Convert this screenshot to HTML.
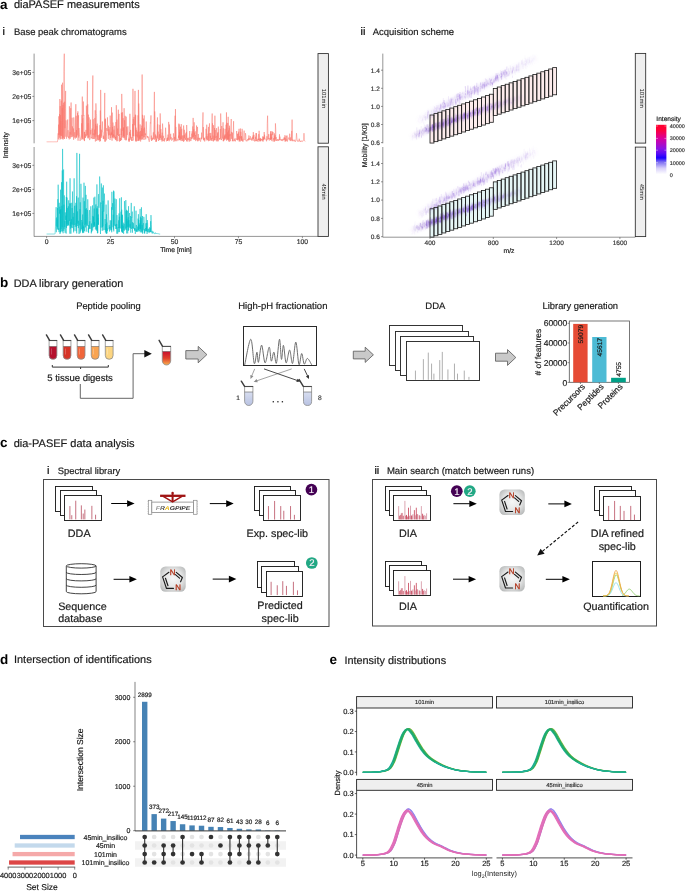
<!DOCTYPE html>
<html><head><meta charset="utf-8"><title>diaPASEF figure</title>
<style>html,body{margin:0;padding:0;background:#fff;}svg{display:block;}text{font-family:"Liberation Sans",Arial,sans-serif;text-rendering:geometricPrecision;}</style>
</head><body>
<svg width="685" height="891" viewBox="0 0 685 891">
<rect width="685" height="891" fill="#fff"/>
<text x="0" y="8.6" font-size="13.5" text-anchor="start" fill="#000" font-weight="bold">a</text>
<text x="13.9" y="8.3" font-size="11" text-anchor="start" fill="#1a1a1a" stroke="#1a1a1a" stroke-width="0.18">diaPASEF measurements</text>
<text x="2.5" y="34.7" font-size="11" text-anchor="start" fill="#000" stroke="#000" stroke-width="0.18">i</text>
<text x="13.9" y="34.6" font-size="9.45" text-anchor="start" fill="#1a1a1a" stroke="#1a1a1a" stroke-width="0.18">Base peak chromatograms</text>
<text x="360.5" y="34.6" font-size="11" text-anchor="start" fill="#000" stroke="#000" stroke-width="0.18">ii</text>
<text x="372.8" y="34.6" font-size="9.45" text-anchor="start" fill="#1a1a1a" stroke="#1a1a1a" stroke-width="0.18">Acquisition scheme</text>
<text x="0" y="287" font-size="13.5" text-anchor="start" fill="#000" font-weight="bold">b</text>
<text x="13.7" y="286.6" font-size="10.9" text-anchor="start" fill="#1a1a1a" stroke="#1a1a1a" stroke-width="0.18">DDA library generation</text>
<text x="0" y="447.2" font-size="13.5" text-anchor="start" fill="#000" font-weight="bold">c</text>
<text x="13.7" y="446.9" font-size="11" text-anchor="start" fill="#1a1a1a" stroke="#1a1a1a" stroke-width="0.18">dia-PASEF data analysis</text>
<text x="0" y="663.6" font-size="13.5" text-anchor="start" fill="#000" font-weight="bold">d</text>
<text x="14" y="663.2" font-size="10.92" text-anchor="start" fill="#1a1a1a" stroke="#1a1a1a" stroke-width="0.18">Intersection of identifications</text>
<text x="329.5" y="664.2" font-size="13.5" text-anchor="start" fill="#000" font-weight="bold">e</text>
<text x="344.4" y="663.9" font-size="10.9" text-anchor="start" fill="#1a1a1a" stroke="#1a1a1a" stroke-width="0.18">Intensity distributions</text>
<g>
<path d="M46.60,141.8 L46.94,141.8 L47.28,141.8 L47.62,141.8 L47.96,141.8 L48.30,141.8 L48.64,141.8 L48.98,141.8 L49.32,141.8 L49.66,141.8 L50.00,141.8 L50.34,141.8 L50.68,141.8 L51.02,141.8 L51.36,141.8 L51.70,141.8 L52.04,141.8 L52.38,141.8 L52.72,141.8 L53.06,141.8 L53.40,141.8 L53.74,141.8 L54.08,141.8 L54.42,141.8 L54.76,141.8 L55.10,141.8 L55.44,141.8 L55.78,141.8 L56.12,141.8 L56.46,141.8 L56.80,141.8 L57.14,141.8 L57.48,141.8 L57.82,139.3 L58.16,133.3 L58.33,139.4 L58.50,124.6 L58.67,135.1 L58.84,116.3 L59.18,127.4 L59.35,137.7 L59.52,114.0 L59.69,134.8 L59.86,99.0 L60.03,139.6 L60.20,106.1 L60.37,135.6 L60.54,115.1 L60.71,138.9 L60.88,120.9 L61.05,135.4 L61.22,100.6 L61.39,136.1 L61.56,84.7 L61.90,103.1 L62.07,139.1 L62.24,108.1 L62.41,138.5 L62.58,82.7 L62.75,137.2 L62.92,104.9 L63.09,139.6 L63.26,129.0 L63.60,102.7 L63.77,138.3 L63.94,71.4 L64.28,53.7 L64.45,139.0 L64.62,101.7 L64.96,128.2 L65.30,108.4 L65.64,90.9 L65.81,136.7 L65.98,120.3 L66.32,138.3 L66.49,138.7 L66.66,137.4 L67.00,131.8 L67.34,125.9 L67.68,119.5 L67.85,136.8 L68.02,130.2 L68.19,135.9 L68.36,137.4 L68.53,136.7 L68.70,137.3 L68.87,138.0 L69.04,136.8 L69.21,139.4 L69.38,106.3 L69.72,118.7 L69.89,137.0 L70.06,131.9 L70.23,138.7 L70.40,119.1 L70.74,108.2 L70.91,134.6 L71.08,102.5 L71.25,137.2 L71.42,136.6 L71.76,128.8 L72.10,117.7 L72.27,137.1 L72.44,126.4 L72.78,135.2 L73.12,136.0 L73.46,128.5 L73.63,139.8 L73.80,117.4 L74.14,127.3 L74.31,137.5 L74.48,134.2 L74.82,132.2 L74.99,135.6 L75.16,138.4 L75.33,138.7 L75.50,122.1 L75.84,104.2 L76.01,137.3 L76.18,115.8 L76.35,137.9 L76.52,130.0 L76.69,136.8 L76.86,133.3 L77.20,122.5 L77.54,113.1 L77.71,135.4 L77.88,111.3 L78.05,140.7 L78.22,125.1 L78.56,115.3 L78.73,137.6 L78.90,128.0 L79.24,132.5 L79.41,134.3 L79.58,136.2 L79.75,136.9 L79.92,139.5 L80.09,140.9 L80.26,140.0 L80.60,138.2 L80.94,137.2 L81.28,133.7 L81.62,123.3 L81.79,139.7 L81.96,114.9 L82.13,137.6 L82.30,96.6 L82.47,138.9 L82.64,119.2 L82.98,118.4 L83.15,139.4 L83.32,101.5 L83.66,115.9 L84.00,115.4 L84.17,140.4 L84.34,132.0 L84.51,141.1 L84.68,131.8 L85.02,137.2 L85.36,134.3 L85.53,138.0 L85.70,135.9 L86.04,129.9 L86.21,135.5 L86.38,105.7 L86.72,124.2 L86.89,136.4 L87.06,106.3 L87.40,81.1 L87.57,135.0 L87.74,104.3 L87.91,138.2 L88.08,123.2 L88.25,138.4 L88.42,114.6 L88.76,126.0 L88.93,137.1 L89.10,117.4 L89.44,131.2 L89.61,140.1 L89.78,139.6 L90.12,135.7 L90.46,119.6 L90.63,134.4 L90.80,130.0 L90.97,138.4 L91.14,137.8 L91.31,137.8 L91.48,137.1 L91.82,137.7 L92.16,128.5 L92.33,139.1 L92.50,98.9 L92.84,75.5 L93.01,135.1 L93.18,119.2 L93.52,126.8 L93.69,139.0 L93.86,133.4 L94.03,136.4 L94.20,138.6 L94.37,139.0 L94.54,129.6 L94.71,135.4 L94.88,117.9 L95.05,137.4 L95.22,110.3 L95.39,141.5 L95.56,124.1 L95.73,134.4 L95.90,103.4 L96.24,113.4 L96.58,115.5 L96.75,141.0 L96.92,125.7 L97.09,136.6 L97.26,123.6 L97.43,139.8 L97.60,135.3 L97.94,137.7 L98.28,139.1 L98.45,140.2 L98.62,135.3 L98.79,137.7 L98.96,138.4 L99.13,140.3 L99.30,134.7 L99.47,139.6 L99.64,134.4 L99.81,141.7 L99.98,125.2 L100.15,137.4 L100.32,110.5 L100.49,141.0 L100.66,89.9 L101.00,119.6 L101.17,138.0 L101.34,129.7 L101.51,135.2 L101.68,136.5 L102.02,130.7 L102.36,121.5 L102.70,132.1 L103.04,132.2 L103.21,138.7 L103.38,135.7 L103.55,138.3 L103.72,137.7 L103.89,139.2 L104.06,137.9 L104.23,138.1 L104.40,126.5 L104.74,92.9 L104.91,141.6 L105.08,119.3 L105.25,141.6 L105.42,118.6 L105.76,131.4 L106.10,133.8 L106.27,140.4 L106.44,136.7 L106.78,128.1 L107.12,131.0 L107.46,117.4 L107.80,132.2 L108.14,134.6 L108.31,138.9 L108.48,125.7 L108.65,135.4 L108.82,129.3 L109.16,135.2 L109.50,134.8 L109.84,127.1 L110.01,140.0 L110.18,115.6 L110.52,124.5 L110.69,138.1 L110.86,133.6 L111.03,135.6 L111.20,131.7 L111.37,134.6 L111.54,107.2 L111.71,134.6 L111.88,132.8 L112.05,140.7 L112.22,112.6 L112.39,137.2 L112.56,127.0 L112.73,137.7 L112.90,122.5 L113.24,130.3 L113.41,136.3 L113.58,134.3 L113.75,137.6 L113.92,129.7 L114.09,138.5 L114.26,125.8 L114.60,136.8 L114.94,135.5 L115.11,138.6 L115.28,136.8 L115.45,139.9 L115.62,137.1 L115.79,138.3 L115.96,122.0 L116.13,140.2 L116.30,105.2 L116.64,129.5 L116.81,141.3 L116.98,119.6 L117.32,132.0 L117.49,135.0 L117.66,128.5 L117.83,141.1 L118.00,120.5 L118.34,109.7 L118.51,136.0 L118.68,117.9 L119.02,113.9 L119.36,124.2 L119.53,141.6 L119.70,134.2 L120.04,138.1 L120.21,140.9 L120.38,137.9 L120.55,141.0 L120.72,140.8 L121.06,128.6 L121.23,135.1 L121.40,112.7 L121.57,140.0 L121.74,93.9 L122.08,111.7 L122.25,137.3 L122.42,112.3 L122.76,130.8 L123.10,118.2 L123.27,137.9 L123.44,128.0 L123.61,136.0 L123.78,127.1 L123.95,136.8 L124.12,108.2 L124.29,138.3 L124.46,120.2 L124.80,127.9 L124.97,139.9 L125.14,115.8 L125.48,125.1 L125.82,128.4 L125.99,140.5 L126.16,116.7 L126.33,139.8 L126.50,126.8 L126.84,127.7 L127.18,135.1 L127.52,132.2 L127.86,126.3 L128.20,136.5 L128.37,137.5 L128.54,137.5 L128.71,141.5 L128.88,138.7 L129.05,140.3 L129.22,138.6 L129.39,141.6 L129.56,131.9 L129.73,135.2 L129.90,113.8 L130.07,139.6 L130.24,133.8 L130.41,137.8 L130.58,129.9 L130.92,138.3 L131.09,139.7 L131.26,137.1 L131.43,137.6 L131.60,140.8 L131.94,139.4 L132.11,141.0 L132.28,136.7 L132.45,137.5 L132.62,124.0 L132.79,136.1 L132.96,88.8 L133.13,140.5 L133.30,118.9 L133.47,136.2 L133.64,128.0 L133.98,116.9 L134.32,125.3 L134.66,119.3 L135.00,90.9 L135.17,136.4 L135.34,114.6 L135.51,140.7 L135.68,115.2 L135.85,141.6 L136.02,127.6 L136.36,136.3 L136.53,141.3 L136.70,129.9 L136.87,136.3 L137.04,134.5 L137.38,137.4 L137.72,131.6 L137.89,141.1 L138.06,115.3 L138.23,140.6 L138.40,89.9 L138.57,140.5 L138.74,103.5 L139.08,121.6 L139.25,140.7 L139.42,135.3 L139.59,139.4 L139.76,131.7 L139.93,138.2 L140.10,124.4 L140.27,139.3 L140.44,130.9 L140.61,141.5 L140.78,136.3 L141.12,134.3 L141.29,139.7 L141.46,128.1 L141.63,136.2 L141.80,125.6 L141.97,139.3 L142.14,74.5 L142.31,135.9 L142.48,114.8 L142.65,139.4 L142.82,136.3 L143.16,128.6 L143.33,137.4 L143.50,118.6 L143.84,126.6 L144.01,140.0 L144.18,115.4 L144.35,137.2 L144.52,127.6 L144.86,132.3 L145.20,135.0 L145.54,133.5 L145.71,139.4 L145.88,132.1 L146.22,121.5 L146.56,129.4 L146.73,135.8 L146.90,137.4 L147.24,137.1 L147.58,136.0 L147.75,138.1 L147.92,138.0 L148.26,136.7 L148.60,139.3 L148.77,138.9 L148.94,141.0 L149.28,141.8 L149.62,139.2 L149.96,132.3 L150.30,122.6 L150.64,123.3 L150.98,115.4 L151.15,139.4 L151.32,135.6 L151.49,141.0 L151.66,139.1 L152.00,138.6 L152.17,139.3 L152.34,137.7 L152.51,140.2 L152.68,139.7 L153.02,137.1 L153.36,132.3 L153.53,139.2 L153.70,130.7 L154.04,120.5 L154.38,91.9 L154.55,139.7 L154.72,111.4 L155.06,124.7 L155.23,137.0 L155.40,134.5 L155.57,138.7 L155.74,136.8 L155.91,141.8 L156.08,135.7 L156.25,141.8 L156.42,139.0 L156.59,140.8 L156.76,137.1 L157.10,131.0 L157.44,117.4 L157.61,137.9 L157.78,124.3 L157.95,139.2 L158.12,131.6 L158.46,141.0 L158.80,138.1 L159.14,137.6 L159.48,134.3 L159.65,140.1 L159.82,124.8 L159.99,140.1 L160.16,113.4 L160.50,124.0 L160.67,138.2 L160.84,129.1 L161.01,137.7 L161.18,135.5 L161.52,139.3 L161.69,139.8 L161.86,137.8 L162.03,141.6 L162.20,132.6 L162.37,140.8 L162.54,123.6 L162.88,129.2 L163.05,138.3 L163.22,135.8 L163.56,141.1 L163.90,139.9 L164.24,139.3 L164.41,141.5 L164.58,138.1 L164.75,139.7 L164.92,139.7 L165.26,137.8 L165.60,127.7 L165.94,134.4 L166.11,137.5 L166.28,138.0 L166.45,141.3 L166.62,140.5 L166.96,139.5 L167.30,138.1 L167.47,140.8 L167.64,137.5 L167.81,141.0 L167.98,134.6 L168.15,139.2 L168.32,139.3 L168.49,139.8 L168.66,121.9 L169.00,129.0 L169.17,141.2 L169.34,124.5 L169.68,133.7 L170.02,139.8 L170.36,137.3 L170.70,133.8 L170.87,139.1 L171.04,136.9 L171.38,139.6 L171.72,140.7 L172.06,138.6 L172.40,138.6 L172.74,139.7 L173.08,138.1 L173.25,138.3 L173.42,133.3 L173.76,137.1 L173.93,141.8 L174.10,140.4 L174.44,136.9 L174.61,140.6 L174.78,127.2 L175.12,115.7 L175.29,139.5 L175.46,109.1 L175.63,141.2 L175.80,126.9 L176.14,136.7 L176.48,139.5 L176.82,141.2 L177.16,139.7 L177.50,138.9 L177.84,139.4 L178.01,140.3 L178.18,140.5 L178.52,135.6 L178.69,138.2 L178.86,123.6 L179.03,137.7 L179.20,124.4 L179.37,140.0 L179.54,132.1 L179.71,140.2 L179.88,129.6 L180.22,135.6 L180.39,140.0 L180.56,126.7 L180.73,138.8 L180.90,136.6 L181.07,141.1 L181.24,124.1 L181.41,139.2 L181.58,129.3 L181.92,128.8 L182.09,140.5 L182.26,135.5 L182.43,137.9 L182.60,140.9 L182.94,140.0 L183.28,135.4 L183.45,141.8 L183.62,125.5 L183.96,134.7 L184.13,141.2 L184.30,129.8 L184.47,138.0 L184.64,134.8 L184.98,139.2 L185.15,139.5 L185.32,137.9 L185.49,139.9 L185.66,133.4 L186.00,135.9 L186.17,137.8 L186.34,131.8 L186.51,141.2 L186.68,125.0 L187.02,135.9 L187.19,141.6 L187.36,137.9 L187.70,140.2 L188.04,139.1 L188.21,138.6 L188.38,137.8 L188.72,140.1 L189.06,139.4 L189.23,141.7 L189.40,136.0 L189.74,131.0 L189.91,140.5 L190.08,137.0 L190.42,139.9 L190.76,141.0 L191.10,140.9 L191.44,137.6 L191.61,139.1 L191.78,133.6 L191.95,138.0 L192.12,131.3 L192.46,137.3 L192.80,126.4 L192.97,138.8 L193.14,117.9 L193.48,136.9 L193.82,129.2 L193.99,139.7 L194.16,122.3 L194.33,139.6 L194.50,132.7 L194.84,135.6 L195.18,131.3 L195.35,139.5 L195.52,135.0 L195.69,141.1 L195.86,139.2 L196.20,137.2 L196.54,125.5 L196.71,140.1 L196.88,132.6 L197.22,131.0 L197.56,126.9 L197.73,141.3 L197.90,137.5 L198.07,141.1 L198.24,134.0 L198.58,137.8 L198.75,139.2 L198.92,138.3 L199.09,140.3 L199.26,140.3 L199.60,137.9 L199.77,137.9 L199.94,139.1 L200.28,141.0 L200.62,141.6 L200.96,138.6 L201.13,139.0 L201.30,137.3 L201.47,139.3 L201.64,132.6 L201.98,137.6 L202.32,134.5 L202.66,122.1 L203.00,112.4 L203.17,139.2 L203.34,127.1 L203.51,140.2 L203.68,139.3 L203.85,139.6 L204.02,137.5 L204.19,140.4 L204.36,138.0 L204.70,141.5 L205.04,140.0 L205.38,138.9 L205.72,135.6 L206.06,128.8 L206.40,133.2 L206.57,139.2 L206.74,124.7 L206.91,140.5 L207.08,136.2 L207.25,138.6 L207.42,139.9 L207.76,137.4 L208.10,133.6 L208.27,140.3 L208.44,126.9 L208.61,141.2 L208.78,131.8 L209.12,130.9 L209.46,123.4 L209.63,140.8 L209.80,133.1 L210.14,137.8 L210.31,138.3 L210.48,135.9 L210.65,139.9 L210.82,132.9 L210.99,140.6 L211.16,139.6 L211.50,138.0 L211.67,140.7 L211.84,128.8 L212.18,113.5 L212.35,139.2 L212.52,123.3 L212.86,131.5 L213.03,141.0 L213.20,135.6 L213.37,141.5 L213.54,125.2 L213.88,129.1 L214.22,135.8 L214.39,140.0 L214.56,128.0 L214.73,140.5 L214.90,115.7 L215.07,140.1 L215.24,129.9 L215.41,137.9 L215.58,138.0 L215.75,138.1 L215.92,137.6 L216.26,135.9 L216.43,141.3 L216.60,128.1 L216.94,137.7 L217.11,139.6 L217.28,140.0 L217.62,133.2 L217.79,141.4 L217.96,132.0 L218.13,141.2 L218.30,126.6 L218.64,137.7 L218.81,138.2 L218.98,138.5 L219.32,139.5 L219.66,138.0 L220.00,139.6 L220.34,129.0 L220.51,138.7 L220.68,113.5 L221.02,127.0 L221.19,139.7 L221.36,139.2 L221.53,140.1 L221.70,126.0 L222.04,131.4 L222.38,134.2 L222.55,138.6 L222.72,135.0 L223.06,122.3 L223.23,141.2 L223.40,128.3 L223.57,141.2 L223.74,137.5 L224.08,139.2 L224.25,140.3 L224.42,135.8 L224.59,139.5 L224.76,134.6 L224.93,138.7 L225.10,128.8 L225.27,138.4 L225.44,135.5 L225.78,134.4 L225.95,139.6 L226.12,124.7 L226.29,138.3 L226.46,112.4 L226.63,140.7 L226.80,122.7 L227.14,132.7 L227.31,139.2 L227.48,132.2 L227.65,139.7 L227.82,123.0 L227.99,140.0 L228.16,116.8 L228.33,139.1 L228.50,130.4 L228.67,141.3 L228.84,134.5 L229.01,139.7 L229.18,127.9 L229.35,141.8 L229.52,125.7 L229.86,136.3 L230.20,133.9 L230.37,141.2 L230.54,138.1 L230.88,130.3 L231.22,119.0 L231.39,138.9 L231.56,131.9 L231.90,136.2 L232.24,137.7 L232.41,141.3 L232.58,132.6 L232.75,140.9 L232.92,135.2 L233.26,132.3 L233.60,121.2 L233.77,141.3 L233.94,139.8 L234.28,139.9 L234.62,138.6 L234.79,140.9 L234.96,140.2 L235.30,141.4 L235.64,140.0 L235.98,138.3 L236.32,139.9 L236.66,131.0 L237.00,135.5 L237.34,137.5 L237.51,140.1 L237.68,134.0 L237.85,140.4 L238.02,133.4 L238.19,139.2 L238.36,135.4 L238.70,131.7 L238.87,139.7 L239.04,128.8 L239.21,141.6 L239.38,135.9 L239.55,140.5 L239.72,140.7 L240.06,137.3 L240.23,141.5 L240.40,128.5 L240.57,138.3 L240.74,131.8 L241.08,131.8 L241.25,140.6 L241.42,136.0 L241.59,140.7 L241.76,136.7 L241.93,139.6 L242.10,128.8 L242.44,132.8 L242.61,141.2 L242.78,139.2 L242.95,141.7 L243.12,140.1 L243.46,139.8 L243.80,137.1 L244.14,130.6 L244.31,139.2 L244.48,139.6 L244.82,140.0 L245.16,140.1 L245.50,133.2 L245.84,135.8 L246.01,141.1 L246.18,140.8 L246.52,140.6 L246.86,141.4 L247.20,140.3 L247.54,139.3 L247.71,139.2 L247.88,140.6 L248.22,138.7 L248.56,138.4 L248.73,140.2 L248.90,135.4 L249.07,140.1 L249.24,138.3 L249.58,138.5 L249.75,138.9 L249.92,139.4 L250.26,136.2 L250.60,137.8 L250.94,140.0 L251.28,138.4 L251.62,140.6 L251.96,140.2 L252.30,137.2 L252.47,138.4 L252.64,139.4 L252.81,139.3 L252.98,135.5 L253.15,140.8 L253.32,132.1 L253.49,138.9 L253.66,136.6 L254.00,134.8 L254.17,138.7 L254.34,139.2 L254.68,139.4 L254.85,141.6 L255.02,139.5 L255.19,140.9 L255.36,136.7 L255.53,138.6 L255.70,138.4 L255.87,139.0 L256.04,133.1 L256.21,141.0 L256.38,133.2 L256.72,135.9 L256.89,141.0 L257.06,139.5 L257.23,141.6 L257.40,140.4 L257.74,139.9 L258.08,138.6 L258.25,140.0 L258.42,139.4 L258.59,140.0 L258.76,134.1 L258.93,141.7 L259.10,130.8 L259.44,137.9 L259.61,140.2 L259.78,138.7 L259.95,140.9 L260.12,139.5 L260.29,140.9 L260.46,137.9 L260.63,141.4 L260.80,139.9 L261.14,138.9 L261.31,140.2 L261.48,139.3 L261.65,138.9 L261.82,139.9 L262.16,140.8 L262.50,139.5 L262.67,140.4 L262.84,136.4 L263.01,141.7 L263.18,136.6 L263.35,139.2 L263.52,138.4 L263.69,140.2 L263.86,137.1 L264.03,139.4 L264.20,132.0 L264.37,139.2 L264.54,134.7 L264.88,138.3 L265.22,138.7 L265.56,138.9 L265.90,139.0 L266.07,140.1 L266.24,139.9 L266.58,141.3 L266.92,136.3 L267.09,140.1 L267.26,123.5 L267.60,115.7 L267.94,135.8 L268.11,139.4 L268.28,137.1 L268.62,134.2 L268.79,138.9 L268.96,138.1 L269.13,140.3 L269.30,139.8 L269.64,140.3 L269.98,137.9 L270.15,138.8 L270.32,133.9 L270.49,140.0 L270.66,131.5 L270.83,139.4 L271.00,131.0 L271.17,139.5 L271.34,133.8 L271.51,139.1 L271.68,136.9 L271.85,141.1 L272.02,135.1 L272.36,131.5 L272.70,135.1 L273.04,132.1 L273.21,141.6 L273.38,138.3 L273.72,139.6 L274.06,138.6 L274.23,138.9 L274.40,133.4 L274.57,141.7 L274.74,136.4 L274.91,140.8 L275.08,134.9 L275.25,139.1 L275.42,123.4 L275.76,129.2 L275.93,140.5 L276.10,137.1 L276.27,139.8 L276.44,141.0 L276.78,140.3 L277.12,139.7 L277.46,139.1 L277.63,140.8 L277.80,140.7 L278.14,139.7 L278.48,140.6 L278.82,139.3 L278.99,140.4 L279.16,140.0 L279.50,134.3 L279.67,140.1 L279.84,136.6 L280.18,138.9 L280.52,140.0 L280.86,140.4 L281.20,139.1 L281.54,140.9 L281.88,140.5 L282.22,139.1 L282.56,139.0 L282.73,141.1 L282.90,140.6 L283.24,139.9 L283.58,139.4 L283.75,140.0 L283.92,137.6 L284.26,140.1 L284.60,137.5 L284.77,139.0 L284.94,135.2 L285.11,141.7 L285.28,138.3 L285.45,141.2 L285.62,138.7 L285.96,135.9 L286.30,136.2 L286.47,141.2 L286.64,139.3 L286.81,139.7 L286.98,135.4 L287.32,138.0 L287.49,141.5 L287.66,140.3 L288.00,139.7 L288.34,139.1 L288.68,137.6 L289.02,137.9 L289.36,139.4 L289.53,139.8 L289.70,133.7 L290.04,138.8 L290.21,141.1 L290.38,137.4 L290.55,140.1 L290.72,140.2 L291.06,141.0 L291.40,140.9 L291.74,130.9 L291.91,140.1 L292.08,119.6 L292.25,139.3 L292.42,139.1 L292.59,141.2 L292.76,139.9 L293.10,140.6 L293.44,139.8 L293.78,140.5 L294.12,141.4 L294.46,140.0 L294.80,139.7 L295.14,141.3 L295.48,141.8 L295.82,140.7 L296.16,138.7 L296.50,133.2 L296.84,137.2 L297.18,140.9 L297.52,140.6 L297.86,141.7 L298.20,141.1 L298.54,140.7 L298.88,141.4 L299.22,138.7 L299.56,140.8 L299.90,140.5 L300.24,141.7 L300.58,140.9 L300.92,141.7 L301.26,140.7 L301.60,140.9 L301.94,141.5 L302.28,141.6 L302.62,140.7 L302.96,141.1 L303.30,140.7 L303.64,140.2 L303.98,133.2 L304.32,139.4 L304.66,140.9 L305.00,141.2 L305.34,141.6" fill="none" stroke="#F8766D" stroke-width="0.5" stroke-linejoin="round"/>
<path d="M46.60,234.0 L46.94,234.0 L47.28,234.0 L47.62,234.0 L47.96,234.0 L48.30,234.0 L48.64,234.0 L48.98,234.0 L49.32,234.0 L49.66,234.0 L50.00,234.0 L50.34,234.0 L50.68,234.0 L51.02,234.0 L51.36,234.0 L51.70,234.0 L52.04,234.0 L52.38,234.0 L52.72,234.0 L53.06,234.0 L53.40,234.0 L53.74,234.0 L54.08,234.0 L54.42,234.0 L54.76,234.0 L55.10,233.4 L55.44,226.4 L55.78,217.4 L56.12,207.2 L56.29,232.2 L56.46,217.5 L56.80,226.5 L57.14,219.6 L57.31,229.4 L57.48,208.1 L57.65,227.5 L57.82,199.2 L57.99,229.5 L58.16,184.7 L58.50,211.7 L58.67,230.0 L58.84,228.2 L59.01,232.1 L59.18,202.8 L59.52,213.6 L59.86,206.7 L60.03,234.0 L60.20,210.1 L60.37,232.3 L60.54,189.7 L60.71,232.3 L60.88,209.0 L61.05,229.1 L61.22,209.4 L61.56,182.2 L61.73,231.3 L61.90,205.7 L62.07,227.2 L62.24,170.4 L62.41,231.5 L62.58,148.9 L62.92,201.0 L63.09,233.3 L63.26,208.6 L63.60,169.5 L63.77,230.9 L63.94,204.7 L64.11,229.2 L64.28,195.4 L64.62,211.6 L64.79,227.1 L64.96,220.9 L65.13,232.8 L65.30,212.4 L65.64,219.9 L65.98,215.6 L66.15,233.6 L66.32,197.0 L66.49,227.9 L66.66,181.7 L66.83,223.9 L67.00,197.6 L67.17,226.1 L67.34,207.9 L67.68,223.9 L67.85,225.3 L68.02,220.5 L68.19,225.7 L68.36,206.3 L68.53,224.8 L68.70,200.3 L69.04,216.5 L69.38,221.0 L69.72,203.3 L69.89,233.7 L70.06,178.3 L70.23,225.9 L70.40,203.4 L70.57,228.6 L70.74,222.1 L70.91,233.7 L71.08,222.4 L71.42,219.2 L71.59,227.6 L71.76,202.8 L71.93,224.3 L72.10,208.0 L72.27,228.1 L72.44,191.5 L72.78,210.6 L72.95,224.9 L73.12,216.8 L73.46,223.1 L73.63,232.4 L73.80,212.9 L73.97,230.8 L74.14,178.3 L74.31,225.0 L74.48,205.8 L74.82,213.7 L75.16,226.8 L75.50,223.7 L75.67,224.1 L75.84,202.8 L76.01,231.2 L76.18,205.5 L76.35,226.7 L76.52,196.2 L76.69,233.4 L76.86,152.9 L77.20,215.1 L77.37,226.0 L77.54,211.4 L77.71,223.6 L77.88,217.6 L78.22,197.6 L78.39,228.1 L78.56,220.8 L78.90,229.0 L79.07,233.9 L79.24,183.7 L79.58,153.8 L79.75,225.4 L79.92,209.2 L80.09,233.2 L80.26,202.3 L80.43,231.5 L80.60,208.9 L80.94,183.8 L81.28,199.3 L81.45,229.2 L81.62,220.0 L81.96,221.0 L82.13,230.6 L82.30,222.4 L82.47,232.2 L82.64,214.5 L82.81,233.2 L82.98,197.6 L83.15,232.8 L83.32,227.1 L83.49,228.2 L83.66,225.4 L83.83,232.5 L84.00,182.7 L84.17,224.6 L84.34,201.2 L84.51,231.1 L84.68,224.1 L84.85,224.6 L85.02,210.1 L85.36,185.9 L85.53,227.4 L85.70,208.9 L85.87,224.2 L86.04,194.8 L86.21,231.7 L86.38,208.2 L86.55,225.6 L86.72,225.2 L87.06,222.6 L87.40,209.9 L87.57,225.7 L87.74,199.3 L88.08,216.7 L88.25,232.0 L88.42,228.2 L88.59,233.1 L88.76,225.0 L88.93,229.1 L89.10,217.0 L89.44,210.1 L89.61,228.4 L89.78,221.3 L90.12,229.0 L90.46,220.7 L90.80,206.3 L91.14,217.5 L91.31,233.4 L91.48,223.5 L91.65,232.0 L91.82,228.4 L92.16,219.9 L92.50,205.4 L92.67,230.6 L92.84,215.9 L93.01,227.6 L93.18,226.9 L93.52,216.7 L93.69,226.9 L93.86,197.6 L94.03,224.8 L94.20,208.5 L94.37,226.2 L94.54,222.1 L94.71,226.7 L94.88,196.7 L95.22,220.2 L95.39,229.5 L95.56,206.5 L95.90,204.4 L96.24,216.1 L96.41,230.4 L96.58,208.4 L96.75,228.9 L96.92,184.4 L97.09,230.8 L97.26,206.3 L97.43,233.3 L97.60,208.5 L97.77,233.1 L97.94,217.9 L98.11,224.3 L98.28,214.4 L98.45,224.9 L98.62,194.1 L98.96,207.8 L99.30,195.4 L99.64,176.5 L99.98,183.7 L100.32,225.7 L100.49,234.0 L100.66,202.4 L101.00,210.6 L101.17,227.6 L101.34,183.5 L101.68,204.1 L102.02,204.4 L102.19,230.8 L102.36,187.6 L102.53,227.3 L102.70,211.4 L102.87,226.3 L103.04,200.8 L103.21,230.3 L103.38,185.3 L103.72,211.7 L104.06,204.9 L104.40,193.6 L104.74,204.6 L104.91,230.0 L105.08,219.0 L105.25,229.1 L105.42,232.5 L105.76,224.1 L105.93,230.5 L106.10,204.6 L106.27,233.8 L106.44,214.3 L106.61,233.4 L106.78,222.5 L106.95,233.4 L107.12,228.2 L107.29,231.0 L107.46,228.4 L107.80,216.6 L108.14,200.4 L108.48,212.9 L108.82,223.8 L108.99,229.3 L109.16,225.3 L109.33,225.2 L109.50,231.5 L109.84,226.9 L110.01,228.6 L110.18,220.3 L110.52,226.9 L110.86,230.3 L111.20,220.4 L111.37,230.3 L111.54,207.2 L111.71,232.3 L111.88,191.8 L112.22,209.8 L112.56,203.2 L112.90,225.9 L113.07,227.3 L113.24,214.6 L113.41,229.6 L113.58,190.6 L113.75,231.4 L113.92,191.4 L114.26,203.2 L114.43,225.7 L114.60,208.0 L114.94,198.5 L115.28,206.3 L115.45,226.2 L115.62,224.6 L115.79,229.0 L115.96,209.8 L116.30,199.2 L116.47,228.8 L116.64,223.9 L116.81,233.7 L116.98,215.1 L117.32,223.8 L117.49,226.2 L117.66,233.7 L118.00,227.5 L118.17,227.3 L118.34,232.2 L118.68,220.3 L118.85,228.0 L119.02,213.4 L119.19,228.2 L119.36,216.7 L119.53,232.1 L119.70,198.3 L119.87,225.9 L120.04,228.3 L120.38,228.1 L120.55,227.6 L120.72,218.6 L121.06,211.6 L121.23,228.9 L121.40,197.3 L121.57,231.2 L121.74,209.7 L121.91,232.2 L122.08,214.5 L122.25,232.2 L122.42,215.1 L122.59,232.9 L122.76,224.8 L122.93,227.8 L123.10,226.8 L123.27,226.3 L123.44,227.2 L123.61,233.8 L123.78,222.7 L123.95,229.9 L124.12,224.0 L124.29,230.8 L124.46,201.1 L124.80,209.7 L125.14,216.3 L125.31,227.1 L125.48,226.9 L125.65,229.5 L125.82,200.1 L125.99,228.1 L126.16,211.1 L126.33,230.1 L126.50,209.8 L126.67,233.4 L126.84,218.8 L127.01,227.4 L127.18,225.8 L127.52,210.7 L127.69,233.4 L127.86,220.7 L128.03,226.8 L128.20,217.2 L128.37,230.8 L128.54,206.2 L128.71,230.2 L128.88,220.1 L129.05,226.6 L129.22,215.1 L129.56,213.1 L129.73,227.7 L129.90,224.6 L130.24,223.8 L130.41,228.3 L130.58,216.0 L130.75,232.7 L130.92,224.0 L131.26,202.9 L131.43,229.0 L131.60,217.2 L131.94,217.7 L132.28,211.6 L132.45,232.7 L132.62,222.1 L132.79,227.7 L132.96,226.8 L133.13,228.5 L133.30,223.1 L133.64,227.0 L133.81,228.7 L133.98,221.8 L134.32,206.3 L134.49,230.2 L134.66,228.1 L134.83,230.9 L135.00,228.3 L135.17,230.3 L135.34,233.9 L135.68,223.9 L136.02,210.7 L136.19,231.1 L136.36,225.0 L136.53,231.9 L136.70,229.5 L137.04,232.1 L137.38,231.7 L137.72,226.6 L137.89,230.5 L138.06,218.6 L138.23,231.5 L138.40,214.2 L138.57,230.0 L138.74,220.0 L138.91,229.5 L139.08,225.1 L139.25,230.6 L139.42,230.4 L139.59,231.2 L139.76,223.4 L139.93,228.9 L140.10,208.9 L140.27,232.4 L140.44,216.7 L140.61,228.8 L140.78,220.4 L140.95,230.3 L141.12,218.1 L141.29,231.8 L141.46,207.3 L141.80,224.6 L141.97,232.8 L142.14,224.9 L142.31,231.7 L142.48,216.0 L142.65,233.7 L142.82,226.6 L143.16,223.8 L143.50,223.1 L143.67,230.4 L143.84,216.8 L144.18,223.0 L144.35,233.1 L144.52,229.2 L144.69,233.7 L144.86,230.9 L145.03,230.8 L145.20,228.8 L145.54,228.0 L145.71,231.0 L145.88,223.3 L146.05,231.7 L146.22,214.2 L146.39,230.9 L146.56,226.5 L146.73,230.6 L146.90,222.9 L147.07,234.0 L147.24,220.0 L147.58,223.3 L147.75,232.2 L147.92,229.3 L148.09,231.9 L148.26,230.8 L148.43,230.7 L148.60,228.7 L148.94,231.6 L149.11,233.1 L149.28,231.0 L149.45,231.5 L149.62,227.3 L149.79,231.9 L149.96,229.9 L150.30,228.3 L150.47,232.2 L150.64,221.2 L150.81,231.9 L150.98,215.1 L151.32,224.8 L151.66,231.3 L151.83,232.5 L152.00,230.8 L152.17,233.5 L152.34,232.6 L152.68,232.5 L153.02,231.5 L153.19,233.4 L153.36,232.7 L153.70,232.5 L154.04,232.9 L154.38,233.1 L154.72,233.8 L155.06,233.6 L155.40,232.6 L155.74,233.7 L156.08,233.7 L156.42,233.5 L156.76,233.5 L157.10,233.4 L157.44,233.8 L157.78,233.5 L158.12,234.0 L158.46,233.8 L158.80,233.9 L159.14,234.0 L159.48,234.0 L159.82,234.0 L160.16,234.0" fill="none" stroke="#00BFC4" stroke-width="0.5" stroke-linejoin="round"/>
</g>
<line x1="34.1" y1="53.6" x2="34.1" y2="143.3" stroke="#4d4d4d" stroke-width="0.6"/>
<line x1="34.1" y1="147" x2="34.1" y2="236.6" stroke="#4d4d4d" stroke-width="0.6"/>
<line x1="34.1" y1="236.4" x2="318" y2="236.4" stroke="#4d4d4d" stroke-width="0.6"/>
<line x1="32.300000000000004" y1="72.4" x2="34.1" y2="72.4" stroke="#4d4d4d" stroke-width="0.6"/>
<text x="31.3" y="74.80000000000001" font-size="6.8" text-anchor="end" fill="#333" stroke="#333" stroke-width="0.18">3e+05</text>
<line x1="32.300000000000004" y1="96.4" x2="34.1" y2="96.4" stroke="#4d4d4d" stroke-width="0.6"/>
<text x="31.3" y="98.80000000000001" font-size="6.8" text-anchor="end" fill="#333" stroke="#333" stroke-width="0.18">2e+05</text>
<line x1="32.300000000000004" y1="120.6" x2="34.1" y2="120.6" stroke="#4d4d4d" stroke-width="0.6"/>
<text x="31.3" y="123.0" font-size="6.8" text-anchor="end" fill="#333" stroke="#333" stroke-width="0.18">1e+05</text>
<line x1="32.300000000000004" y1="165.3" x2="34.1" y2="165.3" stroke="#4d4d4d" stroke-width="0.6"/>
<text x="31.3" y="167.70000000000002" font-size="6.8" text-anchor="end" fill="#333" stroke="#333" stroke-width="0.18">3e+05</text>
<line x1="32.300000000000004" y1="189.4" x2="34.1" y2="189.4" stroke="#4d4d4d" stroke-width="0.6"/>
<text x="31.3" y="191.8" font-size="6.8" text-anchor="end" fill="#333" stroke="#333" stroke-width="0.18">2e+05</text>
<line x1="32.300000000000004" y1="213.4" x2="34.1" y2="213.4" stroke="#4d4d4d" stroke-width="0.6"/>
<text x="31.3" y="215.8" font-size="6.8" text-anchor="end" fill="#333" stroke="#333" stroke-width="0.18">1e+05</text>
<line x1="46.6" y1="236.4" x2="46.6" y2="238.2" stroke="#4d4d4d" stroke-width="0.6"/>
<text x="46.6" y="244.4" font-size="6.8" text-anchor="middle" fill="#333" stroke="#333" stroke-width="0.18">0</text>
<line x1="110.55" y1="236.4" x2="110.55" y2="238.2" stroke="#4d4d4d" stroke-width="0.6"/>
<text x="110.55" y="244.4" font-size="6.8" text-anchor="middle" fill="#333" stroke="#333" stroke-width="0.18">25</text>
<line x1="174.5" y1="236.4" x2="174.5" y2="238.2" stroke="#4d4d4d" stroke-width="0.6"/>
<text x="174.5" y="244.4" font-size="6.8" text-anchor="middle" fill="#333" stroke="#333" stroke-width="0.18">50</text>
<line x1="238.45" y1="236.4" x2="238.45" y2="238.2" stroke="#4d4d4d" stroke-width="0.6"/>
<text x="238.45" y="244.4" font-size="6.8" text-anchor="middle" fill="#333" stroke="#333" stroke-width="0.18">75</text>
<line x1="302.4" y1="236.4" x2="302.4" y2="238.2" stroke="#4d4d4d" stroke-width="0.6"/>
<text x="302.4" y="244.4" font-size="6.8" text-anchor="middle" fill="#333" stroke="#333" stroke-width="0.18">100</text>
<text x="175.9" y="252.3" font-size="6.8" text-anchor="middle" fill="#1a1a1a" stroke="#1a1a1a" stroke-width="0.18">Time [min]</text>
<text x="7.9" y="145.2" font-size="7" text-anchor="middle" fill="#1a1a1a" stroke="#1a1a1a" stroke-width="0.18" transform="rotate(-90 7.9 145.2)">Intensity</text>
<rect x="318" y="53.6" width="10.399999999999977" height="89.6" fill="#efefef" stroke="#2a2a2a" stroke-width="0.85"/>
<text x="323.2" y="98.39999999999999" font-size="5.9" text-anchor="middle" dominant-baseline="central" fill="#1a1a1a" transform="rotate(90 323.2 98.39999999999999)">101min</text>
<rect x="318" y="146.8" width="10.399999999999977" height="89.6" fill="#efefef" stroke="#2a2a2a" stroke-width="0.85"/>
<text x="323.2" y="191.60000000000002" font-size="5.9" text-anchor="middle" dominant-baseline="central" fill="#1a1a1a" transform="rotate(90 323.2 191.60000000000002)">45min</text>
<defs><filter id="blur1" x="-20%" y="-50%" width="140%" height="200%"><feGaussianBlur stdDeviation="1.8"/></filter><filter id="blur2" x="-20%" y="-50%" width="140%" height="200%"><feGaussianBlur stdDeviation="0.7"/></filter><linearGradient id="cbar" x1="0" y1="1" x2="0" y2="0"><stop offset="0" stop-color="#ffffff"/><stop offset="0.12" stop-color="#d8d0fa"/><stop offset="0.25" stop-color="#7a6af2"/><stop offset="0.33" stop-color="#1a00ff"/><stop offset="0.42" stop-color="#5a0cf4"/><stop offset="0.52" stop-color="#8c14e4"/><stop offset="0.72" stop-color="#d8009f"/><stop offset="0.9" stop-color="#ff0038"/><stop offset="1" stop-color="#ff0030"/></linearGradient></defs>
<g>
<rect x="430.00" y="115.00" width="3.96" height="28.05" fill="#fcecec"/>
<rect x="433.96" y="113.61" width="3.96" height="28.05" fill="#fcecec"/>
<rect x="437.91" y="112.23" width="3.96" height="28.06" fill="#fcecec"/>
<rect x="441.87" y="110.84" width="3.96" height="28.06" fill="#fcecec"/>
<rect x="445.82" y="109.46" width="3.96" height="28.05" fill="#fcecec"/>
<rect x="449.78" y="108.07" width="3.96" height="28.05" fill="#fcecec"/>
<rect x="453.74" y="106.69" width="3.96" height="28.05" fill="#fcecec"/>
<rect x="457.69" y="105.30" width="3.96" height="28.06" fill="#fcecec"/>
<rect x="461.65" y="103.92" width="3.96" height="28.06" fill="#fcecec"/>
<rect x="465.61" y="102.54" width="3.96" height="28.06" fill="#fcecec"/>
<rect x="469.56" y="101.15" width="3.96" height="28.06" fill="#fcecec"/>
<rect x="473.52" y="99.77" width="3.96" height="28.05" fill="#fcecec"/>
<rect x="477.48" y="98.38" width="3.96" height="28.06" fill="#fcecec"/>
<rect x="481.43" y="97.00" width="3.96" height="28.05" fill="#fcecec"/>
<rect x="485.39" y="95.61" width="3.96" height="28.06" fill="#fcecec"/>
<rect x="489.34" y="94.23" width="3.96" height="28.06" fill="#fcecec"/>
<rect x="493.30" y="88.39" width="3.96" height="27.15" fill="#fcecec"/>
<rect x="497.26" y="87.01" width="3.96" height="27.15" fill="#fcecec"/>
<rect x="501.21" y="85.62" width="3.96" height="27.15" fill="#fcecec"/>
<rect x="505.17" y="84.24" width="3.96" height="27.15" fill="#fcecec"/>
<rect x="509.12" y="82.85" width="3.96" height="27.15" fill="#fcecec"/>
<rect x="513.08" y="81.47" width="3.96" height="27.15" fill="#fcecec"/>
<rect x="517.04" y="80.08" width="3.96" height="27.15" fill="#fcecec"/>
<rect x="520.99" y="78.70" width="3.96" height="27.15" fill="#fcecec"/>
<rect x="524.95" y="77.31" width="3.96" height="27.15" fill="#fcecec"/>
<rect x="528.91" y="75.93" width="3.96" height="27.15" fill="#fcecec"/>
<rect x="532.86" y="74.54" width="3.96" height="27.15" fill="#fcecec"/>
<rect x="536.82" y="73.16" width="3.96" height="27.15" fill="#fcecec"/>
<rect x="540.77" y="71.77" width="3.96" height="27.15" fill="#fcecec"/>
<rect x="544.73" y="70.39" width="3.96" height="27.15" fill="#fcecec"/>
<rect x="548.69" y="69.01" width="3.96" height="27.15" fill="#fcecec"/>
<rect x="552.64" y="67.62" width="3.96" height="27.15" fill="#fcecec"/>
<g filter="url(#blur1)">
<line x1="411.0" y1="137.2" x2="414.2" y2="135.8" stroke="#8050cc" stroke-width="5.5" opacity="0.03"/>
<line x1="414.2" y1="135.8" x2="417.3" y2="134.5" stroke="#8050cc" stroke-width="5.5" opacity="0.08"/>
<line x1="417.3" y1="134.5" x2="420.5" y2="133.1" stroke="#8050cc" stroke-width="5.5" opacity="0.13"/>
<line x1="420.5" y1="133.1" x2="423.7" y2="131.7" stroke="#8050cc" stroke-width="5.5" opacity="0.18"/>
<line x1="423.7" y1="131.7" x2="426.8" y2="130.4" stroke="#8050cc" stroke-width="5.5" opacity="0.22"/>
<line x1="426.8" y1="130.4" x2="430.0" y2="129.0" stroke="#8050cc" stroke-width="5.5" opacity="0.26"/>
<line x1="430.0" y1="129.0" x2="433.2" y2="127.8" stroke="#8050cc" stroke-width="5.5" opacity="0.30"/>
<line x1="433.2" y1="127.8" x2="436.3" y2="126.7" stroke="#8050cc" stroke-width="5.5" opacity="0.32"/>
<line x1="436.3" y1="126.7" x2="439.5" y2="125.5" stroke="#8050cc" stroke-width="5.5" opacity="0.32"/>
<line x1="439.5" y1="125.5" x2="442.7" y2="124.3" stroke="#8050cc" stroke-width="5.5" opacity="0.32"/>
<line x1="442.7" y1="124.3" x2="445.8" y2="123.1" stroke="#8050cc" stroke-width="5.5" opacity="0.32"/>
<line x1="445.8" y1="123.1" x2="449.0" y2="122.0" stroke="#8050cc" stroke-width="5.5" opacity="0.32"/>
<line x1="449.0" y1="122.0" x2="452.2" y2="120.8" stroke="#8050cc" stroke-width="5.5" opacity="0.32"/>
<line x1="452.2" y1="120.8" x2="455.3" y2="119.6" stroke="#8050cc" stroke-width="5.5" opacity="0.32"/>
<line x1="455.3" y1="119.6" x2="458.5" y2="118.4" stroke="#8050cc" stroke-width="5.5" opacity="0.32"/>
<line x1="458.5" y1="118.4" x2="461.6" y2="117.3" stroke="#8050cc" stroke-width="5.5" opacity="0.31"/>
<line x1="461.6" y1="117.3" x2="464.8" y2="116.2" stroke="#8050cc" stroke-width="5.5" opacity="0.30"/>
<line x1="464.8" y1="116.2" x2="468.0" y2="115.0" stroke="#8050cc" stroke-width="5.5" opacity="0.29"/>
<line x1="468.0" y1="115.0" x2="471.1" y2="113.9" stroke="#8050cc" stroke-width="5.5" opacity="0.29"/>
<line x1="471.1" y1="113.9" x2="474.3" y2="112.8" stroke="#8050cc" stroke-width="5.5" opacity="0.28"/>
<line x1="474.3" y1="112.8" x2="477.5" y2="111.7" stroke="#8050cc" stroke-width="5.5" opacity="0.27"/>
<line x1="477.5" y1="111.7" x2="480.6" y2="110.6" stroke="#8050cc" stroke-width="5.5" opacity="0.26"/>
<line x1="480.6" y1="110.6" x2="483.8" y2="109.5" stroke="#8050cc" stroke-width="5.5" opacity="0.24"/>
<line x1="483.8" y1="109.5" x2="487.0" y2="108.4" stroke="#8050cc" stroke-width="5.5" opacity="0.22"/>
<line x1="487.0" y1="108.4" x2="490.1" y2="107.3" stroke="#8050cc" stroke-width="5.5" opacity="0.21"/>
<line x1="490.1" y1="107.3" x2="493.3" y2="106.3" stroke="#8050cc" stroke-width="5.5" opacity="0.19"/>
<line x1="493.3" y1="106.3" x2="496.5" y2="105.4" stroke="#8050cc" stroke-width="5.5" opacity="0.17"/>
<line x1="496.5" y1="105.4" x2="499.6" y2="104.4" stroke="#8050cc" stroke-width="5.5" opacity="0.15"/>
<line x1="499.6" y1="104.4" x2="502.8" y2="103.5" stroke="#8050cc" stroke-width="5.5" opacity="0.13"/>
<line x1="502.8" y1="103.5" x2="506.0" y2="102.5" stroke="#8050cc" stroke-width="5.5" opacity="0.11"/>
<line x1="506.0" y1="102.5" x2="509.1" y2="101.6" stroke="#8050cc" stroke-width="5.5" opacity="0.09"/>
<line x1="509.1" y1="101.6" x2="512.3" y2="100.6" stroke="#8050cc" stroke-width="5.5" opacity="0.07"/>
<line x1="512.3" y1="100.6" x2="515.5" y2="99.6" stroke="#8050cc" stroke-width="5.5" opacity="0.05"/>
<line x1="515.5" y1="99.6" x2="518.6" y2="98.8" stroke="#8050cc" stroke-width="5.5" opacity="0.04"/>
<line x1="518.6" y1="98.8" x2="521.8" y2="98.1" stroke="#8050cc" stroke-width="5.5" opacity="0.02"/>
<line x1="521.8" y1="98.1" x2="525.0" y2="97.3" stroke="#8050cc" stroke-width="5.5" opacity="0.01"/>
<line x1="417.3" y1="121.7" x2="420.5" y2="119.8" stroke="#9a74dc" stroke-width="6.5" opacity="0.01"/>
<line x1="420.5" y1="119.8" x2="423.7" y2="117.9" stroke="#9a74dc" stroke-width="6.5" opacity="0.04"/>
<line x1="423.7" y1="117.9" x2="426.8" y2="116.0" stroke="#9a74dc" stroke-width="6.5" opacity="0.06"/>
<line x1="426.8" y1="116.0" x2="430.0" y2="114.0" stroke="#9a74dc" stroke-width="6.5" opacity="0.08"/>
<line x1="430.0" y1="114.0" x2="433.2" y2="112.1" stroke="#9a74dc" stroke-width="6.5" opacity="0.10"/>
<line x1="433.2" y1="112.1" x2="436.3" y2="110.2" stroke="#9a74dc" stroke-width="6.5" opacity="0.11"/>
<line x1="436.3" y1="110.2" x2="439.5" y2="108.3" stroke="#9a74dc" stroke-width="6.5" opacity="0.13"/>
<line x1="439.5" y1="108.3" x2="442.7" y2="106.4" stroke="#9a74dc" stroke-width="6.5" opacity="0.14"/>
<line x1="442.7" y1="106.4" x2="445.8" y2="104.8" stroke="#9a74dc" stroke-width="6.5" opacity="0.15"/>
<line x1="445.8" y1="104.8" x2="449.0" y2="103.2" stroke="#9a74dc" stroke-width="6.5" opacity="0.16"/>
<line x1="449.0" y1="103.2" x2="452.2" y2="101.6" stroke="#9a74dc" stroke-width="6.5" opacity="0.16"/>
<line x1="452.2" y1="101.6" x2="455.3" y2="100.1" stroke="#9a74dc" stroke-width="6.5" opacity="0.16"/>
<line x1="455.3" y1="100.1" x2="458.5" y2="98.5" stroke="#9a74dc" stroke-width="6.5" opacity="0.16"/>
<line x1="458.5" y1="98.5" x2="461.6" y2="96.9" stroke="#9a74dc" stroke-width="6.5" opacity="0.16"/>
<line x1="461.6" y1="96.9" x2="464.8" y2="95.3" stroke="#9a74dc" stroke-width="6.5" opacity="0.16"/>
<line x1="464.8" y1="95.3" x2="468.0" y2="93.7" stroke="#9a74dc" stroke-width="6.5" opacity="0.16"/>
<line x1="468.0" y1="93.7" x2="471.1" y2="92.1" stroke="#9a74dc" stroke-width="6.5" opacity="0.16"/>
<line x1="471.1" y1="92.1" x2="474.3" y2="90.5" stroke="#9a74dc" stroke-width="6.5" opacity="0.16"/>
<line x1="474.3" y1="90.5" x2="477.5" y2="88.8" stroke="#9a74dc" stroke-width="6.5" opacity="0.16"/>
<line x1="477.5" y1="88.8" x2="480.6" y2="87.1" stroke="#9a74dc" stroke-width="6.5" opacity="0.16"/>
<line x1="480.6" y1="87.1" x2="483.8" y2="85.4" stroke="#9a74dc" stroke-width="6.5" opacity="0.16"/>
<line x1="483.8" y1="85.4" x2="487.0" y2="83.6" stroke="#9a74dc" stroke-width="6.5" opacity="0.16"/>
<line x1="487.0" y1="83.6" x2="490.1" y2="81.9" stroke="#9a74dc" stroke-width="6.5" opacity="0.16"/>
<line x1="490.1" y1="81.9" x2="493.3" y2="80.2" stroke="#9a74dc" stroke-width="6.5" opacity="0.16"/>
<line x1="493.3" y1="80.2" x2="496.5" y2="78.5" stroke="#9a74dc" stroke-width="6.5" opacity="0.15"/>
<line x1="496.5" y1="78.5" x2="499.6" y2="76.8" stroke="#9a74dc" stroke-width="6.5" opacity="0.14"/>
<line x1="499.6" y1="76.8" x2="502.8" y2="75.1" stroke="#9a74dc" stroke-width="6.5" opacity="0.13"/>
<line x1="502.8" y1="75.1" x2="506.0" y2="73.4" stroke="#9a74dc" stroke-width="6.5" opacity="0.12"/>
<line x1="506.0" y1="73.4" x2="509.1" y2="71.8" stroke="#9a74dc" stroke-width="6.5" opacity="0.11"/>
<line x1="509.1" y1="71.8" x2="512.3" y2="70.2" stroke="#9a74dc" stroke-width="6.5" opacity="0.10"/>
<line x1="512.3" y1="70.2" x2="515.5" y2="68.6" stroke="#9a74dc" stroke-width="6.5" opacity="0.09"/>
<line x1="515.5" y1="68.6" x2="518.6" y2="66.9" stroke="#9a74dc" stroke-width="6.5" opacity="0.08"/>
<line x1="518.6" y1="66.9" x2="521.8" y2="65.3" stroke="#9a74dc" stroke-width="6.5" opacity="0.07"/>
<line x1="521.8" y1="65.3" x2="525.0" y2="63.7" stroke="#9a74dc" stroke-width="6.5" opacity="0.06"/>
<line x1="525.0" y1="63.7" x2="528.1" y2="62.1" stroke="#9a74dc" stroke-width="6.5" opacity="0.05"/>
<line x1="528.1" y1="62.1" x2="531.3" y2="60.7" stroke="#9a74dc" stroke-width="6.5" opacity="0.03"/>
<line x1="531.3" y1="60.7" x2="534.4" y2="59.3" stroke="#9a74dc" stroke-width="6.5" opacity="0.02"/>
<line x1="534.4" y1="59.3" x2="537.6" y2="58.0" stroke="#9a74dc" stroke-width="6.5" opacity="0.01"/>
</g>
<line x1="412.4" y1="137.0" x2="412.4" y2="139.0" stroke="#6e3ec4" stroke-width="0.56" opacity="0.02"/>
<line x1="437.4" y1="126.5" x2="437.4" y2="128.5" stroke="#6e3ec4" stroke-width="0.87" opacity="0.31"/>
<line x1="486.5" y1="108.7" x2="486.5" y2="111.6" stroke="#6e3ec4" stroke-width="1.00" opacity="0.15"/>
<line x1="421.6" y1="132.0" x2="421.6" y2="136.8" stroke="#6e3ec4" stroke-width="0.70" opacity="0.05"/>
<line x1="433.6" y1="125.7" x2="433.6" y2="127.9" stroke="#6e3ec4" stroke-width="0.61" opacity="0.37"/>
<line x1="477.7" y1="110.8" x2="477.7" y2="115.7" stroke="#6e3ec4" stroke-width="0.92" opacity="0.21"/>
<line x1="451.5" y1="121.3" x2="451.5" y2="122.9" stroke="#6e3ec4" stroke-width="0.87" opacity="0.38"/>
<line x1="510.0" y1="103.6" x2="510.0" y2="105.9" stroke="#6e3ec4" stroke-width="0.90" opacity="0.07"/>
<line x1="494.2" y1="106.2" x2="494.2" y2="107.8" stroke="#6e3ec4" stroke-width="0.67" opacity="0.09"/>
<line x1="449.1" y1="122.6" x2="449.1" y2="126.4" stroke="#6e3ec4" stroke-width="0.92" opacity="0.21"/>
<line x1="520.5" y1="103.0" x2="520.5" y2="105.6" stroke="#6e3ec4" stroke-width="0.59" opacity="0.02"/>
<line x1="482.1" y1="107.3" x2="482.1" y2="111.2" stroke="#6e3ec4" stroke-width="0.55" opacity="0.19"/>
<line x1="433.0" y1="129.3" x2="433.0" y2="131.1" stroke="#6e3ec4" stroke-width="0.70" opacity="0.29"/>
<line x1="514.7" y1="96.2" x2="514.7" y2="101.1" stroke="#6e3ec4" stroke-width="0.60" opacity="0.04"/>
<line x1="462.8" y1="115.8" x2="462.8" y2="119.2" stroke="#6e3ec4" stroke-width="0.56" opacity="0.30"/>
<line x1="422.3" y1="129.4" x2="422.3" y2="131.3" stroke="#6e3ec4" stroke-width="0.60" opacity="0.21"/>
<line x1="449.2" y1="119.4" x2="449.2" y2="122.7" stroke="#6e3ec4" stroke-width="0.89" opacity="0.23"/>
<line x1="442.7" y1="118.9" x2="442.7" y2="122.5" stroke="#6e3ec4" stroke-width="0.82" opacity="0.20"/>
<line x1="415.3" y1="134.1" x2="415.3" y2="138.1" stroke="#6e3ec4" stroke-width="0.99" opacity="0.07"/>
<line x1="498.5" y1="103.4" x2="498.5" y2="107.5" stroke="#6e3ec4" stroke-width="0.99" opacity="0.08"/>
<line x1="450.7" y1="122.1" x2="450.7" y2="124.2" stroke="#6e3ec4" stroke-width="0.52" opacity="0.18"/>
<line x1="425.2" y1="130.4" x2="425.2" y2="132.0" stroke="#6e3ec4" stroke-width="0.81" opacity="0.23"/>
<line x1="434.5" y1="127.5" x2="434.5" y2="129.6" stroke="#6e3ec4" stroke-width="0.73" opacity="0.18"/>
<line x1="490.2" y1="108.3" x2="490.2" y2="112.8" stroke="#6e3ec4" stroke-width="0.70" opacity="0.15"/>
<line x1="470.7" y1="112.1" x2="470.7" y2="115.2" stroke="#6e3ec4" stroke-width="0.57" opacity="0.27"/>
<line x1="425.1" y1="127.0" x2="425.1" y2="131.1" stroke="#6e3ec4" stroke-width="0.97" opacity="0.22"/>
<line x1="489.6" y1="105.5" x2="489.6" y2="107.4" stroke="#6e3ec4" stroke-width="0.71" opacity="0.21"/>
<line x1="427.0" y1="128.5" x2="427.0" y2="131.0" stroke="#6e3ec4" stroke-width="0.71" opacity="0.15"/>
<line x1="492.0" y1="103.3" x2="492.0" y2="107.4" stroke="#6e3ec4" stroke-width="0.91" opacity="0.18"/>
<line x1="414.8" y1="132.9" x2="414.8" y2="137.5" stroke="#6e3ec4" stroke-width="0.63" opacity="0.05"/>
<line x1="434.0" y1="126.0" x2="434.0" y2="130.4" stroke="#6e3ec4" stroke-width="0.69" opacity="0.21"/>
<line x1="433.6" y1="124.7" x2="433.6" y2="127.4" stroke="#6e3ec4" stroke-width="0.85" opacity="0.16"/>
<line x1="453.0" y1="118.7" x2="453.0" y2="122.4" stroke="#6e3ec4" stroke-width="0.74" opacity="0.17"/>
<line x1="468.0" y1="113.1" x2="468.0" y2="115.6" stroke="#6e3ec4" stroke-width="0.59" opacity="0.33"/>
<line x1="414.9" y1="133.2" x2="414.9" y2="134.7" stroke="#6e3ec4" stroke-width="0.50" opacity="0.04"/>
<line x1="454.3" y1="118.9" x2="454.3" y2="121.5" stroke="#6e3ec4" stroke-width="0.96" opacity="0.31"/>
<line x1="477.0" y1="107.4" x2="477.0" y2="111.0" stroke="#6e3ec4" stroke-width="0.92" opacity="0.14"/>
<line x1="472.6" y1="114.4" x2="472.6" y2="116.2" stroke="#6e3ec4" stroke-width="0.79" opacity="0.16"/>
<line x1="432.4" y1="124.5" x2="432.4" y2="128.4" stroke="#6e3ec4" stroke-width="0.76" opacity="0.35"/>
<line x1="508.8" y1="101.9" x2="508.8" y2="104.8" stroke="#6e3ec4" stroke-width="0.84" opacity="0.05"/>
<line x1="474.2" y1="112.1" x2="474.2" y2="114.4" stroke="#6e3ec4" stroke-width="0.85" opacity="0.28"/>
<line x1="416.5" y1="134.8" x2="416.5" y2="138.7" stroke="#6e3ec4" stroke-width="0.66" opacity="0.10"/>
<line x1="501.8" y1="102.6" x2="501.8" y2="107.6" stroke="#6e3ec4" stroke-width="0.57" opacity="0.09"/>
<line x1="416.4" y1="134.6" x2="416.4" y2="136.2" stroke="#6e3ec4" stroke-width="0.70" opacity="0.05"/>
<line x1="472.4" y1="110.4" x2="472.4" y2="114.7" stroke="#6e3ec4" stroke-width="0.72" opacity="0.09"/>
<line x1="465.7" y1="114.3" x2="465.7" y2="118.2" stroke="#6e3ec4" stroke-width="0.95" opacity="0.21"/>
<line x1="505.3" y1="101.6" x2="505.3" y2="103.4" stroke="#6e3ec4" stroke-width="0.93" opacity="0.05"/>
<line x1="417.5" y1="130.3" x2="417.5" y2="135.0" stroke="#6e3ec4" stroke-width="0.66" opacity="0.08"/>
<line x1="455.3" y1="113.4" x2="455.3" y2="117.8" stroke="#6e3ec4" stroke-width="0.52" opacity="0.29"/>
<line x1="494.2" y1="106.9" x2="494.2" y2="109.8" stroke="#6e3ec4" stroke-width="0.91" opacity="0.12"/>
<line x1="494.8" y1="107.0" x2="494.8" y2="110.0" stroke="#6e3ec4" stroke-width="0.78" opacity="0.19"/>
<line x1="500.4" y1="101.5" x2="500.4" y2="103.5" stroke="#6e3ec4" stroke-width="0.79" opacity="0.09"/>
<line x1="510.3" y1="100.7" x2="510.3" y2="103.0" stroke="#6e3ec4" stroke-width="0.67" opacity="0.05"/>
<line x1="520.3" y1="96.4" x2="520.3" y2="99.0" stroke="#6e3ec4" stroke-width="0.64" opacity="0.02"/>
<line x1="461.2" y1="115.4" x2="461.2" y2="117.7" stroke="#6e3ec4" stroke-width="0.63" opacity="0.14"/>
<line x1="514.3" y1="96.4" x2="514.3" y2="100.5" stroke="#6e3ec4" stroke-width="0.55" opacity="0.02"/>
<line x1="500.6" y1="102.9" x2="500.6" y2="104.7" stroke="#6e3ec4" stroke-width="0.55" opacity="0.09"/>
<line x1="502.1" y1="105.4" x2="502.1" y2="108.6" stroke="#6e3ec4" stroke-width="0.68" opacity="0.10"/>
<line x1="489.8" y1="105.5" x2="489.8" y2="108.1" stroke="#6e3ec4" stroke-width="0.92" opacity="0.17"/>
<line x1="473.6" y1="112.2" x2="473.6" y2="114.1" stroke="#6e3ec4" stroke-width="0.85" opacity="0.27"/>
<line x1="480.6" y1="111.2" x2="480.6" y2="114.8" stroke="#6e3ec4" stroke-width="0.88" opacity="0.20"/>
<line x1="441.1" y1="119.6" x2="441.1" y2="123.9" stroke="#6e3ec4" stroke-width="0.80" opacity="0.25"/>
<line x1="472.8" y1="115.7" x2="472.8" y2="117.4" stroke="#6e3ec4" stroke-width="0.81" opacity="0.15"/>
<line x1="427.9" y1="124.3" x2="427.9" y2="127.4" stroke="#6e3ec4" stroke-width="0.77" opacity="0.30"/>
<line x1="504.1" y1="102.7" x2="504.1" y2="104.9" stroke="#6e3ec4" stroke-width="0.73" opacity="0.08"/>
<line x1="426.2" y1="128.5" x2="426.2" y2="131.3" stroke="#6e3ec4" stroke-width="0.69" opacity="0.25"/>
<line x1="513.3" y1="99.2" x2="513.3" y2="103.0" stroke="#6e3ec4" stroke-width="0.59" opacity="0.04"/>
<line x1="426.5" y1="127.9" x2="426.5" y2="130.0" stroke="#6e3ec4" stroke-width="0.85" opacity="0.25"/>
<line x1="495.1" y1="102.2" x2="495.1" y2="106.5" stroke="#6e3ec4" stroke-width="0.54" opacity="0.18"/>
<line x1="513.2" y1="98.1" x2="513.2" y2="100.6" stroke="#6e3ec4" stroke-width="0.58" opacity="0.05"/>
<line x1="422.2" y1="132.7" x2="422.2" y2="134.8" stroke="#6e3ec4" stroke-width="0.54" opacity="0.11"/>
<line x1="458.2" y1="114.3" x2="458.2" y2="116.0" stroke="#6e3ec4" stroke-width="0.65" opacity="0.18"/>
<line x1="504.6" y1="103.7" x2="504.6" y2="105.7" stroke="#6e3ec4" stroke-width="0.52" opacity="0.08"/>
<line x1="419.5" y1="131.9" x2="419.5" y2="136.8" stroke="#6e3ec4" stroke-width="0.93" opacity="0.06"/>
<line x1="491.4" y1="106.0" x2="491.4" y2="110.6" stroke="#6e3ec4" stroke-width="0.80" opacity="0.10"/>
<line x1="516.2" y1="96.9" x2="516.2" y2="99.9" stroke="#6e3ec4" stroke-width="0.86" opacity="0.03"/>
<line x1="511.6" y1="99.8" x2="511.6" y2="103.3" stroke="#6e3ec4" stroke-width="0.96" opacity="0.02"/>
<line x1="475.7" y1="111.7" x2="475.7" y2="115.6" stroke="#6e3ec4" stroke-width="0.82" opacity="0.12"/>
<line x1="423.0" y1="133.1" x2="423.0" y2="135.8" stroke="#6e3ec4" stroke-width="0.58" opacity="0.14"/>
<line x1="464.3" y1="113.7" x2="464.3" y2="116.1" stroke="#6e3ec4" stroke-width="0.82" opacity="0.19"/>
<line x1="486.4" y1="111.4" x2="486.4" y2="115.4" stroke="#6e3ec4" stroke-width="0.69" opacity="0.16"/>
<line x1="460.4" y1="113.8" x2="460.4" y2="118.8" stroke="#6e3ec4" stroke-width="0.52" opacity="0.25"/>
<line x1="463.8" y1="113.2" x2="463.8" y2="116.3" stroke="#6e3ec4" stroke-width="0.54" opacity="0.34"/>
<line x1="478.7" y1="112.3" x2="478.7" y2="116.2" stroke="#6e3ec4" stroke-width="0.89" opacity="0.21"/>
<line x1="463.8" y1="112.2" x2="463.8" y2="114.6" stroke="#6e3ec4" stroke-width="0.84" opacity="0.10"/>
<line x1="522.4" y1="95.7" x2="522.4" y2="98.2" stroke="#6e3ec4" stroke-width="0.99" opacity="0.01"/>
<line x1="442.8" y1="121.8" x2="442.8" y2="124.6" stroke="#6e3ec4" stroke-width="0.84" opacity="0.27"/>
<line x1="520.1" y1="96.9" x2="520.1" y2="100.7" stroke="#6e3ec4" stroke-width="0.80" opacity="0.01"/>
<line x1="442.3" y1="127.0" x2="442.3" y2="130.7" stroke="#6e3ec4" stroke-width="0.55" opacity="0.30"/>
<line x1="513.5" y1="99.6" x2="513.5" y2="102.8" stroke="#6e3ec4" stroke-width="0.78" opacity="0.04"/>
<line x1="461.8" y1="117.1" x2="461.8" y2="121.3" stroke="#6e3ec4" stroke-width="0.97" opacity="0.28"/>
<line x1="430.4" y1="125.8" x2="430.4" y2="130.7" stroke="#6e3ec4" stroke-width="0.80" opacity="0.17"/>
<line x1="453.5" y1="120.1" x2="453.5" y2="121.9" stroke="#6e3ec4" stroke-width="0.84" opacity="0.17"/>
<line x1="466.5" y1="113.4" x2="466.5" y2="116.4" stroke="#6e3ec4" stroke-width="0.63" opacity="0.17"/>
<line x1="491.8" y1="106.1" x2="491.8" y2="107.7" stroke="#6e3ec4" stroke-width="0.78" opacity="0.20"/>
<line x1="428.5" y1="126.1" x2="428.5" y2="129.5" stroke="#6e3ec4" stroke-width="0.54" opacity="0.11"/>
<line x1="419.5" y1="133.5" x2="419.5" y2="136.0" stroke="#6e3ec4" stroke-width="0.56" opacity="0.14"/>
<line x1="498.5" y1="103.7" x2="498.5" y2="108.7" stroke="#6e3ec4" stroke-width="0.52" opacity="0.15"/>
<line x1="429.8" y1="121.5" x2="429.8" y2="126.0" stroke="#6e3ec4" stroke-width="0.61" opacity="0.22"/>
<line x1="464.6" y1="117.4" x2="464.6" y2="119.7" stroke="#6e3ec4" stroke-width="0.76" opacity="0.27"/>
<line x1="505.0" y1="101.5" x2="505.0" y2="106.5" stroke="#6e3ec4" stroke-width="0.80" opacity="0.11"/>
<line x1="439.4" y1="122.0" x2="439.4" y2="123.7" stroke="#6e3ec4" stroke-width="0.96" opacity="0.16"/>
<line x1="476.1" y1="107.7" x2="476.1" y2="110.6" stroke="#6e3ec4" stroke-width="0.79" opacity="0.25"/>
<line x1="420.4" y1="129.5" x2="420.4" y2="132.2" stroke="#6e3ec4" stroke-width="0.90" opacity="0.08"/>
<line x1="486.4" y1="105.7" x2="486.4" y2="108.5" stroke="#6e3ec4" stroke-width="0.53" opacity="0.13"/>
<line x1="452.1" y1="117.5" x2="452.1" y2="121.8" stroke="#6e3ec4" stroke-width="0.62" opacity="0.36"/>
<line x1="467.8" y1="113.3" x2="467.8" y2="116.8" stroke="#6e3ec4" stroke-width="0.59" opacity="0.18"/>
<line x1="514.6" y1="96.3" x2="514.6" y2="100.9" stroke="#6e3ec4" stroke-width="0.83" opacity="0.02"/>
<line x1="456.3" y1="117.2" x2="456.3" y2="119.5" stroke="#6e3ec4" stroke-width="0.66" opacity="0.30"/>
<line x1="421.6" y1="134.8" x2="421.6" y2="137.8" stroke="#6e3ec4" stroke-width="0.66" opacity="0.15"/>
<line x1="491.2" y1="104.6" x2="491.2" y2="109.3" stroke="#6e3ec4" stroke-width="0.90" opacity="0.19"/>
<line x1="474.7" y1="111.5" x2="474.7" y2="116.0" stroke="#6e3ec4" stroke-width="0.52" opacity="0.26"/>
<line x1="445.1" y1="119.4" x2="445.1" y2="123.6" stroke="#6e3ec4" stroke-width="0.63" opacity="0.19"/>
<line x1="518.8" y1="99.4" x2="518.8" y2="103.0" stroke="#6e3ec4" stroke-width="0.81" opacity="0.02"/>
<line x1="504.6" y1="100.0" x2="504.6" y2="103.4" stroke="#6e3ec4" stroke-width="0.54" opacity="0.07"/>
<line x1="505.5" y1="99.8" x2="505.5" y2="104.5" stroke="#6e3ec4" stroke-width="0.69" opacity="0.06"/>
<line x1="519.4" y1="97.5" x2="519.4" y2="99.0" stroke="#6e3ec4" stroke-width="0.54" opacity="0.03"/>
<line x1="477.5" y1="108.4" x2="477.5" y2="111.3" stroke="#6e3ec4" stroke-width="0.85" opacity="0.15"/>
<line x1="464.9" y1="112.8" x2="464.9" y2="114.7" stroke="#6e3ec4" stroke-width="0.91" opacity="0.31"/>
<line x1="495.7" y1="102.7" x2="495.7" y2="104.5" stroke="#6e3ec4" stroke-width="0.60" opacity="0.08"/>
<line x1="421.2" y1="126.0" x2="421.2" y2="128.4" stroke="#6e3ec4" stroke-width="0.59" opacity="0.12"/>
<line x1="521.8" y1="94.2" x2="521.8" y2="96.6" stroke="#6e3ec4" stroke-width="0.96" opacity="0.01"/>
<line x1="458.7" y1="119.6" x2="458.7" y2="121.7" stroke="#6e3ec4" stroke-width="0.51" opacity="0.16"/>
<line x1="503.8" y1="100.9" x2="503.8" y2="105.0" stroke="#6e3ec4" stroke-width="0.92" opacity="0.07"/>
<line x1="456.8" y1="114.6" x2="456.8" y2="117.4" stroke="#6e3ec4" stroke-width="0.60" opacity="0.28"/>
<line x1="443.5" y1="121.9" x2="443.5" y2="125.7" stroke="#6e3ec4" stroke-width="0.82" opacity="0.10"/>
<line x1="499.2" y1="99.5" x2="499.2" y2="103.9" stroke="#6e3ec4" stroke-width="0.78" opacity="0.11"/>
<line x1="487.7" y1="108.2" x2="487.7" y2="110.4" stroke="#6e3ec4" stroke-width="0.54" opacity="0.18"/>
<line x1="504.4" y1="101.1" x2="504.4" y2="103.2" stroke="#6e3ec4" stroke-width="0.87" opacity="0.12"/>
<line x1="468.4" y1="111.8" x2="468.4" y2="113.8" stroke="#6e3ec4" stroke-width="0.51" opacity="0.11"/>
<line x1="432.6" y1="126.8" x2="432.6" y2="130.0" stroke="#6e3ec4" stroke-width="0.99" opacity="0.11"/>
<line x1="500.7" y1="100.4" x2="500.7" y2="103.6" stroke="#6e3ec4" stroke-width="0.68" opacity="0.07"/>
<line x1="437.4" y1="123.7" x2="437.4" y2="128.4" stroke="#6e3ec4" stroke-width="0.88" opacity="0.23"/>
<line x1="485.8" y1="106.1" x2="485.8" y2="110.9" stroke="#6e3ec4" stroke-width="0.64" opacity="0.23"/>
<line x1="518.8" y1="98.8" x2="518.8" y2="102.2" stroke="#6e3ec4" stroke-width="0.75" opacity="0.01"/>
<line x1="439.0" y1="122.2" x2="439.0" y2="126.4" stroke="#6e3ec4" stroke-width="0.80" opacity="0.30"/>
<line x1="443.4" y1="123.0" x2="443.4" y2="127.6" stroke="#6e3ec4" stroke-width="0.77" opacity="0.34"/>
<line x1="416.9" y1="132.9" x2="416.9" y2="134.7" stroke="#6e3ec4" stroke-width="0.59" opacity="0.05"/>
<line x1="451.6" y1="115.9" x2="451.6" y2="120.0" stroke="#6e3ec4" stroke-width="0.55" opacity="0.11"/>
<line x1="492.3" y1="103.8" x2="492.3" y2="106.5" stroke="#6e3ec4" stroke-width="0.96" opacity="0.06"/>
<line x1="510.7" y1="101.8" x2="510.7" y2="103.9" stroke="#6e3ec4" stroke-width="0.73" opacity="0.08"/>
<line x1="440.8" y1="124.0" x2="440.8" y2="127.2" stroke="#6e3ec4" stroke-width="0.57" opacity="0.18"/>
<line x1="428.6" y1="131.8" x2="428.6" y2="133.8" stroke="#6e3ec4" stroke-width="0.57" opacity="0.22"/>
<line x1="481.8" y1="108.9" x2="481.8" y2="110.5" stroke="#6e3ec4" stroke-width="0.98" opacity="0.21"/>
<line x1="453.8" y1="118.5" x2="453.8" y2="121.2" stroke="#6e3ec4" stroke-width="0.76" opacity="0.36"/>
<line x1="416.6" y1="135.1" x2="416.6" y2="139.8" stroke="#6e3ec4" stroke-width="0.97" opacity="0.06"/>
<line x1="450.9" y1="123.0" x2="450.9" y2="127.5" stroke="#6e3ec4" stroke-width="0.64" opacity="0.18"/>
<line x1="520.9" y1="91.1" x2="520.9" y2="96.0" stroke="#6e3ec4" stroke-width="0.70" opacity="0.02"/>
<line x1="489.2" y1="105.0" x2="489.2" y2="108.8" stroke="#6e3ec4" stroke-width="0.90" opacity="0.07"/>
<line x1="484.2" y1="104.5" x2="484.2" y2="109.4" stroke="#6e3ec4" stroke-width="0.82" opacity="0.25"/>
<line x1="451.6" y1="117.3" x2="451.6" y2="122.2" stroke="#6e3ec4" stroke-width="0.72" opacity="0.16"/>
<line x1="464.3" y1="114.1" x2="464.3" y2="118.4" stroke="#6e3ec4" stroke-width="0.52" opacity="0.33"/>
<line x1="458.0" y1="115.4" x2="458.0" y2="119.1" stroke="#6e3ec4" stroke-width="0.92" opacity="0.31"/>
<line x1="426.4" y1="129.0" x2="426.4" y2="131.6" stroke="#6e3ec4" stroke-width="0.76" opacity="0.11"/>
<line x1="440.0" y1="121.4" x2="440.0" y2="125.8" stroke="#6e3ec4" stroke-width="0.77" opacity="0.11"/>
<line x1="513.6" y1="97.8" x2="513.6" y2="102.3" stroke="#6e3ec4" stroke-width="0.80" opacity="0.04"/>
<line x1="467.5" y1="115.1" x2="467.5" y2="118.7" stroke="#6e3ec4" stroke-width="0.97" opacity="0.34"/>
<line x1="421.6" y1="130.6" x2="421.6" y2="133.2" stroke="#6e3ec4" stroke-width="0.91" opacity="0.13"/>
<line x1="514.8" y1="98.6" x2="514.8" y2="103.5" stroke="#6e3ec4" stroke-width="0.60" opacity="0.02"/>
<line x1="505.1" y1="99.3" x2="505.1" y2="103.3" stroke="#6e3ec4" stroke-width="0.85" opacity="0.09"/>
<line x1="438.0" y1="122.7" x2="438.0" y2="126.6" stroke="#6e3ec4" stroke-width="1.00" opacity="0.30"/>
<line x1="472.3" y1="113.8" x2="472.3" y2="115.7" stroke="#6e3ec4" stroke-width="0.72" opacity="0.17"/>
<line x1="478.9" y1="109.2" x2="478.9" y2="112.9" stroke="#6e3ec4" stroke-width="0.89" opacity="0.12"/>
<line x1="518.4" y1="96.4" x2="518.4" y2="100.5" stroke="#6e3ec4" stroke-width="0.72" opacity="0.01"/>
<line x1="478.3" y1="108.2" x2="478.3" y2="113.1" stroke="#6e3ec4" stroke-width="0.51" opacity="0.22"/>
<line x1="473.8" y1="109.0" x2="473.8" y2="113.5" stroke="#6e3ec4" stroke-width="0.63" opacity="0.33"/>
<line x1="500.2" y1="104.7" x2="500.2" y2="107.2" stroke="#6e3ec4" stroke-width="1.00" opacity="0.11"/>
<line x1="432.0" y1="124.8" x2="432.0" y2="129.7" stroke="#6e3ec4" stroke-width="0.99" opacity="0.28"/>
<line x1="508.0" y1="96.3" x2="508.0" y2="99.3" stroke="#6e3ec4" stroke-width="0.69" opacity="0.09"/>
<line x1="448.5" y1="122.2" x2="448.5" y2="125.7" stroke="#6e3ec4" stroke-width="0.71" opacity="0.19"/>
<line x1="520.2" y1="98.5" x2="520.2" y2="103.5" stroke="#6e3ec4" stroke-width="1.00" opacity="0.02"/>
<line x1="492.3" y1="105.2" x2="492.3" y2="108.1" stroke="#6e3ec4" stroke-width="0.85" opacity="0.17"/>
<line x1="438.7" y1="125.6" x2="438.7" y2="127.9" stroke="#6e3ec4" stroke-width="0.69" opacity="0.16"/>
<line x1="450.4" y1="117.6" x2="450.4" y2="120.7" stroke="#6e3ec4" stroke-width="0.52" opacity="0.29"/>
<line x1="448.1" y1="115.0" x2="448.1" y2="118.6" stroke="#6e3ec4" stroke-width="0.98" opacity="0.36"/>
<line x1="428.2" y1="130.4" x2="428.2" y2="132.5" stroke="#6e3ec4" stroke-width="0.63" opacity="0.12"/>
<line x1="443.0" y1="119.0" x2="443.0" y2="121.7" stroke="#6e3ec4" stroke-width="0.74" opacity="0.20"/>
<line x1="519.1" y1="95.2" x2="519.1" y2="100.2" stroke="#6e3ec4" stroke-width="0.65" opacity="0.02"/>
<line x1="473.9" y1="109.9" x2="473.9" y2="111.8" stroke="#6e3ec4" stroke-width="0.60" opacity="0.29"/>
<line x1="423.1" y1="128.2" x2="423.1" y2="131.4" stroke="#6e3ec4" stroke-width="0.75" opacity="0.19"/>
<line x1="415.1" y1="134.5" x2="415.1" y2="139.5" stroke="#6e3ec4" stroke-width="0.74" opacity="0.02"/>
<line x1="424.4" y1="124.6" x2="424.4" y2="128.6" stroke="#6e3ec4" stroke-width="0.90" opacity="0.07"/>
<line x1="457.7" y1="117.8" x2="457.7" y2="119.8" stroke="#6e3ec4" stroke-width="0.59" opacity="0.34"/>
<line x1="449.2" y1="119.4" x2="449.2" y2="124.1" stroke="#6e3ec4" stroke-width="0.75" opacity="0.19"/>
<line x1="459.9" y1="117.3" x2="459.9" y2="120.0" stroke="#6e3ec4" stroke-width="0.79" opacity="0.18"/>
<line x1="514.7" y1="97.2" x2="514.7" y2="98.8" stroke="#6e3ec4" stroke-width="0.68" opacity="0.06"/>
<line x1="490.5" y1="103.3" x2="490.5" y2="104.9" stroke="#6e3ec4" stroke-width="0.85" opacity="0.22"/>
<line x1="438.4" y1="124.9" x2="438.4" y2="127.1" stroke="#6e3ec4" stroke-width="0.57" opacity="0.28"/>
<line x1="507.6" y1="99.3" x2="507.6" y2="101.7" stroke="#6e3ec4" stroke-width="0.53" opacity="0.06"/>
<line x1="519.1" y1="94.4" x2="519.1" y2="98.5" stroke="#6e3ec4" stroke-width="0.54" opacity="0.03"/>
<line x1="412.4" y1="134.4" x2="412.4" y2="137.0" stroke="#6e3ec4" stroke-width="0.89" opacity="0.02"/>
<line x1="429.8" y1="127.8" x2="429.8" y2="130.8" stroke="#6e3ec4" stroke-width="0.62" opacity="0.21"/>
<line x1="448.7" y1="121.2" x2="448.7" y2="124.1" stroke="#6e3ec4" stroke-width="0.83" opacity="0.22"/>
<line x1="511.2" y1="101.3" x2="511.2" y2="103.5" stroke="#6e3ec4" stroke-width="0.75" opacity="0.05"/>
<line x1="428.2" y1="127.6" x2="428.2" y2="132.4" stroke="#6e3ec4" stroke-width="0.79" opacity="0.14"/>
<line x1="450.0" y1="120.2" x2="450.0" y2="122.4" stroke="#6e3ec4" stroke-width="0.92" opacity="0.11"/>
<line x1="419.8" y1="132.1" x2="419.8" y2="134.0" stroke="#6e3ec4" stroke-width="0.56" opacity="0.14"/>
<line x1="433.3" y1="125.9" x2="433.3" y2="127.5" stroke="#6e3ec4" stroke-width="0.74" opacity="0.37"/>
<line x1="514.5" y1="98.5" x2="514.5" y2="101.1" stroke="#6e3ec4" stroke-width="0.61" opacity="0.05"/>
<line x1="426.3" y1="128.6" x2="426.3" y2="132.1" stroke="#6e3ec4" stroke-width="0.88" opacity="0.09"/>
<line x1="513.5" y1="97.9" x2="513.5" y2="100.0" stroke="#6e3ec4" stroke-width="0.96" opacity="0.06"/>
<line x1="472.6" y1="110.1" x2="472.6" y2="113.7" stroke="#6e3ec4" stroke-width="0.85" opacity="0.27"/>
<line x1="488.5" y1="105.8" x2="488.5" y2="107.9" stroke="#6e3ec4" stroke-width="0.67" opacity="0.15"/>
<line x1="448.2" y1="118.6" x2="448.2" y2="120.6" stroke="#6e3ec4" stroke-width="0.85" opacity="0.29"/>
<line x1="464.8" y1="116.9" x2="464.8" y2="118.9" stroke="#6e3ec4" stroke-width="0.57" opacity="0.29"/>
<line x1="508.1" y1="99.8" x2="508.1" y2="102.1" stroke="#6e3ec4" stroke-width="0.71" opacity="0.09"/>
<line x1="497.9" y1="105.0" x2="497.9" y2="109.9" stroke="#6e3ec4" stroke-width="1.00" opacity="0.14"/>
<line x1="499.3" y1="103.8" x2="499.3" y2="108.1" stroke="#6e3ec4" stroke-width="0.58" opacity="0.06"/>
<line x1="442.8" y1="122.9" x2="442.8" y2="127.5" stroke="#6e3ec4" stroke-width="0.92" opacity="0.22"/>
<line x1="445.0" y1="118.9" x2="445.0" y2="123.9" stroke="#6e3ec4" stroke-width="0.84" opacity="0.34"/>
<line x1="436.2" y1="122.3" x2="436.2" y2="126.4" stroke="#6e3ec4" stroke-width="0.56" opacity="0.18"/>
<line x1="430.4" y1="127.0" x2="430.4" y2="129.7" stroke="#6e3ec4" stroke-width="0.57" opacity="0.33"/>
<line x1="500.1" y1="104.2" x2="500.1" y2="105.7" stroke="#6e3ec4" stroke-width="0.51" opacity="0.10"/>
<line x1="513.9" y1="96.2" x2="513.9" y2="100.2" stroke="#6e3ec4" stroke-width="0.84" opacity="0.06"/>
<line x1="457.1" y1="117.1" x2="457.1" y2="118.9" stroke="#6e3ec4" stroke-width="0.56" opacity="0.32"/>
<line x1="418.9" y1="135.1" x2="418.9" y2="138.3" stroke="#6e3ec4" stroke-width="0.54" opacity="0.12"/>
<line x1="468.2" y1="116.1" x2="468.2" y2="119.8" stroke="#6e3ec4" stroke-width="0.60" opacity="0.28"/>
<line x1="473.1" y1="109.6" x2="473.1" y2="114.4" stroke="#6e3ec4" stroke-width="0.51" opacity="0.19"/>
<line x1="413.7" y1="134.9" x2="413.7" y2="138.6" stroke="#6e3ec4" stroke-width="0.88" opacity="0.03"/>
<line x1="503.0" y1="102.1" x2="503.0" y2="105.0" stroke="#6e3ec4" stroke-width="0.79" opacity="0.04"/>
<line x1="449.4" y1="120.7" x2="449.4" y2="122.6" stroke="#6e3ec4" stroke-width="1.00" opacity="0.19"/>
<line x1="493.4" y1="106.6" x2="493.4" y2="108.3" stroke="#6e3ec4" stroke-width="0.56" opacity="0.20"/>
<line x1="485.4" y1="109.4" x2="485.4" y2="112.3" stroke="#6e3ec4" stroke-width="0.50" opacity="0.13"/>
<line x1="434.1" y1="126.2" x2="434.1" y2="128.2" stroke="#6e3ec4" stroke-width="0.99" opacity="0.14"/>
<line x1="485.3" y1="108.6" x2="485.3" y2="111.4" stroke="#6e3ec4" stroke-width="0.73" opacity="0.17"/>
<line x1="501.0" y1="101.2" x2="501.0" y2="103.3" stroke="#6e3ec4" stroke-width="0.63" opacity="0.12"/>
<line x1="485.5" y1="105.3" x2="485.5" y2="107.8" stroke="#6e3ec4" stroke-width="0.72" opacity="0.08"/>
<line x1="513.7" y1="99.2" x2="513.7" y2="101.0" stroke="#6e3ec4" stroke-width="0.71" opacity="0.07"/>
<line x1="432.4" y1="124.1" x2="432.4" y2="127.7" stroke="#6e3ec4" stroke-width="0.81" opacity="0.30"/>
<line x1="478.4" y1="111.6" x2="478.4" y2="113.8" stroke="#6e3ec4" stroke-width="0.75" opacity="0.12"/>
<line x1="419.3" y1="129.2" x2="419.3" y2="134.1" stroke="#6e3ec4" stroke-width="0.79" opacity="0.14"/>
<line x1="427.2" y1="130.1" x2="427.2" y2="134.0" stroke="#6e3ec4" stroke-width="0.61" opacity="0.20"/>
<line x1="505.5" y1="101.4" x2="505.5" y2="105.9" stroke="#6e3ec4" stroke-width="0.88" opacity="0.12"/>
<line x1="444.3" y1="124.0" x2="444.3" y2="128.6" stroke="#6e3ec4" stroke-width="0.75" opacity="0.21"/>
<line x1="434.2" y1="125.7" x2="434.2" y2="128.5" stroke="#6e3ec4" stroke-width="0.74" opacity="0.37"/>
<line x1="417.9" y1="133.8" x2="417.9" y2="135.9" stroke="#6e3ec4" stroke-width="0.60" opacity="0.09"/>
<line x1="499.0" y1="101.3" x2="499.0" y2="103.1" stroke="#6e3ec4" stroke-width="0.67" opacity="0.08"/>
<line x1="454.7" y1="118.1" x2="454.7" y2="122.1" stroke="#6e3ec4" stroke-width="0.73" opacity="0.35"/>
<line x1="473.8" y1="110.9" x2="473.8" y2="113.4" stroke="#6e3ec4" stroke-width="0.70" opacity="0.27"/>
<line x1="443.6" y1="118.8" x2="443.6" y2="123.1" stroke="#6e3ec4" stroke-width="0.72" opacity="0.20"/>
<line x1="416.3" y1="132.4" x2="416.3" y2="137.1" stroke="#6e3ec4" stroke-width="0.95" opacity="0.08"/>
<line x1="475.1" y1="108.5" x2="475.1" y2="113.2" stroke="#6e3ec4" stroke-width="0.52" opacity="0.09"/>
<line x1="470.5" y1="112.9" x2="470.5" y2="116.8" stroke="#6e3ec4" stroke-width="0.81" opacity="0.30"/>
<line x1="432.0" y1="127.2" x2="432.0" y2="129.7" stroke="#6e3ec4" stroke-width="0.90" opacity="0.16"/>
<line x1="437.6" y1="121.5" x2="437.6" y2="124.5" stroke="#6e3ec4" stroke-width="0.62" opacity="0.12"/>
<line x1="477.7" y1="107.3" x2="477.7" y2="112.2" stroke="#6e3ec4" stroke-width="0.67" opacity="0.16"/>
<line x1="509.2" y1="97.7" x2="509.2" y2="101.7" stroke="#6e3ec4" stroke-width="0.83" opacity="0.08"/>
<line x1="437.4" y1="126.7" x2="437.4" y2="128.4" stroke="#6e3ec4" stroke-width="0.61" opacity="0.23"/>
<line x1="463.8" y1="117.4" x2="463.8" y2="121.5" stroke="#6e3ec4" stroke-width="0.99" opacity="0.16"/>
<line x1="489.3" y1="103.6" x2="489.3" y2="106.7" stroke="#6e3ec4" stroke-width="0.90" opacity="0.22"/>
<line x1="480.8" y1="106.9" x2="480.8" y2="110.2" stroke="#6e3ec4" stroke-width="0.78" opacity="0.20"/>
<line x1="415.9" y1="133.4" x2="415.9" y2="135.6" stroke="#6e3ec4" stroke-width="0.56" opacity="0.07"/>
<line x1="513.4" y1="100.9" x2="513.4" y2="102.9" stroke="#6e3ec4" stroke-width="0.69" opacity="0.04"/>
<line x1="425.4" y1="126.8" x2="425.4" y2="129.2" stroke="#6e3ec4" stroke-width="0.72" opacity="0.15"/>
<line x1="513.5" y1="99.0" x2="513.5" y2="103.5" stroke="#6e3ec4" stroke-width="0.99" opacity="0.05"/>
<line x1="472.7" y1="112.1" x2="472.7" y2="114.0" stroke="#6e3ec4" stroke-width="0.65" opacity="0.27"/>
<line x1="494.3" y1="104.6" x2="494.3" y2="109.0" stroke="#6e3ec4" stroke-width="0.55" opacity="0.18"/>
<line x1="482.4" y1="107.1" x2="482.4" y2="111.5" stroke="#6e3ec4" stroke-width="0.69" opacity="0.13"/>
<line x1="513.3" y1="98.2" x2="513.3" y2="101.7" stroke="#6e3ec4" stroke-width="0.71" opacity="0.04"/>
<line x1="506.5" y1="98.6" x2="506.5" y2="103.2" stroke="#6e3ec4" stroke-width="0.96" opacity="0.04"/>
<line x1="446.2" y1="120.8" x2="446.2" y2="122.9" stroke="#6e3ec4" stroke-width="0.93" opacity="0.36"/>
<line x1="496.4" y1="101.4" x2="496.4" y2="104.6" stroke="#6e3ec4" stroke-width="0.77" opacity="0.15"/>
<line x1="412.7" y1="136.3" x2="412.7" y2="140.5" stroke="#6e3ec4" stroke-width="0.57" opacity="0.03"/>
<line x1="447.2" y1="123.1" x2="447.2" y2="126.3" stroke="#6e3ec4" stroke-width="0.92" opacity="0.26"/>
<line x1="488.1" y1="108.9" x2="488.1" y2="113.1" stroke="#6e3ec4" stroke-width="0.97" opacity="0.20"/>
<line x1="434.3" y1="122.7" x2="434.3" y2="127.4" stroke="#6e3ec4" stroke-width="0.67" opacity="0.22"/>
<line x1="450.6" y1="122.7" x2="450.6" y2="124.8" stroke="#6e3ec4" stroke-width="0.62" opacity="0.34"/>
<line x1="428.9" y1="129.9" x2="428.9" y2="132.2" stroke="#6e3ec4" stroke-width="0.94" opacity="0.28"/>
<line x1="519.0" y1="94.5" x2="519.0" y2="97.7" stroke="#6e3ec4" stroke-width="0.79" opacity="0.03"/>
<line x1="426.9" y1="124.3" x2="426.9" y2="129.1" stroke="#6e3ec4" stroke-width="0.55" opacity="0.26"/>
<line x1="435.0" y1="128.8" x2="435.0" y2="130.3" stroke="#6e3ec4" stroke-width="0.99" opacity="0.17"/>
<line x1="439.1" y1="125.3" x2="439.1" y2="129.3" stroke="#6e3ec4" stroke-width="0.96" opacity="0.25"/>
<line x1="412.2" y1="135.8" x2="412.2" y2="140.2" stroke="#6e3ec4" stroke-width="0.94" opacity="0.02"/>
<line x1="513.6" y1="100.2" x2="513.6" y2="102.5" stroke="#6e3ec4" stroke-width="0.94" opacity="0.05"/>
<line x1="487.7" y1="104.6" x2="487.7" y2="109.4" stroke="#6e3ec4" stroke-width="0.77" opacity="0.11"/>
<line x1="467.2" y1="113.2" x2="467.2" y2="115.6" stroke="#6e3ec4" stroke-width="0.58" opacity="0.15"/>
<line x1="495.8" y1="102.5" x2="495.8" y2="106.0" stroke="#6e3ec4" stroke-width="0.67" opacity="0.09"/>
<line x1="506.7" y1="99.8" x2="506.7" y2="102.6" stroke="#6e3ec4" stroke-width="0.90" opacity="0.11"/>
<line x1="456.3" y1="119.0" x2="456.3" y2="122.7" stroke="#6e3ec4" stroke-width="0.99" opacity="0.30"/>
<line x1="429.2" y1="127.7" x2="429.2" y2="131.1" stroke="#6e3ec4" stroke-width="0.91" opacity="0.14"/>
<line x1="487.6" y1="106.3" x2="487.6" y2="110.9" stroke="#6e3ec4" stroke-width="0.80" opacity="0.21"/>
<line x1="468.2" y1="115.6" x2="468.2" y2="119.0" stroke="#6e3ec4" stroke-width="0.68" opacity="0.16"/>
<line x1="499.2" y1="105.0" x2="499.2" y2="109.7" stroke="#6e3ec4" stroke-width="0.51" opacity="0.06"/>
<line x1="508.6" y1="98.6" x2="508.6" y2="100.7" stroke="#6e3ec4" stroke-width="0.58" opacity="0.04"/>
<line x1="457.9" y1="116.8" x2="457.9" y2="119.4" stroke="#6e3ec4" stroke-width="0.79" opacity="0.11"/>
<line x1="442.0" y1="122.9" x2="442.0" y2="124.9" stroke="#6e3ec4" stroke-width="0.59" opacity="0.15"/>
<line x1="521.4" y1="96.2" x2="521.4" y2="99.0" stroke="#6e3ec4" stroke-width="0.82" opacity="0.02"/>
<line x1="468.9" y1="112.7" x2="468.9" y2="116.0" stroke="#6e3ec4" stroke-width="0.67" opacity="0.12"/>
<line x1="516.1" y1="97.4" x2="516.1" y2="99.3" stroke="#6e3ec4" stroke-width="0.52" opacity="0.03"/>
<line x1="478.1" y1="110.4" x2="478.1" y2="114.4" stroke="#6e3ec4" stroke-width="0.67" opacity="0.30"/>
<line x1="418.3" y1="133.5" x2="418.3" y2="137.0" stroke="#6e3ec4" stroke-width="0.81" opacity="0.10"/>
<line x1="450.0" y1="123.8" x2="450.0" y2="125.7" stroke="#6e3ec4" stroke-width="0.66" opacity="0.22"/>
<line x1="479.8" y1="110.2" x2="479.8" y2="113.4" stroke="#6e3ec4" stroke-width="0.93" opacity="0.19"/>
<line x1="487.0" y1="106.7" x2="487.0" y2="108.4" stroke="#6e3ec4" stroke-width="0.96" opacity="0.14"/>
<line x1="435.7" y1="122.8" x2="435.7" y2="126.7" stroke="#6e3ec4" stroke-width="0.77" opacity="0.37"/>
<line x1="464.9" y1="112.3" x2="464.9" y2="114.3" stroke="#6e3ec4" stroke-width="0.97" opacity="0.25"/>
<line x1="421.4" y1="135.9" x2="421.4" y2="138.2" stroke="#6e3ec4" stroke-width="0.91" opacity="0.07"/>
<line x1="414.8" y1="131.7" x2="414.8" y2="134.8" stroke="#6e3ec4" stroke-width="0.91" opacity="0.06"/>
<line x1="479.7" y1="110.0" x2="479.7" y2="112.3" stroke="#6e3ec4" stroke-width="0.79" opacity="0.22"/>
<line x1="416.9" y1="131.0" x2="416.9" y2="135.4" stroke="#6e3ec4" stroke-width="0.65" opacity="0.10"/>
<line x1="412.6" y1="135.0" x2="412.6" y2="137.3" stroke="#6e3ec4" stroke-width="0.88" opacity="0.03"/>
<line x1="518.7" y1="95.8" x2="518.7" y2="99.9" stroke="#6e3ec4" stroke-width="0.71" opacity="0.04"/>
<line x1="474.7" y1="112.4" x2="474.7" y2="115.1" stroke="#6e3ec4" stroke-width="0.96" opacity="0.21"/>
<line x1="445.6" y1="122.1" x2="445.6" y2="126.8" stroke="#6e3ec4" stroke-width="0.89" opacity="0.30"/>
<line x1="508.7" y1="101.9" x2="508.7" y2="103.6" stroke="#6e3ec4" stroke-width="0.59" opacity="0.02"/>
<line x1="476.5" y1="107.6" x2="476.5" y2="111.2" stroke="#6e3ec4" stroke-width="0.67" opacity="0.31"/>
<line x1="497.9" y1="105.8" x2="497.9" y2="108.5" stroke="#6e3ec4" stroke-width="0.71" opacity="0.07"/>
<line x1="446.9" y1="120.5" x2="446.9" y2="125.1" stroke="#6e3ec4" stroke-width="0.71" opacity="0.14"/>
<line x1="445.6" y1="118.6" x2="445.6" y2="121.5" stroke="#6e3ec4" stroke-width="0.98" opacity="0.25"/>
<line x1="447.8" y1="118.7" x2="447.8" y2="121.1" stroke="#6e3ec4" stroke-width="0.55" opacity="0.20"/>
<line x1="442.7" y1="123.3" x2="442.7" y2="125.3" stroke="#6e3ec4" stroke-width="0.56" opacity="0.35"/>
<line x1="487.5" y1="103.4" x2="487.5" y2="108.2" stroke="#6e3ec4" stroke-width="0.98" opacity="0.10"/>
<line x1="414.0" y1="132.2" x2="414.0" y2="134.0" stroke="#6e3ec4" stroke-width="0.67" opacity="0.04"/>
<line x1="488.0" y1="107.4" x2="488.0" y2="111.4" stroke="#6e3ec4" stroke-width="0.76" opacity="0.24"/>
<line x1="500.5" y1="103.7" x2="500.5" y2="106.3" stroke="#6e3ec4" stroke-width="0.80" opacity="0.05"/>
<line x1="490.5" y1="107.9" x2="490.5" y2="109.8" stroke="#6e3ec4" stroke-width="0.62" opacity="0.17"/>
<line x1="521.5" y1="94.2" x2="521.5" y2="97.9" stroke="#6e3ec4" stroke-width="0.95" opacity="0.02"/>
<line x1="429.3" y1="128.6" x2="429.3" y2="131.9" stroke="#6e3ec4" stroke-width="0.75" opacity="0.23"/>
<line x1="494.2" y1="105.8" x2="494.2" y2="107.8" stroke="#6e3ec4" stroke-width="0.57" opacity="0.09"/>
<line x1="519.0" y1="96.7" x2="519.0" y2="99.3" stroke="#6e3ec4" stroke-width="0.80" opacity="0.01"/>
<line x1="419.3" y1="135.8" x2="419.3" y2="137.8" stroke="#6e3ec4" stroke-width="0.56" opacity="0.06"/>
<line x1="464.3" y1="114.3" x2="464.3" y2="117.6" stroke="#6e3ec4" stroke-width="0.97" opacity="0.24"/>
<line x1="455.4" y1="117.9" x2="455.4" y2="121.4" stroke="#6e3ec4" stroke-width="0.77" opacity="0.19"/>
<line x1="507.9" y1="98.7" x2="507.9" y2="101.4" stroke="#6e3ec4" stroke-width="0.79" opacity="0.05"/>
<line x1="468.7" y1="110.6" x2="468.7" y2="113.1" stroke="#6e3ec4" stroke-width="0.56" opacity="0.14"/>
<line x1="511.4" y1="102.0" x2="511.4" y2="104.1" stroke="#6e3ec4" stroke-width="0.94" opacity="0.08"/>
<line x1="520.8" y1="94.8" x2="520.8" y2="99.7" stroke="#6e3ec4" stroke-width="0.82" opacity="0.02"/>
<line x1="500.4" y1="102.3" x2="500.4" y2="105.3" stroke="#6e3ec4" stroke-width="0.98" opacity="0.15"/>
<line x1="497.0" y1="100.1" x2="497.0" y2="104.7" stroke="#6e3ec4" stroke-width="0.90" opacity="0.08"/>
<line x1="505.5" y1="102.7" x2="505.5" y2="104.3" stroke="#6e3ec4" stroke-width="0.91" opacity="0.06"/>
<line x1="440.7" y1="125.2" x2="440.7" y2="129.3" stroke="#6e3ec4" stroke-width="0.67" opacity="0.15"/>
<line x1="432.7" y1="128.7" x2="432.7" y2="131.7" stroke="#6e3ec4" stroke-width="0.97" opacity="0.36"/>
<line x1="494.4" y1="102.2" x2="494.4" y2="106.3" stroke="#6e3ec4" stroke-width="0.56" opacity="0.08"/>
<line x1="505.1" y1="101.2" x2="505.1" y2="103.6" stroke="#6e3ec4" stroke-width="0.89" opacity="0.07"/>
<line x1="508.5" y1="100.2" x2="508.5" y2="103.4" stroke="#6e3ec4" stroke-width="0.82" opacity="0.04"/>
<line x1="497.6" y1="102.3" x2="497.6" y2="107.2" stroke="#6e3ec4" stroke-width="0.91" opacity="0.06"/>
<line x1="479.4" y1="107.9" x2="479.4" y2="110.5" stroke="#6e3ec4" stroke-width="0.69" opacity="0.15"/>
<line x1="508.9" y1="98.6" x2="508.9" y2="101.4" stroke="#6e3ec4" stroke-width="0.75" opacity="0.05"/>
<line x1="456.1" y1="114.9" x2="456.1" y2="118.6" stroke="#6e3ec4" stroke-width="0.63" opacity="0.27"/>
<line x1="456.8" y1="118.3" x2="456.8" y2="121.9" stroke="#6e3ec4" stroke-width="0.88" opacity="0.26"/>
<line x1="449.1" y1="119.6" x2="449.1" y2="122.4" stroke="#6e3ec4" stroke-width="0.91" opacity="0.11"/>
<line x1="492.1" y1="105.8" x2="492.1" y2="109.8" stroke="#6e3ec4" stroke-width="0.89" opacity="0.21"/>
<line x1="471.6" y1="114.7" x2="471.6" y2="118.7" stroke="#6e3ec4" stroke-width="0.70" opacity="0.23"/>
<line x1="481.3" y1="111.8" x2="481.3" y2="114.2" stroke="#6e3ec4" stroke-width="0.67" opacity="0.29"/>
<line x1="487.1" y1="106.6" x2="487.1" y2="110.5" stroke="#6e3ec4" stroke-width="0.75" opacity="0.23"/>
<line x1="447.7" y1="120.6" x2="447.7" y2="123.0" stroke="#6e3ec4" stroke-width="0.93" opacity="0.11"/>
<line x1="443.3" y1="122.2" x2="443.3" y2="125.7" stroke="#6e3ec4" stroke-width="0.50" opacity="0.26"/>
<line x1="477.3" y1="108.9" x2="477.3" y2="111.5" stroke="#6e3ec4" stroke-width="0.51" opacity="0.24"/>
<line x1="468.1" y1="110.4" x2="468.1" y2="112.3" stroke="#6e3ec4" stroke-width="0.72" opacity="0.17"/>
<line x1="416.8" y1="127.3" x2="416.8" y2="131.6" stroke="#6e3ec4" stroke-width="0.93" opacity="0.10"/>
<line x1="434.7" y1="121.7" x2="434.7" y2="125.1" stroke="#6e3ec4" stroke-width="0.56" opacity="0.32"/>
<line x1="512.1" y1="101.5" x2="512.1" y2="103.2" stroke="#6e3ec4" stroke-width="0.64" opacity="0.02"/>
<line x1="452.1" y1="118.6" x2="452.1" y2="122.7" stroke="#6e3ec4" stroke-width="0.87" opacity="0.35"/>
<line x1="501.4" y1="102.7" x2="501.4" y2="106.4" stroke="#6e3ec4" stroke-width="0.83" opacity="0.07"/>
<line x1="481.2" y1="110.5" x2="481.2" y2="114.9" stroke="#6e3ec4" stroke-width="0.73" opacity="0.15"/>
<line x1="418.9" y1="133.2" x2="418.9" y2="137.2" stroke="#6e3ec4" stroke-width="0.89" opacity="0.15"/>
<line x1="419.4" y1="130.6" x2="419.4" y2="133.9" stroke="#6e3ec4" stroke-width="0.54" opacity="0.15"/>
<line x1="483.0" y1="107.0" x2="483.0" y2="110.5" stroke="#6e3ec4" stroke-width="0.75" opacity="0.18"/>
<line x1="467.6" y1="115.0" x2="467.6" y2="119.9" stroke="#6e3ec4" stroke-width="0.57" opacity="0.24"/>
<line x1="446.1" y1="121.0" x2="446.1" y2="124.9" stroke="#6e3ec4" stroke-width="0.72" opacity="0.17"/>
<line x1="468.3" y1="112.7" x2="468.3" y2="116.3" stroke="#6e3ec4" stroke-width="0.58" opacity="0.13"/>
<line x1="412.3" y1="132.8" x2="412.3" y2="136.4" stroke="#6e3ec4" stroke-width="0.87" opacity="0.01"/>
<line x1="473.6" y1="111.0" x2="473.6" y2="114.7" stroke="#6e3ec4" stroke-width="0.52" opacity="0.26"/>
<line x1="427.9" y1="128.5" x2="427.9" y2="131.5" stroke="#6e3ec4" stroke-width="0.60" opacity="0.13"/>
<line x1="468.0" y1="113.7" x2="468.0" y2="116.4" stroke="#6e3ec4" stroke-width="0.95" opacity="0.15"/>
<line x1="482.6" y1="106.9" x2="482.6" y2="109.6" stroke="#6e3ec4" stroke-width="0.69" opacity="0.23"/>
<line x1="475.6" y1="111.8" x2="475.6" y2="113.7" stroke="#6e3ec4" stroke-width="0.71" opacity="0.19"/>
<line x1="424.0" y1="130.9" x2="424.0" y2="133.2" stroke="#6e3ec4" stroke-width="0.96" opacity="0.11"/>
<line x1="425.9" y1="125.3" x2="425.9" y2="128.6" stroke="#6e3ec4" stroke-width="0.92" opacity="0.12"/>
<line x1="451.9" y1="120.0" x2="451.9" y2="123.0" stroke="#6e3ec4" stroke-width="0.84" opacity="0.36"/>
<line x1="442.2" y1="124.3" x2="442.2" y2="126.2" stroke="#6e3ec4" stroke-width="0.88" opacity="0.15"/>
<line x1="465.0" y1="114.4" x2="465.0" y2="117.7" stroke="#6e3ec4" stroke-width="0.89" opacity="0.22"/>
<line x1="433.9" y1="125.3" x2="433.9" y2="128.2" stroke="#6e3ec4" stroke-width="0.89" opacity="0.12"/>
<line x1="495.5" y1="104.3" x2="495.5" y2="106.7" stroke="#6e3ec4" stroke-width="0.66" opacity="0.14"/>
<line x1="461.2" y1="115.7" x2="461.2" y2="119.0" stroke="#6e3ec4" stroke-width="0.93" opacity="0.13"/>
<line x1="432.9" y1="124.3" x2="432.9" y2="128.8" stroke="#6e3ec4" stroke-width="0.78" opacity="0.21"/>
<line x1="504.2" y1="99.2" x2="504.2" y2="102.9" stroke="#6e3ec4" stroke-width="0.97" opacity="0.10"/>
<line x1="475.0" y1="108.9" x2="475.0" y2="112.4" stroke="#6e3ec4" stroke-width="0.86" opacity="0.23"/>
<line x1="464.2" y1="112.3" x2="464.2" y2="114.9" stroke="#6e3ec4" stroke-width="0.56" opacity="0.35"/>
<line x1="498.6" y1="100.9" x2="498.6" y2="104.0" stroke="#6e3ec4" stroke-width="0.99" opacity="0.07"/>
<line x1="497.9" y1="105.0" x2="497.9" y2="108.2" stroke="#6e3ec4" stroke-width="0.89" opacity="0.17"/>
<line x1="445.3" y1="117.1" x2="445.3" y2="121.7" stroke="#6e3ec4" stroke-width="0.74" opacity="0.20"/>
<line x1="443.2" y1="121.6" x2="443.2" y2="125.9" stroke="#6e3ec4" stroke-width="0.55" opacity="0.26"/>
<line x1="510.2" y1="98.1" x2="510.2" y2="101.3" stroke="#6e3ec4" stroke-width="0.95" opacity="0.08"/>
<line x1="482.3" y1="109.6" x2="482.3" y2="112.7" stroke="#6e3ec4" stroke-width="0.93" opacity="0.17"/>
<line x1="454.7" y1="118.7" x2="454.7" y2="121.7" stroke="#6e3ec4" stroke-width="0.66" opacity="0.26"/>
<line x1="419.5" y1="130.1" x2="419.5" y2="134.6" stroke="#6e3ec4" stroke-width="0.66" opacity="0.08"/>
<line x1="493.8" y1="103.7" x2="493.8" y2="106.9" stroke="#6e3ec4" stroke-width="0.95" opacity="0.12"/>
<line x1="418.6" y1="130.4" x2="418.6" y2="134.8" stroke="#6e3ec4" stroke-width="0.52" opacity="0.07"/>
<line x1="470.8" y1="111.9" x2="470.8" y2="114.1" stroke="#6e3ec4" stroke-width="0.88" opacity="0.28"/>
<line x1="493.9" y1="104.9" x2="493.9" y2="108.1" stroke="#6e3ec4" stroke-width="0.61" opacity="0.07"/>
<line x1="521.7" y1="95.8" x2="521.7" y2="100.2" stroke="#6e3ec4" stroke-width="0.81" opacity="0.01"/>
<line x1="505.6" y1="99.5" x2="505.6" y2="104.4" stroke="#6e3ec4" stroke-width="0.65" opacity="0.12"/>
<line x1="430.3" y1="126.9" x2="430.3" y2="131.2" stroke="#6e3ec4" stroke-width="0.80" opacity="0.23"/>
<line x1="447.9" y1="117.9" x2="447.9" y2="120.9" stroke="#6e3ec4" stroke-width="0.80" opacity="0.32"/>
<line x1="514.2" y1="101.6" x2="514.2" y2="105.5" stroke="#6e3ec4" stroke-width="0.68" opacity="0.02"/>
<line x1="499.3" y1="104.1" x2="499.3" y2="108.9" stroke="#6e3ec4" stroke-width="0.52" opacity="0.10"/>
<line x1="464.9" y1="115.0" x2="464.9" y2="118.9" stroke="#6e3ec4" stroke-width="0.52" opacity="0.19"/>
<line x1="507.0" y1="99.4" x2="507.0" y2="103.3" stroke="#6e3ec4" stroke-width="0.94" opacity="0.08"/>
<line x1="437.9" y1="126.0" x2="437.9" y2="130.4" stroke="#6e3ec4" stroke-width="0.94" opacity="0.12"/>
<line x1="431.1" y1="126.8" x2="431.1" y2="131.0" stroke="#6e3ec4" stroke-width="0.90" opacity="0.19"/>
<line x1="522.8" y1="98.5" x2="522.8" y2="101.6" stroke="#6e3ec4" stroke-width="0.88" opacity="0.01"/>
<line x1="512.1" y1="102.1" x2="512.1" y2="105.4" stroke="#6e3ec4" stroke-width="0.87" opacity="0.05"/>
<line x1="415.0" y1="132.5" x2="415.0" y2="135.3" stroke="#6e3ec4" stroke-width="0.56" opacity="0.02"/>
<line x1="450.9" y1="121.1" x2="450.9" y2="124.3" stroke="#6e3ec4" stroke-width="0.71" opacity="0.12"/>
<line x1="464.4" y1="114.5" x2="464.4" y2="117.0" stroke="#6e3ec4" stroke-width="0.63" opacity="0.35"/>
<line x1="442.0" y1="122.3" x2="442.0" y2="127.0" stroke="#6e3ec4" stroke-width="0.97" opacity="0.24"/>
<line x1="455.3" y1="119.5" x2="455.3" y2="121.2" stroke="#6e3ec4" stroke-width="0.98" opacity="0.20"/>
<line x1="479.6" y1="108.2" x2="479.6" y2="111.4" stroke="#6e3ec4" stroke-width="0.95" opacity="0.30"/>
<line x1="468.3" y1="115.1" x2="468.3" y2="118.0" stroke="#6e3ec4" stroke-width="0.82" opacity="0.10"/>
<line x1="462.9" y1="114.3" x2="462.9" y2="119.0" stroke="#6e3ec4" stroke-width="0.82" opacity="0.31"/>
<line x1="478.4" y1="111.8" x2="478.4" y2="114.6" stroke="#6e3ec4" stroke-width="0.62" opacity="0.28"/>
<line x1="464.0" y1="113.5" x2="464.0" y2="118.2" stroke="#6e3ec4" stroke-width="0.85" opacity="0.31"/>
<line x1="489.1" y1="102.3" x2="489.1" y2="107.0" stroke="#6e3ec4" stroke-width="0.72" opacity="0.13"/>
<line x1="529.9" y1="59.3" x2="529.9" y2="62.3" stroke="#8a5cd6" stroke-width="0.52" opacity="0.02"/>
<line x1="505.2" y1="73.5" x2="505.2" y2="77.6" stroke="#8a5cd6" stroke-width="0.78" opacity="0.11"/>
<line x1="496.1" y1="74.4" x2="496.1" y2="79.0" stroke="#8a5cd6" stroke-width="0.55" opacity="0.17"/>
<line x1="474.1" y1="86.3" x2="474.1" y2="88.1" stroke="#8a5cd6" stroke-width="0.86" opacity="0.24"/>
<line x1="452.7" y1="98.8" x2="452.7" y2="100.3" stroke="#8a5cd6" stroke-width="0.56" opacity="0.23"/>
<line x1="457.3" y1="93.4" x2="457.3" y2="96.7" stroke="#8a5cd6" stroke-width="0.67" opacity="0.23"/>
<line x1="497.3" y1="77.0" x2="497.3" y2="79.5" stroke="#8a5cd6" stroke-width="0.84" opacity="0.23"/>
<line x1="428.5" y1="110.9" x2="428.5" y2="112.8" stroke="#8a5cd6" stroke-width="0.92" opacity="0.10"/>
<line x1="453.0" y1="98.7" x2="453.0" y2="100.3" stroke="#8a5cd6" stroke-width="0.50" opacity="0.18"/>
<line x1="526.3" y1="60.6" x2="526.3" y2="64.9" stroke="#8a5cd6" stroke-width="0.88" opacity="0.05"/>
<line x1="528.9" y1="58.8" x2="528.9" y2="62.5" stroke="#8a5cd6" stroke-width="0.74" opacity="0.07"/>
<line x1="434.1" y1="109.4" x2="434.1" y2="114.1" stroke="#8a5cd6" stroke-width="0.89" opacity="0.11"/>
<line x1="532.6" y1="63.4" x2="532.6" y2="64.9" stroke="#8a5cd6" stroke-width="0.98" opacity="0.02"/>
<line x1="493.1" y1="80.9" x2="493.1" y2="82.8" stroke="#8a5cd6" stroke-width="0.59" opacity="0.27"/>
<line x1="449.2" y1="101.0" x2="449.2" y2="105.6" stroke="#8a5cd6" stroke-width="0.60" opacity="0.27"/>
<line x1="485.0" y1="81.9" x2="485.0" y2="86.8" stroke="#8a5cd6" stroke-width="0.83" opacity="0.30"/>
<line x1="448.3" y1="96.2" x2="448.3" y2="100.9" stroke="#8a5cd6" stroke-width="0.52" opacity="0.26"/>
<line x1="460.0" y1="95.3" x2="460.0" y2="99.4" stroke="#8a5cd6" stroke-width="0.90" opacity="0.12"/>
<line x1="477.7" y1="88.6" x2="477.7" y2="92.4" stroke="#8a5cd6" stroke-width="0.69" opacity="0.15"/>
<line x1="441.3" y1="105.1" x2="441.3" y2="109.5" stroke="#8a5cd6" stroke-width="0.78" opacity="0.14"/>
<line x1="450.4" y1="101.1" x2="450.4" y2="105.7" stroke="#8a5cd6" stroke-width="0.91" opacity="0.17"/>
<line x1="458.8" y1="96.3" x2="458.8" y2="99.2" stroke="#8a5cd6" stroke-width="0.69" opacity="0.19"/>
<line x1="426.2" y1="116.5" x2="426.2" y2="120.9" stroke="#8a5cd6" stroke-width="0.52" opacity="0.07"/>
<line x1="455.7" y1="98.5" x2="455.7" y2="102.0" stroke="#8a5cd6" stroke-width="0.51" opacity="0.18"/>
<line x1="486.4" y1="81.9" x2="486.4" y2="85.3" stroke="#8a5cd6" stroke-width="0.53" opacity="0.17"/>
<line x1="472.0" y1="91.9" x2="472.0" y2="93.5" stroke="#8a5cd6" stroke-width="0.60" opacity="0.18"/>
<line x1="495.8" y1="73.2" x2="495.8" y2="75.5" stroke="#8a5cd6" stroke-width="0.99" opacity="0.10"/>
<line x1="430.3" y1="115.6" x2="430.3" y2="120.1" stroke="#8a5cd6" stroke-width="0.88" opacity="0.07"/>
<line x1="443.3" y1="98.0" x2="443.3" y2="102.8" stroke="#8a5cd6" stroke-width="0.66" opacity="0.17"/>
<line x1="478.4" y1="87.0" x2="478.4" y2="88.9" stroke="#8a5cd6" stroke-width="0.81" opacity="0.23"/>
<line x1="459.2" y1="94.3" x2="459.2" y2="97.3" stroke="#8a5cd6" stroke-width="0.55" opacity="0.12"/>
<line x1="516.9" y1="64.6" x2="516.9" y2="68.7" stroke="#8a5cd6" stroke-width="0.98" opacity="0.07"/>
<line x1="440.8" y1="103.5" x2="440.8" y2="107.6" stroke="#8a5cd6" stroke-width="0.71" opacity="0.20"/>
<line x1="428.1" y1="109.1" x2="428.1" y2="111.7" stroke="#8a5cd6" stroke-width="0.94" opacity="0.04"/>
<line x1="527.1" y1="59.0" x2="527.1" y2="61.7" stroke="#8a5cd6" stroke-width="0.67" opacity="0.06"/>
<line x1="420.0" y1="115.0" x2="420.0" y2="118.9" stroke="#8a5cd6" stroke-width="0.80" opacity="0.04"/>
<line x1="497.0" y1="73.2" x2="497.0" y2="77.6" stroke="#8a5cd6" stroke-width="0.94" opacity="0.25"/>
<line x1="466.1" y1="94.0" x2="466.1" y2="96.9" stroke="#8a5cd6" stroke-width="0.68" opacity="0.08"/>
<line x1="505.1" y1="69.4" x2="505.1" y2="71.6" stroke="#8a5cd6" stroke-width="0.60" opacity="0.23"/>
<line x1="481.6" y1="86.2" x2="481.6" y2="88.0" stroke="#8a5cd6" stroke-width="0.76" opacity="0.08"/>
<line x1="436.1" y1="109.6" x2="436.1" y2="114.3" stroke="#8a5cd6" stroke-width="0.56" opacity="0.17"/>
<line x1="529.8" y1="61.1" x2="529.8" y2="63.3" stroke="#8a5cd6" stroke-width="0.79" opacity="0.04"/>
<line x1="474.3" y1="91.5" x2="474.3" y2="94.7" stroke="#8a5cd6" stroke-width="0.87" opacity="0.30"/>
<line x1="422.1" y1="115.6" x2="422.1" y2="118.3" stroke="#8a5cd6" stroke-width="0.53" opacity="0.07"/>
<line x1="494.9" y1="78.0" x2="494.9" y2="82.3" stroke="#8a5cd6" stroke-width="0.90" opacity="0.22"/>
<line x1="431.9" y1="113.0" x2="431.9" y2="117.7" stroke="#8a5cd6" stroke-width="0.93" opacity="0.19"/>
<line x1="480.1" y1="85.6" x2="480.1" y2="87.4" stroke="#8a5cd6" stroke-width="0.52" opacity="0.15"/>
<line x1="462.7" y1="91.9" x2="462.7" y2="94.0" stroke="#8a5cd6" stroke-width="0.78" opacity="0.13"/>
<line x1="476.8" y1="82.8" x2="476.8" y2="86.8" stroke="#8a5cd6" stroke-width="0.69" opacity="0.27"/>
<line x1="450.6" y1="105.7" x2="450.6" y2="109.0" stroke="#8a5cd6" stroke-width="0.92" opacity="0.14"/>
<line x1="497.5" y1="74.9" x2="497.5" y2="78.3" stroke="#8a5cd6" stroke-width="1.00" opacity="0.20"/>
<line x1="533.1" y1="57.3" x2="533.1" y2="60.9" stroke="#8a5cd6" stroke-width="0.88" opacity="0.02"/>
<line x1="444.8" y1="105.9" x2="444.8" y2="109.3" stroke="#8a5cd6" stroke-width="0.59" opacity="0.17"/>
<line x1="467.9" y1="85.5" x2="467.9" y2="88.4" stroke="#8a5cd6" stroke-width="0.91" opacity="0.29"/>
<line x1="533.2" y1="57.8" x2="533.2" y2="62.2" stroke="#8a5cd6" stroke-width="0.76" opacity="0.02"/>
<line x1="518.8" y1="66.7" x2="518.8" y2="71.1" stroke="#8a5cd6" stroke-width="0.83" opacity="0.10"/>
<line x1="504.1" y1="70.6" x2="504.1" y2="72.9" stroke="#8a5cd6" stroke-width="0.66" opacity="0.08"/>
<line x1="518.9" y1="68.7" x2="518.9" y2="72.7" stroke="#8a5cd6" stroke-width="0.75" opacity="0.12"/>
<line x1="518.9" y1="62.3" x2="518.9" y2="67.0" stroke="#8a5cd6" stroke-width="0.70" opacity="0.11"/>
<line x1="492.5" y1="82.4" x2="492.5" y2="84.9" stroke="#8a5cd6" stroke-width="0.90" opacity="0.25"/>
<line x1="506.5" y1="71.8" x2="506.5" y2="74.6" stroke="#8a5cd6" stroke-width="0.98" opacity="0.16"/>
<line x1="451.4" y1="98.9" x2="451.4" y2="102.7" stroke="#8a5cd6" stroke-width="0.93" opacity="0.26"/>
<line x1="423.2" y1="117.7" x2="423.2" y2="121.6" stroke="#8a5cd6" stroke-width="0.60" opacity="0.05"/>
<line x1="465.5" y1="87.9" x2="465.5" y2="92.2" stroke="#8a5cd6" stroke-width="0.74" opacity="0.26"/>
<line x1="486.7" y1="85.2" x2="486.7" y2="86.9" stroke="#8a5cd6" stroke-width="0.86" opacity="0.09"/>
<line x1="496.8" y1="79.5" x2="496.8" y2="81.6" stroke="#8a5cd6" stroke-width="0.99" opacity="0.13"/>
<line x1="419.1" y1="121.0" x2="419.1" y2="123.4" stroke="#8a5cd6" stroke-width="0.69" opacity="0.01"/>
<line x1="531.5" y1="60.5" x2="531.5" y2="62.7" stroke="#8a5cd6" stroke-width="0.88" opacity="0.04"/>
<line x1="528.9" y1="56.9" x2="528.9" y2="60.5" stroke="#8a5cd6" stroke-width="0.99" opacity="0.04"/>
<line x1="464.1" y1="92.5" x2="464.1" y2="95.0" stroke="#8a5cd6" stroke-width="0.63" opacity="0.08"/>
<line x1="469.4" y1="96.0" x2="469.4" y2="97.7" stroke="#8a5cd6" stroke-width="0.66" opacity="0.23"/>
<line x1="493.7" y1="79.5" x2="493.7" y2="83.4" stroke="#8a5cd6" stroke-width="0.84" opacity="0.23"/>
<line x1="478.2" y1="86.6" x2="478.2" y2="90.8" stroke="#8a5cd6" stroke-width="0.93" opacity="0.15"/>
<line x1="468.9" y1="89.8" x2="468.9" y2="92.7" stroke="#8a5cd6" stroke-width="0.89" opacity="0.13"/>
<line x1="444.0" y1="105.6" x2="444.0" y2="108.3" stroke="#8a5cd6" stroke-width="0.87" opacity="0.29"/>
<line x1="506.8" y1="66.6" x2="506.8" y2="69.9" stroke="#8a5cd6" stroke-width="0.94" opacity="0.18"/>
<line x1="506.2" y1="72.2" x2="506.2" y2="77.0" stroke="#8a5cd6" stroke-width="0.85" opacity="0.17"/>
<line x1="496.9" y1="75.3" x2="496.9" y2="78.8" stroke="#8a5cd6" stroke-width="0.74" opacity="0.26"/>
<line x1="486.1" y1="83.6" x2="486.1" y2="85.9" stroke="#8a5cd6" stroke-width="0.84" opacity="0.12"/>
<line x1="512.6" y1="66.4" x2="512.6" y2="71.2" stroke="#8a5cd6" stroke-width="0.58" opacity="0.08"/>
<line x1="509.6" y1="71.0" x2="509.6" y2="73.8" stroke="#8a5cd6" stroke-width="0.62" opacity="0.17"/>
<line x1="505.6" y1="69.3" x2="505.6" y2="73.2" stroke="#8a5cd6" stroke-width="0.89" opacity="0.09"/>
<line x1="443.5" y1="105.3" x2="443.5" y2="108.8" stroke="#8a5cd6" stroke-width="0.61" opacity="0.24"/>
<line x1="484.1" y1="82.2" x2="484.1" y2="85.2" stroke="#8a5cd6" stroke-width="0.80" opacity="0.24"/>
<line x1="495.6" y1="75.5" x2="495.6" y2="78.3" stroke="#8a5cd6" stroke-width="0.98" opacity="0.17"/>
<line x1="422.4" y1="117.4" x2="422.4" y2="120.4" stroke="#8a5cd6" stroke-width="0.76" opacity="0.05"/>
<line x1="429.5" y1="113.5" x2="429.5" y2="118.3" stroke="#8a5cd6" stroke-width="0.70" opacity="0.07"/>
<line x1="438.7" y1="105.2" x2="438.7" y2="109.4" stroke="#8a5cd6" stroke-width="0.75" opacity="0.11"/>
<line x1="533.2" y1="57.9" x2="533.2" y2="59.4" stroke="#8a5cd6" stroke-width="0.79" opacity="0.02"/>
<line x1="518.5" y1="63.8" x2="518.5" y2="67.6" stroke="#8a5cd6" stroke-width="0.78" opacity="0.05"/>
<line x1="465.1" y1="96.5" x2="465.1" y2="98.4" stroke="#8a5cd6" stroke-width="0.97" opacity="0.19"/>
<line x1="496.9" y1="77.2" x2="496.9" y2="80.4" stroke="#8a5cd6" stroke-width="0.63" opacity="0.15"/>
<line x1="486.1" y1="83.5" x2="486.1" y2="87.6" stroke="#8a5cd6" stroke-width="0.80" opacity="0.08"/>
<line x1="454.3" y1="95.5" x2="454.3" y2="98.4" stroke="#8a5cd6" stroke-width="0.53" opacity="0.10"/>
<line x1="494.3" y1="80.3" x2="494.3" y2="82.7" stroke="#8a5cd6" stroke-width="0.78" opacity="0.14"/>
<line x1="428.2" y1="115.0" x2="428.2" y2="116.7" stroke="#8a5cd6" stroke-width="0.89" opacity="0.05"/>
<line x1="485.4" y1="78.2" x2="485.4" y2="79.9" stroke="#8a5cd6" stroke-width="0.82" opacity="0.13"/>
<line x1="460.0" y1="92.1" x2="460.0" y2="95.7" stroke="#8a5cd6" stroke-width="0.74" opacity="0.30"/>
<line x1="435.3" y1="107.7" x2="435.3" y2="109.4" stroke="#8a5cd6" stroke-width="0.80" opacity="0.21"/>
<line x1="457.4" y1="98.3" x2="457.4" y2="102.1" stroke="#8a5cd6" stroke-width="0.88" opacity="0.19"/>
<line x1="449.9" y1="99.4" x2="449.9" y2="101.0" stroke="#8a5cd6" stroke-width="0.59" opacity="0.27"/>
<line x1="425.0" y1="113.8" x2="425.0" y2="118.1" stroke="#8a5cd6" stroke-width="0.51" opacity="0.06"/>
<line x1="503.1" y1="70.1" x2="503.1" y2="74.9" stroke="#8a5cd6" stroke-width="0.87" opacity="0.14"/>
<line x1="427.3" y1="110.4" x2="427.3" y2="113.1" stroke="#8a5cd6" stroke-width="0.76" opacity="0.10"/>
<line x1="469.5" y1="93.7" x2="469.5" y2="96.1" stroke="#8a5cd6" stroke-width="0.67" opacity="0.23"/>
<line x1="500.7" y1="70.3" x2="500.7" y2="74.7" stroke="#8a5cd6" stroke-width="0.64" opacity="0.16"/>
<line x1="476.2" y1="85.8" x2="476.2" y2="90.7" stroke="#8a5cd6" stroke-width="0.82" opacity="0.29"/>
<line x1="509.0" y1="72.8" x2="509.0" y2="75.6" stroke="#8a5cd6" stroke-width="0.86" opacity="0.17"/>
<line x1="472.4" y1="90.2" x2="472.4" y2="93.7" stroke="#8a5cd6" stroke-width="0.58" opacity="0.24"/>
<line x1="526.2" y1="64.2" x2="526.2" y2="65.9" stroke="#8a5cd6" stroke-width="0.72" opacity="0.04"/>
<line x1="427.4" y1="114.3" x2="427.4" y2="118.1" stroke="#8a5cd6" stroke-width="0.86" opacity="0.13"/>
<line x1="450.6" y1="101.6" x2="450.6" y2="105.0" stroke="#8a5cd6" stroke-width="0.73" opacity="0.19"/>
<line x1="533.4" y1="53.8" x2="533.4" y2="57.7" stroke="#8a5cd6" stroke-width="0.82" opacity="0.01"/>
<line x1="462.7" y1="95.8" x2="462.7" y2="99.9" stroke="#8a5cd6" stroke-width="0.77" opacity="0.11"/>
<line x1="494.0" y1="79.1" x2="494.0" y2="81.0" stroke="#8a5cd6" stroke-width="0.75" opacity="0.09"/>
<line x1="532.1" y1="59.3" x2="532.1" y2="61.8" stroke="#8a5cd6" stroke-width="0.99" opacity="0.02"/>
<line x1="469.1" y1="91.4" x2="469.1" y2="94.5" stroke="#8a5cd6" stroke-width="0.68" opacity="0.18"/>
<line x1="500.5" y1="76.2" x2="500.5" y2="78.2" stroke="#8a5cd6" stroke-width="0.82" opacity="0.18"/>
<line x1="453.3" y1="104.0" x2="453.3" y2="105.9" stroke="#8a5cd6" stroke-width="0.63" opacity="0.10"/>
<line x1="437.0" y1="106.9" x2="437.0" y2="111.7" stroke="#8a5cd6" stroke-width="0.92" opacity="0.14"/>
<line x1="501.4" y1="75.4" x2="501.4" y2="79.2" stroke="#8a5cd6" stroke-width="0.66" opacity="0.16"/>
<line x1="469.3" y1="91.0" x2="469.3" y2="93.1" stroke="#8a5cd6" stroke-width="0.77" opacity="0.22"/>
<line x1="474.4" y1="86.4" x2="474.4" y2="91.0" stroke="#8a5cd6" stroke-width="0.83" opacity="0.25"/>
<line x1="507.3" y1="72.4" x2="507.3" y2="76.5" stroke="#8a5cd6" stroke-width="0.88" opacity="0.18"/>
<line x1="504.8" y1="73.5" x2="504.8" y2="78.2" stroke="#8a5cd6" stroke-width="0.88" opacity="0.10"/>
<line x1="522.6" y1="59.1" x2="522.6" y2="63.8" stroke="#8a5cd6" stroke-width="0.94" opacity="0.03"/>
<line x1="531.0" y1="56.2" x2="531.0" y2="58.8" stroke="#8a5cd6" stroke-width="0.73" opacity="0.03"/>
<line x1="456.3" y1="94.3" x2="456.3" y2="98.1" stroke="#8a5cd6" stroke-width="0.71" opacity="0.22"/>
<line x1="498.6" y1="72.8" x2="498.6" y2="77.5" stroke="#8a5cd6" stroke-width="0.88" opacity="0.07"/>
<line x1="458.5" y1="93.3" x2="458.5" y2="97.1" stroke="#8a5cd6" stroke-width="0.73" opacity="0.26"/>
<line x1="474.4" y1="85.1" x2="474.4" y2="89.5" stroke="#8a5cd6" stroke-width="0.66" opacity="0.24"/>
<line x1="504.4" y1="71.9" x2="504.4" y2="75.8" stroke="#8a5cd6" stroke-width="0.59" opacity="0.07"/>
<line x1="477.2" y1="90.7" x2="477.2" y2="94.8" stroke="#8a5cd6" stroke-width="0.97" opacity="0.18"/>
<line x1="522.8" y1="63.8" x2="522.8" y2="66.5" stroke="#8a5cd6" stroke-width="0.65" opacity="0.09"/>
<line x1="423.0" y1="118.5" x2="423.0" y2="120.3" stroke="#8a5cd6" stroke-width="0.67" opacity="0.06"/>
<line x1="501.5" y1="71.0" x2="501.5" y2="75.0" stroke="#8a5cd6" stroke-width="0.78" opacity="0.18"/>
<line x1="444.5" y1="102.8" x2="444.5" y2="104.5" stroke="#8a5cd6" stroke-width="0.87" opacity="0.26"/>
<line x1="445.4" y1="104.6" x2="445.4" y2="107.0" stroke="#8a5cd6" stroke-width="0.78" opacity="0.26"/>
<line x1="534.0" y1="56.8" x2="534.0" y2="61.2" stroke="#8a5cd6" stroke-width="0.66" opacity="0.03"/>
<line x1="531.9" y1="58.0" x2="531.9" y2="61.3" stroke="#8a5cd6" stroke-width="0.64" opacity="0.04"/>
<line x1="465.7" y1="101.1" x2="465.7" y2="104.4" stroke="#8a5cd6" stroke-width="0.68" opacity="0.12"/>
<line x1="503.5" y1="71.5" x2="503.5" y2="74.6" stroke="#8a5cd6" stroke-width="0.95" opacity="0.24"/>
<line x1="459.1" y1="99.1" x2="459.1" y2="104.0" stroke="#8a5cd6" stroke-width="0.60" opacity="0.16"/>
<line x1="442.5" y1="102.5" x2="442.5" y2="104.7" stroke="#8a5cd6" stroke-width="0.63" opacity="0.24"/>
<line x1="530.1" y1="61.0" x2="530.1" y2="63.3" stroke="#8a5cd6" stroke-width="0.88" opacity="0.05"/>
<line x1="436.9" y1="105.2" x2="436.9" y2="108.4" stroke="#8a5cd6" stroke-width="0.50" opacity="0.08"/>
<line x1="456.0" y1="101.6" x2="456.0" y2="103.8" stroke="#8a5cd6" stroke-width="0.67" opacity="0.27"/>
<line x1="425.3" y1="112.0" x2="425.3" y2="114.5" stroke="#8a5cd6" stroke-width="0.84" opacity="0.03"/>
<line x1="532.4" y1="58.4" x2="532.4" y2="61.0" stroke="#8a5cd6" stroke-width="0.74" opacity="0.03"/>
<line x1="491.3" y1="78.8" x2="491.3" y2="80.8" stroke="#8a5cd6" stroke-width="1.00" opacity="0.29"/>
<line x1="464.7" y1="95.7" x2="464.7" y2="97.5" stroke="#8a5cd6" stroke-width="0.56" opacity="0.27"/>
<line x1="516.9" y1="65.9" x2="516.9" y2="70.9" stroke="#8a5cd6" stroke-width="0.56" opacity="0.14"/>
<line x1="492.2" y1="82.7" x2="492.2" y2="85.0" stroke="#8a5cd6" stroke-width="0.95" opacity="0.23"/>
<line x1="480.2" y1="88.0" x2="480.2" y2="91.9" stroke="#8a5cd6" stroke-width="0.70" opacity="0.26"/>
<line x1="484.4" y1="85.2" x2="484.4" y2="89.5" stroke="#8a5cd6" stroke-width="0.66" opacity="0.25"/>
<line x1="427.5" y1="114.9" x2="427.5" y2="119.4" stroke="#8a5cd6" stroke-width="0.66" opacity="0.08"/>
<line x1="470.4" y1="95.6" x2="470.4" y2="97.9" stroke="#8a5cd6" stroke-width="0.97" opacity="0.08"/>
<line x1="515.2" y1="70.5" x2="515.2" y2="74.8" stroke="#8a5cd6" stroke-width="0.88" opacity="0.04"/>
<line x1="481.2" y1="85.9" x2="481.2" y2="89.1" stroke="#8a5cd6" stroke-width="0.82" opacity="0.15"/>
<line x1="445.6" y1="103.1" x2="445.6" y2="108.0" stroke="#8a5cd6" stroke-width="0.57" opacity="0.26"/>
<line x1="430.6" y1="117.2" x2="430.6" y2="119.3" stroke="#8a5cd6" stroke-width="0.86" opacity="0.07"/>
<line x1="504.0" y1="72.0" x2="504.0" y2="76.8" stroke="#8a5cd6" stroke-width="0.83" opacity="0.13"/>
<line x1="497.1" y1="75.1" x2="497.1" y2="77.6" stroke="#8a5cd6" stroke-width="0.88" opacity="0.10"/>
<line x1="459.4" y1="94.8" x2="459.4" y2="99.0" stroke="#8a5cd6" stroke-width="0.75" opacity="0.25"/>
<line x1="517.0" y1="69.3" x2="517.0" y2="72.4" stroke="#8a5cd6" stroke-width="0.91" opacity="0.07"/>
<line x1="471.2" y1="93.1" x2="471.2" y2="97.9" stroke="#8a5cd6" stroke-width="0.97" opacity="0.25"/>
<line x1="515.1" y1="67.0" x2="515.1" y2="71.0" stroke="#8a5cd6" stroke-width="0.74" opacity="0.07"/>
<line x1="477.9" y1="89.5" x2="477.9" y2="92.5" stroke="#8a5cd6" stroke-width="0.74" opacity="0.08"/>
<line x1="447.8" y1="104.5" x2="447.8" y2="107.1" stroke="#8a5cd6" stroke-width="0.85" opacity="0.22"/>
<line x1="421.9" y1="119.6" x2="421.9" y2="122.9" stroke="#8a5cd6" stroke-width="0.85" opacity="0.05"/>
<line x1="526.4" y1="59.8" x2="526.4" y2="63.2" stroke="#8a5cd6" stroke-width="0.69" opacity="0.07"/>
<line x1="516.3" y1="68.6" x2="516.3" y2="71.3" stroke="#8a5cd6" stroke-width="0.95" opacity="0.16"/>
<line x1="420.0" y1="121.8" x2="420.0" y2="123.4" stroke="#8a5cd6" stroke-width="0.86" opacity="0.02"/>
<line x1="451.9" y1="100.6" x2="451.9" y2="104.4" stroke="#8a5cd6" stroke-width="0.68" opacity="0.15"/>
<line x1="510.4" y1="65.4" x2="510.4" y2="69.4" stroke="#8a5cd6" stroke-width="0.99" opacity="0.06"/>
<line x1="512.3" y1="69.9" x2="512.3" y2="72.6" stroke="#8a5cd6" stroke-width="0.69" opacity="0.16"/>
<line x1="492.6" y1="83.0" x2="492.6" y2="86.9" stroke="#8a5cd6" stroke-width="0.58" opacity="0.21"/>
<line x1="455.5" y1="99.2" x2="455.5" y2="103.2" stroke="#8a5cd6" stroke-width="0.61" opacity="0.26"/>
<line x1="487.7" y1="80.4" x2="487.7" y2="83.8" stroke="#8a5cd6" stroke-width="0.79" opacity="0.18"/>
<line x1="465.5" y1="93.2" x2="465.5" y2="95.3" stroke="#8a5cd6" stroke-width="0.89" opacity="0.26"/>
<line x1="473.8" y1="88.0" x2="473.8" y2="92.7" stroke="#8a5cd6" stroke-width="0.57" opacity="0.10"/>
<line x1="477.5" y1="86.8" x2="477.5" y2="91.2" stroke="#8a5cd6" stroke-width="0.87" opacity="0.18"/>
<line x1="489.5" y1="78.1" x2="489.5" y2="80.0" stroke="#8a5cd6" stroke-width="0.63" opacity="0.21"/>
<line x1="523.0" y1="65.8" x2="523.0" y2="68.9" stroke="#8a5cd6" stroke-width="0.66" opacity="0.09"/>
<line x1="467.8" y1="91.3" x2="467.8" y2="93.9" stroke="#8a5cd6" stroke-width="0.78" opacity="0.30"/>
<line x1="527.9" y1="61.3" x2="527.9" y2="64.3" stroke="#8a5cd6" stroke-width="0.94" opacity="0.03"/>
<line x1="439.2" y1="108.2" x2="439.2" y2="110.9" stroke="#8a5cd6" stroke-width="0.61" opacity="0.25"/>
<line x1="427.8" y1="110.5" x2="427.8" y2="113.6" stroke="#8a5cd6" stroke-width="0.84" opacity="0.05"/>
<line x1="478.2" y1="91.4" x2="478.2" y2="95.3" stroke="#8a5cd6" stroke-width="0.79" opacity="0.26"/>
<line x1="534.4" y1="58.6" x2="534.4" y2="60.9" stroke="#8a5cd6" stroke-width="0.90" opacity="0.01"/>
<line x1="476.6" y1="88.0" x2="476.6" y2="92.2" stroke="#8a5cd6" stroke-width="0.55" opacity="0.18"/>
<line x1="508.4" y1="68.3" x2="508.4" y2="72.4" stroke="#8a5cd6" stroke-width="0.63" opacity="0.14"/>
<line x1="418.2" y1="119.4" x2="418.2" y2="122.2" stroke="#8a5cd6" stroke-width="0.95" opacity="0.01"/>
<line x1="442.8" y1="106.0" x2="442.8" y2="108.1" stroke="#8a5cd6" stroke-width="0.76" opacity="0.27"/>
<line x1="483.0" y1="86.1" x2="483.0" y2="88.6" stroke="#8a5cd6" stroke-width="0.87" opacity="0.12"/>
<line x1="467.6" y1="90.2" x2="467.6" y2="95.1" stroke="#8a5cd6" stroke-width="0.81" opacity="0.27"/>
<line x1="484.0" y1="83.9" x2="484.0" y2="85.9" stroke="#8a5cd6" stroke-width="0.78" opacity="0.23"/>
<line x1="467.8" y1="88.3" x2="467.8" y2="91.7" stroke="#8a5cd6" stroke-width="0.81" opacity="0.28"/>
<line x1="457.3" y1="98.8" x2="457.3" y2="100.6" stroke="#8a5cd6" stroke-width="0.88" opacity="0.18"/>
<line x1="501.1" y1="75.1" x2="501.1" y2="77.0" stroke="#8a5cd6" stroke-width="0.59" opacity="0.19"/>
<line x1="477.8" y1="88.6" x2="477.8" y2="90.3" stroke="#8a5cd6" stroke-width="0.63" opacity="0.15"/>
<line x1="426.9" y1="118.0" x2="426.9" y2="119.6" stroke="#8a5cd6" stroke-width="0.52" opacity="0.13"/>
<line x1="428.4" y1="110.4" x2="428.4" y2="114.5" stroke="#8a5cd6" stroke-width="0.68" opacity="0.08"/>
<line x1="465.3" y1="86.1" x2="465.3" y2="88.1" stroke="#8a5cd6" stroke-width="0.91" opacity="0.28"/>
<line x1="534.2" y1="59.7" x2="534.2" y2="63.8" stroke="#8a5cd6" stroke-width="1.00" opacity="0.01"/>
<line x1="436.4" y1="107.9" x2="436.4" y2="110.8" stroke="#8a5cd6" stroke-width="0.56" opacity="0.13"/>
<line x1="529.7" y1="56.6" x2="529.7" y2="61.5" stroke="#8a5cd6" stroke-width="0.55" opacity="0.06"/>
<line x1="525.3" y1="58.4" x2="525.3" y2="61.9" stroke="#8a5cd6" stroke-width="0.81" opacity="0.09"/>
<line x1="442.5" y1="105.0" x2="442.5" y2="107.8" stroke="#8a5cd6" stroke-width="0.52" opacity="0.11"/>
<line x1="437.0" y1="111.1" x2="437.0" y2="112.6" stroke="#8a5cd6" stroke-width="0.63" opacity="0.21"/>
<line x1="525.8" y1="64.9" x2="525.8" y2="69.0" stroke="#8a5cd6" stroke-width="0.73" opacity="0.05"/>
<line x1="448.5" y1="102.8" x2="448.5" y2="106.3" stroke="#8a5cd6" stroke-width="0.86" opacity="0.13"/>
<line x1="462.0" y1="95.5" x2="462.0" y2="98.0" stroke="#8a5cd6" stroke-width="0.91" opacity="0.09"/>
<line x1="499.5" y1="74.2" x2="499.5" y2="76.0" stroke="#8a5cd6" stroke-width="0.71" opacity="0.17"/>
<line x1="506.1" y1="70.6" x2="506.1" y2="73.3" stroke="#8a5cd6" stroke-width="0.92" opacity="0.12"/>
<line x1="470.9" y1="88.2" x2="470.9" y2="90.9" stroke="#8a5cd6" stroke-width="0.67" opacity="0.25"/>
<line x1="530.4" y1="58.4" x2="530.4" y2="60.9" stroke="#8a5cd6" stroke-width="0.60" opacity="0.03"/>
<line x1="449.0" y1="105.0" x2="449.0" y2="109.4" stroke="#8a5cd6" stroke-width="0.91" opacity="0.08"/>
<line x1="508.3" y1="74.3" x2="508.3" y2="76.3" stroke="#8a5cd6" stroke-width="0.87" opacity="0.17"/>
<line x1="424.0" y1="115.2" x2="424.0" y2="117.9" stroke="#8a5cd6" stroke-width="0.94" opacity="0.09"/>
<line x1="434.4" y1="106.3" x2="434.4" y2="108.6" stroke="#8a5cd6" stroke-width="0.82" opacity="0.13"/>
<line x1="496.9" y1="78.7" x2="496.9" y2="81.2" stroke="#8a5cd6" stroke-width="0.57" opacity="0.28"/>
<line x1="480.8" y1="86.6" x2="480.8" y2="88.7" stroke="#8a5cd6" stroke-width="0.83" opacity="0.10"/>
<line x1="475.4" y1="87.4" x2="475.4" y2="92.4" stroke="#8a5cd6" stroke-width="0.66" opacity="0.21"/>
<line x1="491.9" y1="82.3" x2="491.9" y2="86.3" stroke="#8a5cd6" stroke-width="0.50" opacity="0.23"/>
<line x1="525.0" y1="55.1" x2="525.0" y2="59.1" stroke="#8a5cd6" stroke-width="0.67" opacity="0.03"/>
<line x1="481.9" y1="84.9" x2="481.9" y2="87.7" stroke="#8a5cd6" stroke-width="0.87" opacity="0.18"/>
<line x1="474.1" y1="90.5" x2="474.1" y2="92.6" stroke="#8a5cd6" stroke-width="0.52" opacity="0.23"/>
<line x1="489.9" y1="83.5" x2="489.9" y2="85.1" stroke="#8a5cd6" stroke-width="0.59" opacity="0.27"/>
<line x1="467.3" y1="95.3" x2="467.3" y2="98.2" stroke="#8a5cd6" stroke-width="0.67" opacity="0.13"/>
<line x1="497.5" y1="75.5" x2="497.5" y2="77.2" stroke="#8a5cd6" stroke-width="0.88" opacity="0.24"/>
<line x1="505.8" y1="70.9" x2="505.8" y2="75.1" stroke="#8a5cd6" stroke-width="0.56" opacity="0.12"/>
<line x1="421.0" y1="119.1" x2="421.0" y2="120.8" stroke="#8a5cd6" stroke-width="0.65" opacity="0.02"/>
<line x1="527.4" y1="57.7" x2="527.4" y2="61.8" stroke="#8a5cd6" stroke-width="0.59" opacity="0.05"/>
<line x1="490.9" y1="79.9" x2="490.9" y2="82.9" stroke="#8a5cd6" stroke-width="0.56" opacity="0.27"/>
<line x1="425.7" y1="116.3" x2="425.7" y2="120.1" stroke="#8a5cd6" stroke-width="0.59" opacity="0.09"/>
<line x1="431.6" y1="110.4" x2="431.6" y2="112.8" stroke="#8a5cd6" stroke-width="0.91" opacity="0.07"/>
<line x1="504.9" y1="69.8" x2="504.9" y2="72.6" stroke="#8a5cd6" stroke-width="0.96" opacity="0.22"/>
<line x1="449.9" y1="104.8" x2="449.9" y2="108.6" stroke="#8a5cd6" stroke-width="0.51" opacity="0.22"/>
<line x1="534.9" y1="55.6" x2="534.9" y2="59.8" stroke="#8a5cd6" stroke-width="0.90" opacity="0.02"/>
<line x1="510.9" y1="68.1" x2="510.9" y2="72.6" stroke="#8a5cd6" stroke-width="0.55" opacity="0.10"/>
<line x1="487.3" y1="82.6" x2="487.3" y2="84.5" stroke="#8a5cd6" stroke-width="0.91" opacity="0.12"/>
<line x1="459.7" y1="94.1" x2="459.7" y2="98.2" stroke="#8a5cd6" stroke-width="0.76" opacity="0.27"/>
<line x1="440.5" y1="104.6" x2="440.5" y2="109.4" stroke="#8a5cd6" stroke-width="0.79" opacity="0.26"/>
<line x1="501.2" y1="72.2" x2="501.2" y2="77.1" stroke="#8a5cd6" stroke-width="0.90" opacity="0.09"/>
<line x1="439.7" y1="107.8" x2="439.7" y2="112.4" stroke="#8a5cd6" stroke-width="0.87" opacity="0.13"/>
<line x1="514.8" y1="69.7" x2="514.8" y2="73.3" stroke="#8a5cd6" stroke-width="0.74" opacity="0.09"/>
<line x1="457.6" y1="96.3" x2="457.6" y2="100.5" stroke="#8a5cd6" stroke-width="0.69" opacity="0.15"/>
<line x1="480.7" y1="82.9" x2="480.7" y2="87.3" stroke="#8a5cd6" stroke-width="0.63" opacity="0.21"/>
<line x1="457.4" y1="93.6" x2="457.4" y2="96.9" stroke="#8a5cd6" stroke-width="0.90" opacity="0.12"/>
<line x1="497.5" y1="77.5" x2="497.5" y2="79.5" stroke="#8a5cd6" stroke-width="0.80" opacity="0.14"/>
<line x1="490.4" y1="82.3" x2="490.4" y2="85.8" stroke="#8a5cd6" stroke-width="0.82" opacity="0.19"/>
<line x1="521.8" y1="60.1" x2="521.8" y2="64.4" stroke="#8a5cd6" stroke-width="0.75" opacity="0.12"/>
<line x1="534.1" y1="55.0" x2="534.1" y2="59.0" stroke="#8a5cd6" stroke-width="0.69" opacity="0.01"/>
<line x1="490.1" y1="80.6" x2="490.1" y2="84.2" stroke="#8a5cd6" stroke-width="0.58" opacity="0.17"/>
<line x1="468.4" y1="96.1" x2="468.4" y2="98.8" stroke="#8a5cd6" stroke-width="0.75" opacity="0.10"/>
<line x1="526.9" y1="58.1" x2="526.9" y2="62.5" stroke="#8a5cd6" stroke-width="0.93" opacity="0.03"/>
<line x1="527.0" y1="61.9" x2="527.0" y2="63.4" stroke="#8a5cd6" stroke-width="0.79" opacity="0.05"/>
<line x1="523.9" y1="61.6" x2="523.9" y2="66.1" stroke="#8a5cd6" stroke-width="0.94" opacity="0.03"/>
<line x1="452.8" y1="97.2" x2="452.8" y2="98.8" stroke="#8a5cd6" stroke-width="0.55" opacity="0.13"/>
<line x1="531.9" y1="60.4" x2="531.9" y2="63.2" stroke="#8a5cd6" stroke-width="0.74" opacity="0.03"/>
<line x1="488.2" y1="82.7" x2="488.2" y2="84.8" stroke="#8a5cd6" stroke-width="0.89" opacity="0.26"/>
<line x1="495.4" y1="76.3" x2="495.4" y2="81.2" stroke="#8a5cd6" stroke-width="0.63" opacity="0.25"/>
<line x1="451.2" y1="102.7" x2="451.2" y2="105.5" stroke="#8a5cd6" stroke-width="0.90" opacity="0.15"/>
<line x1="433.3" y1="109.6" x2="433.3" y2="112.5" stroke="#8a5cd6" stroke-width="0.51" opacity="0.08"/>
<line x1="504.8" y1="71.7" x2="504.8" y2="75.4" stroke="#8a5cd6" stroke-width="0.97" opacity="0.15"/>
<line x1="450.9" y1="97.9" x2="450.9" y2="101.6" stroke="#8a5cd6" stroke-width="0.83" opacity="0.13"/>
<line x1="502.4" y1="71.3" x2="502.4" y2="75.9" stroke="#8a5cd6" stroke-width="0.84" opacity="0.15"/>
<line x1="535.2" y1="55.0" x2="535.2" y2="57.2" stroke="#8a5cd6" stroke-width="0.96" opacity="0.02"/>
<line x1="468.9" y1="92.1" x2="468.9" y2="96.2" stroke="#8a5cd6" stroke-width="0.82" opacity="0.19"/>
<line x1="486.8" y1="83.8" x2="486.8" y2="86.4" stroke="#8a5cd6" stroke-width="0.63" opacity="0.27"/>
<line x1="434.2" y1="109.4" x2="434.2" y2="112.8" stroke="#8a5cd6" stroke-width="0.86" opacity="0.09"/>
<line x1="427.8" y1="116.8" x2="427.8" y2="118.5" stroke="#8a5cd6" stroke-width="0.96" opacity="0.08"/>
<line x1="501.1" y1="73.0" x2="501.1" y2="74.8" stroke="#8a5cd6" stroke-width="0.90" opacity="0.16"/>
<line x1="455.9" y1="102.8" x2="455.9" y2="106.8" stroke="#8a5cd6" stroke-width="0.73" opacity="0.13"/>
<line x1="475.0" y1="87.7" x2="475.0" y2="91.8" stroke="#8a5cd6" stroke-width="0.67" opacity="0.26"/>
<line x1="426.3" y1="116.3" x2="426.3" y2="118.6" stroke="#8a5cd6" stroke-width="0.74" opacity="0.10"/>
<line x1="460.4" y1="97.9" x2="460.4" y2="99.9" stroke="#8a5cd6" stroke-width="0.56" opacity="0.13"/>
<line x1="536.0" y1="56.5" x2="536.0" y2="61.5" stroke="#8a5cd6" stroke-width="0.51" opacity="0.01"/>
<line x1="504.6" y1="72.4" x2="504.6" y2="74.4" stroke="#8a5cd6" stroke-width="0.66" opacity="0.10"/>
<line x1="525.0" y1="61.3" x2="525.0" y2="65.6" stroke="#8a5cd6" stroke-width="0.70" opacity="0.03"/>
<line x1="471.1" y1="88.8" x2="471.1" y2="92.3" stroke="#8a5cd6" stroke-width="0.57" opacity="0.21"/>
<line x1="420.2" y1="116.3" x2="420.2" y2="118.4" stroke="#8a5cd6" stroke-width="0.84" opacity="0.02"/>
<line x1="512.4" y1="75.5" x2="512.4" y2="77.9" stroke="#8a5cd6" stroke-width="0.72" opacity="0.19"/>
<line x1="512.4" y1="68.3" x2="512.4" y2="71.8" stroke="#8a5cd6" stroke-width="0.71" opacity="0.11"/>
<line x1="444.0" y1="100.0" x2="444.0" y2="103.1" stroke="#8a5cd6" stroke-width="0.85" opacity="0.24"/>
<line x1="513.4" y1="67.1" x2="513.4" y2="69.3" stroke="#8a5cd6" stroke-width="0.70" opacity="0.17"/>
<line x1="482.5" y1="82.1" x2="482.5" y2="86.3" stroke="#8a5cd6" stroke-width="0.54" opacity="0.20"/>
<line x1="435.8" y1="110.0" x2="435.8" y2="113.3" stroke="#8a5cd6" stroke-width="0.98" opacity="0.10"/>
<line x1="480.7" y1="82.2" x2="480.7" y2="85.1" stroke="#8a5cd6" stroke-width="0.65" opacity="0.27"/>
<line x1="501.6" y1="76.1" x2="501.6" y2="79.9" stroke="#8a5cd6" stroke-width="0.91" opacity="0.23"/>
<line x1="531.7" y1="60.5" x2="531.7" y2="62.6" stroke="#8a5cd6" stroke-width="0.52" opacity="0.01"/>
<line x1="490.3" y1="79.7" x2="490.3" y2="82.8" stroke="#8a5cd6" stroke-width="0.65" opacity="0.29"/>
<line x1="473.2" y1="86.3" x2="473.2" y2="88.8" stroke="#8a5cd6" stroke-width="0.81" opacity="0.19"/>
<line x1="484.7" y1="86.2" x2="484.7" y2="88.2" stroke="#8a5cd6" stroke-width="0.51" opacity="0.22"/>
<line x1="419.8" y1="117.7" x2="419.8" y2="120.2" stroke="#8a5cd6" stroke-width="0.58" opacity="0.01"/>
<line x1="484.9" y1="84.6" x2="484.9" y2="86.7" stroke="#8a5cd6" stroke-width="0.98" opacity="0.26"/>
<line x1="443.3" y1="102.2" x2="443.3" y2="105.4" stroke="#8a5cd6" stroke-width="0.63" opacity="0.28"/>
<line x1="444.5" y1="100.3" x2="444.5" y2="104.3" stroke="#8a5cd6" stroke-width="0.79" opacity="0.08"/>
<line x1="428.5" y1="114.1" x2="428.5" y2="116.8" stroke="#8a5cd6" stroke-width="0.73" opacity="0.05"/>
<line x1="434.4" y1="111.7" x2="434.4" y2="113.2" stroke="#8a5cd6" stroke-width="0.60" opacity="0.07"/>
<line x1="527.6" y1="65.9" x2="527.6" y2="67.4" stroke="#8a5cd6" stroke-width="0.60" opacity="0.05"/>
<line x1="495.5" y1="77.7" x2="495.5" y2="80.3" stroke="#8a5cd6" stroke-width="0.74" opacity="0.19"/>
<line x1="447.1" y1="102.4" x2="447.1" y2="106.6" stroke="#8a5cd6" stroke-width="0.70" opacity="0.23"/>
<line x1="498.4" y1="77.0" x2="498.4" y2="81.7" stroke="#8a5cd6" stroke-width="0.57" opacity="0.27"/>
<line x1="439.9" y1="107.0" x2="439.9" y2="111.1" stroke="#8a5cd6" stroke-width="0.57" opacity="0.09"/>
<line x1="491.7" y1="81.9" x2="491.7" y2="84.0" stroke="#8a5cd6" stroke-width="0.91" opacity="0.21"/>
<line x1="512.1" y1="71.4" x2="512.1" y2="74.4" stroke="#8a5cd6" stroke-width="0.75" opacity="0.19"/>
<line x1="482.7" y1="84.0" x2="482.7" y2="88.5" stroke="#8a5cd6" stroke-width="0.61" opacity="0.27"/>
<line x1="459.0" y1="98.0" x2="459.0" y2="101.3" stroke="#8a5cd6" stroke-width="0.60" opacity="0.24"/>
<line x1="455.6" y1="102.4" x2="455.6" y2="104.9" stroke="#8a5cd6" stroke-width="0.76" opacity="0.16"/>
<line x1="513.1" y1="65.7" x2="513.1" y2="68.0" stroke="#8a5cd6" stroke-width="0.67" opacity="0.09"/>
<line x1="460.1" y1="97.0" x2="460.1" y2="100.1" stroke="#8a5cd6" stroke-width="0.93" opacity="0.27"/>
<line x1="460.8" y1="96.3" x2="460.8" y2="99.7" stroke="#8a5cd6" stroke-width="0.57" opacity="0.22"/>
<line x1="496.6" y1="77.3" x2="496.6" y2="79.3" stroke="#8a5cd6" stroke-width="0.71" opacity="0.14"/>
<line x1="532.5" y1="54.5" x2="532.5" y2="58.1" stroke="#8a5cd6" stroke-width="0.52" opacity="0.03"/>
<line x1="483.9" y1="83.8" x2="483.9" y2="88.5" stroke="#8a5cd6" stroke-width="0.53" opacity="0.10"/>
<line x1="424.8" y1="116.6" x2="424.8" y2="119.9" stroke="#8a5cd6" stroke-width="0.88" opacity="0.07"/>
<line x1="470.7" y1="86.5" x2="470.7" y2="90.0" stroke="#8a5cd6" stroke-width="0.52" opacity="0.30"/>
<line x1="461.0" y1="95.9" x2="461.0" y2="98.3" stroke="#8a5cd6" stroke-width="0.78" opacity="0.29"/>
<line x1="506.9" y1="71.1" x2="506.9" y2="73.9" stroke="#8a5cd6" stroke-width="0.86" opacity="0.19"/>
<line x1="517.9" y1="69.1" x2="517.9" y2="70.9" stroke="#8a5cd6" stroke-width="0.75" opacity="0.11"/>
<line x1="435.3" y1="111.1" x2="435.3" y2="113.8" stroke="#8a5cd6" stroke-width="0.87" opacity="0.13"/>
<line x1="451.2" y1="97.5" x2="451.2" y2="100.7" stroke="#8a5cd6" stroke-width="0.68" opacity="0.16"/>
<line x1="444.6" y1="102.8" x2="444.6" y2="107.1" stroke="#8a5cd6" stroke-width="0.96" opacity="0.19"/>
<line x1="475.1" y1="90.6" x2="475.1" y2="93.6" stroke="#8a5cd6" stroke-width="0.58" opacity="0.19"/>
<line x1="482.6" y1="86.8" x2="482.6" y2="88.8" stroke="#8a5cd6" stroke-width="0.64" opacity="0.23"/>
<line x1="530.8" y1="62.8" x2="530.8" y2="64.7" stroke="#8a5cd6" stroke-width="0.68" opacity="0.04"/>
<line x1="437.1" y1="105.1" x2="437.1" y2="109.6" stroke="#8a5cd6" stroke-width="0.92" opacity="0.09"/>
<line x1="461.9" y1="93.1" x2="461.9" y2="95.4" stroke="#8a5cd6" stroke-width="0.81" opacity="0.09"/>
<line x1="513.4" y1="68.6" x2="513.4" y2="70.9" stroke="#8a5cd6" stroke-width="0.88" opacity="0.12"/>
<line x1="502.1" y1="74.7" x2="502.1" y2="76.7" stroke="#8a5cd6" stroke-width="0.57" opacity="0.19"/>
<line x1="488.8" y1="82.6" x2="488.8" y2="85.0" stroke="#8a5cd6" stroke-width="0.96" opacity="0.10"/>
<line x1="423.8" y1="121.9" x2="423.8" y2="124.7" stroke="#8a5cd6" stroke-width="0.77" opacity="0.08"/>
<line x1="471.3" y1="91.0" x2="471.3" y2="94.4" stroke="#8a5cd6" stroke-width="0.59" opacity="0.24"/>
<line x1="486.8" y1="83.7" x2="486.8" y2="86.0" stroke="#8a5cd6" stroke-width="0.67" opacity="0.20"/>
<line x1="459.9" y1="101.3" x2="459.9" y2="104.3" stroke="#8a5cd6" stroke-width="0.81" opacity="0.23"/>
<line x1="434.4" y1="114.4" x2="434.4" y2="116.1" stroke="#8a5cd6" stroke-width="0.97" opacity="0.09"/>
<line x1="516.9" y1="64.5" x2="516.9" y2="67.9" stroke="#8a5cd6" stroke-width="0.67" opacity="0.12"/>
<line x1="425.5" y1="115.9" x2="425.5" y2="120.9" stroke="#8a5cd6" stroke-width="0.78" opacity="0.08"/>
<line x1="484.0" y1="84.6" x2="484.0" y2="87.8" stroke="#8a5cd6" stroke-width="0.88" opacity="0.14"/>
<line x1="496.1" y1="76.3" x2="496.1" y2="79.1" stroke="#8a5cd6" stroke-width="0.67" opacity="0.17"/>
<line x1="428.0" y1="112.2" x2="428.0" y2="115.0" stroke="#8a5cd6" stroke-width="0.91" opacity="0.13"/>
<line x1="427.6" y1="112.7" x2="427.6" y2="116.7" stroke="#8a5cd6" stroke-width="0.77" opacity="0.12"/>
<line x1="524.1" y1="63.6" x2="524.1" y2="65.1" stroke="#8a5cd6" stroke-width="0.98" opacity="0.06"/>
<line x1="474.5" y1="89.8" x2="474.5" y2="94.0" stroke="#8a5cd6" stroke-width="0.88" opacity="0.13"/>
<line x1="529.4" y1="59.9" x2="529.4" y2="63.0" stroke="#8a5cd6" stroke-width="0.98" opacity="0.05"/>
<line x1="441.1" y1="103.8" x2="441.1" y2="108.6" stroke="#8a5cd6" stroke-width="0.53" opacity="0.18"/>
<line x1="428.4" y1="117.9" x2="428.4" y2="120.4" stroke="#8a5cd6" stroke-width="0.72" opacity="0.08"/>
<line x1="506.0" y1="77.5" x2="506.0" y2="79.6" stroke="#8a5cd6" stroke-width="0.97" opacity="0.08"/>
<line x1="465.4" y1="96.3" x2="465.4" y2="99.5" stroke="#8a5cd6" stroke-width="0.55" opacity="0.16"/>
<line x1="483.2" y1="83.4" x2="483.2" y2="86.4" stroke="#8a5cd6" stroke-width="0.78" opacity="0.27"/>
<line x1="440.7" y1="109.8" x2="440.7" y2="111.7" stroke="#8a5cd6" stroke-width="0.59" opacity="0.07"/>
<line x1="428.7" y1="116.3" x2="428.7" y2="118.5" stroke="#8a5cd6" stroke-width="0.54" opacity="0.09"/>
<line x1="525.6" y1="63.2" x2="525.6" y2="65.4" stroke="#8a5cd6" stroke-width="0.99" opacity="0.09"/>
<line x1="478.2" y1="89.4" x2="478.2" y2="92.5" stroke="#8a5cd6" stroke-width="0.65" opacity="0.17"/>
<line x1="457.2" y1="96.1" x2="457.2" y2="100.5" stroke="#8a5cd6" stroke-width="0.60" opacity="0.14"/>
<line x1="532.7" y1="60.7" x2="532.7" y2="64.1" stroke="#8a5cd6" stroke-width="0.80" opacity="0.02"/>
<line x1="486.2" y1="79.2" x2="486.2" y2="82.3" stroke="#8a5cd6" stroke-width="0.89" opacity="0.21"/>
<line x1="444.7" y1="106.4" x2="444.7" y2="108.5" stroke="#8a5cd6" stroke-width="0.63" opacity="0.10"/>
<line x1="472.7" y1="87.0" x2="472.7" y2="91.6" stroke="#8a5cd6" stroke-width="0.70" opacity="0.14"/>
<line x1="512.4" y1="70.7" x2="512.4" y2="73.3" stroke="#8a5cd6" stroke-width="0.91" opacity="0.16"/>
<line x1="528.8" y1="62.2" x2="528.8" y2="64.8" stroke="#8a5cd6" stroke-width="0.77" opacity="0.06"/>
<line x1="501.7" y1="73.3" x2="501.7" y2="77.4" stroke="#8a5cd6" stroke-width="0.96" opacity="0.20"/>
<line x1="521.9" y1="61.4" x2="521.9" y2="65.2" stroke="#8a5cd6" stroke-width="0.72" opacity="0.06"/>
<line x1="471.0" y1="91.4" x2="471.0" y2="94.4" stroke="#8a5cd6" stroke-width="0.85" opacity="0.29"/>
<line x1="459.9" y1="94.3" x2="459.9" y2="96.5" stroke="#8a5cd6" stroke-width="0.59" opacity="0.29"/>
<line x1="422.4" y1="118.8" x2="422.4" y2="121.6" stroke="#8a5cd6" stroke-width="0.58" opacity="0.07"/>
<line x1="495.8" y1="76.7" x2="495.8" y2="80.3" stroke="#8a5cd6" stroke-width="0.82" opacity="0.22"/>
<line x1="452.9" y1="101.7" x2="452.9" y2="106.1" stroke="#8a5cd6" stroke-width="0.68" opacity="0.23"/>
<line x1="418.6" y1="118.2" x2="418.6" y2="121.6" stroke="#8a5cd6" stroke-width="0.71" opacity="0.01"/>
<line x1="456.2" y1="101.3" x2="456.2" y2="105.7" stroke="#8a5cd6" stroke-width="0.56" opacity="0.18"/>
<rect x="430.00" y="115.00" width="3.96" height="28.05" fill="none" stroke="#1a1a1a" stroke-width="0.8"/>
<rect x="433.96" y="113.61" width="3.96" height="28.05" fill="none" stroke="#1a1a1a" stroke-width="0.8"/>
<rect x="437.91" y="112.23" width="3.96" height="28.06" fill="none" stroke="#1a1a1a" stroke-width="0.8"/>
<rect x="441.87" y="110.84" width="3.96" height="28.06" fill="none" stroke="#1a1a1a" stroke-width="0.8"/>
<rect x="445.82" y="109.46" width="3.96" height="28.05" fill="none" stroke="#1a1a1a" stroke-width="0.8"/>
<rect x="449.78" y="108.07" width="3.96" height="28.05" fill="none" stroke="#1a1a1a" stroke-width="0.8"/>
<rect x="453.74" y="106.69" width="3.96" height="28.05" fill="none" stroke="#1a1a1a" stroke-width="0.8"/>
<rect x="457.69" y="105.30" width="3.96" height="28.06" fill="none" stroke="#1a1a1a" stroke-width="0.8"/>
<rect x="461.65" y="103.92" width="3.96" height="28.06" fill="none" stroke="#1a1a1a" stroke-width="0.8"/>
<rect x="465.61" y="102.54" width="3.96" height="28.06" fill="none" stroke="#1a1a1a" stroke-width="0.8"/>
<rect x="469.56" y="101.15" width="3.96" height="28.06" fill="none" stroke="#1a1a1a" stroke-width="0.8"/>
<rect x="473.52" y="99.77" width="3.96" height="28.05" fill="none" stroke="#1a1a1a" stroke-width="0.8"/>
<rect x="477.48" y="98.38" width="3.96" height="28.06" fill="none" stroke="#1a1a1a" stroke-width="0.8"/>
<rect x="481.43" y="97.00" width="3.96" height="28.05" fill="none" stroke="#1a1a1a" stroke-width="0.8"/>
<rect x="485.39" y="95.61" width="3.96" height="28.06" fill="none" stroke="#1a1a1a" stroke-width="0.8"/>
<rect x="489.34" y="94.23" width="3.96" height="28.06" fill="none" stroke="#1a1a1a" stroke-width="0.8"/>
<rect x="493.30" y="88.39" width="3.96" height="27.15" fill="none" stroke="#1a1a1a" stroke-width="0.8"/>
<rect x="497.26" y="87.01" width="3.96" height="27.15" fill="none" stroke="#1a1a1a" stroke-width="0.8"/>
<rect x="501.21" y="85.62" width="3.96" height="27.15" fill="none" stroke="#1a1a1a" stroke-width="0.8"/>
<rect x="505.17" y="84.24" width="3.96" height="27.15" fill="none" stroke="#1a1a1a" stroke-width="0.8"/>
<rect x="509.12" y="82.85" width="3.96" height="27.15" fill="none" stroke="#1a1a1a" stroke-width="0.8"/>
<rect x="513.08" y="81.47" width="3.96" height="27.15" fill="none" stroke="#1a1a1a" stroke-width="0.8"/>
<rect x="517.04" y="80.08" width="3.96" height="27.15" fill="none" stroke="#1a1a1a" stroke-width="0.8"/>
<rect x="520.99" y="78.70" width="3.96" height="27.15" fill="none" stroke="#1a1a1a" stroke-width="0.8"/>
<rect x="524.95" y="77.31" width="3.96" height="27.15" fill="none" stroke="#1a1a1a" stroke-width="0.8"/>
<rect x="528.91" y="75.93" width="3.96" height="27.15" fill="none" stroke="#1a1a1a" stroke-width="0.8"/>
<rect x="532.86" y="74.54" width="3.96" height="27.15" fill="none" stroke="#1a1a1a" stroke-width="0.8"/>
<rect x="536.82" y="73.16" width="3.96" height="27.15" fill="none" stroke="#1a1a1a" stroke-width="0.8"/>
<rect x="540.77" y="71.77" width="3.96" height="27.15" fill="none" stroke="#1a1a1a" stroke-width="0.8"/>
<rect x="544.73" y="70.39" width="3.96" height="27.15" fill="none" stroke="#1a1a1a" stroke-width="0.8"/>
<rect x="548.69" y="69.01" width="3.96" height="27.15" fill="none" stroke="#1a1a1a" stroke-width="0.8"/>
<rect x="552.64" y="67.62" width="3.96" height="27.15" fill="none" stroke="#1a1a1a" stroke-width="0.8"/>
<rect x="430.00" y="208.79" width="3.96" height="28.37" fill="#e6f6f6"/>
<rect x="433.96" y="207.39" width="3.96" height="28.36" fill="#e6f6f6"/>
<rect x="437.91" y="205.99" width="3.96" height="28.37" fill="#e6f6f6"/>
<rect x="441.87" y="204.59" width="3.96" height="28.36" fill="#e6f6f6"/>
<rect x="445.82" y="203.19" width="3.96" height="28.36" fill="#e6f6f6"/>
<rect x="449.78" y="201.79" width="3.96" height="28.37" fill="#e6f6f6"/>
<rect x="453.74" y="200.39" width="3.96" height="28.37" fill="#e6f6f6"/>
<rect x="457.69" y="198.99" width="3.96" height="28.37" fill="#e6f6f6"/>
<rect x="461.65" y="197.59" width="3.96" height="28.37" fill="#e6f6f6"/>
<rect x="465.61" y="196.19" width="3.96" height="28.37" fill="#e6f6f6"/>
<rect x="469.56" y="194.79" width="3.96" height="28.37" fill="#e6f6f6"/>
<rect x="473.52" y="193.39" width="3.96" height="28.37" fill="#e6f6f6"/>
<rect x="477.48" y="191.99" width="3.96" height="28.37" fill="#e6f6f6"/>
<rect x="481.43" y="190.59" width="3.96" height="28.37" fill="#e6f6f6"/>
<rect x="485.39" y="189.19" width="3.96" height="28.37" fill="#e6f6f6"/>
<rect x="489.34" y="187.79" width="3.96" height="28.37" fill="#e6f6f6"/>
<rect x="493.30" y="181.89" width="3.96" height="27.45" fill="#e6f6f6"/>
<rect x="497.26" y="180.49" width="3.96" height="27.45" fill="#e6f6f6"/>
<rect x="501.21" y="179.09" width="3.96" height="27.45" fill="#e6f6f6"/>
<rect x="505.17" y="177.69" width="3.96" height="27.45" fill="#e6f6f6"/>
<rect x="509.12" y="176.29" width="3.96" height="27.45" fill="#e6f6f6"/>
<rect x="513.08" y="174.89" width="3.96" height="27.45" fill="#e6f6f6"/>
<rect x="517.04" y="173.49" width="3.96" height="27.45" fill="#e6f6f6"/>
<rect x="520.99" y="172.09" width="3.96" height="27.45" fill="#e6f6f6"/>
<rect x="524.95" y="170.69" width="3.96" height="27.45" fill="#e6f6f6"/>
<rect x="528.91" y="169.29" width="3.96" height="27.45" fill="#e6f6f6"/>
<rect x="532.86" y="167.89" width="3.96" height="27.45" fill="#e6f6f6"/>
<rect x="536.82" y="166.49" width="3.96" height="27.45" fill="#e6f6f6"/>
<rect x="540.77" y="165.09" width="3.96" height="27.45" fill="#e6f6f6"/>
<rect x="544.73" y="163.69" width="3.96" height="27.45" fill="#e6f6f6"/>
<rect x="548.69" y="162.29" width="3.96" height="27.45" fill="#e6f6f6"/>
<rect x="552.64" y="160.89" width="3.96" height="27.45" fill="#e6f6f6"/>
<g filter="url(#blur1)">
<line x1="411.0" y1="231.2" x2="414.2" y2="229.8" stroke="#8050cc" stroke-width="5.5" opacity="0.03"/>
<line x1="414.2" y1="229.8" x2="417.3" y2="228.5" stroke="#8050cc" stroke-width="5.5" opacity="0.09"/>
<line x1="417.3" y1="228.5" x2="420.5" y2="227.1" stroke="#8050cc" stroke-width="5.5" opacity="0.15"/>
<line x1="420.5" y1="227.1" x2="423.7" y2="225.7" stroke="#8050cc" stroke-width="5.5" opacity="0.21"/>
<line x1="423.7" y1="225.7" x2="426.8" y2="224.3" stroke="#8050cc" stroke-width="5.5" opacity="0.26"/>
<line x1="426.8" y1="224.3" x2="430.0" y2="223.0" stroke="#8050cc" stroke-width="5.5" opacity="0.31"/>
<line x1="430.0" y1="223.0" x2="433.2" y2="221.8" stroke="#8050cc" stroke-width="5.5" opacity="0.35"/>
<line x1="433.2" y1="221.8" x2="436.3" y2="220.6" stroke="#8050cc" stroke-width="5.5" opacity="0.38"/>
<line x1="436.3" y1="220.6" x2="439.5" y2="219.4" stroke="#8050cc" stroke-width="5.5" opacity="0.38"/>
<line x1="439.5" y1="219.4" x2="442.7" y2="218.2" stroke="#8050cc" stroke-width="5.5" opacity="0.38"/>
<line x1="442.7" y1="218.2" x2="445.8" y2="217.0" stroke="#8050cc" stroke-width="5.5" opacity="0.38"/>
<line x1="445.8" y1="217.0" x2="449.0" y2="215.8" stroke="#8050cc" stroke-width="5.5" opacity="0.38"/>
<line x1="449.0" y1="215.8" x2="452.2" y2="214.6" stroke="#8050cc" stroke-width="5.5" opacity="0.38"/>
<line x1="452.2" y1="214.6" x2="455.3" y2="213.5" stroke="#8050cc" stroke-width="5.5" opacity="0.38"/>
<line x1="455.3" y1="213.5" x2="458.5" y2="212.3" stroke="#8050cc" stroke-width="5.5" opacity="0.37"/>
<line x1="458.5" y1="212.3" x2="461.6" y2="211.1" stroke="#8050cc" stroke-width="5.5" opacity="0.36"/>
<line x1="461.6" y1="211.1" x2="464.8" y2="210.0" stroke="#8050cc" stroke-width="5.5" opacity="0.36"/>
<line x1="464.8" y1="210.0" x2="468.0" y2="208.8" stroke="#8050cc" stroke-width="5.5" opacity="0.35"/>
<line x1="468.0" y1="208.8" x2="471.1" y2="207.7" stroke="#8050cc" stroke-width="5.5" opacity="0.34"/>
<line x1="471.1" y1="207.7" x2="474.3" y2="206.6" stroke="#8050cc" stroke-width="5.5" opacity="0.33"/>
<line x1="474.3" y1="206.6" x2="477.5" y2="205.5" stroke="#8050cc" stroke-width="5.5" opacity="0.32"/>
<line x1="477.5" y1="205.5" x2="480.6" y2="204.4" stroke="#8050cc" stroke-width="5.5" opacity="0.30"/>
<line x1="480.6" y1="204.4" x2="483.8" y2="203.3" stroke="#8050cc" stroke-width="5.5" opacity="0.28"/>
<line x1="483.8" y1="203.3" x2="487.0" y2="202.1" stroke="#8050cc" stroke-width="5.5" opacity="0.26"/>
<line x1="487.0" y1="202.1" x2="490.1" y2="201.0" stroke="#8050cc" stroke-width="5.5" opacity="0.24"/>
<line x1="490.1" y1="201.0" x2="493.3" y2="200.0" stroke="#8050cc" stroke-width="5.5" opacity="0.22"/>
<line x1="493.3" y1="200.0" x2="496.5" y2="199.1" stroke="#8050cc" stroke-width="5.5" opacity="0.20"/>
<line x1="496.5" y1="199.1" x2="499.6" y2="198.1" stroke="#8050cc" stroke-width="5.5" opacity="0.17"/>
<line x1="499.6" y1="198.1" x2="502.8" y2="197.1" stroke="#8050cc" stroke-width="5.5" opacity="0.15"/>
<line x1="502.8" y1="197.1" x2="506.0" y2="196.2" stroke="#8050cc" stroke-width="5.5" opacity="0.13"/>
<line x1="506.0" y1="196.2" x2="509.1" y2="195.2" stroke="#8050cc" stroke-width="5.5" opacity="0.10"/>
<line x1="509.1" y1="195.2" x2="512.3" y2="194.2" stroke="#8050cc" stroke-width="5.5" opacity="0.08"/>
<line x1="512.3" y1="194.2" x2="515.5" y2="193.3" stroke="#8050cc" stroke-width="5.5" opacity="0.06"/>
<line x1="515.5" y1="193.3" x2="518.6" y2="192.4" stroke="#8050cc" stroke-width="5.5" opacity="0.05"/>
<line x1="518.6" y1="192.4" x2="521.8" y2="191.7" stroke="#8050cc" stroke-width="5.5" opacity="0.03"/>
<line x1="521.8" y1="191.7" x2="525.0" y2="190.9" stroke="#8050cc" stroke-width="5.5" opacity="0.01"/>
<line x1="417.3" y1="215.6" x2="420.5" y2="213.6" stroke="#9a74dc" stroke-width="6.5" opacity="0.01"/>
<line x1="420.5" y1="213.6" x2="423.7" y2="211.7" stroke="#9a74dc" stroke-width="6.5" opacity="0.04"/>
<line x1="423.7" y1="211.7" x2="426.8" y2="209.8" stroke="#9a74dc" stroke-width="6.5" opacity="0.07"/>
<line x1="426.8" y1="209.8" x2="430.0" y2="207.8" stroke="#9a74dc" stroke-width="6.5" opacity="0.10"/>
<line x1="430.0" y1="207.8" x2="433.2" y2="205.9" stroke="#9a74dc" stroke-width="6.5" opacity="0.12"/>
<line x1="433.2" y1="205.9" x2="436.3" y2="204.0" stroke="#9a74dc" stroke-width="6.5" opacity="0.13"/>
<line x1="436.3" y1="204.0" x2="439.5" y2="202.0" stroke="#9a74dc" stroke-width="6.5" opacity="0.15"/>
<line x1="439.5" y1="202.0" x2="442.7" y2="200.1" stroke="#9a74dc" stroke-width="6.5" opacity="0.16"/>
<line x1="442.7" y1="200.1" x2="445.8" y2="198.5" stroke="#9a74dc" stroke-width="6.5" opacity="0.18"/>
<line x1="445.8" y1="198.5" x2="449.0" y2="196.9" stroke="#9a74dc" stroke-width="6.5" opacity="0.19"/>
<line x1="449.0" y1="196.9" x2="452.2" y2="195.3" stroke="#9a74dc" stroke-width="6.5" opacity="0.19"/>
<line x1="452.2" y1="195.3" x2="455.3" y2="193.7" stroke="#9a74dc" stroke-width="6.5" opacity="0.19"/>
<line x1="455.3" y1="193.7" x2="458.5" y2="192.1" stroke="#9a74dc" stroke-width="6.5" opacity="0.19"/>
<line x1="458.5" y1="192.1" x2="461.6" y2="190.5" stroke="#9a74dc" stroke-width="6.5" opacity="0.19"/>
<line x1="461.6" y1="190.5" x2="464.8" y2="188.9" stroke="#9a74dc" stroke-width="6.5" opacity="0.19"/>
<line x1="464.8" y1="188.9" x2="468.0" y2="187.3" stroke="#9a74dc" stroke-width="6.5" opacity="0.19"/>
<line x1="468.0" y1="187.3" x2="471.1" y2="185.7" stroke="#9a74dc" stroke-width="6.5" opacity="0.19"/>
<line x1="471.1" y1="185.7" x2="474.3" y2="184.0" stroke="#9a74dc" stroke-width="6.5" opacity="0.19"/>
<line x1="474.3" y1="184.0" x2="477.5" y2="182.3" stroke="#9a74dc" stroke-width="6.5" opacity="0.19"/>
<line x1="477.5" y1="182.3" x2="480.6" y2="180.6" stroke="#9a74dc" stroke-width="6.5" opacity="0.19"/>
<line x1="480.6" y1="180.6" x2="483.8" y2="178.8" stroke="#9a74dc" stroke-width="6.5" opacity="0.19"/>
<line x1="483.8" y1="178.8" x2="487.0" y2="177.1" stroke="#9a74dc" stroke-width="6.5" opacity="0.19"/>
<line x1="487.0" y1="177.1" x2="490.1" y2="175.4" stroke="#9a74dc" stroke-width="6.5" opacity="0.19"/>
<line x1="490.1" y1="175.4" x2="493.3" y2="173.6" stroke="#9a74dc" stroke-width="6.5" opacity="0.19"/>
<line x1="493.3" y1="173.6" x2="496.5" y2="171.9" stroke="#9a74dc" stroke-width="6.5" opacity="0.18"/>
<line x1="496.5" y1="171.9" x2="499.6" y2="170.2" stroke="#9a74dc" stroke-width="6.5" opacity="0.17"/>
<line x1="499.6" y1="170.2" x2="502.8" y2="168.4" stroke="#9a74dc" stroke-width="6.5" opacity="0.16"/>
<line x1="502.8" y1="168.4" x2="506.0" y2="166.8" stroke="#9a74dc" stroke-width="6.5" opacity="0.15"/>
<line x1="506.0" y1="166.8" x2="509.1" y2="165.1" stroke="#9a74dc" stroke-width="6.5" opacity="0.13"/>
<line x1="509.1" y1="165.1" x2="512.3" y2="163.5" stroke="#9a74dc" stroke-width="6.5" opacity="0.12"/>
<line x1="512.3" y1="163.5" x2="515.5" y2="161.8" stroke="#9a74dc" stroke-width="6.5" opacity="0.11"/>
<line x1="515.5" y1="161.8" x2="518.6" y2="160.2" stroke="#9a74dc" stroke-width="6.5" opacity="0.10"/>
<line x1="518.6" y1="160.2" x2="521.8" y2="158.5" stroke="#9a74dc" stroke-width="6.5" opacity="0.08"/>
<line x1="521.8" y1="158.5" x2="525.0" y2="156.9" stroke="#9a74dc" stroke-width="6.5" opacity="0.07"/>
<line x1="525.0" y1="156.9" x2="528.1" y2="155.3" stroke="#9a74dc" stroke-width="6.5" opacity="0.05"/>
<line x1="528.1" y1="155.3" x2="531.3" y2="153.9" stroke="#9a74dc" stroke-width="6.5" opacity="0.04"/>
<line x1="531.3" y1="153.9" x2="534.4" y2="152.5" stroke="#9a74dc" stroke-width="6.5" opacity="0.02"/>
<line x1="534.4" y1="152.5" x2="537.6" y2="151.1" stroke="#9a74dc" stroke-width="6.5" opacity="0.01"/>
</g>
<line x1="451.1" y1="211.5" x2="451.1" y2="214.8" stroke="#6e3ec4" stroke-width="0.70" opacity="0.23"/>
<line x1="415.7" y1="229.3" x2="415.7" y2="230.9" stroke="#6e3ec4" stroke-width="0.55" opacity="0.06"/>
<line x1="441.1" y1="218.6" x2="441.1" y2="223.3" stroke="#6e3ec4" stroke-width="0.95" opacity="0.30"/>
<line x1="475.7" y1="204.0" x2="475.7" y2="207.3" stroke="#6e3ec4" stroke-width="0.68" opacity="0.16"/>
<line x1="520.1" y1="192.1" x2="520.1" y2="195.7" stroke="#6e3ec4" stroke-width="0.78" opacity="0.03"/>
<line x1="497.8" y1="196.8" x2="497.8" y2="201.3" stroke="#6e3ec4" stroke-width="0.96" opacity="0.09"/>
<line x1="415.0" y1="226.9" x2="415.0" y2="230.3" stroke="#6e3ec4" stroke-width="0.63" opacity="0.05"/>
<line x1="484.9" y1="202.0" x2="484.9" y2="206.8" stroke="#6e3ec4" stroke-width="0.92" opacity="0.29"/>
<line x1="435.9" y1="218.7" x2="435.9" y2="222.6" stroke="#6e3ec4" stroke-width="0.64" opacity="0.32"/>
<line x1="499.1" y1="193.3" x2="499.1" y2="196.7" stroke="#6e3ec4" stroke-width="0.63" opacity="0.09"/>
<line x1="471.7" y1="207.9" x2="471.7" y2="210.3" stroke="#6e3ec4" stroke-width="0.87" opacity="0.33"/>
<line x1="502.1" y1="195.9" x2="502.1" y2="199.6" stroke="#6e3ec4" stroke-width="0.60" opacity="0.12"/>
<line x1="466.3" y1="213.3" x2="466.3" y2="216.3" stroke="#6e3ec4" stroke-width="0.99" opacity="0.28"/>
<line x1="473.3" y1="204.8" x2="473.3" y2="206.6" stroke="#6e3ec4" stroke-width="0.63" opacity="0.33"/>
<line x1="503.6" y1="191.4" x2="503.6" y2="196.1" stroke="#6e3ec4" stroke-width="0.52" opacity="0.09"/>
<line x1="441.2" y1="216.1" x2="441.2" y2="219.5" stroke="#6e3ec4" stroke-width="0.84" opacity="0.33"/>
<line x1="464.8" y1="208.3" x2="464.8" y2="209.9" stroke="#6e3ec4" stroke-width="0.62" opacity="0.20"/>
<line x1="450.4" y1="209.6" x2="450.4" y2="214.4" stroke="#6e3ec4" stroke-width="0.85" opacity="0.45"/>
<line x1="431.1" y1="221.3" x2="431.1" y2="225.5" stroke="#6e3ec4" stroke-width="0.67" opacity="0.15"/>
<line x1="455.7" y1="212.1" x2="455.7" y2="213.6" stroke="#6e3ec4" stroke-width="0.56" opacity="0.20"/>
<line x1="418.7" y1="226.8" x2="418.7" y2="230.1" stroke="#6e3ec4" stroke-width="0.75" opacity="0.07"/>
<line x1="500.2" y1="196.3" x2="500.2" y2="199.7" stroke="#6e3ec4" stroke-width="0.78" opacity="0.16"/>
<line x1="412.1" y1="232.6" x2="412.1" y2="235.3" stroke="#6e3ec4" stroke-width="0.93" opacity="0.02"/>
<line x1="511.0" y1="195.4" x2="511.0" y2="197.1" stroke="#6e3ec4" stroke-width="0.56" opacity="0.04"/>
<line x1="421.1" y1="226.8" x2="421.1" y2="231.4" stroke="#6e3ec4" stroke-width="0.77" opacity="0.10"/>
<line x1="473.7" y1="205.8" x2="473.7" y2="209.5" stroke="#6e3ec4" stroke-width="0.99" opacity="0.32"/>
<line x1="420.2" y1="223.3" x2="420.2" y2="226.3" stroke="#6e3ec4" stroke-width="0.68" opacity="0.20"/>
<line x1="445.5" y1="215.7" x2="445.5" y2="218.9" stroke="#6e3ec4" stroke-width="0.57" opacity="0.40"/>
<line x1="521.6" y1="191.1" x2="521.6" y2="195.5" stroke="#6e3ec4" stroke-width="0.72" opacity="0.02"/>
<line x1="475.3" y1="206.8" x2="475.3" y2="208.6" stroke="#6e3ec4" stroke-width="0.89" opacity="0.31"/>
<line x1="500.3" y1="194.8" x2="500.3" y2="199.1" stroke="#6e3ec4" stroke-width="0.58" opacity="0.08"/>
<line x1="413.6" y1="228.6" x2="413.6" y2="231.7" stroke="#6e3ec4" stroke-width="0.73" opacity="0.02"/>
<line x1="442.5" y1="213.0" x2="442.5" y2="217.9" stroke="#6e3ec4" stroke-width="0.59" opacity="0.42"/>
<line x1="488.4" y1="199.6" x2="488.4" y2="202.0" stroke="#6e3ec4" stroke-width="0.74" opacity="0.08"/>
<line x1="418.8" y1="226.9" x2="418.8" y2="230.5" stroke="#6e3ec4" stroke-width="0.77" opacity="0.14"/>
<line x1="501.1" y1="192.4" x2="501.1" y2="195.3" stroke="#6e3ec4" stroke-width="0.84" opacity="0.12"/>
<line x1="513.4" y1="192.2" x2="513.4" y2="195.5" stroke="#6e3ec4" stroke-width="0.65" opacity="0.08"/>
<line x1="519.6" y1="190.0" x2="519.6" y2="192.7" stroke="#6e3ec4" stroke-width="0.55" opacity="0.02"/>
<line x1="517.3" y1="193.3" x2="517.3" y2="196.0" stroke="#6e3ec4" stroke-width="0.93" opacity="0.03"/>
<line x1="516.5" y1="189.2" x2="516.5" y2="191.7" stroke="#6e3ec4" stroke-width="0.61" opacity="0.04"/>
<line x1="434.8" y1="221.7" x2="434.8" y2="224.8" stroke="#6e3ec4" stroke-width="0.89" opacity="0.44"/>
<line x1="447.2" y1="212.7" x2="447.2" y2="214.7" stroke="#6e3ec4" stroke-width="0.74" opacity="0.34"/>
<line x1="414.1" y1="229.1" x2="414.1" y2="233.6" stroke="#6e3ec4" stroke-width="0.65" opacity="0.05"/>
<line x1="445.5" y1="213.9" x2="445.5" y2="216.9" stroke="#6e3ec4" stroke-width="0.75" opacity="0.43"/>
<line x1="519.9" y1="189.1" x2="519.9" y2="190.6" stroke="#6e3ec4" stroke-width="0.80" opacity="0.02"/>
<line x1="510.5" y1="192.4" x2="510.5" y2="197.1" stroke="#6e3ec4" stroke-width="0.79" opacity="0.09"/>
<line x1="478.8" y1="201.6" x2="478.8" y2="205.5" stroke="#6e3ec4" stroke-width="0.69" opacity="0.24"/>
<line x1="415.9" y1="226.5" x2="415.9" y2="228.7" stroke="#6e3ec4" stroke-width="0.54" opacity="0.08"/>
<line x1="457.8" y1="211.9" x2="457.8" y2="213.5" stroke="#6e3ec4" stroke-width="0.57" opacity="0.31"/>
<line x1="419.3" y1="227.4" x2="419.3" y2="230.2" stroke="#6e3ec4" stroke-width="0.87" opacity="0.10"/>
<line x1="482.8" y1="201.2" x2="482.8" y2="205.5" stroke="#6e3ec4" stroke-width="0.71" opacity="0.11"/>
<line x1="512.4" y1="190.1" x2="512.4" y2="193.8" stroke="#6e3ec4" stroke-width="0.95" opacity="0.03"/>
<line x1="467.8" y1="204.0" x2="467.8" y2="207.2" stroke="#6e3ec4" stroke-width="0.72" opacity="0.22"/>
<line x1="515.1" y1="192.5" x2="515.1" y2="196.9" stroke="#6e3ec4" stroke-width="0.57" opacity="0.03"/>
<line x1="492.2" y1="196.0" x2="492.2" y2="199.2" stroke="#6e3ec4" stroke-width="0.99" opacity="0.08"/>
<line x1="451.7" y1="213.2" x2="451.7" y2="216.9" stroke="#6e3ec4" stroke-width="0.54" opacity="0.12"/>
<line x1="436.6" y1="217.0" x2="436.6" y2="221.2" stroke="#6e3ec4" stroke-width="0.65" opacity="0.35"/>
<line x1="480.0" y1="202.0" x2="480.0" y2="203.7" stroke="#6e3ec4" stroke-width="0.86" opacity="0.33"/>
<line x1="466.6" y1="207.2" x2="466.6" y2="211.7" stroke="#6e3ec4" stroke-width="0.80" opacity="0.11"/>
<line x1="482.3" y1="204.3" x2="482.3" y2="208.6" stroke="#6e3ec4" stroke-width="0.55" opacity="0.22"/>
<line x1="418.3" y1="226.0" x2="418.3" y2="227.7" stroke="#6e3ec4" stroke-width="0.76" opacity="0.15"/>
<line x1="492.9" y1="198.4" x2="492.9" y2="200.4" stroke="#6e3ec4" stroke-width="0.70" opacity="0.08"/>
<line x1="450.7" y1="214.8" x2="450.7" y2="218.7" stroke="#6e3ec4" stroke-width="0.67" opacity="0.33"/>
<line x1="421.3" y1="225.6" x2="421.3" y2="227.2" stroke="#6e3ec4" stroke-width="0.91" opacity="0.11"/>
<line x1="426.4" y1="220.0" x2="426.4" y2="224.2" stroke="#6e3ec4" stroke-width="0.83" opacity="0.29"/>
<line x1="518.7" y1="195.1" x2="518.7" y2="198.6" stroke="#6e3ec4" stroke-width="0.88" opacity="0.02"/>
<line x1="488.5" y1="198.7" x2="488.5" y2="201.7" stroke="#6e3ec4" stroke-width="0.84" opacity="0.16"/>
<line x1="493.9" y1="199.3" x2="493.9" y2="204.1" stroke="#6e3ec4" stroke-width="0.52" opacity="0.07"/>
<line x1="517.9" y1="193.3" x2="517.9" y2="195.2" stroke="#6e3ec4" stroke-width="0.67" opacity="0.03"/>
<line x1="495.2" y1="195.8" x2="495.2" y2="200.7" stroke="#6e3ec4" stroke-width="0.88" opacity="0.07"/>
<line x1="515.1" y1="190.7" x2="515.1" y2="194.0" stroke="#6e3ec4" stroke-width="0.85" opacity="0.06"/>
<line x1="424.6" y1="222.3" x2="424.6" y2="224.5" stroke="#6e3ec4" stroke-width="0.51" opacity="0.28"/>
<line x1="467.2" y1="210.7" x2="467.2" y2="212.5" stroke="#6e3ec4" stroke-width="0.87" opacity="0.34"/>
<line x1="514.1" y1="190.4" x2="514.1" y2="194.2" stroke="#6e3ec4" stroke-width="0.93" opacity="0.04"/>
<line x1="411.7" y1="227.9" x2="411.7" y2="232.5" stroke="#6e3ec4" stroke-width="0.57" opacity="0.01"/>
<line x1="520.9" y1="190.8" x2="520.9" y2="195.1" stroke="#6e3ec4" stroke-width="0.91" opacity="0.02"/>
<line x1="445.4" y1="214.8" x2="445.4" y2="217.7" stroke="#6e3ec4" stroke-width="0.88" opacity="0.26"/>
<line x1="520.8" y1="188.4" x2="520.8" y2="191.9" stroke="#6e3ec4" stroke-width="0.84" opacity="0.01"/>
<line x1="466.9" y1="208.0" x2="466.9" y2="210.2" stroke="#6e3ec4" stroke-width="0.71" opacity="0.11"/>
<line x1="470.3" y1="206.2" x2="470.3" y2="211.1" stroke="#6e3ec4" stroke-width="0.93" opacity="0.20"/>
<line x1="482.5" y1="199.5" x2="482.5" y2="201.2" stroke="#6e3ec4" stroke-width="0.74" opacity="0.33"/>
<line x1="418.3" y1="228.2" x2="418.3" y2="230.5" stroke="#6e3ec4" stroke-width="0.71" opacity="0.06"/>
<line x1="501.4" y1="196.5" x2="501.4" y2="198.1" stroke="#6e3ec4" stroke-width="0.77" opacity="0.12"/>
<line x1="471.7" y1="206.0" x2="471.7" y2="210.9" stroke="#6e3ec4" stroke-width="0.67" opacity="0.24"/>
<line x1="514.8" y1="190.1" x2="514.8" y2="194.4" stroke="#6e3ec4" stroke-width="0.77" opacity="0.03"/>
<line x1="513.0" y1="190.5" x2="513.0" y2="193.1" stroke="#6e3ec4" stroke-width="0.52" opacity="0.03"/>
<line x1="435.9" y1="220.9" x2="435.9" y2="222.6" stroke="#6e3ec4" stroke-width="0.78" opacity="0.32"/>
<line x1="416.6" y1="225.1" x2="416.6" y2="228.3" stroke="#6e3ec4" stroke-width="0.54" opacity="0.12"/>
<line x1="442.6" y1="215.7" x2="442.6" y2="218.4" stroke="#6e3ec4" stroke-width="0.94" opacity="0.25"/>
<line x1="445.7" y1="213.8" x2="445.7" y2="215.5" stroke="#6e3ec4" stroke-width="0.96" opacity="0.35"/>
<line x1="463.8" y1="207.8" x2="463.8" y2="212.3" stroke="#6e3ec4" stroke-width="0.97" opacity="0.13"/>
<line x1="453.6" y1="211.0" x2="453.6" y2="213.8" stroke="#6e3ec4" stroke-width="0.59" opacity="0.15"/>
<line x1="414.4" y1="224.7" x2="414.4" y2="229.7" stroke="#6e3ec4" stroke-width="0.56" opacity="0.07"/>
<line x1="436.4" y1="217.8" x2="436.4" y2="220.8" stroke="#6e3ec4" stroke-width="0.85" opacity="0.12"/>
<line x1="476.9" y1="205.9" x2="476.9" y2="210.0" stroke="#6e3ec4" stroke-width="0.69" opacity="0.30"/>
<line x1="484.1" y1="204.3" x2="484.1" y2="206.7" stroke="#6e3ec4" stroke-width="0.91" opacity="0.32"/>
<line x1="427.8" y1="224.3" x2="427.8" y2="226.3" stroke="#6e3ec4" stroke-width="0.95" opacity="0.28"/>
<line x1="426.6" y1="223.8" x2="426.6" y2="225.8" stroke="#6e3ec4" stroke-width="0.93" opacity="0.21"/>
<line x1="518.7" y1="186.4" x2="518.7" y2="191.3" stroke="#6e3ec4" stroke-width="0.81" opacity="0.03"/>
<line x1="477.2" y1="201.8" x2="477.2" y2="206.0" stroke="#6e3ec4" stroke-width="0.80" opacity="0.10"/>
<line x1="476.9" y1="204.0" x2="476.9" y2="205.9" stroke="#6e3ec4" stroke-width="0.95" opacity="0.16"/>
<line x1="443.5" y1="214.9" x2="443.5" y2="219.3" stroke="#6e3ec4" stroke-width="0.75" opacity="0.28"/>
<line x1="504.9" y1="193.4" x2="504.9" y2="196.5" stroke="#6e3ec4" stroke-width="0.59" opacity="0.14"/>
<line x1="459.8" y1="208.3" x2="459.8" y2="212.9" stroke="#6e3ec4" stroke-width="0.74" opacity="0.37"/>
<line x1="457.5" y1="210.1" x2="457.5" y2="212.9" stroke="#6e3ec4" stroke-width="0.91" opacity="0.41"/>
<line x1="415.1" y1="229.4" x2="415.1" y2="231.8" stroke="#6e3ec4" stroke-width="0.73" opacity="0.08"/>
<line x1="422.6" y1="226.9" x2="422.6" y2="229.7" stroke="#6e3ec4" stroke-width="0.82" opacity="0.18"/>
<line x1="512.5" y1="190.5" x2="512.5" y2="194.0" stroke="#6e3ec4" stroke-width="0.57" opacity="0.06"/>
<line x1="440.7" y1="219.5" x2="440.7" y2="222.4" stroke="#6e3ec4" stroke-width="0.86" opacity="0.38"/>
<line x1="427.8" y1="225.8" x2="427.8" y2="228.4" stroke="#6e3ec4" stroke-width="0.83" opacity="0.34"/>
<line x1="434.4" y1="221.8" x2="434.4" y2="226.4" stroke="#6e3ec4" stroke-width="0.96" opacity="0.17"/>
<line x1="486.7" y1="199.7" x2="486.7" y2="203.6" stroke="#6e3ec4" stroke-width="0.76" opacity="0.13"/>
<line x1="516.3" y1="192.3" x2="516.3" y2="197.1" stroke="#6e3ec4" stroke-width="0.78" opacity="0.06"/>
<line x1="436.9" y1="217.7" x2="436.9" y2="221.9" stroke="#6e3ec4" stroke-width="0.92" opacity="0.40"/>
<line x1="447.5" y1="215.8" x2="447.5" y2="218.2" stroke="#6e3ec4" stroke-width="0.52" opacity="0.38"/>
<line x1="517.9" y1="189.2" x2="517.9" y2="191.3" stroke="#6e3ec4" stroke-width="0.80" opacity="0.05"/>
<line x1="494.6" y1="196.8" x2="494.6" y2="201.2" stroke="#6e3ec4" stroke-width="0.83" opacity="0.09"/>
<line x1="464.4" y1="204.1" x2="464.4" y2="207.5" stroke="#6e3ec4" stroke-width="0.63" opacity="0.28"/>
<line x1="426.8" y1="221.3" x2="426.8" y2="225.2" stroke="#6e3ec4" stroke-width="0.60" opacity="0.27"/>
<line x1="479.1" y1="201.7" x2="479.1" y2="204.1" stroke="#6e3ec4" stroke-width="0.68" opacity="0.33"/>
<line x1="453.8" y1="211.4" x2="453.8" y2="215.0" stroke="#6e3ec4" stroke-width="0.85" opacity="0.20"/>
<line x1="447.6" y1="212.8" x2="447.6" y2="217.7" stroke="#6e3ec4" stroke-width="0.60" opacity="0.13"/>
<line x1="461.8" y1="210.7" x2="461.8" y2="214.3" stroke="#6e3ec4" stroke-width="0.94" opacity="0.14"/>
<line x1="514.6" y1="191.8" x2="514.6" y2="193.7" stroke="#6e3ec4" stroke-width="0.60" opacity="0.04"/>
<line x1="498.2" y1="195.8" x2="498.2" y2="199.7" stroke="#6e3ec4" stroke-width="0.75" opacity="0.09"/>
<line x1="454.5" y1="218.1" x2="454.5" y2="222.3" stroke="#6e3ec4" stroke-width="0.80" opacity="0.12"/>
<line x1="423.1" y1="220.1" x2="423.1" y2="224.2" stroke="#6e3ec4" stroke-width="0.54" opacity="0.24"/>
<line x1="484.2" y1="204.1" x2="484.2" y2="206.4" stroke="#6e3ec4" stroke-width="0.54" opacity="0.29"/>
<line x1="446.2" y1="214.7" x2="446.2" y2="217.8" stroke="#6e3ec4" stroke-width="0.88" opacity="0.35"/>
<line x1="485.4" y1="202.0" x2="485.4" y2="204.7" stroke="#6e3ec4" stroke-width="0.78" opacity="0.20"/>
<line x1="501.6" y1="197.1" x2="501.6" y2="201.2" stroke="#6e3ec4" stroke-width="0.90" opacity="0.15"/>
<line x1="441.2" y1="217.7" x2="441.2" y2="219.4" stroke="#6e3ec4" stroke-width="0.73" opacity="0.31"/>
<line x1="436.1" y1="216.6" x2="436.1" y2="221.6" stroke="#6e3ec4" stroke-width="0.80" opacity="0.26"/>
<line x1="508.1" y1="194.1" x2="508.1" y2="196.7" stroke="#6e3ec4" stroke-width="0.82" opacity="0.09"/>
<line x1="510.2" y1="194.6" x2="510.2" y2="196.2" stroke="#6e3ec4" stroke-width="0.80" opacity="0.08"/>
<line x1="469.1" y1="205.6" x2="469.1" y2="209.2" stroke="#6e3ec4" stroke-width="0.87" opacity="0.37"/>
<line x1="444.6" y1="216.2" x2="444.6" y2="219.9" stroke="#6e3ec4" stroke-width="0.78" opacity="0.40"/>
<line x1="468.5" y1="208.1" x2="468.5" y2="212.6" stroke="#6e3ec4" stroke-width="0.69" opacity="0.33"/>
<line x1="428.9" y1="221.8" x2="428.9" y2="224.9" stroke="#6e3ec4" stroke-width="0.85" opacity="0.20"/>
<line x1="444.5" y1="214.9" x2="444.5" y2="218.6" stroke="#6e3ec4" stroke-width="0.75" opacity="0.14"/>
<line x1="482.5" y1="203.2" x2="482.5" y2="207.6" stroke="#6e3ec4" stroke-width="0.95" opacity="0.26"/>
<line x1="507.9" y1="194.0" x2="507.9" y2="196.4" stroke="#6e3ec4" stroke-width="0.69" opacity="0.07"/>
<line x1="463.4" y1="209.8" x2="463.4" y2="212.4" stroke="#6e3ec4" stroke-width="0.61" opacity="0.18"/>
<line x1="476.5" y1="206.1" x2="476.5" y2="207.6" stroke="#6e3ec4" stroke-width="0.64" opacity="0.10"/>
<line x1="474.0" y1="206.1" x2="474.0" y2="207.8" stroke="#6e3ec4" stroke-width="0.96" opacity="0.23"/>
<line x1="493.2" y1="194.3" x2="493.2" y2="197.3" stroke="#6e3ec4" stroke-width="0.59" opacity="0.20"/>
<line x1="416.2" y1="227.1" x2="416.2" y2="228.6" stroke="#6e3ec4" stroke-width="0.77" opacity="0.04"/>
<line x1="472.6" y1="204.1" x2="472.6" y2="206.2" stroke="#6e3ec4" stroke-width="0.58" opacity="0.34"/>
<line x1="500.8" y1="197.5" x2="500.8" y2="200.9" stroke="#6e3ec4" stroke-width="0.84" opacity="0.09"/>
<line x1="467.2" y1="207.4" x2="467.2" y2="209.9" stroke="#6e3ec4" stroke-width="0.63" opacity="0.35"/>
<line x1="470.8" y1="208.5" x2="470.8" y2="213.4" stroke="#6e3ec4" stroke-width="0.52" opacity="0.18"/>
<line x1="426.7" y1="221.3" x2="426.7" y2="225.9" stroke="#6e3ec4" stroke-width="0.86" opacity="0.26"/>
<line x1="462.0" y1="208.5" x2="462.0" y2="211.9" stroke="#6e3ec4" stroke-width="0.82" opacity="0.21"/>
<line x1="520.8" y1="187.4" x2="520.8" y2="190.0" stroke="#6e3ec4" stroke-width="0.81" opacity="0.01"/>
<line x1="501.3" y1="194.0" x2="501.3" y2="198.1" stroke="#6e3ec4" stroke-width="0.54" opacity="0.18"/>
<line x1="432.0" y1="219.9" x2="432.0" y2="224.1" stroke="#6e3ec4" stroke-width="0.59" opacity="0.13"/>
<line x1="515.3" y1="190.6" x2="515.3" y2="193.1" stroke="#6e3ec4" stroke-width="0.90" opacity="0.05"/>
<line x1="432.1" y1="219.3" x2="432.1" y2="221.2" stroke="#6e3ec4" stroke-width="0.60" opacity="0.25"/>
<line x1="496.9" y1="192.1" x2="496.9" y2="196.9" stroke="#6e3ec4" stroke-width="0.57" opacity="0.08"/>
<line x1="492.1" y1="198.7" x2="492.1" y2="202.4" stroke="#6e3ec4" stroke-width="0.63" opacity="0.23"/>
<line x1="495.3" y1="201.8" x2="495.3" y2="203.9" stroke="#6e3ec4" stroke-width="0.96" opacity="0.11"/>
<line x1="460.1" y1="209.0" x2="460.1" y2="212.9" stroke="#6e3ec4" stroke-width="0.59" opacity="0.20"/>
<line x1="412.5" y1="227.2" x2="412.5" y2="231.4" stroke="#6e3ec4" stroke-width="0.59" opacity="0.01"/>
<line x1="479.7" y1="201.4" x2="479.7" y2="205.1" stroke="#6e3ec4" stroke-width="0.83" opacity="0.15"/>
<line x1="494.5" y1="196.8" x2="494.5" y2="200.3" stroke="#6e3ec4" stroke-width="0.96" opacity="0.24"/>
<line x1="503.9" y1="193.4" x2="503.9" y2="197.9" stroke="#6e3ec4" stroke-width="0.59" opacity="0.07"/>
<line x1="474.2" y1="206.2" x2="474.2" y2="207.9" stroke="#6e3ec4" stroke-width="0.65" opacity="0.27"/>
<line x1="415.3" y1="226.0" x2="415.3" y2="229.6" stroke="#6e3ec4" stroke-width="0.70" opacity="0.09"/>
<line x1="468.7" y1="208.1" x2="468.7" y2="211.4" stroke="#6e3ec4" stroke-width="0.71" opacity="0.27"/>
<line x1="461.7" y1="211.5" x2="461.7" y2="213.6" stroke="#6e3ec4" stroke-width="0.70" opacity="0.37"/>
<line x1="515.2" y1="192.8" x2="515.2" y2="196.9" stroke="#6e3ec4" stroke-width="0.62" opacity="0.02"/>
<line x1="472.8" y1="204.7" x2="472.8" y2="207.4" stroke="#6e3ec4" stroke-width="0.93" opacity="0.11"/>
<line x1="445.5" y1="216.0" x2="445.5" y2="217.6" stroke="#6e3ec4" stroke-width="0.59" opacity="0.14"/>
<line x1="451.2" y1="212.0" x2="451.2" y2="215.2" stroke="#6e3ec4" stroke-width="0.64" opacity="0.14"/>
<line x1="479.1" y1="203.5" x2="479.1" y2="206.7" stroke="#6e3ec4" stroke-width="0.83" opacity="0.31"/>
<line x1="471.2" y1="206.8" x2="471.2" y2="209.7" stroke="#6e3ec4" stroke-width="0.87" opacity="0.19"/>
<line x1="515.1" y1="192.5" x2="515.1" y2="195.1" stroke="#6e3ec4" stroke-width="0.64" opacity="0.03"/>
<line x1="422.3" y1="226.8" x2="422.3" y2="228.8" stroke="#6e3ec4" stroke-width="0.84" opacity="0.20"/>
<line x1="436.3" y1="219.0" x2="436.3" y2="222.3" stroke="#6e3ec4" stroke-width="0.99" opacity="0.42"/>
<line x1="464.0" y1="206.7" x2="464.0" y2="211.5" stroke="#6e3ec4" stroke-width="0.94" opacity="0.20"/>
<line x1="474.2" y1="205.5" x2="474.2" y2="208.1" stroke="#6e3ec4" stroke-width="0.63" opacity="0.24"/>
<line x1="508.6" y1="194.8" x2="508.6" y2="197.7" stroke="#6e3ec4" stroke-width="0.54" opacity="0.06"/>
<line x1="448.6" y1="213.5" x2="448.6" y2="218.2" stroke="#6e3ec4" stroke-width="0.85" opacity="0.19"/>
<line x1="426.7" y1="224.8" x2="426.7" y2="228.7" stroke="#6e3ec4" stroke-width="0.90" opacity="0.33"/>
<line x1="473.8" y1="203.8" x2="473.8" y2="205.4" stroke="#6e3ec4" stroke-width="0.93" opacity="0.31"/>
<line x1="446.8" y1="212.0" x2="446.8" y2="216.5" stroke="#6e3ec4" stroke-width="0.62" opacity="0.34"/>
<line x1="453.2" y1="215.4" x2="453.2" y2="219.0" stroke="#6e3ec4" stroke-width="0.99" opacity="0.18"/>
<line x1="415.1" y1="221.3" x2="415.1" y2="226.1" stroke="#6e3ec4" stroke-width="0.71" opacity="0.05"/>
<line x1="498.2" y1="195.4" x2="498.2" y2="197.6" stroke="#6e3ec4" stroke-width="0.59" opacity="0.06"/>
<line x1="467.1" y1="208.5" x2="467.1" y2="211.9" stroke="#6e3ec4" stroke-width="0.65" opacity="0.11"/>
<line x1="446.8" y1="212.4" x2="446.8" y2="216.6" stroke="#6e3ec4" stroke-width="0.75" opacity="0.35"/>
<line x1="482.2" y1="200.9" x2="482.2" y2="203.1" stroke="#6e3ec4" stroke-width="0.88" opacity="0.26"/>
<line x1="478.0" y1="201.9" x2="478.0" y2="204.9" stroke="#6e3ec4" stroke-width="0.51" opacity="0.20"/>
<line x1="470.7" y1="207.0" x2="470.7" y2="208.8" stroke="#6e3ec4" stroke-width="0.80" opacity="0.26"/>
<line x1="506.5" y1="194.7" x2="506.5" y2="199.3" stroke="#6e3ec4" stroke-width="0.61" opacity="0.05"/>
<line x1="475.2" y1="204.2" x2="475.2" y2="206.3" stroke="#6e3ec4" stroke-width="0.94" opacity="0.29"/>
<line x1="453.6" y1="207.5" x2="453.6" y2="212.2" stroke="#6e3ec4" stroke-width="0.62" opacity="0.39"/>
<line x1="512.1" y1="191.4" x2="512.1" y2="193.1" stroke="#6e3ec4" stroke-width="0.87" opacity="0.05"/>
<line x1="430.9" y1="221.8" x2="430.9" y2="224.3" stroke="#6e3ec4" stroke-width="0.53" opacity="0.31"/>
<line x1="494.4" y1="194.1" x2="494.4" y2="198.9" stroke="#6e3ec4" stroke-width="0.62" opacity="0.24"/>
<line x1="447.7" y1="216.9" x2="447.7" y2="219.6" stroke="#6e3ec4" stroke-width="0.63" opacity="0.20"/>
<line x1="482.9" y1="199.9" x2="482.9" y2="202.3" stroke="#6e3ec4" stroke-width="0.76" opacity="0.15"/>
<line x1="464.2" y1="210.0" x2="464.2" y2="211.6" stroke="#6e3ec4" stroke-width="0.53" opacity="0.38"/>
<line x1="467.3" y1="208.2" x2="467.3" y2="211.6" stroke="#6e3ec4" stroke-width="0.79" opacity="0.30"/>
<line x1="483.1" y1="200.2" x2="483.1" y2="203.6" stroke="#6e3ec4" stroke-width="0.74" opacity="0.13"/>
<line x1="499.3" y1="198.0" x2="499.3" y2="202.0" stroke="#6e3ec4" stroke-width="0.85" opacity="0.11"/>
<line x1="510.3" y1="193.4" x2="510.3" y2="196.7" stroke="#6e3ec4" stroke-width="0.69" opacity="0.07"/>
<line x1="463.0" y1="208.2" x2="463.0" y2="210.3" stroke="#6e3ec4" stroke-width="0.60" opacity="0.31"/>
<line x1="448.9" y1="211.7" x2="448.9" y2="214.8" stroke="#6e3ec4" stroke-width="0.65" opacity="0.30"/>
<line x1="484.2" y1="199.7" x2="484.2" y2="203.2" stroke="#6e3ec4" stroke-width="0.93" opacity="0.24"/>
<line x1="413.5" y1="226.8" x2="413.5" y2="230.2" stroke="#6e3ec4" stroke-width="0.53" opacity="0.05"/>
<line x1="489.6" y1="199.2" x2="489.6" y2="201.3" stroke="#6e3ec4" stroke-width="0.78" opacity="0.11"/>
<line x1="414.7" y1="232.3" x2="414.7" y2="235.0" stroke="#6e3ec4" stroke-width="0.74" opacity="0.03"/>
<line x1="422.2" y1="224.0" x2="422.2" y2="227.8" stroke="#6e3ec4" stroke-width="0.68" opacity="0.21"/>
<line x1="412.0" y1="226.3" x2="412.0" y2="228.2" stroke="#6e3ec4" stroke-width="0.97" opacity="0.01"/>
<line x1="453.0" y1="211.0" x2="453.0" y2="214.3" stroke="#6e3ec4" stroke-width="0.52" opacity="0.13"/>
<line x1="484.1" y1="200.9" x2="484.1" y2="203.0" stroke="#6e3ec4" stroke-width="0.86" opacity="0.13"/>
<line x1="434.5" y1="217.4" x2="434.5" y2="219.3" stroke="#6e3ec4" stroke-width="0.89" opacity="0.29"/>
<line x1="483.7" y1="199.8" x2="483.7" y2="204.3" stroke="#6e3ec4" stroke-width="0.60" opacity="0.11"/>
<line x1="428.1" y1="219.6" x2="428.1" y2="222.0" stroke="#6e3ec4" stroke-width="0.64" opacity="0.23"/>
<line x1="427.7" y1="219.7" x2="427.7" y2="224.4" stroke="#6e3ec4" stroke-width="0.69" opacity="0.26"/>
<line x1="425.5" y1="226.7" x2="425.5" y2="229.7" stroke="#6e3ec4" stroke-width="0.79" opacity="0.11"/>
<line x1="447.2" y1="215.7" x2="447.2" y2="220.4" stroke="#6e3ec4" stroke-width="0.71" opacity="0.24"/>
<line x1="430.0" y1="225.3" x2="430.0" y2="227.0" stroke="#6e3ec4" stroke-width="0.56" opacity="0.37"/>
<line x1="501.3" y1="195.8" x2="501.3" y2="200.2" stroke="#6e3ec4" stroke-width="0.55" opacity="0.18"/>
<line x1="503.8" y1="193.5" x2="503.8" y2="197.6" stroke="#6e3ec4" stroke-width="0.51" opacity="0.16"/>
<line x1="430.7" y1="221.1" x2="430.7" y2="223.4" stroke="#6e3ec4" stroke-width="0.53" opacity="0.14"/>
<line x1="429.1" y1="221.7" x2="429.1" y2="223.3" stroke="#6e3ec4" stroke-width="1.00" opacity="0.32"/>
<line x1="438.8" y1="218.1" x2="438.8" y2="219.8" stroke="#6e3ec4" stroke-width="0.97" opacity="0.32"/>
<line x1="438.7" y1="215.4" x2="438.7" y2="220.2" stroke="#6e3ec4" stroke-width="0.52" opacity="0.20"/>
<line x1="513.8" y1="192.5" x2="513.8" y2="195.6" stroke="#6e3ec4" stroke-width="0.96" opacity="0.04"/>
<line x1="511.4" y1="193.1" x2="511.4" y2="197.2" stroke="#6e3ec4" stroke-width="0.82" opacity="0.03"/>
<line x1="439.7" y1="220.5" x2="439.7" y2="222.5" stroke="#6e3ec4" stroke-width="0.81" opacity="0.38"/>
<line x1="471.7" y1="205.6" x2="471.7" y2="207.9" stroke="#6e3ec4" stroke-width="0.63" opacity="0.33"/>
<line x1="465.7" y1="208.2" x2="465.7" y2="211.1" stroke="#6e3ec4" stroke-width="0.54" opacity="0.21"/>
<line x1="450.0" y1="212.9" x2="450.0" y2="216.8" stroke="#6e3ec4" stroke-width="0.81" opacity="0.20"/>
<line x1="478.9" y1="205.2" x2="478.9" y2="207.6" stroke="#6e3ec4" stroke-width="0.64" opacity="0.18"/>
<line x1="463.1" y1="207.6" x2="463.1" y2="211.1" stroke="#6e3ec4" stroke-width="0.69" opacity="0.26"/>
<line x1="415.0" y1="229.2" x2="415.0" y2="230.9" stroke="#6e3ec4" stroke-width="0.64" opacity="0.09"/>
<line x1="519.9" y1="189.5" x2="519.9" y2="194.4" stroke="#6e3ec4" stroke-width="0.81" opacity="0.02"/>
<line x1="490.9" y1="198.6" x2="490.9" y2="200.3" stroke="#6e3ec4" stroke-width="0.63" opacity="0.26"/>
<line x1="503.7" y1="193.7" x2="503.7" y2="198.4" stroke="#6e3ec4" stroke-width="0.97" opacity="0.08"/>
<line x1="496.2" y1="199.1" x2="496.2" y2="202.9" stroke="#6e3ec4" stroke-width="0.80" opacity="0.14"/>
<line x1="429.6" y1="222.8" x2="429.6" y2="225.9" stroke="#6e3ec4" stroke-width="0.79" opacity="0.18"/>
<line x1="441.2" y1="216.9" x2="441.2" y2="218.9" stroke="#6e3ec4" stroke-width="0.88" opacity="0.37"/>
<line x1="445.8" y1="210.8" x2="445.8" y2="214.0" stroke="#6e3ec4" stroke-width="0.94" opacity="0.39"/>
<line x1="517.0" y1="190.5" x2="517.0" y2="192.7" stroke="#6e3ec4" stroke-width="0.52" opacity="0.05"/>
<line x1="442.2" y1="214.3" x2="442.2" y2="216.2" stroke="#6e3ec4" stroke-width="0.77" opacity="0.25"/>
<line x1="431.4" y1="220.5" x2="431.4" y2="223.4" stroke="#6e3ec4" stroke-width="0.63" opacity="0.29"/>
<line x1="518.8" y1="186.9" x2="518.8" y2="191.5" stroke="#6e3ec4" stroke-width="0.85" opacity="0.03"/>
<line x1="472.0" y1="205.4" x2="472.0" y2="209.1" stroke="#6e3ec4" stroke-width="0.79" opacity="0.35"/>
<line x1="509.9" y1="192.3" x2="509.9" y2="195.3" stroke="#6e3ec4" stroke-width="0.79" opacity="0.05"/>
<line x1="448.7" y1="213.9" x2="448.7" y2="216.8" stroke="#6e3ec4" stroke-width="0.90" opacity="0.35"/>
<line x1="490.6" y1="201.5" x2="490.6" y2="205.9" stroke="#6e3ec4" stroke-width="0.57" opacity="0.21"/>
<line x1="451.4" y1="214.7" x2="451.4" y2="219.3" stroke="#6e3ec4" stroke-width="0.54" opacity="0.30"/>
<line x1="419.4" y1="225.3" x2="419.4" y2="229.5" stroke="#6e3ec4" stroke-width="0.75" opacity="0.11"/>
<line x1="428.6" y1="220.8" x2="428.6" y2="223.0" stroke="#6e3ec4" stroke-width="0.68" opacity="0.22"/>
<line x1="454.6" y1="208.7" x2="454.6" y2="212.6" stroke="#6e3ec4" stroke-width="0.81" opacity="0.18"/>
<line x1="467.6" y1="209.8" x2="467.6" y2="211.3" stroke="#6e3ec4" stroke-width="0.78" opacity="0.16"/>
<line x1="455.8" y1="212.9" x2="455.8" y2="214.8" stroke="#6e3ec4" stroke-width="0.60" opacity="0.24"/>
<line x1="440.4" y1="213.5" x2="440.4" y2="218.0" stroke="#6e3ec4" stroke-width="0.70" opacity="0.38"/>
<line x1="521.6" y1="191.6" x2="521.6" y2="193.6" stroke="#6e3ec4" stroke-width="0.68" opacity="0.01"/>
<line x1="515.2" y1="192.8" x2="515.2" y2="194.8" stroke="#6e3ec4" stroke-width="0.52" opacity="0.03"/>
<line x1="484.6" y1="199.7" x2="484.6" y2="201.6" stroke="#6e3ec4" stroke-width="0.59" opacity="0.09"/>
<line x1="416.8" y1="225.8" x2="416.8" y2="229.1" stroke="#6e3ec4" stroke-width="0.57" opacity="0.12"/>
<line x1="414.5" y1="224.5" x2="414.5" y2="226.9" stroke="#6e3ec4" stroke-width="0.71" opacity="0.04"/>
<line x1="503.5" y1="195.4" x2="503.5" y2="198.4" stroke="#6e3ec4" stroke-width="1.00" opacity="0.14"/>
<line x1="429.2" y1="220.8" x2="429.2" y2="223.8" stroke="#6e3ec4" stroke-width="0.56" opacity="0.34"/>
<line x1="431.7" y1="222.3" x2="431.7" y2="223.9" stroke="#6e3ec4" stroke-width="0.79" opacity="0.24"/>
<line x1="434.2" y1="219.5" x2="434.2" y2="222.0" stroke="#6e3ec4" stroke-width="0.86" opacity="0.39"/>
<line x1="445.9" y1="215.2" x2="445.9" y2="217.0" stroke="#6e3ec4" stroke-width="0.68" opacity="0.22"/>
<line x1="503.0" y1="195.2" x2="503.0" y2="197.4" stroke="#6e3ec4" stroke-width="0.96" opacity="0.12"/>
<line x1="481.2" y1="201.8" x2="481.2" y2="204.2" stroke="#6e3ec4" stroke-width="0.91" opacity="0.29"/>
<line x1="482.9" y1="202.6" x2="482.9" y2="205.4" stroke="#6e3ec4" stroke-width="0.82" opacity="0.18"/>
<line x1="460.9" y1="211.1" x2="460.9" y2="213.9" stroke="#6e3ec4" stroke-width="0.51" opacity="0.32"/>
<line x1="436.3" y1="219.2" x2="436.3" y2="223.8" stroke="#6e3ec4" stroke-width="0.62" opacity="0.18"/>
<line x1="510.7" y1="192.6" x2="510.7" y2="195.8" stroke="#6e3ec4" stroke-width="0.97" opacity="0.08"/>
<line x1="448.2" y1="213.7" x2="448.2" y2="216.8" stroke="#6e3ec4" stroke-width="0.75" opacity="0.26"/>
<line x1="430.3" y1="220.8" x2="430.3" y2="225.1" stroke="#6e3ec4" stroke-width="0.73" opacity="0.36"/>
<line x1="453.2" y1="210.4" x2="453.2" y2="214.2" stroke="#6e3ec4" stroke-width="0.78" opacity="0.17"/>
<line x1="437.1" y1="216.3" x2="437.1" y2="218.9" stroke="#6e3ec4" stroke-width="0.62" opacity="0.23"/>
<line x1="464.5" y1="210.8" x2="464.5" y2="212.7" stroke="#6e3ec4" stroke-width="1.00" opacity="0.36"/>
<line x1="486.5" y1="199.2" x2="486.5" y2="201.5" stroke="#6e3ec4" stroke-width="0.67" opacity="0.15"/>
<line x1="477.8" y1="203.1" x2="477.8" y2="205.4" stroke="#6e3ec4" stroke-width="0.70" opacity="0.32"/>
<line x1="508.0" y1="191.4" x2="508.0" y2="196.3" stroke="#6e3ec4" stroke-width="0.82" opacity="0.08"/>
<line x1="463.4" y1="208.6" x2="463.4" y2="212.1" stroke="#6e3ec4" stroke-width="0.59" opacity="0.30"/>
<line x1="421.8" y1="226.1" x2="421.8" y2="229.6" stroke="#6e3ec4" stroke-width="0.83" opacity="0.11"/>
<line x1="502.7" y1="195.6" x2="502.7" y2="199.8" stroke="#6e3ec4" stroke-width="0.68" opacity="0.11"/>
<line x1="511.9" y1="192.1" x2="511.9" y2="196.0" stroke="#6e3ec4" stroke-width="0.75" opacity="0.09"/>
<line x1="506.1" y1="200.1" x2="506.1" y2="202.0" stroke="#6e3ec4" stroke-width="0.90" opacity="0.10"/>
<line x1="472.4" y1="207.1" x2="472.4" y2="210.2" stroke="#6e3ec4" stroke-width="0.99" opacity="0.11"/>
<line x1="473.2" y1="204.8" x2="473.2" y2="207.7" stroke="#6e3ec4" stroke-width="0.85" opacity="0.32"/>
<line x1="498.2" y1="194.9" x2="498.2" y2="198.3" stroke="#6e3ec4" stroke-width="0.81" opacity="0.12"/>
<line x1="443.3" y1="214.2" x2="443.3" y2="217.6" stroke="#6e3ec4" stroke-width="0.83" opacity="0.20"/>
<line x1="454.9" y1="212.8" x2="454.9" y2="216.8" stroke="#6e3ec4" stroke-width="0.93" opacity="0.25"/>
<line x1="417.6" y1="230.8" x2="417.6" y2="232.6" stroke="#6e3ec4" stroke-width="0.97" opacity="0.07"/>
<line x1="502.2" y1="194.7" x2="502.2" y2="198.2" stroke="#6e3ec4" stroke-width="0.93" opacity="0.17"/>
<line x1="420.7" y1="222.6" x2="420.7" y2="224.5" stroke="#6e3ec4" stroke-width="0.94" opacity="0.07"/>
<line x1="447.0" y1="216.5" x2="447.0" y2="219.0" stroke="#6e3ec4" stroke-width="0.67" opacity="0.32"/>
<line x1="472.5" y1="205.9" x2="472.5" y2="210.1" stroke="#6e3ec4" stroke-width="0.89" opacity="0.33"/>
<line x1="431.9" y1="220.2" x2="431.9" y2="221.8" stroke="#6e3ec4" stroke-width="0.72" opacity="0.13"/>
<line x1="498.8" y1="196.7" x2="498.8" y2="200.1" stroke="#6e3ec4" stroke-width="0.74" opacity="0.16"/>
<line x1="503.5" y1="196.2" x2="503.5" y2="197.9" stroke="#6e3ec4" stroke-width="0.60" opacity="0.05"/>
<line x1="432.0" y1="218.9" x2="432.0" y2="223.0" stroke="#6e3ec4" stroke-width="0.94" opacity="0.39"/>
<line x1="512.9" y1="191.9" x2="512.9" y2="196.2" stroke="#6e3ec4" stroke-width="0.58" opacity="0.05"/>
<line x1="499.3" y1="191.9" x2="499.3" y2="195.7" stroke="#6e3ec4" stroke-width="0.55" opacity="0.14"/>
<line x1="468.7" y1="208.8" x2="468.7" y2="211.0" stroke="#6e3ec4" stroke-width="0.81" opacity="0.17"/>
<line x1="430.4" y1="217.1" x2="430.4" y2="221.5" stroke="#6e3ec4" stroke-width="0.65" opacity="0.33"/>
<line x1="503.0" y1="197.4" x2="503.0" y2="199.0" stroke="#6e3ec4" stroke-width="0.88" opacity="0.06"/>
<line x1="472.6" y1="208.4" x2="472.6" y2="210.5" stroke="#6e3ec4" stroke-width="0.79" opacity="0.36"/>
<line x1="484.2" y1="201.6" x2="484.2" y2="206.1" stroke="#6e3ec4" stroke-width="0.76" opacity="0.08"/>
<line x1="438.9" y1="217.6" x2="438.9" y2="219.4" stroke="#6e3ec4" stroke-width="0.88" opacity="0.27"/>
<line x1="515.1" y1="188.9" x2="515.1" y2="191.0" stroke="#6e3ec4" stroke-width="0.87" opacity="0.05"/>
<line x1="443.8" y1="215.8" x2="443.8" y2="218.7" stroke="#6e3ec4" stroke-width="0.54" opacity="0.21"/>
<line x1="517.8" y1="189.5" x2="517.8" y2="193.8" stroke="#6e3ec4" stroke-width="0.66" opacity="0.03"/>
<line x1="520.3" y1="192.9" x2="520.3" y2="195.9" stroke="#6e3ec4" stroke-width="0.52" opacity="0.02"/>
<line x1="494.7" y1="195.6" x2="494.7" y2="198.1" stroke="#6e3ec4" stroke-width="0.67" opacity="0.22"/>
<line x1="425.8" y1="223.8" x2="425.8" y2="225.5" stroke="#6e3ec4" stroke-width="0.90" opacity="0.23"/>
<line x1="452.9" y1="212.5" x2="452.9" y2="215.0" stroke="#6e3ec4" stroke-width="0.68" opacity="0.42"/>
<line x1="507.8" y1="198.1" x2="507.8" y2="200.3" stroke="#6e3ec4" stroke-width="0.93" opacity="0.06"/>
<line x1="432.3" y1="221.4" x2="432.3" y2="224.2" stroke="#6e3ec4" stroke-width="0.65" opacity="0.18"/>
<line x1="505.8" y1="193.5" x2="505.8" y2="197.1" stroke="#6e3ec4" stroke-width="0.69" opacity="0.10"/>
<line x1="503.9" y1="192.7" x2="503.9" y2="195.6" stroke="#6e3ec4" stroke-width="0.84" opacity="0.04"/>
<line x1="487.9" y1="202.3" x2="487.9" y2="204.2" stroke="#6e3ec4" stroke-width="0.62" opacity="0.22"/>
<line x1="434.8" y1="221.1" x2="434.8" y2="223.4" stroke="#6e3ec4" stroke-width="0.91" opacity="0.41"/>
<line x1="465.0" y1="207.4" x2="465.0" y2="209.2" stroke="#6e3ec4" stroke-width="0.95" opacity="0.25"/>
<line x1="500.9" y1="199.0" x2="500.9" y2="203.3" stroke="#6e3ec4" stroke-width="0.64" opacity="0.14"/>
<line x1="470.6" y1="208.6" x2="470.6" y2="210.9" stroke="#6e3ec4" stroke-width="0.76" opacity="0.14"/>
<line x1="440.1" y1="220.5" x2="440.1" y2="222.3" stroke="#6e3ec4" stroke-width="0.80" opacity="0.40"/>
<line x1="452.8" y1="211.2" x2="452.8" y2="216.1" stroke="#6e3ec4" stroke-width="0.58" opacity="0.36"/>
<line x1="468.8" y1="206.2" x2="468.8" y2="209.6" stroke="#6e3ec4" stroke-width="0.57" opacity="0.31"/>
<line x1="500.6" y1="195.1" x2="500.6" y2="199.5" stroke="#6e3ec4" stroke-width="0.81" opacity="0.13"/>
<line x1="488.5" y1="198.2" x2="488.5" y2="201.2" stroke="#6e3ec4" stroke-width="0.96" opacity="0.18"/>
<line x1="515.5" y1="192.5" x2="515.5" y2="194.9" stroke="#6e3ec4" stroke-width="0.71" opacity="0.04"/>
<line x1="423.8" y1="222.7" x2="423.8" y2="227.7" stroke="#6e3ec4" stroke-width="0.61" opacity="0.15"/>
<line x1="490.1" y1="197.0" x2="490.1" y2="198.7" stroke="#6e3ec4" stroke-width="0.53" opacity="0.23"/>
<line x1="498.7" y1="198.3" x2="498.7" y2="202.1" stroke="#6e3ec4" stroke-width="0.64" opacity="0.18"/>
<line x1="479.6" y1="206.3" x2="479.6" y2="210.9" stroke="#6e3ec4" stroke-width="0.51" opacity="0.21"/>
<line x1="492.4" y1="198.6" x2="492.4" y2="202.2" stroke="#6e3ec4" stroke-width="0.52" opacity="0.20"/>
<line x1="473.2" y1="204.2" x2="473.2" y2="208.8" stroke="#6e3ec4" stroke-width="0.95" opacity="0.13"/>
<line x1="412.6" y1="230.4" x2="412.6" y2="233.6" stroke="#6e3ec4" stroke-width="0.54" opacity="0.04"/>
<line x1="468.1" y1="206.2" x2="468.1" y2="210.5" stroke="#6e3ec4" stroke-width="0.79" opacity="0.27"/>
<line x1="516.8" y1="193.7" x2="516.8" y2="196.0" stroke="#6e3ec4" stroke-width="0.90" opacity="0.06"/>
<line x1="449.0" y1="214.2" x2="449.0" y2="216.0" stroke="#6e3ec4" stroke-width="0.84" opacity="0.35"/>
<line x1="478.9" y1="203.8" x2="478.9" y2="205.4" stroke="#6e3ec4" stroke-width="0.75" opacity="0.28"/>
<line x1="434.6" y1="219.5" x2="434.6" y2="223.0" stroke="#6e3ec4" stroke-width="0.66" opacity="0.37"/>
<line x1="452.1" y1="216.6" x2="452.1" y2="219.1" stroke="#6e3ec4" stroke-width="0.89" opacity="0.17"/>
<line x1="466.1" y1="205.1" x2="466.1" y2="209.8" stroke="#6e3ec4" stroke-width="0.67" opacity="0.18"/>
<line x1="454.9" y1="215.5" x2="454.9" y2="218.1" stroke="#6e3ec4" stroke-width="0.72" opacity="0.32"/>
<line x1="428.1" y1="220.5" x2="428.1" y2="224.2" stroke="#6e3ec4" stroke-width="0.61" opacity="0.16"/>
<line x1="424.5" y1="225.2" x2="424.5" y2="227.1" stroke="#6e3ec4" stroke-width="0.66" opacity="0.18"/>
<line x1="456.3" y1="208.8" x2="456.3" y2="211.2" stroke="#6e3ec4" stroke-width="0.62" opacity="0.37"/>
<line x1="494.8" y1="197.6" x2="494.8" y2="200.8" stroke="#6e3ec4" stroke-width="0.99" opacity="0.08"/>
<line x1="445.2" y1="215.7" x2="445.2" y2="217.9" stroke="#6e3ec4" stroke-width="0.71" opacity="0.28"/>
<line x1="452.5" y1="209.4" x2="452.5" y2="214.4" stroke="#6e3ec4" stroke-width="0.52" opacity="0.21"/>
<line x1="477.2" y1="206.9" x2="477.2" y2="208.5" stroke="#6e3ec4" stroke-width="0.65" opacity="0.17"/>
<line x1="413.8" y1="225.5" x2="413.8" y2="229.2" stroke="#6e3ec4" stroke-width="0.80" opacity="0.05"/>
<line x1="487.1" y1="199.4" x2="487.1" y2="202.3" stroke="#6e3ec4" stroke-width="0.94" opacity="0.21"/>
<line x1="472.1" y1="202.5" x2="472.1" y2="206.4" stroke="#6e3ec4" stroke-width="0.78" opacity="0.26"/>
<line x1="469.0" y1="205.2" x2="469.0" y2="209.6" stroke="#6e3ec4" stroke-width="0.87" opacity="0.33"/>
<line x1="428.6" y1="223.3" x2="428.6" y2="227.1" stroke="#6e3ec4" stroke-width="0.70" opacity="0.24"/>
<line x1="459.1" y1="209.9" x2="459.1" y2="212.8" stroke="#6e3ec4" stroke-width="0.59" opacity="0.40"/>
<line x1="467.7" y1="209.7" x2="467.7" y2="212.7" stroke="#6e3ec4" stroke-width="0.88" opacity="0.29"/>
<line x1="519.6" y1="189.3" x2="519.6" y2="193.7" stroke="#6e3ec4" stroke-width="0.70" opacity="0.02"/>
<line x1="417.2" y1="227.1" x2="417.2" y2="230.1" stroke="#6e3ec4" stroke-width="0.52" opacity="0.08"/>
<line x1="511.8" y1="192.4" x2="511.8" y2="195.2" stroke="#6e3ec4" stroke-width="0.61" opacity="0.07"/>
<line x1="436.7" y1="220.0" x2="436.7" y2="224.0" stroke="#6e3ec4" stroke-width="0.86" opacity="0.29"/>
<line x1="458.1" y1="211.5" x2="458.1" y2="213.9" stroke="#6e3ec4" stroke-width="0.69" opacity="0.32"/>
<line x1="416.9" y1="225.3" x2="416.9" y2="228.3" stroke="#6e3ec4" stroke-width="0.83" opacity="0.13"/>
<line x1="429.6" y1="223.8" x2="429.6" y2="228.0" stroke="#6e3ec4" stroke-width="0.63" opacity="0.30"/>
<line x1="440.4" y1="216.8" x2="440.4" y2="219.1" stroke="#6e3ec4" stroke-width="0.99" opacity="0.36"/>
<line x1="422.6" y1="221.7" x2="422.6" y2="225.1" stroke="#6e3ec4" stroke-width="0.54" opacity="0.13"/>
<line x1="466.4" y1="206.5" x2="466.4" y2="208.6" stroke="#6e3ec4" stroke-width="0.79" opacity="0.26"/>
<line x1="522.1" y1="189.7" x2="522.1" y2="192.9" stroke="#6e3ec4" stroke-width="0.95" opacity="0.02"/>
<line x1="455.3" y1="210.9" x2="455.3" y2="212.4" stroke="#6e3ec4" stroke-width="0.50" opacity="0.15"/>
<line x1="442.3" y1="216.3" x2="442.3" y2="219.3" stroke="#6e3ec4" stroke-width="0.73" opacity="0.39"/>
<line x1="438.3" y1="220.3" x2="438.3" y2="221.8" stroke="#6e3ec4" stroke-width="0.98" opacity="0.39"/>
<line x1="461.6" y1="205.3" x2="461.6" y2="209.9" stroke="#6e3ec4" stroke-width="0.98" opacity="0.23"/>
<line x1="519.5" y1="190.0" x2="519.5" y2="192.8" stroke="#6e3ec4" stroke-width="0.67" opacity="0.03"/>
<line x1="494.0" y1="200.0" x2="494.0" y2="202.9" stroke="#6e3ec4" stroke-width="0.90" opacity="0.19"/>
<line x1="432.8" y1="219.2" x2="432.8" y2="224.1" stroke="#6e3ec4" stroke-width="0.59" opacity="0.13"/>
<line x1="420.2" y1="222.8" x2="420.2" y2="224.5" stroke="#6e3ec4" stroke-width="0.53" opacity="0.13"/>
<line x1="443.7" y1="217.1" x2="443.7" y2="220.0" stroke="#6e3ec4" stroke-width="0.83" opacity="0.34"/>
<line x1="420.6" y1="223.0" x2="420.6" y2="227.0" stroke="#6e3ec4" stroke-width="0.71" opacity="0.20"/>
<line x1="475.8" y1="204.7" x2="475.8" y2="207.9" stroke="#6e3ec4" stroke-width="0.54" opacity="0.13"/>
<line x1="469.8" y1="208.3" x2="469.8" y2="211.2" stroke="#6e3ec4" stroke-width="0.76" opacity="0.38"/>
<line x1="435.1" y1="219.0" x2="435.1" y2="222.7" stroke="#6e3ec4" stroke-width="0.64" opacity="0.13"/>
<line x1="484.5" y1="205.2" x2="484.5" y2="209.0" stroke="#6e3ec4" stroke-width="0.83" opacity="0.20"/>
<line x1="509.5" y1="195.0" x2="509.5" y2="197.1" stroke="#6e3ec4" stroke-width="0.63" opacity="0.05"/>
<line x1="508.3" y1="196.2" x2="508.3" y2="198.1" stroke="#6e3ec4" stroke-width="0.59" opacity="0.04"/>
<line x1="499.2" y1="198.9" x2="499.2" y2="201.4" stroke="#6e3ec4" stroke-width="0.94" opacity="0.11"/>
<line x1="444.6" y1="215.1" x2="444.6" y2="216.8" stroke="#6e3ec4" stroke-width="0.91" opacity="0.27"/>
<line x1="413.1" y1="226.0" x2="413.1" y2="228.5" stroke="#6e3ec4" stroke-width="0.95" opacity="0.02"/>
<line x1="494.3" y1="197.4" x2="494.3" y2="200.5" stroke="#6e3ec4" stroke-width="0.88" opacity="0.14"/>
<line x1="480.3" y1="204.7" x2="480.3" y2="206.2" stroke="#6e3ec4" stroke-width="0.97" opacity="0.10"/>
<line x1="417.5" y1="225.3" x2="417.5" y2="229.6" stroke="#6e3ec4" stroke-width="0.83" opacity="0.11"/>
<line x1="422.0" y1="225.6" x2="422.0" y2="228.0" stroke="#6e3ec4" stroke-width="0.73" opacity="0.15"/>
<line x1="494.8" y1="198.1" x2="494.8" y2="201.9" stroke="#6e3ec4" stroke-width="0.95" opacity="0.13"/>
<line x1="458.4" y1="208.9" x2="458.4" y2="213.8" stroke="#6e3ec4" stroke-width="0.79" opacity="0.22"/>
<line x1="471.5" y1="205.8" x2="471.5" y2="208.9" stroke="#6e3ec4" stroke-width="0.83" opacity="0.19"/>
<line x1="432.4" y1="223.8" x2="432.4" y2="226.1" stroke="#6e3ec4" stroke-width="0.79" opacity="0.13"/>
<line x1="443.0" y1="211.6" x2="443.0" y2="215.5" stroke="#6e3ec4" stroke-width="0.61" opacity="0.37"/>
<line x1="511.5" y1="191.2" x2="511.5" y2="194.5" stroke="#6e3ec4" stroke-width="0.96" opacity="0.07"/>
<line x1="490.4" y1="200.6" x2="490.4" y2="202.3" stroke="#6e3ec4" stroke-width="0.50" opacity="0.14"/>
<line x1="431.9" y1="221.6" x2="431.9" y2="225.3" stroke="#6e3ec4" stroke-width="0.77" opacity="0.27"/>
<line x1="483.9" y1="199.4" x2="483.9" y2="203.3" stroke="#6e3ec4" stroke-width="0.68" opacity="0.19"/>
<line x1="492.8" y1="174.0" x2="492.8" y2="176.4" stroke="#8a5cd6" stroke-width="0.76" opacity="0.27"/>
<line x1="502.6" y1="171.8" x2="502.6" y2="173.3" stroke="#8a5cd6" stroke-width="0.96" opacity="0.14"/>
<line x1="526.5" y1="154.2" x2="526.5" y2="155.8" stroke="#8a5cd6" stroke-width="0.67" opacity="0.09"/>
<line x1="477.2" y1="181.0" x2="477.2" y2="183.8" stroke="#8a5cd6" stroke-width="0.92" opacity="0.34"/>
<line x1="446.1" y1="198.2" x2="446.1" y2="201.9" stroke="#8a5cd6" stroke-width="0.57" opacity="0.16"/>
<line x1="431.1" y1="206.3" x2="431.1" y2="209.2" stroke="#8a5cd6" stroke-width="0.80" opacity="0.11"/>
<line x1="465.8" y1="186.8" x2="465.8" y2="190.2" stroke="#8a5cd6" stroke-width="0.71" opacity="0.28"/>
<line x1="438.4" y1="204.0" x2="438.4" y2="206.3" stroke="#8a5cd6" stroke-width="0.97" opacity="0.23"/>
<line x1="470.3" y1="184.7" x2="470.3" y2="188.6" stroke="#8a5cd6" stroke-width="0.52" opacity="0.28"/>
<line x1="493.2" y1="168.2" x2="493.2" y2="170.8" stroke="#8a5cd6" stroke-width="0.82" opacity="0.33"/>
<line x1="514.0" y1="163.1" x2="514.0" y2="165.3" stroke="#8a5cd6" stroke-width="0.71" opacity="0.11"/>
<line x1="436.4" y1="206.3" x2="436.4" y2="208.2" stroke="#8a5cd6" stroke-width="0.93" opacity="0.13"/>
<line x1="521.6" y1="155.8" x2="521.6" y2="158.4" stroke="#8a5cd6" stroke-width="0.64" opacity="0.05"/>
<line x1="437.1" y1="201.6" x2="437.1" y2="205.3" stroke="#8a5cd6" stroke-width="0.63" opacity="0.14"/>
<line x1="462.7" y1="188.2" x2="462.7" y2="190.6" stroke="#8a5cd6" stroke-width="0.55" opacity="0.20"/>
<line x1="468.3" y1="188.2" x2="468.3" y2="192.4" stroke="#8a5cd6" stroke-width="0.56" opacity="0.22"/>
<line x1="458.9" y1="193.5" x2="458.9" y2="196.0" stroke="#8a5cd6" stroke-width="0.70" opacity="0.29"/>
<line x1="426.1" y1="210.9" x2="426.1" y2="214.8" stroke="#8a5cd6" stroke-width="0.56" opacity="0.13"/>
<line x1="505.2" y1="163.7" x2="505.2" y2="165.8" stroke="#8a5cd6" stroke-width="0.70" opacity="0.14"/>
<line x1="505.5" y1="163.3" x2="505.5" y2="167.3" stroke="#8a5cd6" stroke-width="0.99" opacity="0.24"/>
<line x1="439.6" y1="197.1" x2="439.6" y2="202.0" stroke="#8a5cd6" stroke-width="0.60" opacity="0.13"/>
<line x1="535.0" y1="151.7" x2="535.0" y2="156.3" stroke="#8a5cd6" stroke-width="0.66" opacity="0.01"/>
<line x1="531.4" y1="156.9" x2="531.4" y2="160.2" stroke="#8a5cd6" stroke-width="0.74" opacity="0.02"/>
<line x1="511.2" y1="159.5" x2="511.2" y2="163.2" stroke="#8a5cd6" stroke-width="0.85" opacity="0.17"/>
<line x1="418.6" y1="212.7" x2="418.6" y2="214.3" stroke="#8a5cd6" stroke-width="0.56" opacity="0.02"/>
<line x1="511.7" y1="164.5" x2="511.7" y2="167.9" stroke="#8a5cd6" stroke-width="0.53" opacity="0.10"/>
<line x1="492.5" y1="172.7" x2="492.5" y2="177.1" stroke="#8a5cd6" stroke-width="0.77" opacity="0.25"/>
<line x1="532.9" y1="149.8" x2="532.9" y2="154.8" stroke="#8a5cd6" stroke-width="0.99" opacity="0.01"/>
<line x1="474.9" y1="181.4" x2="474.9" y2="183.7" stroke="#8a5cd6" stroke-width="0.67" opacity="0.18"/>
<line x1="431.1" y1="203.5" x2="431.1" y2="208.4" stroke="#8a5cd6" stroke-width="0.95" opacity="0.06"/>
<line x1="473.2" y1="180.4" x2="473.2" y2="184.8" stroke="#8a5cd6" stroke-width="0.58" opacity="0.30"/>
<line x1="519.6" y1="158.4" x2="519.6" y2="161.4" stroke="#8a5cd6" stroke-width="0.63" opacity="0.08"/>
<line x1="425.5" y1="206.5" x2="425.5" y2="210.6" stroke="#8a5cd6" stroke-width="0.68" opacity="0.12"/>
<line x1="461.0" y1="187.3" x2="461.0" y2="192.3" stroke="#8a5cd6" stroke-width="0.61" opacity="0.36"/>
<line x1="419.9" y1="212.3" x2="419.9" y2="216.1" stroke="#8a5cd6" stroke-width="0.88" opacity="0.03"/>
<line x1="499.3" y1="170.1" x2="499.3" y2="174.6" stroke="#8a5cd6" stroke-width="0.76" opacity="0.26"/>
<line x1="510.0" y1="163.5" x2="510.0" y2="166.3" stroke="#8a5cd6" stroke-width="0.76" opacity="0.18"/>
<line x1="471.4" y1="186.2" x2="471.4" y2="189.7" stroke="#8a5cd6" stroke-width="0.59" opacity="0.17"/>
<line x1="453.3" y1="193.1" x2="453.3" y2="197.1" stroke="#8a5cd6" stroke-width="0.64" opacity="0.29"/>
<line x1="513.6" y1="164.4" x2="513.6" y2="167.6" stroke="#8a5cd6" stroke-width="0.66" opacity="0.17"/>
<line x1="422.2" y1="212.7" x2="422.2" y2="217.4" stroke="#8a5cd6" stroke-width="1.00" opacity="0.03"/>
<line x1="532.2" y1="146.4" x2="532.2" y2="150.5" stroke="#8a5cd6" stroke-width="0.60" opacity="0.02"/>
<line x1="431.0" y1="207.2" x2="431.0" y2="211.0" stroke="#8a5cd6" stroke-width="0.93" opacity="0.14"/>
<line x1="525.8" y1="155.1" x2="525.8" y2="160.1" stroke="#8a5cd6" stroke-width="0.92" opacity="0.06"/>
<line x1="507.4" y1="161.5" x2="507.4" y2="166.5" stroke="#8a5cd6" stroke-width="0.80" opacity="0.07"/>
<line x1="521.4" y1="164.2" x2="521.4" y2="167.7" stroke="#8a5cd6" stroke-width="0.99" opacity="0.09"/>
<line x1="448.2" y1="199.4" x2="448.2" y2="201.0" stroke="#8a5cd6" stroke-width="0.71" opacity="0.10"/>
<line x1="519.2" y1="156.2" x2="519.2" y2="160.5" stroke="#8a5cd6" stroke-width="0.69" opacity="0.09"/>
<line x1="533.7" y1="150.1" x2="533.7" y2="152.1" stroke="#8a5cd6" stroke-width="0.98" opacity="0.03"/>
<line x1="446.3" y1="193.4" x2="446.3" y2="196.2" stroke="#8a5cd6" stroke-width="0.73" opacity="0.19"/>
<line x1="530.6" y1="153.7" x2="530.6" y2="156.3" stroke="#8a5cd6" stroke-width="0.97" opacity="0.05"/>
<line x1="523.7" y1="154.0" x2="523.7" y2="157.2" stroke="#8a5cd6" stroke-width="0.91" opacity="0.04"/>
<line x1="429.0" y1="206.3" x2="429.0" y2="211.2" stroke="#8a5cd6" stroke-width="0.77" opacity="0.12"/>
<line x1="462.5" y1="186.0" x2="462.5" y2="189.4" stroke="#8a5cd6" stroke-width="0.54" opacity="0.18"/>
<line x1="461.5" y1="189.7" x2="461.5" y2="193.8" stroke="#8a5cd6" stroke-width="1.00" opacity="0.11"/>
<line x1="471.0" y1="183.3" x2="471.0" y2="185.3" stroke="#8a5cd6" stroke-width="0.82" opacity="0.25"/>
<line x1="484.3" y1="179.2" x2="484.3" y2="183.3" stroke="#8a5cd6" stroke-width="0.57" opacity="0.22"/>
<line x1="505.0" y1="167.3" x2="505.0" y2="169.0" stroke="#8a5cd6" stroke-width="0.77" opacity="0.23"/>
<line x1="464.5" y1="186.8" x2="464.5" y2="191.6" stroke="#8a5cd6" stroke-width="0.92" opacity="0.21"/>
<line x1="512.0" y1="159.9" x2="512.0" y2="163.6" stroke="#8a5cd6" stroke-width="0.98" opacity="0.08"/>
<line x1="420.0" y1="209.9" x2="420.0" y2="212.8" stroke="#8a5cd6" stroke-width="0.95" opacity="0.03"/>
<line x1="449.8" y1="196.2" x2="449.8" y2="198.2" stroke="#8a5cd6" stroke-width="0.74" opacity="0.18"/>
<line x1="480.7" y1="176.4" x2="480.7" y2="181.1" stroke="#8a5cd6" stroke-width="0.76" opacity="0.25"/>
<line x1="422.7" y1="210.4" x2="422.7" y2="212.2" stroke="#8a5cd6" stroke-width="0.82" opacity="0.06"/>
<line x1="436.8" y1="202.2" x2="436.8" y2="204.8" stroke="#8a5cd6" stroke-width="0.56" opacity="0.14"/>
<line x1="455.0" y1="194.9" x2="455.0" y2="198.5" stroke="#8a5cd6" stroke-width="0.58" opacity="0.31"/>
<line x1="514.6" y1="159.3" x2="514.6" y2="161.9" stroke="#8a5cd6" stroke-width="0.72" opacity="0.07"/>
<line x1="435.8" y1="202.7" x2="435.8" y2="205.1" stroke="#8a5cd6" stroke-width="0.96" opacity="0.12"/>
<line x1="507.8" y1="161.6" x2="507.8" y2="166.2" stroke="#8a5cd6" stroke-width="0.62" opacity="0.24"/>
<line x1="525.9" y1="156.5" x2="525.9" y2="158.1" stroke="#8a5cd6" stroke-width="0.88" opacity="0.09"/>
<line x1="457.0" y1="192.6" x2="457.0" y2="194.2" stroke="#8a5cd6" stroke-width="0.53" opacity="0.11"/>
<line x1="418.1" y1="209.3" x2="418.1" y2="211.8" stroke="#8a5cd6" stroke-width="0.97" opacity="0.01"/>
<line x1="524.1" y1="148.9" x2="524.1" y2="153.8" stroke="#8a5cd6" stroke-width="0.97" opacity="0.06"/>
<line x1="454.5" y1="193.5" x2="454.5" y2="197.8" stroke="#8a5cd6" stroke-width="0.96" opacity="0.12"/>
<line x1="520.6" y1="165.2" x2="520.6" y2="167.3" stroke="#8a5cd6" stroke-width="0.99" opacity="0.06"/>
<line x1="487.6" y1="174.5" x2="487.6" y2="176.3" stroke="#8a5cd6" stroke-width="0.75" opacity="0.24"/>
<line x1="447.0" y1="196.4" x2="447.0" y2="199.0" stroke="#8a5cd6" stroke-width="0.52" opacity="0.35"/>
<line x1="509.5" y1="166.2" x2="509.5" y2="169.7" stroke="#8a5cd6" stroke-width="0.58" opacity="0.21"/>
<line x1="432.1" y1="207.9" x2="432.1" y2="212.7" stroke="#8a5cd6" stroke-width="0.77" opacity="0.07"/>
<line x1="495.5" y1="167.6" x2="495.5" y2="170.9" stroke="#8a5cd6" stroke-width="0.86" opacity="0.17"/>
<line x1="486.1" y1="171.6" x2="486.1" y2="174.9" stroke="#8a5cd6" stroke-width="1.00" opacity="0.24"/>
<line x1="425.5" y1="208.0" x2="425.5" y2="210.4" stroke="#8a5cd6" stroke-width="0.68" opacity="0.13"/>
<line x1="499.2" y1="166.1" x2="499.2" y2="169.4" stroke="#8a5cd6" stroke-width="0.62" opacity="0.20"/>
<line x1="419.0" y1="210.4" x2="419.0" y2="212.2" stroke="#8a5cd6" stroke-width="0.58" opacity="0.02"/>
<line x1="526.0" y1="157.7" x2="526.0" y2="162.2" stroke="#8a5cd6" stroke-width="0.64" opacity="0.05"/>
<line x1="424.5" y1="209.1" x2="424.5" y2="211.0" stroke="#8a5cd6" stroke-width="0.86" opacity="0.04"/>
<line x1="494.7" y1="170.2" x2="494.7" y2="175.1" stroke="#8a5cd6" stroke-width="0.54" opacity="0.13"/>
<line x1="479.3" y1="180.3" x2="479.3" y2="185.2" stroke="#8a5cd6" stroke-width="0.84" opacity="0.23"/>
<line x1="423.5" y1="211.9" x2="423.5" y2="216.2" stroke="#8a5cd6" stroke-width="0.84" opacity="0.07"/>
<line x1="493.6" y1="171.5" x2="493.6" y2="174.3" stroke="#8a5cd6" stroke-width="0.81" opacity="0.11"/>
<line x1="527.9" y1="152.5" x2="527.9" y2="157.1" stroke="#8a5cd6" stroke-width="0.70" opacity="0.06"/>
<line x1="512.8" y1="166.2" x2="512.8" y2="169.6" stroke="#8a5cd6" stroke-width="0.75" opacity="0.12"/>
<line x1="469.7" y1="187.2" x2="469.7" y2="189.4" stroke="#8a5cd6" stroke-width="0.69" opacity="0.20"/>
<line x1="512.3" y1="159.3" x2="512.3" y2="162.0" stroke="#8a5cd6" stroke-width="0.82" opacity="0.11"/>
<line x1="451.9" y1="195.2" x2="451.9" y2="199.3" stroke="#8a5cd6" stroke-width="0.74" opacity="0.35"/>
<line x1="432.0" y1="201.2" x2="432.0" y2="204.2" stroke="#8a5cd6" stroke-width="0.51" opacity="0.21"/>
<line x1="529.5" y1="152.7" x2="529.5" y2="155.6" stroke="#8a5cd6" stroke-width="0.95" opacity="0.03"/>
<line x1="419.4" y1="210.8" x2="419.4" y2="214.7" stroke="#8a5cd6" stroke-width="0.58" opacity="0.01"/>
<line x1="475.0" y1="184.5" x2="475.0" y2="186.6" stroke="#8a5cd6" stroke-width="0.77" opacity="0.10"/>
<line x1="436.4" y1="206.6" x2="436.4" y2="209.9" stroke="#8a5cd6" stroke-width="0.88" opacity="0.11"/>
<line x1="504.8" y1="168.0" x2="504.8" y2="171.4" stroke="#8a5cd6" stroke-width="0.88" opacity="0.18"/>
<line x1="433.3" y1="210.8" x2="433.3" y2="214.1" stroke="#8a5cd6" stroke-width="0.72" opacity="0.10"/>
<line x1="501.8" y1="169.0" x2="501.8" y2="172.1" stroke="#8a5cd6" stroke-width="0.60" opacity="0.09"/>
<line x1="483.0" y1="178.6" x2="483.0" y2="182.2" stroke="#8a5cd6" stroke-width="0.81" opacity="0.14"/>
<line x1="501.8" y1="164.4" x2="501.8" y2="167.9" stroke="#8a5cd6" stroke-width="0.81" opacity="0.19"/>
<line x1="443.4" y1="197.3" x2="443.4" y2="202.0" stroke="#8a5cd6" stroke-width="0.54" opacity="0.16"/>
<line x1="420.8" y1="213.3" x2="420.8" y2="216.3" stroke="#8a5cd6" stroke-width="0.83" opacity="0.02"/>
<line x1="428.0" y1="203.4" x2="428.0" y2="207.4" stroke="#8a5cd6" stroke-width="0.80" opacity="0.09"/>
<line x1="513.7" y1="160.3" x2="513.7" y2="163.9" stroke="#8a5cd6" stroke-width="0.83" opacity="0.17"/>
<line x1="518.1" y1="161.8" x2="518.1" y2="166.4" stroke="#8a5cd6" stroke-width="0.99" opacity="0.11"/>
<line x1="437.1" y1="202.4" x2="437.1" y2="206.6" stroke="#8a5cd6" stroke-width="0.87" opacity="0.17"/>
<line x1="491.1" y1="175.7" x2="491.1" y2="179.2" stroke="#8a5cd6" stroke-width="0.97" opacity="0.30"/>
<line x1="491.1" y1="175.5" x2="491.1" y2="177.4" stroke="#8a5cd6" stroke-width="0.76" opacity="0.32"/>
<line x1="532.9" y1="151.9" x2="532.9" y2="156.9" stroke="#8a5cd6" stroke-width="0.86" opacity="0.04"/>
<line x1="422.0" y1="215.1" x2="422.0" y2="218.1" stroke="#8a5cd6" stroke-width="0.84" opacity="0.04"/>
<line x1="517.7" y1="156.9" x2="517.7" y2="161.7" stroke="#8a5cd6" stroke-width="0.58" opacity="0.17"/>
<line x1="467.6" y1="186.7" x2="467.6" y2="189.7" stroke="#8a5cd6" stroke-width="0.82" opacity="0.30"/>
<line x1="443.8" y1="199.9" x2="443.8" y2="203.8" stroke="#8a5cd6" stroke-width="0.58" opacity="0.33"/>
<line x1="493.0" y1="173.0" x2="493.0" y2="177.1" stroke="#8a5cd6" stroke-width="0.64" opacity="0.27"/>
<line x1="463.6" y1="187.6" x2="463.6" y2="189.6" stroke="#8a5cd6" stroke-width="0.62" opacity="0.16"/>
<line x1="452.2" y1="195.6" x2="452.2" y2="197.9" stroke="#8a5cd6" stroke-width="0.88" opacity="0.18"/>
<line x1="505.6" y1="165.0" x2="505.6" y2="167.3" stroke="#8a5cd6" stroke-width="0.57" opacity="0.24"/>
<line x1="452.0" y1="196.7" x2="452.0" y2="198.3" stroke="#8a5cd6" stroke-width="0.68" opacity="0.16"/>
<line x1="482.9" y1="177.7" x2="482.9" y2="181.7" stroke="#8a5cd6" stroke-width="0.88" opacity="0.23"/>
<line x1="532.9" y1="147.7" x2="532.9" y2="150.9" stroke="#8a5cd6" stroke-width="0.53" opacity="0.02"/>
<line x1="487.4" y1="175.4" x2="487.4" y2="179.2" stroke="#8a5cd6" stroke-width="0.52" opacity="0.18"/>
<line x1="500.0" y1="165.0" x2="500.0" y2="166.8" stroke="#8a5cd6" stroke-width="0.59" opacity="0.14"/>
<line x1="467.3" y1="186.3" x2="467.3" y2="190.1" stroke="#8a5cd6" stroke-width="0.82" opacity="0.25"/>
<line x1="470.5" y1="188.1" x2="470.5" y2="191.8" stroke="#8a5cd6" stroke-width="0.77" opacity="0.13"/>
<line x1="459.9" y1="189.5" x2="459.9" y2="192.6" stroke="#8a5cd6" stroke-width="0.90" opacity="0.20"/>
<line x1="440.8" y1="199.8" x2="440.8" y2="201.6" stroke="#8a5cd6" stroke-width="0.80" opacity="0.21"/>
<line x1="448.9" y1="196.2" x2="448.9" y2="198.9" stroke="#8a5cd6" stroke-width="0.63" opacity="0.30"/>
<line x1="481.9" y1="179.8" x2="481.9" y2="182.1" stroke="#8a5cd6" stroke-width="0.73" opacity="0.22"/>
<line x1="445.8" y1="191.7" x2="445.8" y2="194.8" stroke="#8a5cd6" stroke-width="0.53" opacity="0.30"/>
<line x1="426.1" y1="211.2" x2="426.1" y2="214.8" stroke="#8a5cd6" stroke-width="0.83" opacity="0.10"/>
<line x1="453.8" y1="188.8" x2="453.8" y2="191.8" stroke="#8a5cd6" stroke-width="0.61" opacity="0.15"/>
<line x1="441.9" y1="196.6" x2="441.9" y2="198.4" stroke="#8a5cd6" stroke-width="0.54" opacity="0.25"/>
<line x1="425.1" y1="208.7" x2="425.1" y2="212.6" stroke="#8a5cd6" stroke-width="0.64" opacity="0.12"/>
<line x1="529.5" y1="147.8" x2="529.5" y2="150.9" stroke="#8a5cd6" stroke-width="0.85" opacity="0.05"/>
<line x1="525.3" y1="153.2" x2="525.3" y2="155.9" stroke="#8a5cd6" stroke-width="0.63" opacity="0.07"/>
<line x1="527.4" y1="151.0" x2="527.4" y2="153.4" stroke="#8a5cd6" stroke-width="0.93" opacity="0.05"/>
<line x1="496.7" y1="168.9" x2="496.7" y2="172.1" stroke="#8a5cd6" stroke-width="0.86" opacity="0.24"/>
<line x1="502.7" y1="170.0" x2="502.7" y2="173.2" stroke="#8a5cd6" stroke-width="0.92" opacity="0.20"/>
<line x1="462.7" y1="187.7" x2="462.7" y2="191.5" stroke="#8a5cd6" stroke-width="0.51" opacity="0.34"/>
<line x1="518.3" y1="157.5" x2="518.3" y2="161.6" stroke="#8a5cd6" stroke-width="1.00" opacity="0.08"/>
<line x1="505.4" y1="164.4" x2="505.4" y2="169.0" stroke="#8a5cd6" stroke-width="0.84" opacity="0.18"/>
<line x1="453.4" y1="193.0" x2="453.4" y2="195.7" stroke="#8a5cd6" stroke-width="0.91" opacity="0.31"/>
<line x1="457.8" y1="186.2" x2="457.8" y2="188.4" stroke="#8a5cd6" stroke-width="0.50" opacity="0.33"/>
<line x1="430.3" y1="208.9" x2="430.3" y2="210.7" stroke="#8a5cd6" stroke-width="0.52" opacity="0.20"/>
<line x1="504.0" y1="168.2" x2="504.0" y2="170.4" stroke="#8a5cd6" stroke-width="0.63" opacity="0.17"/>
<line x1="472.9" y1="184.9" x2="472.9" y2="188.2" stroke="#8a5cd6" stroke-width="0.85" opacity="0.14"/>
<line x1="463.6" y1="187.0" x2="463.6" y2="190.8" stroke="#8a5cd6" stroke-width="0.94" opacity="0.25"/>
<line x1="523.4" y1="161.7" x2="523.4" y2="164.6" stroke="#8a5cd6" stroke-width="0.60" opacity="0.06"/>
<line x1="484.7" y1="180.4" x2="484.7" y2="184.7" stroke="#8a5cd6" stroke-width="0.64" opacity="0.33"/>
<line x1="474.5" y1="183.3" x2="474.5" y2="186.8" stroke="#8a5cd6" stroke-width="0.69" opacity="0.12"/>
<line x1="490.2" y1="174.5" x2="490.2" y2="177.0" stroke="#8a5cd6" stroke-width="0.53" opacity="0.10"/>
<line x1="491.4" y1="173.1" x2="491.4" y2="174.9" stroke="#8a5cd6" stroke-width="0.75" opacity="0.14"/>
<line x1="494.9" y1="168.3" x2="494.9" y2="172.5" stroke="#8a5cd6" stroke-width="0.52" opacity="0.22"/>
<line x1="510.5" y1="160.6" x2="510.5" y2="163.6" stroke="#8a5cd6" stroke-width="0.53" opacity="0.11"/>
<line x1="492.1" y1="172.1" x2="492.1" y2="174.5" stroke="#8a5cd6" stroke-width="1.00" opacity="0.34"/>
<line x1="418.4" y1="213.6" x2="418.4" y2="218.2" stroke="#8a5cd6" stroke-width="0.65" opacity="0.01"/>
<line x1="511.1" y1="161.9" x2="511.1" y2="164.6" stroke="#8a5cd6" stroke-width="0.62" opacity="0.14"/>
<line x1="530.3" y1="152.6" x2="530.3" y2="155.0" stroke="#8a5cd6" stroke-width="0.51" opacity="0.03"/>
<line x1="529.0" y1="154.9" x2="529.0" y2="158.2" stroke="#8a5cd6" stroke-width="0.68" opacity="0.04"/>
<line x1="509.2" y1="164.0" x2="509.2" y2="168.5" stroke="#8a5cd6" stroke-width="0.78" opacity="0.15"/>
<line x1="460.6" y1="188.7" x2="460.6" y2="192.4" stroke="#8a5cd6" stroke-width="0.78" opacity="0.29"/>
<line x1="527.4" y1="152.6" x2="527.4" y2="155.2" stroke="#8a5cd6" stroke-width="1.00" opacity="0.09"/>
<line x1="466.3" y1="186.7" x2="466.3" y2="189.0" stroke="#8a5cd6" stroke-width="0.53" opacity="0.20"/>
<line x1="532.3" y1="152.0" x2="532.3" y2="154.8" stroke="#8a5cd6" stroke-width="0.84" opacity="0.02"/>
<line x1="484.6" y1="178.6" x2="484.6" y2="181.7" stroke="#8a5cd6" stroke-width="0.88" opacity="0.19"/>
<line x1="426.2" y1="211.9" x2="426.2" y2="215.4" stroke="#8a5cd6" stroke-width="0.75" opacity="0.07"/>
<line x1="522.9" y1="157.9" x2="522.9" y2="159.8" stroke="#8a5cd6" stroke-width="0.54" opacity="0.06"/>
<line x1="515.7" y1="159.7" x2="515.7" y2="161.7" stroke="#8a5cd6" stroke-width="0.50" opacity="0.15"/>
<line x1="486.1" y1="177.2" x2="486.1" y2="179.9" stroke="#8a5cd6" stroke-width="0.58" opacity="0.29"/>
<line x1="458.9" y1="193.0" x2="458.9" y2="196.5" stroke="#8a5cd6" stroke-width="0.90" opacity="0.12"/>
<line x1="497.1" y1="166.8" x2="497.1" y2="169.9" stroke="#8a5cd6" stroke-width="0.97" opacity="0.15"/>
<line x1="491.8" y1="170.8" x2="491.8" y2="172.9" stroke="#8a5cd6" stroke-width="0.88" opacity="0.24"/>
<line x1="433.8" y1="204.2" x2="433.8" y2="209.0" stroke="#8a5cd6" stroke-width="0.94" opacity="0.21"/>
<line x1="477.8" y1="181.3" x2="477.8" y2="185.7" stroke="#8a5cd6" stroke-width="0.77" opacity="0.26"/>
<line x1="509.0" y1="165.1" x2="509.0" y2="168.2" stroke="#8a5cd6" stroke-width="0.66" opacity="0.08"/>
<line x1="525.2" y1="155.7" x2="525.2" y2="158.5" stroke="#8a5cd6" stroke-width="0.89" opacity="0.07"/>
<line x1="492.0" y1="172.8" x2="492.0" y2="176.5" stroke="#8a5cd6" stroke-width="0.69" opacity="0.09"/>
<line x1="521.4" y1="158.5" x2="521.4" y2="160.2" stroke="#8a5cd6" stroke-width="0.87" opacity="0.07"/>
<line x1="497.5" y1="170.1" x2="497.5" y2="171.6" stroke="#8a5cd6" stroke-width="0.97" opacity="0.14"/>
<line x1="526.6" y1="152.9" x2="526.6" y2="156.5" stroke="#8a5cd6" stroke-width="0.60" opacity="0.08"/>
<line x1="507.6" y1="169.1" x2="507.6" y2="173.9" stroke="#8a5cd6" stroke-width="0.65" opacity="0.09"/>
<line x1="446.9" y1="195.9" x2="446.9" y2="200.8" stroke="#8a5cd6" stroke-width="0.51" opacity="0.24"/>
<line x1="434.6" y1="203.8" x2="434.6" y2="206.9" stroke="#8a5cd6" stroke-width="0.88" opacity="0.20"/>
<line x1="488.8" y1="174.3" x2="488.8" y2="178.5" stroke="#8a5cd6" stroke-width="0.98" opacity="0.26"/>
<line x1="534.9" y1="152.3" x2="534.9" y2="155.6" stroke="#8a5cd6" stroke-width="0.80" opacity="0.02"/>
<line x1="528.0" y1="153.0" x2="528.0" y2="155.4" stroke="#8a5cd6" stroke-width="0.88" opacity="0.08"/>
<line x1="483.4" y1="180.9" x2="483.4" y2="185.4" stroke="#8a5cd6" stroke-width="0.59" opacity="0.31"/>
<line x1="525.1" y1="155.7" x2="525.1" y2="159.8" stroke="#8a5cd6" stroke-width="0.87" opacity="0.05"/>
<line x1="440.3" y1="200.6" x2="440.3" y2="205.2" stroke="#8a5cd6" stroke-width="0.87" opacity="0.30"/>
<line x1="473.4" y1="182.2" x2="473.4" y2="185.3" stroke="#8a5cd6" stroke-width="0.56" opacity="0.19"/>
<line x1="517.0" y1="159.7" x2="517.0" y2="163.5" stroke="#8a5cd6" stroke-width="0.70" opacity="0.12"/>
<line x1="498.8" y1="168.4" x2="498.8" y2="170.4" stroke="#8a5cd6" stroke-width="0.98" opacity="0.21"/>
<line x1="421.8" y1="211.7" x2="421.8" y2="214.9" stroke="#8a5cd6" stroke-width="0.79" opacity="0.02"/>
<line x1="491.2" y1="172.3" x2="491.2" y2="175.3" stroke="#8a5cd6" stroke-width="0.87" opacity="0.27"/>
<line x1="482.8" y1="178.5" x2="482.8" y2="181.4" stroke="#8a5cd6" stroke-width="0.70" opacity="0.24"/>
<line x1="478.8" y1="181.2" x2="478.8" y2="184.3" stroke="#8a5cd6" stroke-width="0.56" opacity="0.31"/>
<line x1="533.1" y1="148.7" x2="533.1" y2="153.4" stroke="#8a5cd6" stroke-width="0.59" opacity="0.02"/>
<line x1="473.7" y1="183.3" x2="473.7" y2="186.0" stroke="#8a5cd6" stroke-width="0.95" opacity="0.34"/>
<line x1="487.6" y1="173.9" x2="487.6" y2="177.8" stroke="#8a5cd6" stroke-width="0.62" opacity="0.18"/>
<line x1="534.8" y1="152.5" x2="534.8" y2="154.1" stroke="#8a5cd6" stroke-width="0.95" opacity="0.02"/>
<line x1="508.5" y1="163.3" x2="508.5" y2="166.6" stroke="#8a5cd6" stroke-width="0.78" opacity="0.24"/>
<line x1="512.7" y1="161.1" x2="512.7" y2="163.1" stroke="#8a5cd6" stroke-width="0.82" opacity="0.11"/>
<line x1="459.0" y1="188.4" x2="459.0" y2="191.2" stroke="#8a5cd6" stroke-width="0.67" opacity="0.10"/>
<line x1="504.3" y1="166.5" x2="504.3" y2="168.5" stroke="#8a5cd6" stroke-width="0.88" opacity="0.13"/>
<line x1="529.5" y1="151.3" x2="529.5" y2="153.8" stroke="#8a5cd6" stroke-width="0.67" opacity="0.04"/>
<line x1="436.7" y1="204.8" x2="436.7" y2="206.5" stroke="#8a5cd6" stroke-width="0.91" opacity="0.25"/>
<line x1="480.7" y1="179.0" x2="480.7" y2="183.3" stroke="#8a5cd6" stroke-width="0.89" opacity="0.29"/>
<line x1="429.3" y1="210.9" x2="429.3" y2="213.9" stroke="#8a5cd6" stroke-width="0.62" opacity="0.05"/>
<line x1="482.8" y1="177.3" x2="482.8" y2="180.2" stroke="#8a5cd6" stroke-width="0.78" opacity="0.16"/>
<line x1="480.6" y1="178.8" x2="480.6" y2="182.6" stroke="#8a5cd6" stroke-width="0.96" opacity="0.29"/>
<line x1="512.3" y1="166.3" x2="512.3" y2="170.0" stroke="#8a5cd6" stroke-width="0.98" opacity="0.08"/>
<line x1="452.3" y1="191.1" x2="452.3" y2="194.9" stroke="#8a5cd6" stroke-width="0.79" opacity="0.33"/>
<line x1="444.3" y1="197.6" x2="444.3" y2="199.6" stroke="#8a5cd6" stroke-width="0.57" opacity="0.14"/>
<line x1="421.9" y1="212.8" x2="421.9" y2="216.8" stroke="#8a5cd6" stroke-width="0.93" opacity="0.06"/>
<line x1="508.8" y1="168.2" x2="508.8" y2="171.6" stroke="#8a5cd6" stroke-width="0.89" opacity="0.22"/>
<line x1="459.3" y1="187.1" x2="459.3" y2="191.6" stroke="#8a5cd6" stroke-width="0.70" opacity="0.19"/>
<line x1="445.8" y1="200.6" x2="445.8" y2="204.9" stroke="#8a5cd6" stroke-width="0.98" opacity="0.26"/>
<line x1="432.9" y1="198.7" x2="432.9" y2="203.3" stroke="#8a5cd6" stroke-width="0.88" opacity="0.14"/>
<line x1="439.0" y1="199.7" x2="439.0" y2="202.4" stroke="#8a5cd6" stroke-width="0.81" opacity="0.17"/>
<line x1="478.6" y1="180.0" x2="478.6" y2="182.0" stroke="#8a5cd6" stroke-width="0.69" opacity="0.18"/>
<line x1="446.5" y1="195.2" x2="446.5" y2="197.5" stroke="#8a5cd6" stroke-width="0.89" opacity="0.14"/>
<line x1="505.2" y1="168.6" x2="505.2" y2="171.2" stroke="#8a5cd6" stroke-width="0.61" opacity="0.26"/>
<line x1="432.0" y1="205.3" x2="432.0" y2="210.1" stroke="#8a5cd6" stroke-width="0.57" opacity="0.17"/>
<line x1="426.0" y1="210.1" x2="426.0" y2="213.1" stroke="#8a5cd6" stroke-width="0.58" opacity="0.08"/>
<line x1="480.1" y1="180.1" x2="480.1" y2="184.5" stroke="#8a5cd6" stroke-width="0.89" opacity="0.23"/>
<line x1="419.2" y1="211.7" x2="419.2" y2="216.5" stroke="#8a5cd6" stroke-width="0.64" opacity="0.02"/>
<line x1="456.4" y1="192.2" x2="456.4" y2="194.9" stroke="#8a5cd6" stroke-width="0.78" opacity="0.21"/>
<line x1="467.9" y1="185.0" x2="467.9" y2="188.9" stroke="#8a5cd6" stroke-width="0.81" opacity="0.29"/>
<line x1="485.5" y1="173.6" x2="485.5" y2="175.2" stroke="#8a5cd6" stroke-width="0.50" opacity="0.27"/>
<line x1="512.0" y1="162.1" x2="512.0" y2="166.5" stroke="#8a5cd6" stroke-width="0.60" opacity="0.11"/>
<line x1="432.2" y1="204.0" x2="432.2" y2="208.9" stroke="#8a5cd6" stroke-width="0.74" opacity="0.16"/>
<line x1="479.2" y1="180.9" x2="479.2" y2="183.0" stroke="#8a5cd6" stroke-width="0.89" opacity="0.29"/>
<line x1="448.3" y1="194.9" x2="448.3" y2="196.6" stroke="#8a5cd6" stroke-width="0.84" opacity="0.21"/>
<line x1="419.5" y1="211.4" x2="419.5" y2="213.0" stroke="#8a5cd6" stroke-width="0.77" opacity="0.01"/>
<line x1="525.0" y1="154.8" x2="525.0" y2="158.5" stroke="#8a5cd6" stroke-width="0.86" opacity="0.10"/>
<line x1="506.2" y1="163.1" x2="506.2" y2="165.3" stroke="#8a5cd6" stroke-width="0.97" opacity="0.08"/>
<line x1="491.5" y1="169.9" x2="491.5" y2="172.0" stroke="#8a5cd6" stroke-width="0.63" opacity="0.17"/>
<line x1="435.1" y1="198.6" x2="435.1" y2="201.2" stroke="#8a5cd6" stroke-width="0.66" opacity="0.15"/>
<line x1="493.5" y1="175.3" x2="493.5" y2="178.8" stroke="#8a5cd6" stroke-width="0.92" opacity="0.26"/>
<line x1="527.7" y1="156.7" x2="527.7" y2="158.3" stroke="#8a5cd6" stroke-width="0.99" opacity="0.07"/>
<line x1="498.9" y1="169.1" x2="498.9" y2="171.8" stroke="#8a5cd6" stroke-width="0.68" opacity="0.20"/>
<line x1="422.1" y1="211.6" x2="422.1" y2="215.6" stroke="#8a5cd6" stroke-width="0.56" opacity="0.06"/>
<line x1="496.1" y1="168.3" x2="496.1" y2="172.8" stroke="#8a5cd6" stroke-width="0.56" opacity="0.24"/>
<line x1="499.3" y1="169.0" x2="499.3" y2="172.4" stroke="#8a5cd6" stroke-width="0.54" opacity="0.15"/>
<line x1="483.5" y1="173.6" x2="483.5" y2="178.4" stroke="#8a5cd6" stroke-width="0.56" opacity="0.23"/>
<line x1="435.1" y1="204.0" x2="435.1" y2="209.0" stroke="#8a5cd6" stroke-width="0.78" opacity="0.25"/>
<line x1="495.3" y1="168.1" x2="495.3" y2="172.4" stroke="#8a5cd6" stroke-width="0.81" opacity="0.13"/>
<line x1="439.9" y1="196.7" x2="439.9" y2="200.4" stroke="#8a5cd6" stroke-width="0.79" opacity="0.29"/>
<line x1="532.5" y1="150.4" x2="532.5" y2="154.3" stroke="#8a5cd6" stroke-width="0.83" opacity="0.03"/>
<line x1="490.8" y1="171.5" x2="490.8" y2="175.4" stroke="#8a5cd6" stroke-width="0.90" opacity="0.17"/>
<line x1="478.1" y1="180.4" x2="478.1" y2="184.9" stroke="#8a5cd6" stroke-width="0.62" opacity="0.17"/>
<line x1="461.8" y1="187.6" x2="461.8" y2="190.2" stroke="#8a5cd6" stroke-width="0.66" opacity="0.31"/>
<line x1="511.4" y1="163.7" x2="511.4" y2="168.2" stroke="#8a5cd6" stroke-width="0.81" opacity="0.11"/>
<line x1="448.7" y1="196.9" x2="448.7" y2="199.2" stroke="#8a5cd6" stroke-width="0.69" opacity="0.35"/>
<line x1="430.3" y1="207.2" x2="430.3" y2="209.4" stroke="#8a5cd6" stroke-width="1.00" opacity="0.20"/>
<line x1="436.5" y1="203.8" x2="436.5" y2="208.7" stroke="#8a5cd6" stroke-width="0.51" opacity="0.19"/>
<line x1="444.3" y1="198.4" x2="444.3" y2="200.9" stroke="#8a5cd6" stroke-width="0.93" opacity="0.30"/>
<line x1="508.1" y1="161.0" x2="508.1" y2="165.4" stroke="#8a5cd6" stroke-width="1.00" opacity="0.22"/>
<line x1="465.3" y1="186.4" x2="465.3" y2="191.2" stroke="#8a5cd6" stroke-width="0.96" opacity="0.29"/>
<line x1="441.3" y1="194.0" x2="441.3" y2="197.0" stroke="#8a5cd6" stroke-width="0.88" opacity="0.13"/>
<line x1="445.6" y1="196.9" x2="445.6" y2="199.7" stroke="#8a5cd6" stroke-width="0.58" opacity="0.11"/>
<line x1="449.5" y1="196.5" x2="449.5" y2="198.7" stroke="#8a5cd6" stroke-width="0.80" opacity="0.24"/>
<line x1="428.5" y1="209.3" x2="428.5" y2="213.3" stroke="#8a5cd6" stroke-width="0.52" opacity="0.16"/>
<line x1="526.4" y1="156.0" x2="526.4" y2="158.0" stroke="#8a5cd6" stroke-width="0.71" opacity="0.06"/>
<line x1="480.2" y1="178.4" x2="480.2" y2="182.3" stroke="#8a5cd6" stroke-width="0.88" opacity="0.21"/>
<line x1="420.3" y1="210.7" x2="420.3" y2="215.1" stroke="#8a5cd6" stroke-width="0.58" opacity="0.05"/>
<line x1="498.4" y1="167.9" x2="498.4" y2="171.6" stroke="#8a5cd6" stroke-width="0.94" opacity="0.22"/>
<line x1="481.3" y1="172.2" x2="481.3" y2="175.7" stroke="#8a5cd6" stroke-width="0.80" opacity="0.18"/>
<line x1="477.7" y1="177.4" x2="477.7" y2="181.1" stroke="#8a5cd6" stroke-width="0.75" opacity="0.26"/>
<line x1="482.9" y1="180.7" x2="482.9" y2="183.2" stroke="#8a5cd6" stroke-width="0.65" opacity="0.23"/>
<line x1="446.1" y1="196.6" x2="446.1" y2="201.1" stroke="#8a5cd6" stroke-width="0.88" opacity="0.21"/>
<line x1="447.2" y1="198.1" x2="447.2" y2="202.8" stroke="#8a5cd6" stroke-width="0.76" opacity="0.10"/>
<line x1="447.0" y1="196.5" x2="447.0" y2="198.9" stroke="#8a5cd6" stroke-width="0.95" opacity="0.19"/>
<line x1="456.3" y1="188.5" x2="456.3" y2="193.4" stroke="#8a5cd6" stroke-width="0.65" opacity="0.20"/>
<line x1="494.8" y1="171.3" x2="494.8" y2="173.6" stroke="#8a5cd6" stroke-width="0.81" opacity="0.32"/>
<line x1="530.2" y1="154.0" x2="530.2" y2="158.0" stroke="#8a5cd6" stroke-width="0.83" opacity="0.02"/>
<line x1="488.5" y1="175.9" x2="488.5" y2="177.6" stroke="#8a5cd6" stroke-width="0.80" opacity="0.16"/>
<line x1="525.6" y1="151.4" x2="525.6" y2="155.4" stroke="#8a5cd6" stroke-width="0.78" opacity="0.11"/>
<line x1="495.1" y1="171.2" x2="495.1" y2="174.2" stroke="#8a5cd6" stroke-width="0.95" opacity="0.34"/>
<line x1="520.5" y1="160.8" x2="520.5" y2="163.0" stroke="#8a5cd6" stroke-width="0.66" opacity="0.13"/>
<line x1="421.3" y1="210.2" x2="421.3" y2="212.9" stroke="#8a5cd6" stroke-width="0.86" opacity="0.04"/>
<line x1="426.5" y1="210.1" x2="426.5" y2="212.6" stroke="#8a5cd6" stroke-width="0.72" opacity="0.10"/>
<line x1="473.1" y1="184.8" x2="473.1" y2="186.5" stroke="#8a5cd6" stroke-width="0.97" opacity="0.30"/>
<line x1="464.0" y1="187.5" x2="464.0" y2="190.6" stroke="#8a5cd6" stroke-width="0.97" opacity="0.14"/>
<line x1="529.4" y1="154.9" x2="529.4" y2="156.4" stroke="#8a5cd6" stroke-width="0.69" opacity="0.03"/>
<line x1="468.4" y1="187.7" x2="468.4" y2="190.9" stroke="#8a5cd6" stroke-width="0.60" opacity="0.23"/>
<line x1="427.4" y1="210.6" x2="427.4" y2="212.3" stroke="#8a5cd6" stroke-width="0.58" opacity="0.12"/>
<line x1="427.5" y1="208.9" x2="427.5" y2="213.0" stroke="#8a5cd6" stroke-width="0.75" opacity="0.13"/>
<line x1="509.6" y1="162.9" x2="509.6" y2="165.3" stroke="#8a5cd6" stroke-width="0.92" opacity="0.07"/>
<line x1="533.6" y1="154.8" x2="533.6" y2="159.1" stroke="#8a5cd6" stroke-width="0.96" opacity="0.02"/>
<line x1="534.5" y1="150.1" x2="534.5" y2="152.7" stroke="#8a5cd6" stroke-width="0.89" opacity="0.03"/>
<line x1="514.9" y1="159.8" x2="514.9" y2="164.1" stroke="#8a5cd6" stroke-width="0.67" opacity="0.19"/>
<line x1="442.5" y1="201.3" x2="442.5" y2="203.3" stroke="#8a5cd6" stroke-width="0.78" opacity="0.18"/>
<line x1="481.3" y1="180.3" x2="481.3" y2="182.3" stroke="#8a5cd6" stroke-width="0.84" opacity="0.20"/>
<line x1="526.8" y1="152.6" x2="526.8" y2="156.7" stroke="#8a5cd6" stroke-width="0.84" opacity="0.04"/>
<line x1="519.6" y1="157.7" x2="519.6" y2="161.0" stroke="#8a5cd6" stroke-width="0.88" opacity="0.13"/>
<line x1="453.9" y1="195.6" x2="453.9" y2="197.3" stroke="#8a5cd6" stroke-width="0.73" opacity="0.10"/>
<line x1="418.8" y1="211.1" x2="418.8" y2="214.4" stroke="#8a5cd6" stroke-width="0.62" opacity="0.02"/>
<line x1="526.0" y1="155.3" x2="526.0" y2="159.9" stroke="#8a5cd6" stroke-width="0.72" opacity="0.09"/>
<line x1="534.5" y1="150.2" x2="534.5" y2="153.2" stroke="#8a5cd6" stroke-width="0.96" opacity="0.01"/>
<line x1="468.4" y1="180.7" x2="468.4" y2="182.7" stroke="#8a5cd6" stroke-width="0.94" opacity="0.21"/>
<line x1="431.7" y1="207.2" x2="431.7" y2="208.9" stroke="#8a5cd6" stroke-width="0.91" opacity="0.21"/>
<line x1="467.6" y1="188.0" x2="467.6" y2="190.2" stroke="#8a5cd6" stroke-width="0.57" opacity="0.11"/>
<line x1="497.7" y1="166.9" x2="497.7" y2="170.3" stroke="#8a5cd6" stroke-width="0.67" opacity="0.18"/>
<line x1="523.5" y1="153.4" x2="523.5" y2="157.8" stroke="#8a5cd6" stroke-width="0.87" opacity="0.04"/>
<line x1="514.0" y1="165.2" x2="514.0" y2="170.0" stroke="#8a5cd6" stroke-width="0.88" opacity="0.19"/>
<line x1="450.2" y1="195.5" x2="450.2" y2="198.1" stroke="#8a5cd6" stroke-width="0.50" opacity="0.19"/>
<line x1="481.6" y1="183.8" x2="481.6" y2="186.1" stroke="#8a5cd6" stroke-width="0.77" opacity="0.19"/>
<line x1="430.6" y1="211.6" x2="430.6" y2="214.8" stroke="#8a5cd6" stroke-width="0.91" opacity="0.13"/>
<line x1="483.2" y1="180.8" x2="483.2" y2="182.6" stroke="#8a5cd6" stroke-width="0.55" opacity="0.31"/>
<line x1="475.0" y1="183.5" x2="475.0" y2="187.0" stroke="#8a5cd6" stroke-width="0.61" opacity="0.34"/>
<line x1="516.5" y1="158.1" x2="516.5" y2="163.0" stroke="#8a5cd6" stroke-width="0.97" opacity="0.09"/>
<line x1="466.6" y1="184.8" x2="466.6" y2="189.7" stroke="#8a5cd6" stroke-width="0.63" opacity="0.28"/>
<line x1="487.1" y1="178.7" x2="487.1" y2="182.8" stroke="#8a5cd6" stroke-width="0.68" opacity="0.33"/>
<line x1="435.4" y1="205.5" x2="435.4" y2="209.3" stroke="#8a5cd6" stroke-width="0.74" opacity="0.12"/>
<line x1="493.9" y1="169.0" x2="493.9" y2="173.8" stroke="#8a5cd6" stroke-width="0.69" opacity="0.15"/>
<line x1="496.8" y1="168.4" x2="496.8" y2="171.0" stroke="#8a5cd6" stroke-width="0.59" opacity="0.29"/>
<line x1="436.3" y1="197.9" x2="436.3" y2="201.2" stroke="#8a5cd6" stroke-width="0.67" opacity="0.25"/>
<line x1="423.6" y1="208.4" x2="423.6" y2="211.4" stroke="#8a5cd6" stroke-width="0.75" opacity="0.04"/>
<line x1="498.4" y1="171.4" x2="498.4" y2="173.6" stroke="#8a5cd6" stroke-width="0.79" opacity="0.21"/>
<line x1="458.8" y1="190.8" x2="458.8" y2="193.0" stroke="#8a5cd6" stroke-width="0.78" opacity="0.34"/>
<line x1="521.9" y1="157.2" x2="521.9" y2="161.6" stroke="#8a5cd6" stroke-width="0.66" opacity="0.14"/>
<line x1="483.0" y1="178.8" x2="483.0" y2="181.1" stroke="#8a5cd6" stroke-width="0.50" opacity="0.20"/>
<line x1="465.2" y1="185.0" x2="465.2" y2="189.8" stroke="#8a5cd6" stroke-width="1.00" opacity="0.14"/>
<line x1="461.1" y1="190.0" x2="461.1" y2="194.0" stroke="#8a5cd6" stroke-width="0.90" opacity="0.19"/>
<line x1="514.1" y1="159.1" x2="514.1" y2="163.3" stroke="#8a5cd6" stroke-width="0.51" opacity="0.18"/>
<line x1="456.0" y1="193.9" x2="456.0" y2="196.4" stroke="#8a5cd6" stroke-width="0.51" opacity="0.11"/>
<line x1="439.7" y1="201.0" x2="439.7" y2="203.6" stroke="#8a5cd6" stroke-width="0.89" opacity="0.24"/>
<line x1="508.4" y1="164.5" x2="508.4" y2="166.7" stroke="#8a5cd6" stroke-width="0.77" opacity="0.14"/>
<line x1="431.1" y1="206.9" x2="431.1" y2="208.4" stroke="#8a5cd6" stroke-width="0.79" opacity="0.15"/>
<line x1="463.8" y1="188.9" x2="463.8" y2="193.2" stroke="#8a5cd6" stroke-width="0.94" opacity="0.32"/>
<line x1="466.0" y1="187.3" x2="466.0" y2="191.2" stroke="#8a5cd6" stroke-width="0.60" opacity="0.12"/>
<line x1="530.5" y1="152.7" x2="530.5" y2="154.4" stroke="#8a5cd6" stroke-width="0.87" opacity="0.06"/>
<line x1="533.6" y1="145.7" x2="533.6" y2="149.6" stroke="#8a5cd6" stroke-width="0.88" opacity="0.02"/>
<line x1="513.2" y1="162.5" x2="513.2" y2="166.2" stroke="#8a5cd6" stroke-width="0.65" opacity="0.08"/>
<line x1="463.8" y1="183.4" x2="463.8" y2="188.0" stroke="#8a5cd6" stroke-width="0.80" opacity="0.35"/>
<line x1="535.1" y1="150.7" x2="535.1" y2="154.5" stroke="#8a5cd6" stroke-width="0.70" opacity="0.02"/>
<line x1="448.1" y1="196.4" x2="448.1" y2="198.5" stroke="#8a5cd6" stroke-width="0.76" opacity="0.26"/>
<line x1="419.3" y1="214.2" x2="419.3" y2="218.8" stroke="#8a5cd6" stroke-width="0.81" opacity="0.01"/>
<line x1="499.3" y1="171.2" x2="499.3" y2="176.1" stroke="#8a5cd6" stroke-width="0.73" opacity="0.23"/>
<line x1="496.6" y1="172.1" x2="496.6" y2="175.7" stroke="#8a5cd6" stroke-width="0.73" opacity="0.16"/>
<line x1="450.9" y1="193.9" x2="450.9" y2="197.9" stroke="#8a5cd6" stroke-width="0.79" opacity="0.10"/>
<line x1="438.5" y1="199.6" x2="438.5" y2="204.0" stroke="#8a5cd6" stroke-width="0.76" opacity="0.11"/>
<line x1="500.3" y1="167.7" x2="500.3" y2="170.1" stroke="#8a5cd6" stroke-width="0.60" opacity="0.22"/>
<line x1="534.0" y1="154.8" x2="534.0" y2="158.7" stroke="#8a5cd6" stroke-width="0.77" opacity="0.02"/>
<line x1="436.3" y1="204.7" x2="436.3" y2="208.2" stroke="#8a5cd6" stroke-width="0.52" opacity="0.24"/>
<line x1="444.7" y1="196.4" x2="444.7" y2="200.8" stroke="#8a5cd6" stroke-width="0.56" opacity="0.29"/>
<line x1="527.7" y1="156.5" x2="527.7" y2="159.5" stroke="#8a5cd6" stroke-width="0.96" opacity="0.08"/>
<line x1="500.6" y1="168.1" x2="500.6" y2="172.4" stroke="#8a5cd6" stroke-width="0.51" opacity="0.21"/>
<line x1="495.4" y1="170.4" x2="495.4" y2="174.4" stroke="#8a5cd6" stroke-width="0.69" opacity="0.26"/>
<line x1="466.2" y1="187.1" x2="466.2" y2="190.9" stroke="#8a5cd6" stroke-width="0.80" opacity="0.15"/>
<line x1="526.8" y1="152.8" x2="526.8" y2="155.6" stroke="#8a5cd6" stroke-width="0.80" opacity="0.09"/>
<line x1="466.1" y1="182.8" x2="466.1" y2="186.8" stroke="#8a5cd6" stroke-width="0.79" opacity="0.19"/>
<line x1="496.2" y1="169.3" x2="496.2" y2="172.0" stroke="#8a5cd6" stroke-width="0.67" opacity="0.24"/>
<line x1="454.1" y1="192.5" x2="454.1" y2="196.0" stroke="#8a5cd6" stroke-width="0.99" opacity="0.11"/>
<line x1="530.1" y1="149.6" x2="530.1" y2="152.6" stroke="#8a5cd6" stroke-width="0.99" opacity="0.03"/>
<line x1="518.0" y1="160.0" x2="518.0" y2="162.6" stroke="#8a5cd6" stroke-width="0.85" opacity="0.14"/>
<line x1="495.1" y1="169.2" x2="495.1" y2="172.7" stroke="#8a5cd6" stroke-width="0.82" opacity="0.16"/>
<line x1="424.0" y1="208.7" x2="424.0" y2="212.9" stroke="#8a5cd6" stroke-width="0.96" opacity="0.05"/>
<line x1="531.7" y1="153.3" x2="531.7" y2="155.4" stroke="#8a5cd6" stroke-width="0.70" opacity="0.04"/>
<line x1="503.8" y1="166.8" x2="503.8" y2="168.9" stroke="#8a5cd6" stroke-width="0.80" opacity="0.17"/>
<line x1="435.7" y1="204.8" x2="435.7" y2="208.6" stroke="#8a5cd6" stroke-width="0.81" opacity="0.15"/>
<line x1="495.4" y1="168.6" x2="495.4" y2="173.6" stroke="#8a5cd6" stroke-width="0.61" opacity="0.24"/>
<line x1="469.3" y1="181.8" x2="469.3" y2="186.0" stroke="#8a5cd6" stroke-width="0.69" opacity="0.35"/>
<rect x="430.00" y="208.79" width="3.96" height="28.37" fill="none" stroke="#1a1a1a" stroke-width="0.8"/>
<rect x="433.96" y="207.39" width="3.96" height="28.36" fill="none" stroke="#1a1a1a" stroke-width="0.8"/>
<rect x="437.91" y="205.99" width="3.96" height="28.37" fill="none" stroke="#1a1a1a" stroke-width="0.8"/>
<rect x="441.87" y="204.59" width="3.96" height="28.36" fill="none" stroke="#1a1a1a" stroke-width="0.8"/>
<rect x="445.82" y="203.19" width="3.96" height="28.36" fill="none" stroke="#1a1a1a" stroke-width="0.8"/>
<rect x="449.78" y="201.79" width="3.96" height="28.37" fill="none" stroke="#1a1a1a" stroke-width="0.8"/>
<rect x="453.74" y="200.39" width="3.96" height="28.37" fill="none" stroke="#1a1a1a" stroke-width="0.8"/>
<rect x="457.69" y="198.99" width="3.96" height="28.37" fill="none" stroke="#1a1a1a" stroke-width="0.8"/>
<rect x="461.65" y="197.59" width="3.96" height="28.37" fill="none" stroke="#1a1a1a" stroke-width="0.8"/>
<rect x="465.61" y="196.19" width="3.96" height="28.37" fill="none" stroke="#1a1a1a" stroke-width="0.8"/>
<rect x="469.56" y="194.79" width="3.96" height="28.37" fill="none" stroke="#1a1a1a" stroke-width="0.8"/>
<rect x="473.52" y="193.39" width="3.96" height="28.37" fill="none" stroke="#1a1a1a" stroke-width="0.8"/>
<rect x="477.48" y="191.99" width="3.96" height="28.37" fill="none" stroke="#1a1a1a" stroke-width="0.8"/>
<rect x="481.43" y="190.59" width="3.96" height="28.37" fill="none" stroke="#1a1a1a" stroke-width="0.8"/>
<rect x="485.39" y="189.19" width="3.96" height="28.37" fill="none" stroke="#1a1a1a" stroke-width="0.8"/>
<rect x="489.34" y="187.79" width="3.96" height="28.37" fill="none" stroke="#1a1a1a" stroke-width="0.8"/>
<rect x="493.30" y="181.89" width="3.96" height="27.45" fill="none" stroke="#1a1a1a" stroke-width="0.8"/>
<rect x="497.26" y="180.49" width="3.96" height="27.45" fill="none" stroke="#1a1a1a" stroke-width="0.8"/>
<rect x="501.21" y="179.09" width="3.96" height="27.45" fill="none" stroke="#1a1a1a" stroke-width="0.8"/>
<rect x="505.17" y="177.69" width="3.96" height="27.45" fill="none" stroke="#1a1a1a" stroke-width="0.8"/>
<rect x="509.12" y="176.29" width="3.96" height="27.45" fill="none" stroke="#1a1a1a" stroke-width="0.8"/>
<rect x="513.08" y="174.89" width="3.96" height="27.45" fill="none" stroke="#1a1a1a" stroke-width="0.8"/>
<rect x="517.04" y="173.49" width="3.96" height="27.45" fill="none" stroke="#1a1a1a" stroke-width="0.8"/>
<rect x="520.99" y="172.09" width="3.96" height="27.45" fill="none" stroke="#1a1a1a" stroke-width="0.8"/>
<rect x="524.95" y="170.69" width="3.96" height="27.45" fill="none" stroke="#1a1a1a" stroke-width="0.8"/>
<rect x="528.91" y="169.29" width="3.96" height="27.45" fill="none" stroke="#1a1a1a" stroke-width="0.8"/>
<rect x="532.86" y="167.89" width="3.96" height="27.45" fill="none" stroke="#1a1a1a" stroke-width="0.8"/>
<rect x="536.82" y="166.49" width="3.96" height="27.45" fill="none" stroke="#1a1a1a" stroke-width="0.8"/>
<rect x="540.77" y="165.09" width="3.96" height="27.45" fill="none" stroke="#1a1a1a" stroke-width="0.8"/>
<rect x="544.73" y="163.69" width="3.96" height="27.45" fill="none" stroke="#1a1a1a" stroke-width="0.8"/>
<rect x="548.69" y="162.29" width="3.96" height="27.45" fill="none" stroke="#1a1a1a" stroke-width="0.8"/>
<rect x="552.64" y="160.89" width="3.96" height="27.45" fill="none" stroke="#1a1a1a" stroke-width="0.8"/>
</g>
<line x1="382.8" y1="53.6" x2="382.8" y2="143.3" stroke="#4d4d4d" stroke-width="0.6"/>
<line x1="382.8" y1="147" x2="382.8" y2="237.2" stroke="#4d4d4d" stroke-width="0.6"/>
<line x1="382.8" y1="237.2" x2="635.3" y2="237.2" stroke="#4d4d4d" stroke-width="0.6"/>
<line x1="381.0" y1="142.6" x2="382.8" y2="142.6" stroke="#4d4d4d" stroke-width="0.6"/>
<text x="379.8" y="144.9" font-size="6.5" text-anchor="end" fill="#333" stroke="#333" stroke-width="0.18">0.6</text>
<line x1="381.0" y1="236.7" x2="382.8" y2="236.7" stroke="#4d4d4d" stroke-width="0.6"/>
<text x="379.8" y="239.0" font-size="6.5" text-anchor="end" fill="#333" stroke="#333" stroke-width="0.18">0.6</text>
<line x1="381.0" y1="124.5" x2="382.8" y2="124.5" stroke="#4d4d4d" stroke-width="0.6"/>
<text x="379.8" y="126.8" font-size="6.5" text-anchor="end" fill="#333" stroke="#333" stroke-width="0.18">0.8</text>
<line x1="381.0" y1="218.4" x2="382.8" y2="218.4" stroke="#4d4d4d" stroke-width="0.6"/>
<text x="379.8" y="220.7" font-size="6.5" text-anchor="end" fill="#333" stroke="#333" stroke-width="0.18">0.8</text>
<line x1="381.0" y1="106.4" x2="382.8" y2="106.4" stroke="#4d4d4d" stroke-width="0.6"/>
<text x="379.8" y="108.7" font-size="6.5" text-anchor="end" fill="#333" stroke="#333" stroke-width="0.18">1.0</text>
<line x1="381.0" y1="200.1" x2="382.8" y2="200.1" stroke="#4d4d4d" stroke-width="0.6"/>
<text x="379.8" y="202.4" font-size="6.5" text-anchor="end" fill="#333" stroke="#333" stroke-width="0.18">1.0</text>
<line x1="381.0" y1="88.3" x2="382.8" y2="88.3" stroke="#4d4d4d" stroke-width="0.6"/>
<text x="379.8" y="90.6" font-size="6.5" text-anchor="end" fill="#333" stroke="#333" stroke-width="0.18">1.2</text>
<line x1="381.0" y1="181.8" x2="382.8" y2="181.8" stroke="#4d4d4d" stroke-width="0.6"/>
<text x="379.8" y="184.1" font-size="6.5" text-anchor="end" fill="#333" stroke="#333" stroke-width="0.18">1.2</text>
<line x1="381.0" y1="70.2" x2="382.8" y2="70.2" stroke="#4d4d4d" stroke-width="0.6"/>
<text x="379.8" y="72.5" font-size="6.5" text-anchor="end" fill="#333" stroke="#333" stroke-width="0.18">1.4</text>
<line x1="381.0" y1="163.5" x2="382.8" y2="163.5" stroke="#4d4d4d" stroke-width="0.6"/>
<text x="379.8" y="165.8" font-size="6.5" text-anchor="end" fill="#333" stroke="#333" stroke-width="0.18">1.4</text>
<line x1="430.0" y1="237.2" x2="430.0" y2="239" stroke="#4d4d4d" stroke-width="0.6"/>
<text x="430.0" y="244.6" font-size="6.5" text-anchor="middle" fill="#333" stroke="#333" stroke-width="0.18">400</text>
<line x1="493.3" y1="237.2" x2="493.3" y2="239" stroke="#4d4d4d" stroke-width="0.6"/>
<text x="493.3" y="244.6" font-size="6.5" text-anchor="middle" fill="#333" stroke="#333" stroke-width="0.18">800</text>
<line x1="556.6" y1="237.2" x2="556.6" y2="239" stroke="#4d4d4d" stroke-width="0.6"/>
<text x="556.6" y="244.6" font-size="6.5" text-anchor="middle" fill="#333" stroke="#333" stroke-width="0.18">1200</text>
<line x1="619.9" y1="237.2" x2="619.9" y2="239" stroke="#4d4d4d" stroke-width="0.6"/>
<text x="619.9" y="244.6" font-size="6.5" text-anchor="middle" fill="#333" stroke="#333" stroke-width="0.18">1600</text>
<text x="509" y="253" font-size="6.8" text-anchor="middle" fill="#1a1a1a" stroke="#1a1a1a" stroke-width="0.18">m/z</text>
<text x="366.8" y="145.3" font-size="7" text-anchor="middle" fill="#1a1a1a" stroke="#1a1a1a" stroke-width="0.18" transform="rotate(-90 366.8 145.3)">Mobility [1/K0]</text>
<rect x="635.3" y="53.4" width="10.400000000000091" height="89.69999999999999" fill="#efefef" stroke="#2a2a2a" stroke-width="0.85"/>
<text x="640.5" y="98.25" font-size="5.9" text-anchor="middle" dominant-baseline="central" fill="#1a1a1a" transform="rotate(90 640.5 98.25)">101min</text>
<rect x="635.3" y="147.1" width="10.400000000000091" height="89.5" fill="#efefef" stroke="#2a2a2a" stroke-width="0.85"/>
<text x="640.5" y="191.85" font-size="5.9" text-anchor="middle" dominant-baseline="central" fill="#1a1a1a" transform="rotate(90 640.5 191.85)">45min</text>
<text x="656.3" y="121" font-size="6.6" text-anchor="start" fill="#1a1a1a" stroke="#1a1a1a" stroke-width="0.18">Intensity</text>
<rect x="656" y="124.8" width="10.4" height="49.4" fill="url(#cbar)"/>
<text x="669.7" y="127.9" font-size="5.4" text-anchor="start" fill="#333" stroke="#333" stroke-width="0.18">40000</text>
<line x1="656" y1="126" x2="658" y2="126" stroke="#fff" stroke-width="0.4"/><line x1="664.4" y1="126" x2="666.4" y2="126" stroke="#fff" stroke-width="0.4"/>
<text x="669.7" y="140.3" font-size="5.4" text-anchor="start" fill="#333" stroke="#333" stroke-width="0.18">30000</text>
<line x1="656" y1="138.4" x2="658" y2="138.4" stroke="#fff" stroke-width="0.4"/><line x1="664.4" y1="138.4" x2="666.4" y2="138.4" stroke="#fff" stroke-width="0.4"/>
<text x="669.7" y="152.1" font-size="5.4" text-anchor="start" fill="#333" stroke="#333" stroke-width="0.18">20000</text>
<line x1="656" y1="150.2" x2="658" y2="150.2" stroke="#fff" stroke-width="0.4"/><line x1="664.4" y1="150.2" x2="666.4" y2="150.2" stroke="#fff" stroke-width="0.4"/>
<text x="669.7" y="164.6" font-size="5.4" text-anchor="start" fill="#333" stroke="#333" stroke-width="0.18">10000</text>
<line x1="656" y1="162.7" x2="658" y2="162.7" stroke="#fff" stroke-width="0.4"/><line x1="664.4" y1="162.7" x2="666.4" y2="162.7" stroke="#fff" stroke-width="0.4"/>
<text x="669.7" y="176.6" font-size="5.4" text-anchor="start" fill="#333" stroke="#333" stroke-width="0.18">0</text>
<line x1="656" y1="174.7" x2="658" y2="174.7" stroke="#fff" stroke-width="0.4"/><line x1="664.4" y1="174.7" x2="666.4" y2="174.7" stroke="#fff" stroke-width="0.4"/>
<text x="76.2" y="308.9" font-size="9.35" text-anchor="start" fill="#1a1a1a" stroke="#1a1a1a" stroke-width="0.18">Peptide pooling</text>
<text x="238.2" y="308.7" font-size="9.5" text-anchor="start" fill="#1a1a1a" stroke="#1a1a1a" stroke-width="0.18">High-pH fractionation</text>
<text x="435.3" y="308.7" font-size="9.5" text-anchor="middle" fill="#1a1a1a" stroke="#1a1a1a" stroke-width="0.18">DDA</text>
<text x="542.5" y="308.6" font-size="9.38" text-anchor="start" fill="#1a1a1a" stroke="#1a1a1a" stroke-width="0.18">Library generation</text>
<path d="M49.1,346.4 L49.1,355.40000000000003 A3.9,3.9 0 0 0 56.9,355.40000000000003 L56.9,346.4 Z" fill="#b5102d"/>
<path d="M49.1,340.5 L49.1,355.40000000000003 A3.9,3.9 0 0 0 56.9,355.40000000000003 L56.9,340.5" fill="none" stroke="#8a8a8a" stroke-width="0.8"/>
<line x1="49.1" y1="346.4" x2="56.9" y2="346.4" stroke="#555" stroke-width="0.7" opacity="0.8"/>
<line x1="48.800000000000004" y1="340.5" x2="57.199999999999996" y2="340.5" stroke="#4a4a4a" stroke-width="1.1"/>
<line x1="46.4" y1="334.9" x2="49.6" y2="340.3" stroke="#3c3c3c" stroke-width="1.45" stroke-linecap="round"/>
<line x1="51.300000000000004" y1="348.5" x2="51.300000000000004" y2="354.5" stroke="#ffffff" stroke-width="0.6" opacity="0.45"/>
<path d="M63.150000000000006,346.4 L63.150000000000006,355.40000000000003 A3.9,3.9 0 0 0 70.95,355.40000000000003 L70.95,346.4 Z" fill="#d63327"/>
<path d="M63.150000000000006,340.5 L63.150000000000006,355.40000000000003 A3.9,3.9 0 0 0 70.95,355.40000000000003 L70.95,340.5" fill="none" stroke="#8a8a8a" stroke-width="0.8"/>
<line x1="63.150000000000006" y1="346.4" x2="70.95" y2="346.4" stroke="#555" stroke-width="0.7" opacity="0.8"/>
<line x1="62.85000000000001" y1="340.5" x2="71.25" y2="340.5" stroke="#4a4a4a" stroke-width="1.1"/>
<line x1="60.45" y1="334.9" x2="63.650000000000006" y2="340.3" stroke="#3c3c3c" stroke-width="1.45" stroke-linecap="round"/>
<line x1="65.35000000000001" y1="348.5" x2="65.35000000000001" y2="354.5" stroke="#ffffff" stroke-width="0.6" opacity="0.45"/>
<path d="M77.2,346.4 L77.2,355.40000000000003 A3.9,3.9 0 0 0 85.0,355.40000000000003 L85.0,346.4 Z" fill="#f0653a"/>
<path d="M77.2,340.5 L77.2,355.40000000000003 A3.9,3.9 0 0 0 85.0,355.40000000000003 L85.0,340.5" fill="none" stroke="#8a8a8a" stroke-width="0.8"/>
<line x1="77.2" y1="346.4" x2="85.0" y2="346.4" stroke="#555" stroke-width="0.7" opacity="0.8"/>
<line x1="76.9" y1="340.5" x2="85.3" y2="340.5" stroke="#4a4a4a" stroke-width="1.1"/>
<line x1="74.5" y1="334.9" x2="77.7" y2="340.3" stroke="#3c3c3c" stroke-width="1.45" stroke-linecap="round"/>
<line x1="79.4" y1="348.5" x2="79.4" y2="354.5" stroke="#ffffff" stroke-width="0.6" opacity="0.45"/>
<path d="M91.25,346.4 L91.25,355.40000000000003 A3.9,3.9 0 0 0 99.05,355.40000000000003 L99.05,346.4 Z" fill="#f9a451"/>
<path d="M91.25,340.5 L91.25,355.40000000000003 A3.9,3.9 0 0 0 99.05,355.40000000000003 L99.05,340.5" fill="none" stroke="#8a8a8a" stroke-width="0.8"/>
<line x1="91.25" y1="346.4" x2="99.05" y2="346.4" stroke="#555" stroke-width="0.7" opacity="0.8"/>
<line x1="90.95" y1="340.5" x2="99.35" y2="340.5" stroke="#4a4a4a" stroke-width="1.1"/>
<line x1="88.55000000000001" y1="334.9" x2="91.75" y2="340.3" stroke="#3c3c3c" stroke-width="1.45" stroke-linecap="round"/>
<line x1="93.45" y1="348.5" x2="93.45" y2="354.5" stroke="#ffffff" stroke-width="0.6" opacity="0.45"/>
<path d="M105.30000000000001,346.4 L105.30000000000001,355.40000000000003 A3.9,3.9 0 0 0 113.10000000000001,355.40000000000003 L113.10000000000001,346.4 Z" fill="#fcd581"/>
<path d="M105.30000000000001,340.5 L105.30000000000001,355.40000000000003 A3.9,3.9 0 0 0 113.10000000000001,355.40000000000003 L113.10000000000001,340.5" fill="none" stroke="#8a8a8a" stroke-width="0.8"/>
<line x1="105.30000000000001" y1="346.4" x2="113.10000000000001" y2="346.4" stroke="#555" stroke-width="0.7" opacity="0.8"/>
<line x1="105.00000000000001" y1="340.5" x2="113.4" y2="340.5" stroke="#4a4a4a" stroke-width="1.1"/>
<line x1="102.6" y1="334.9" x2="105.80000000000001" y2="340.3" stroke="#3c3c3c" stroke-width="1.45" stroke-linecap="round"/>
<line x1="107.50000000000001" y1="348.5" x2="107.50000000000001" y2="354.5" stroke="#ffffff" stroke-width="0.6" opacity="0.45"/>
<path d="M52.3,365 L52.3,367.1 L108.3,367.1 L108.3,365 M80.6,367.1 L80.6,369" fill="none" stroke="#333" stroke-width="1"/>
<text x="47.3" y="380.9" font-size="9.5" text-anchor="start" fill="#1a1a1a" stroke="#1a1a1a" stroke-width="0.18">5 tissue digests</text>
<path d="M80.3,384 L80.3,398.3 L133.1,398.3 L133.1,353.7 L145,353.7" fill="none" stroke="#555" stroke-width="0.9"/>
<path d="M144.3,350 L151.8,353.7 L144.3,357.4 Z" fill="#111"/>
<defs><linearGradient id="pool" x1="0" y1="0" x2="0" y2="1"><stop offset="0" stop-color="#c8102e"/><stop offset="0.5" stop-color="#e0402a"/><stop offset="1" stop-color="#f8b050"/></linearGradient><linearGradient id="frac" x1="0" y1="0" x2="0" y2="1"><stop offset="0" stop-color="#d8def0"/><stop offset="1" stop-color="#b8c2e2"/></linearGradient></defs>
<path d="M162.3,351.6 L162.3,360.8 A4.2,4.2 0 0 0 170.70000000000002,360.8 L170.70000000000002,351.6 Z" fill="url(#pool)"/>
<path d="M162.3,346.4 L162.3,360.8 A4.2,4.2 0 0 0 170.70000000000002,360.8 L170.70000000000002,346.4" fill="none" stroke="#8a8a8a" stroke-width="0.8"/>
<line x1="162.3" y1="351.6" x2="170.70000000000002" y2="351.6" stroke="#555" stroke-width="0.7" opacity="0.8"/>
<line x1="162.0" y1="346.4" x2="171.00000000000003" y2="346.4" stroke="#4a4a4a" stroke-width="1.1"/>
<line x1="159.1" y1="340.3" x2="162.4" y2="346.2" stroke="#3c3c3c" stroke-width="1.45" stroke-linecap="round"/>
<path d="M185.8,350.6 L198.2,350.6 L198.2,346.4 L206.9,354.6 L198.2,362.8 L198.2,359 L185.8,359 Z" fill="#c9c9c9" stroke="#555" stroke-width="0.8" stroke-linejoin="miter"/>
<path d="M353.3,351.2 L365.2,351.2 L365.2,347.2 L373.4,354.79999999999995 L365.2,362.4 L365.2,358.9 L353.3,358.9 Z" fill="#c9c9c9" stroke="#555" stroke-width="0.8" stroke-linejoin="miter"/>
<path d="M495.5,353.2 L507.5,353.2 L507.5,349.6 L515.8,357.5 L507.5,365.4 L507.5,361.2 L495.5,361.2 Z" fill="#c9c9c9" stroke="#555" stroke-width="0.8" stroke-linejoin="miter"/>
<rect x="243.5" y="326.5" width="73" height="39" fill="#fff" stroke="#2a2a2a" stroke-width="1"/>
<path d="M244.67,364.98 C245.68,360.70 249.15,339.54 250.74,339.28 C252.34,339.03 253.22,361.32 254.25,363.46 C255.28,365.60 256.23,352.33 256.93,352.13 C257.64,351.94 257.67,363.46 258.45,362.29 C259.23,361.12 260.50,345.03 261.61,345.12 C262.72,345.22 263.84,362.55 265.11,362.88 C266.37,363.21 268.17,347.40 269.20,347.11 C270.23,346.82 270.52,360.29 271.30,361.12 C272.08,361.96 273.01,351.80 273.87,352.13 C274.73,352.46 275.50,365.25 276.44,363.11 C277.37,360.97 278.64,339.91 279.47,339.28 C280.31,338.66 280.80,358.36 281.46,359.37 C282.12,360.38 282.67,344.77 283.45,345.36 C284.22,345.94 285.10,362.10 286.13,362.88 C287.16,363.65 288.56,349.93 289.64,350.03 C290.71,350.13 291.52,364.78 292.55,363.46 C293.59,362.14 294.75,341.89 295.82,342.09 C296.90,342.28 298.00,362.72 298.98,364.63 C299.95,366.54 300.79,353.63 301.66,353.53 C302.54,353.44 303.28,363.23 304.23,364.04 C305.19,364.86 306.12,358.28 307.39,358.44 C308.65,358.59 311.09,363.89 311.82,364.98" fill="none" stroke="#6e6e6e" stroke-width="1.0"/>
<line x1="254.70" y1="368.90" x2="251.70" y2="376.04" stroke="#8a8a8a" stroke-width="0.8"/>
<path d="M250.50,378.90 L250.33,374.92 L253.46,376.24 Z" fill="#8a8a8a"/>
<line x1="291.70" y1="368.90" x2="256.72" y2="380.83" stroke="#8a8a8a" stroke-width="0.8"/>
<path d="M253.60,381.90 L256.65,379.06 L257.75,382.28 Z" fill="#8a8a8a"/>
<line x1="264.00" y1="368.90" x2="297.38" y2="380.52" stroke="#333" stroke-width="0.9"/>
<path d="M300.50,381.60 L296.35,381.96 L297.47,378.75 Z" fill="#333"/>
<line x1="304.20" y1="368.90" x2="307.66" y2="376.11" stroke="#333" stroke-width="0.9"/>
<path d="M309.00,378.90 L305.91,376.39 L308.97,374.92 Z" fill="#333"/>
<path d="M244.6,392 L244.6,401.35 A4.15,4.15 0 0 0 252.9,401.35 L252.9,392 Z" fill="url(#frac)"/>
<path d="M244.6,386.5 L244.6,401.35 A4.15,4.15 0 0 0 252.9,401.35 L252.9,386.5" fill="none" stroke="#8a8a8a" stroke-width="0.8"/>
<line x1="244.6" y1="392" x2="252.9" y2="392" stroke="#555" stroke-width="0.7" opacity="0.8"/>
<line x1="244.29999999999998" y1="386.5" x2="253.20000000000002" y2="386.5" stroke="#4a4a4a" stroke-width="1.1"/>
<line x1="241.3" y1="381.2" x2="244.6" y2="386.3" stroke="#3c3c3c" stroke-width="1.45" stroke-linecap="round"/>
<path d="M303.5,392 L303.5,401.45 A4.05,4.05 0 0 0 311.6,401.45 L311.6,392 Z" fill="url(#frac)"/>
<path d="M303.5,386.5 L303.5,401.45 A4.05,4.05 0 0 0 311.6,401.45 L311.6,386.5" fill="none" stroke="#8a8a8a" stroke-width="0.8"/>
<line x1="303.5" y1="392" x2="311.6" y2="392" stroke="#555" stroke-width="0.7" opacity="0.8"/>
<line x1="303.2" y1="386.5" x2="311.90000000000003" y2="386.5" stroke="#4a4a4a" stroke-width="1.1"/>
<line x1="299.2" y1="379.6" x2="303.3" y2="386.3" stroke="#3c3c3c" stroke-width="1.45" stroke-linecap="round"/>
<text x="238" y="399.7" font-size="6.6" text-anchor="middle" fill="#333" stroke="#333" stroke-width="0.18">1</text>
<text x="319.9" y="399.7" font-size="6.6" text-anchor="middle" fill="#333" stroke="#333" stroke-width="0.18">8</text>
<rect x="272.65000000000003" y="401.1" width="1.3" height="1.3" fill="#222"/>
<rect x="277.25" y="401.1" width="1.3" height="1.3" fill="#222"/>
<rect x="281.75" y="401.1" width="1.3" height="1.3" fill="#222"/>
<rect x="389.5" y="325.5" width="73.0" height="40.0" fill="#fff" stroke="#2a2a2a" stroke-width="0.95"/>
<rect x="395.5" y="331.5" width="73.0" height="39.0" fill="#fff" stroke="#2a2a2a" stroke-width="0.95"/>
<rect x="400.5" y="336.5" width="73.0" height="39.0" fill="#fff" stroke="#2a2a2a" stroke-width="0.95"/>
<rect x="406.5" y="341.5" width="73.0" height="39.0" fill="#fff" stroke="#2a2a2a" stroke-width="0.95"/>
<line x1="415.45" y1="370.59" x2="415.45" y2="379.8" stroke="#8c8c8c" stroke-width="0.7"/>
<line x1="423.39" y1="359.14" x2="423.39" y2="379.8" stroke="#8c8c8c" stroke-width="0.7"/>
<line x1="428.30" y1="352.60" x2="428.30" y2="379.8" stroke="#8c8c8c" stroke-width="0.7"/>
<line x1="431.57" y1="363.58" x2="431.57" y2="379.8" stroke="#8c8c8c" stroke-width="0.7"/>
<line x1="433.90" y1="373.63" x2="433.90" y2="379.8" stroke="#8c8c8c" stroke-width="0.7"/>
<line x1="439.74" y1="360.08" x2="439.74" y2="379.8" stroke="#8c8c8c" stroke-width="0.7"/>
<line x1="442.31" y1="351.90" x2="442.31" y2="379.8" stroke="#8c8c8c" stroke-width="0.7"/>
<line x1="447.92" y1="369.42" x2="447.92" y2="379.8" stroke="#8c8c8c" stroke-width="0.7"/>
<line x1="454.46" y1="363.58" x2="454.46" y2="379.8" stroke="#8c8c8c" stroke-width="0.7"/>
<line x1="457.50" y1="373.63" x2="457.50" y2="379.8" stroke="#8c8c8c" stroke-width="0.7"/>
<line x1="464.27" y1="370.59" x2="464.27" y2="379.8" stroke="#8c8c8c" stroke-width="0.7"/>
<line x1="468.94" y1="376.90" x2="468.94" y2="379.8" stroke="#8c8c8c" stroke-width="0.7"/>
<rect x="569.3" y="321" width="60.3" height="61.3" fill="none" stroke="#555" stroke-width="0.8"/>
<line x1="567.6" y1="323.3" x2="569.3" y2="323.3" stroke="#555" stroke-width="0.7"/>
<text x="567.3" y="326.40000000000003" font-size="8.5" text-anchor="end" fill="#222" stroke="#222" stroke-width="0.18">60000</text>
<line x1="567.6" y1="343" x2="569.3" y2="343" stroke="#555" stroke-width="0.7"/>
<text x="567.3" y="346.1" font-size="8.5" text-anchor="end" fill="#222" stroke="#222" stroke-width="0.18">40000</text>
<line x1="567.6" y1="362.7" x2="569.3" y2="362.7" stroke="#555" stroke-width="0.7"/>
<text x="567.3" y="365.8" font-size="8.5" text-anchor="end" fill="#222" stroke="#222" stroke-width="0.18">20000</text>
<line x1="567.6" y1="382.4" x2="569.3" y2="382.4" stroke="#555" stroke-width="0.7"/>
<text x="567.3" y="385.5" font-size="8.5" text-anchor="end" fill="#222" stroke="#222" stroke-width="0.18">0</text>
<rect x="573.2" y="323.9" width="14.4" height="58.4" fill="#E64B35"/>
<rect x="592.2" y="337" width="14.3" height="45.3" fill="#4DBBD5"/>
<rect x="611.1" y="377.8" width="14.7" height="4.5" fill="#00A087"/>
<line x1="580.4" y1="382.3" x2="580.4" y2="384" stroke="#555" stroke-width="0.7"/>
<line x1="599.3" y1="382.3" x2="599.3" y2="384" stroke="#555" stroke-width="0.7"/>
<line x1="618.4" y1="382.3" x2="618.4" y2="384" stroke="#555" stroke-width="0.7"/>
<text x="583.2" y="324.8" font-size="6.7" text-anchor="end" fill="#1a1a1a" stroke="#1a1a1a" stroke-width="0.18" transform="rotate(-90 583.2 324.8)">59079</text>
<text x="601.7" y="337.9" font-size="6.7" text-anchor="end" fill="#1a1a1a" stroke="#1a1a1a" stroke-width="0.18" transform="rotate(-90 601.7 337.9)">45617</text>
<text x="621" y="376.8" font-size="6.7" text-anchor="start" fill="#1a1a1a" stroke="#1a1a1a" stroke-width="0.18" transform="rotate(-90 621 376.8)">4755</text>
<text x="540.6" y="352.2" font-size="8.4" text-anchor="middle" fill="#1a1a1a" stroke="#1a1a1a" stroke-width="0.18" transform="rotate(-90 540.6 352.2)"># of features</text>
<text x="585.6" y="387.3" font-size="8.5" text-anchor="end" fill="#1a1a1a" stroke="#1a1a1a" stroke-width="0.18" transform="rotate(-45 585.6 387.3)">Precursors</text>
<text x="604.2" y="387.3" font-size="8.5" text-anchor="end" fill="#1a1a1a" stroke="#1a1a1a" stroke-width="0.18" transform="rotate(-45 604.2 387.3)">Peptides</text>
<text x="623.2" y="387.3" font-size="8.5" text-anchor="end" fill="#1a1a1a" stroke="#1a1a1a" stroke-width="0.18" transform="rotate(-45 623.2 387.3)">Proteins</text>
<text x="47.0" y="474.2" font-size="11" text-anchor="start" fill="#000" stroke="#000" stroke-width="0.18">i</text>
<text x="57.8" y="474" font-size="9.37" text-anchor="start" fill="#1a1a1a" stroke="#1a1a1a" stroke-width="0.18">Spectral library</text>
<text x="374.4" y="474.2" font-size="11" text-anchor="start" fill="#000" stroke="#000" stroke-width="0.18">ii</text>
<text x="386.9" y="474" font-size="9.57" text-anchor="start" fill="#1a1a1a" stroke="#1a1a1a" stroke-width="0.18">Main search (match between runs)</text>
<rect x="43.5" y="479.5" width="285.5" height="147" fill="none" stroke="#4a4a4a" stroke-width="1"/>
<rect x="372.5" y="479.5" width="284" height="146.5" fill="none" stroke="#4a4a4a" stroke-width="1"/>
<rect x="55.5" y="486.5" width="37.0" height="25.0" fill="#fff" stroke="#1e1e1e" stroke-width="0.95"/>
<rect x="60.5" y="490.5" width="36.0" height="25.0" fill="#fff" stroke="#1e1e1e" stroke-width="0.95"/>
<rect x="64.5" y="495.5" width="37.0" height="25.0" fill="#fff" stroke="#1e1e1e" stroke-width="0.95"/>
<line x1="69.90" y1="506.07" x2="69.90" y2="519.38" stroke="#b84c60" stroke-width="0.8"/>
<line x1="71.77" y1="515.18" x2="71.77" y2="519.38" stroke="#b84c60" stroke-width="0.8"/>
<line x1="75.74" y1="500.69" x2="75.74" y2="519.38" stroke="#b84c60" stroke-width="0.8"/>
<line x1="81.35" y1="505.37" x2="81.35" y2="519.38" stroke="#b84c60" stroke-width="0.8"/>
<line x1="83.21" y1="513.54" x2="83.21" y2="519.38" stroke="#b84c60" stroke-width="0.8"/>
<line x1="84.85" y1="509.57" x2="84.85" y2="519.38" stroke="#b84c60" stroke-width="0.8"/>
<line x1="91.86" y1="505.83" x2="91.86" y2="519.38" stroke="#b84c60" stroke-width="0.8"/>
<line x1="95.59" y1="514.71" x2="95.59" y2="519.38" stroke="#b84c60" stroke-width="0.8"/>
<text x="79.2" y="536.9" font-size="10.8" text-anchor="middle" fill="#1a1a1a" stroke="#1a1a1a" stroke-width="0.18">DDA</text>
<line x1="111.20" y1="503.50" x2="127.60" y2="503.50" stroke="#000" stroke-width="1.0"/>
<path d="M134.60,503.50 L127.10,506.80 L127.10,500.20 Z" fill="#000"/>
<g>
<rect x="148.3" y="500.3" width="3.5" height="14" fill="#fff" stroke="#888" stroke-width="0.7"/>
<rect x="193.4" y="500.3" width="3.6" height="14" fill="#fff" stroke="#888" stroke-width="0.7"/>
<rect x="151.8" y="502.1" width="41.6" height="10.5" fill="#fff" stroke="#8a8a8a" stroke-width="0.8"/>
<line x1="147.6" y1="501.5" x2="148.3" y2="501.5" stroke="#999" stroke-width="0.5"/><line x1="197" y1="501.5" x2="197.7" y2="501.5" stroke="#999" stroke-width="0.5"/>
<line x1="147.6" y1="504" x2="148.3" y2="504" stroke="#999" stroke-width="0.5"/><line x1="197" y1="504" x2="197.7" y2="504" stroke="#999" stroke-width="0.5"/>
<line x1="147.6" y1="506.5" x2="148.3" y2="506.5" stroke="#999" stroke-width="0.5"/><line x1="197" y1="506.5" x2="197.7" y2="506.5" stroke="#999" stroke-width="0.5"/>
<line x1="147.6" y1="509" x2="148.3" y2="509" stroke="#999" stroke-width="0.5"/><line x1="197" y1="509" x2="197.7" y2="509" stroke="#999" stroke-width="0.5"/>
<line x1="147.6" y1="511.5" x2="148.3" y2="511.5" stroke="#999" stroke-width="0.5"/><line x1="197" y1="511.5" x2="197.7" y2="511.5" stroke="#999" stroke-width="0.5"/>
<line x1="147.6" y1="513.5" x2="148.3" y2="513.5" stroke="#999" stroke-width="0.5"/><line x1="197" y1="513.5" x2="197.7" y2="513.5" stroke="#999" stroke-width="0.5"/>
<path d="M160.1,495.8 L185.5,495.8" stroke="#a01414" stroke-width="2.3"/>
<path d="M172.6,492.6 L172.6,502" stroke="#a01414" stroke-width="2"/>
<path d="M163.2,496.4 L172.6,501.8 L182.0,496.4" fill="none" stroke="#a01414" stroke-width="1.5"/>
<circle cx="172.6" cy="492.9" r="1.1" fill="#a01414"/>
<defs><linearGradient id="fpg" x1="0" y1="0" x2="1" y2="0"><stop offset="0" stop-color="#9a9a9a"/><stop offset="0.25" stop-color="#3a3a3a"/><stop offset="1" stop-color="#333"/></linearGradient></defs>
<text x="173.1" y="510.3" font-size="5.6" text-anchor="middle" font-weight="bold" font-style="italic" fill="url(#fpg)" textLength="34.5" lengthAdjust="spacingAndGlyphs">FR<tspan fill="#e8b81c">A</tspan>GPIPE</text>
</g>
<line x1="209.80" y1="503.60" x2="226.70" y2="503.60" stroke="#000" stroke-width="1.0"/>
<path d="M233.70,503.60 L226.20,506.90 L226.20,500.30 Z" fill="#000"/>
<rect x="254.5" y="486.5" width="36.0" height="24.0" fill="#fff" stroke="#1e1e1e" stroke-width="0.95"/>
<rect x="259.5" y="490.5" width="36.0" height="25.0" fill="#fff" stroke="#1e1e1e" stroke-width="0.95"/>
<rect x="263.5" y="495.5" width="37.0" height="25.0" fill="#fff" stroke="#1e1e1e" stroke-width="0.95"/>
<line x1="268.47" y1="506.06" x2="268.47" y2="519.55" stroke="#b84c60" stroke-width="0.8"/>
<line x1="274.60" y1="500.96" x2="274.60" y2="519.55" stroke="#b84c60" stroke-width="0.8"/>
<line x1="280.73" y1="506.06" x2="280.73" y2="519.55" stroke="#b84c60" stroke-width="0.8"/>
<line x1="283.79" y1="510.77" x2="283.79" y2="519.55" stroke="#b84c60" stroke-width="0.8"/>
<line x1="290.54" y1="506.06" x2="290.54" y2="519.55" stroke="#b84c60" stroke-width="0.8"/>
<line x1="294.42" y1="514.85" x2="294.42" y2="519.55" stroke="#b84c60" stroke-width="0.8"/>
<circle cx="311.4" cy="489.7" r="5.85" fill="#440154"/>
<text x="311.4" y="493.1" font-size="9.6" text-anchor="middle" fill="#f4eef6" stroke="#f4eef6" stroke-width="0.18">1</text>
<text x="277.3" y="536.7" font-size="10.78" text-anchor="middle" fill="#1a1a1a" stroke="#1a1a1a" stroke-width="0.18">Exp. spec-lib</text>
<path d="M66.3,565.9 L66.3,591.6 A14.899999999999999,2.2 0 0 0 96.1,591.6 L96.1,565.9" fill="#fff" stroke="#222" stroke-width="0.85"/>
<ellipse cx="81.19999999999999" cy="565.9" rx="14.899999999999999" ry="2.2" fill="#fff" stroke="#222" stroke-width="0.85"/>
<path d="M66.3,572.3 A14.899999999999999,2.2 0 0 0 96.1,572.3" fill="none" stroke="#222" stroke-width="0.85"/>
<path d="M66.3,578.7 A14.899999999999999,2.2 0 0 0 96.1,578.7" fill="none" stroke="#222" stroke-width="0.85"/>
<path d="M66.3,585.1 A14.899999999999999,2.2 0 0 0 96.1,585.1" fill="none" stroke="#222" stroke-width="0.85"/>
<text x="58.2" y="610" font-size="10.75" text-anchor="start" fill="#1a1a1a" stroke="#1a1a1a" stroke-width="0.18">Sequence</text>
<text x="58.2" y="622.2" font-size="10.75" text-anchor="start" fill="#1a1a1a" stroke="#1a1a1a" stroke-width="0.18">database</text>
<line x1="113.60" y1="579.30" x2="129.90" y2="579.30" stroke="#000" stroke-width="1.0"/>
<path d="M136.90,579.30 L129.40,582.60 L129.40,576.00 Z" fill="#000"/>
<defs><radialGradient id="dg160566" cx="0.5" cy="0.48" r="0.62"><stop offset="0" stop-color="#f6f7f7"/><stop offset="0.6" stop-color="#e2e3e3"/><stop offset="1" stop-color="#b9bbbb"/></radialGradient></defs>
<rect x="160.3" y="566.4" width="25.4" height="25.4" rx="5.2" fill="url(#dg160566)"/>
<path d="M162.60,576.90 L168.90,572.30M176.30,572.40 L182.40,577.50M175.43,574.67 L179.57,578.14M182.40,577.50 L180.60,581.80M173.50,588.30 L166.40,588.30M166.40,588.30 L162.60,576.90M165.47,578.23 L167.97,585.75" fill="none" stroke="#1a1a1a" stroke-width="1.15" stroke-linecap="round" stroke-linejoin="round"/>
<text x="172.60" y="574.70" font-size="7.9" text-anchor="middle" fill="#b2361c" stroke="#b2361c" stroke-width="0.3">N</text>
<text x="178.20" y="589.60" font-size="7.9" text-anchor="middle" fill="#b2361c" stroke="#b2361c" stroke-width="0.3">N</text>
<line x1="212.70" y1="579.10" x2="229.40" y2="579.10" stroke="#000" stroke-width="1.0"/>
<path d="M236.40,579.10 L228.90,582.40 L228.90,575.80 Z" fill="#000"/>
<rect x="257.5" y="561.5" width="37.0" height="26.0" fill="#fff" stroke="#1e1e1e" stroke-width="0.95"/>
<rect x="261.5" y="566.5" width="37.0" height="26.0" fill="#fff" stroke="#1e1e1e" stroke-width="0.95"/>
<rect x="266.5" y="571.5" width="36.0" height="25.0" fill="#fff" stroke="#1e1e1e" stroke-width="0.95"/>
<line x1="271.12" y1="581.79" x2="271.12" y2="595.07" stroke="#b84c60" stroke-width="0.8"/>
<line x1="277.25" y1="585.26" x2="277.25" y2="595.07" stroke="#b84c60" stroke-width="0.8"/>
<line x1="282.77" y1="581.17" x2="282.77" y2="595.07" stroke="#b84c60" stroke-width="0.8"/>
<line x1="286.45" y1="585.87" x2="286.45" y2="595.07" stroke="#b84c60" stroke-width="0.8"/>
<line x1="293.40" y1="581.79" x2="293.40" y2="595.07" stroke="#b84c60" stroke-width="0.8"/>
<line x1="297.49" y1="590.37" x2="297.49" y2="595.07" stroke="#b84c60" stroke-width="0.8"/>
<circle cx="311.8" cy="563" r="5.85" fill="#22a884"/>
<text x="311.8" y="566.4" font-size="9.6" text-anchor="middle" fill="#f4eef6" stroke="#f4eef6" stroke-width="0.18">2</text>
<text x="280.1" y="609.4" font-size="10.78" text-anchor="middle" fill="#1a1a1a" stroke="#1a1a1a" stroke-width="0.18">Predicted</text>
<text x="280.1" y="622.3" font-size="10.78" text-anchor="middle" fill="#1a1a1a" stroke="#1a1a1a" stroke-width="0.18">spec-lib</text>
<rect x="385.5" y="486.5" width="36.0" height="24.0" fill="#fff" stroke="#1e1e1e" stroke-width="0.95"/>
<rect x="389.5" y="490.5" width="37.0" height="25.0" fill="#fff" stroke="#1e1e1e" stroke-width="0.95"/>
<rect x="393.5" y="495.5" width="37.0" height="25.0" fill="#fff" stroke="#1e1e1e" stroke-width="0.95"/>
<line x1="398.63" y1="506.10" x2="398.63" y2="519.43" stroke="#d08898" stroke-width="0.75"/>
<line x1="399.68" y1="515.73" x2="399.68" y2="519.43" stroke="#c03048" stroke-width="0.75"/>
<line x1="400.72" y1="514.93" x2="400.72" y2="519.43" stroke="#c03048" stroke-width="0.75"/>
<line x1="401.29" y1="513.33" x2="401.29" y2="519.43" stroke="#d08898" stroke-width="0.75"/>
<line x1="402.09" y1="512.92" x2="402.09" y2="519.43" stroke="#c03048" stroke-width="0.75"/>
<line x1="403.29" y1="515.73" x2="403.29" y2="519.43" stroke="#c03048" stroke-width="0.75"/>
<line x1="404.90" y1="500.88" x2="404.90" y2="519.43" stroke="#d08898" stroke-width="0.75"/>
<line x1="405.86" y1="515.73" x2="405.86" y2="519.43" stroke="#c03048" stroke-width="0.75"/>
<line x1="406.51" y1="514.93" x2="406.51" y2="519.43" stroke="#c03048" stroke-width="0.75"/>
<line x1="407.71" y1="516.54" x2="407.71" y2="519.43" stroke="#c03048" stroke-width="0.75"/>
<line x1="408.51" y1="507.70" x2="408.51" y2="519.43" stroke="#c03048" stroke-width="0.75"/>
<line x1="409.56" y1="515.73" x2="409.56" y2="519.43" stroke="#d08898" stroke-width="0.75"/>
<line x1="410.52" y1="505.69" x2="410.52" y2="519.43" stroke="#d08898" stroke-width="0.75"/>
<line x1="411.33" y1="515.73" x2="411.33" y2="519.43" stroke="#c03048" stroke-width="0.75"/>
<line x1="411.97" y1="515.33" x2="411.97" y2="519.43" stroke="#c03048" stroke-width="0.75"/>
<line x1="412.93" y1="514.13" x2="412.93" y2="519.43" stroke="#d08898" stroke-width="0.75"/>
<line x1="414.38" y1="510.11" x2="414.38" y2="519.43" stroke="#c03048" stroke-width="0.75"/>
<line x1="415.34" y1="515.33" x2="415.34" y2="519.43" stroke="#d08898" stroke-width="0.75"/>
<line x1="416.31" y1="507.70" x2="416.31" y2="519.43" stroke="#c03048" stroke-width="0.75"/>
<line x1="417.11" y1="514.13" x2="417.11" y2="519.43" stroke="#c03048" stroke-width="0.75"/>
<line x1="417.75" y1="514.53" x2="417.75" y2="519.43" stroke="#d08898" stroke-width="0.75"/>
<line x1="419.36" y1="515.33" x2="419.36" y2="519.43" stroke="#c03048" stroke-width="0.75"/>
<line x1="420.16" y1="515.73" x2="420.16" y2="519.43" stroke="#d08898" stroke-width="0.75"/>
<line x1="421.37" y1="506.10" x2="421.37" y2="519.43" stroke="#d08898" stroke-width="0.75"/>
<line x1="422.57" y1="513.73" x2="422.57" y2="519.43" stroke="#c03048" stroke-width="0.75"/>
<line x1="423.37" y1="515.73" x2="423.37" y2="519.43" stroke="#c03048" stroke-width="0.75"/>
<line x1="424.18" y1="514.93" x2="424.18" y2="519.43" stroke="#d08898" stroke-width="0.75"/>
<line x1="425.38" y1="515.73" x2="425.38" y2="519.43" stroke="#d08898" stroke-width="0.75"/>
<line x1="426.59" y1="513.33" x2="426.59" y2="519.43" stroke="#d08898" stroke-width="0.75"/>
<text x="407.9" y="537.1" font-size="10.8" text-anchor="middle" fill="#1a1a1a" stroke="#1a1a1a" stroke-width="0.18">DIA</text>
<circle cx="456.8" cy="491.2" r="5.85" fill="#440154"/>
<text x="456.8" y="494.6" font-size="9.6" text-anchor="middle" fill="#f4eef6" stroke="#f4eef6" stroke-width="0.18">1</text>
<circle cx="469.8" cy="491.2" r="5.85" fill="#22a884"/>
<text x="469.8" y="494.6" font-size="9.6" text-anchor="middle" fill="#f4eef6" stroke="#f4eef6" stroke-width="0.18">2</text>
<line x1="453.40" y1="503.70" x2="469.80" y2="503.70" stroke="#000" stroke-width="1.0"/>
<path d="M476.80,503.70 L469.30,507.00 L469.30,500.40 Z" fill="#000"/>
<defs><radialGradient id="dg499489" cx="0.5" cy="0.48" r="0.62"><stop offset="0" stop-color="#f6f7f7"/><stop offset="0.6" stop-color="#e2e3e3"/><stop offset="1" stop-color="#b9bbbb"/></radialGradient></defs>
<rect x="499.4" y="489.6" width="25.4" height="25.4" rx="5.2" fill="url(#dg499489)"/>
<path d="M501.70,500.10 L508.00,495.50M515.40,495.60 L521.50,500.70M514.53,497.87 L518.67,501.34M521.50,500.70 L519.70,505.00M512.60,511.50 L505.50,511.50M505.50,511.50 L501.70,500.10M504.57,501.43 L507.07,508.95" fill="none" stroke="#1a1a1a" stroke-width="1.15" stroke-linecap="round" stroke-linejoin="round"/>
<text x="511.70" y="497.90" font-size="7.9" text-anchor="middle" fill="#b2361c" stroke="#b2361c" stroke-width="0.3">N</text>
<text x="517.30" y="512.80" font-size="7.9" text-anchor="middle" fill="#b2361c" stroke="#b2361c" stroke-width="0.3">N</text>
<line x1="548.30" y1="503.90" x2="564.90" y2="503.90" stroke="#000" stroke-width="1.0"/>
<path d="M571.90,503.90 L564.40,507.20 L564.40,500.60 Z" fill="#000"/>
<rect x="594.5" y="486.5" width="37.0" height="24.0" fill="#fff" stroke="#1e1e1e" stroke-width="0.95"/>
<rect x="599.5" y="490.5" width="36.0" height="25.0" fill="#fff" stroke="#1e1e1e" stroke-width="0.95"/>
<rect x="603.5" y="496.5" width="37.0" height="24.0" fill="#fff" stroke="#1e1e1e" stroke-width="0.95"/>
<line x1="608.64" y1="505.92" x2="608.64" y2="520.06" stroke="#b84c60" stroke-width="0.8"/>
<line x1="614.60" y1="500.95" x2="614.60" y2="520.06" stroke="#b84c60" stroke-width="0.8"/>
<line x1="620.31" y1="505.92" x2="620.31" y2="520.06" stroke="#b84c60" stroke-width="0.8"/>
<line x1="624.03" y1="510.88" x2="624.03" y2="520.06" stroke="#b84c60" stroke-width="0.8"/>
<line x1="630.73" y1="505.92" x2="630.73" y2="520.06" stroke="#b84c60" stroke-width="0.8"/>
<line x1="634.45" y1="514.60" x2="634.45" y2="520.06" stroke="#b84c60" stroke-width="0.8"/>
<text x="617.3" y="537" font-size="10.78" text-anchor="middle" fill="#1a1a1a" stroke="#1a1a1a" stroke-width="0.18">DIA refined</text>
<text x="617.3" y="549.8" font-size="10.78" text-anchor="middle" fill="#1a1a1a" stroke="#1a1a1a" stroke-width="0.18">spec-lib</text>
<line x1="578.10" y1="522.00" x2="542.22" y2="551.47" stroke="#111" stroke-width="1.15" stroke-dasharray="3,1.8"/>
<path d="M537.20,555.60 L540.58,548.68 L544.64,553.63 Z" fill="#111"/>
<rect x="385.5" y="561.5" width="36.0" height="25.0" fill="#fff" stroke="#1e1e1e" stroke-width="0.95"/>
<rect x="389.5" y="565.5" width="37.0" height="25.0" fill="#fff" stroke="#1e1e1e" stroke-width="0.95"/>
<rect x="393.5" y="570.5" width="37.0" height="25.0" fill="#fff" stroke="#1e1e1e" stroke-width="0.95"/>
<line x1="398.63" y1="581.30" x2="398.63" y2="594.63" stroke="#d08898" stroke-width="0.75"/>
<line x1="399.68" y1="590.93" x2="399.68" y2="594.63" stroke="#c03048" stroke-width="0.75"/>
<line x1="400.72" y1="590.13" x2="400.72" y2="594.63" stroke="#c03048" stroke-width="0.75"/>
<line x1="401.29" y1="588.53" x2="401.29" y2="594.63" stroke="#d08898" stroke-width="0.75"/>
<line x1="402.09" y1="588.12" x2="402.09" y2="594.63" stroke="#c03048" stroke-width="0.75"/>
<line x1="403.29" y1="590.93" x2="403.29" y2="594.63" stroke="#c03048" stroke-width="0.75"/>
<line x1="404.90" y1="576.08" x2="404.90" y2="594.63" stroke="#d08898" stroke-width="0.75"/>
<line x1="405.86" y1="590.93" x2="405.86" y2="594.63" stroke="#c03048" stroke-width="0.75"/>
<line x1="406.51" y1="590.13" x2="406.51" y2="594.63" stroke="#c03048" stroke-width="0.75"/>
<line x1="407.71" y1="591.74" x2="407.71" y2="594.63" stroke="#c03048" stroke-width="0.75"/>
<line x1="408.51" y1="582.90" x2="408.51" y2="594.63" stroke="#c03048" stroke-width="0.75"/>
<line x1="409.56" y1="590.93" x2="409.56" y2="594.63" stroke="#d08898" stroke-width="0.75"/>
<line x1="410.52" y1="580.89" x2="410.52" y2="594.63" stroke="#d08898" stroke-width="0.75"/>
<line x1="411.33" y1="590.93" x2="411.33" y2="594.63" stroke="#c03048" stroke-width="0.75"/>
<line x1="411.97" y1="590.53" x2="411.97" y2="594.63" stroke="#c03048" stroke-width="0.75"/>
<line x1="412.93" y1="589.33" x2="412.93" y2="594.63" stroke="#d08898" stroke-width="0.75"/>
<line x1="414.38" y1="585.31" x2="414.38" y2="594.63" stroke="#c03048" stroke-width="0.75"/>
<line x1="415.34" y1="590.53" x2="415.34" y2="594.63" stroke="#d08898" stroke-width="0.75"/>
<line x1="416.31" y1="582.90" x2="416.31" y2="594.63" stroke="#c03048" stroke-width="0.75"/>
<line x1="417.11" y1="589.33" x2="417.11" y2="594.63" stroke="#c03048" stroke-width="0.75"/>
<line x1="417.75" y1="589.73" x2="417.75" y2="594.63" stroke="#d08898" stroke-width="0.75"/>
<line x1="419.36" y1="590.53" x2="419.36" y2="594.63" stroke="#c03048" stroke-width="0.75"/>
<line x1="420.16" y1="590.93" x2="420.16" y2="594.63" stroke="#d08898" stroke-width="0.75"/>
<line x1="421.37" y1="581.30" x2="421.37" y2="594.63" stroke="#d08898" stroke-width="0.75"/>
<line x1="422.57" y1="588.93" x2="422.57" y2="594.63" stroke="#c03048" stroke-width="0.75"/>
<line x1="423.37" y1="590.93" x2="423.37" y2="594.63" stroke="#c03048" stroke-width="0.75"/>
<line x1="424.18" y1="590.13" x2="424.18" y2="594.63" stroke="#d08898" stroke-width="0.75"/>
<line x1="425.38" y1="590.93" x2="425.38" y2="594.63" stroke="#d08898" stroke-width="0.75"/>
<line x1="426.59" y1="588.53" x2="426.59" y2="594.63" stroke="#d08898" stroke-width="0.75"/>
<text x="407.9" y="609.6" font-size="10.8" text-anchor="middle" fill="#1a1a1a" stroke="#1a1a1a" stroke-width="0.18">DIA</text>
<line x1="453.00" y1="579.20" x2="469.10" y2="579.20" stroke="#000" stroke-width="1.0"/>
<path d="M476.10,579.20 L468.60,582.50 L468.60,575.90 Z" fill="#000"/>
<defs><radialGradient id="dg499566" cx="0.5" cy="0.48" r="0.62"><stop offset="0" stop-color="#f6f7f7"/><stop offset="0.6" stop-color="#e2e3e3"/><stop offset="1" stop-color="#b9bbbb"/></radialGradient></defs>
<rect x="499.4" y="566.1" width="25.4" height="25.4" rx="5.2" fill="url(#dg499566)"/>
<path d="M501.70,576.60 L508.00,572.00M515.40,572.10 L521.50,577.20M514.53,574.37 L518.67,577.84M521.50,577.20 L519.70,581.50M512.60,588.00 L505.50,588.00M505.50,588.00 L501.70,576.60M504.57,577.93 L507.07,585.45" fill="none" stroke="#1a1a1a" stroke-width="1.15" stroke-linecap="round" stroke-linejoin="round"/>
<text x="511.70" y="574.40" font-size="7.9" text-anchor="middle" fill="#b2361c" stroke="#b2361c" stroke-width="0.3">N</text>
<text x="517.30" y="589.30" font-size="7.9" text-anchor="middle" fill="#b2361c" stroke="#b2361c" stroke-width="0.3">N</text>
<line x1="545.80" y1="579.30" x2="562.90" y2="579.30" stroke="#000" stroke-width="1.0"/>
<path d="M569.90,579.30 L562.40,582.60 L562.40,576.00 Z" fill="#000"/>
<rect x="592.5" y="561.5" width="48" height="35" fill="#fff" stroke="#1e1e1e" stroke-width="1"/>
<path d="M604.00,595.89 L604.50,595.89 L605.00,595.88 L605.50,595.86 L606.00,595.83 L606.50,595.78 L607.00,595.70 L607.50,595.59 L608.00,595.43 L608.50,595.19 L609.00,594.87 L609.50,594.43 L610.00,593.87 L610.50,593.16 L611.00,592.31 L611.50,591.30 L612.00,590.16 L612.50,588.92 L613.00,587.64 L613.50,586.36 L614.00,585.18 L614.50,584.16 L615.00,583.37 L615.50,582.87 L616.00,582.70 L616.50,582.87 L617.00,583.37 L617.50,584.16 L618.00,585.18 L618.50,586.36 L619.00,587.64 L619.50,588.92 L620.00,590.16 L620.50,591.30 L621.00,592.31 L621.50,593.16 L622.00,593.87 L622.50,594.43 L623.00,594.87 L623.50,595.19 L624.00,595.43 L624.50,595.59 L625.00,595.70 L625.50,595.78 L626.00,595.83 L626.50,595.86 L627.00,595.88 L627.50,595.89 L628.00,595.89" fill="none" stroke="#86dceb" stroke-width="0.85"/>
<path d="M603.00,595.90 L603.50,595.89 L604.00,595.89 L604.50,595.87 L605.00,595.85 L605.50,595.82 L606.00,595.77 L606.50,595.69 L607.00,595.56 L607.50,595.38 L608.00,595.11 L608.50,594.74 L609.00,594.23 L609.50,593.55 L610.00,592.69 L610.50,591.60 L611.00,590.29 L611.50,588.76 L612.00,587.03 L612.50,585.14 L613.00,583.16 L613.50,581.19 L614.00,579.32 L614.50,577.66 L615.00,576.33 L615.50,575.40 L616.00,574.94 L616.50,574.99 L617.00,575.54 L617.50,576.56 L618.00,577.96 L618.50,579.66 L619.00,581.55 L619.50,583.51 L620.00,585.45 L620.50,587.27 L621.00,588.89 L621.50,590.29 L622.00,591.41" fill="none" stroke="#8fce68" stroke-width="0.85"/>
<path d="M622.00,595.48 L622.50,595.29 L623.00,595.04 L623.50,594.72 L624.00,594.32 L624.50,593.85 L625.00,593.30 L625.50,592.69 L626.00,592.04 L626.50,591.38 L627.00,590.74 L627.50,590.15 L628.00,589.67 L628.50,589.32 L629.00,589.13 L629.50,589.11 L630.00,589.27 L630.50,589.59 L631.00,590.05 L631.50,590.61 L632.00,591.25 L632.50,591.91 L633.00,592.56 L633.50,593.18 L634.00,593.75 L634.50,594.23 L635.00,594.65 L635.50,594.98 L636.00,595.24 L636.50,595.44 L637.00,595.59 L637.50,595.69 L638.00,595.77 L638.50,595.82 L639.00,595.85 L639.50,595.87" fill="none" stroke="#8fce68" stroke-width="0.85"/>
<path d="M603.00,595.89 L603.50,595.88 L604.00,595.87 L604.50,595.85 L605.00,595.81 L605.50,595.75 L606.00,595.67 L606.50,595.54 L607.00,595.34 L607.50,595.07 L608.00,594.68 L608.50,594.16 L609.00,593.48 L609.50,592.59 L610.00,591.50 L610.50,590.16 L611.00,588.60 L611.50,586.82 L612.00,584.87 L612.50,582.79 L613.00,580.69 L613.50,578.64 L614.00,576.76 L614.50,575.16 L615.00,573.93 L615.50,573.16 L616.00,572.90 L616.50,573.16 L617.00,573.93 L617.50,575.16 L618.00,576.76 L618.50,578.64 L619.00,580.69 L619.50,582.79 L620.00,584.87 L620.50,586.82 L621.00,588.60 L621.50,590.16 L622.00,591.50 L622.50,592.59 L623.00,593.48 L623.50,594.16 L624.00,594.68 L624.50,595.07 L625.00,595.34 L625.50,595.54 L626.00,595.67 L626.50,595.75 L627.00,595.81 L627.50,595.85 L628.00,595.87 L628.50,595.88 L629.00,595.89" fill="none" stroke="#e8cf50" stroke-width="0.85"/>
<path d="M603.00,595.89 L603.50,595.88 L604.00,595.87 L604.50,595.84 L605.00,595.80 L605.50,595.74 L606.00,595.64 L606.50,595.50 L607.00,595.28 L607.50,594.98 L608.00,594.55 L608.50,593.97 L609.00,593.21 L609.50,592.24 L610.00,591.02 L610.50,589.54 L611.00,587.81 L611.50,585.84 L612.00,583.67 L612.50,581.37 L613.00,579.03 L613.50,576.76 L614.00,574.68 L614.50,572.90 L615.00,571.54 L615.50,570.69 L616.00,570.40 L616.50,570.69 L617.00,571.54 L617.50,572.90 L618.00,574.68 L618.50,576.76 L619.00,579.03 L619.50,581.37 L620.00,583.67 L620.50,585.84 L621.00,587.81 L621.50,589.54 L622.00,591.02 L622.50,592.24 L623.00,593.21 L623.50,593.97 L624.00,594.55 L624.50,594.98 L625.00,595.28 L625.50,595.50 L626.00,595.64 L626.50,595.74 L627.00,595.80 L627.50,595.84 L628.00,595.87 L628.50,595.88 L629.00,595.89" fill="none" stroke="#f0a440" stroke-width="0.85"/>
<text x="616.1" y="609.6" font-size="10.76" text-anchor="middle" fill="#1a1a1a" stroke="#1a1a1a" stroke-width="0.18">Quantification</text>
<rect x="0" y="841.25" width="0" height="0" fill="none"/>
<rect x="0" y="858.25" width="0" height="0" fill="none"/>
<rect x="135" y="841.25" width="151" height="8.5" fill="#f2f2f2"/>
<rect x="135" y="858.25" width="151" height="8.5" fill="#f2f2f2"/>
<rect x="142.00" y="701.78" width="5.4" height="128.92" fill="#4682B4"/>
<text x="144.7" y="696.5" font-size="6.3" text-anchor="middle" fill="#1a1a1a" stroke="#1a1a1a" stroke-width="0.18">2899</text>
<rect x="151.47" y="814.11" width="5.4" height="16.59" fill="#4682B4"/>
<text x="154.17" y="808.8" font-size="6.3" text-anchor="middle" fill="#1a1a1a" stroke="#1a1a1a" stroke-width="0.18">373</text>
<rect x="160.94" y="818.60" width="5.4" height="12.10" fill="#4682B4"/>
<text x="163.64" y="813.3" font-size="6.3" text-anchor="middle" fill="#1a1a1a" stroke="#1a1a1a" stroke-width="0.18">272</text>
<rect x="170.41" y="821.05" width="5.4" height="9.65" fill="#4682B4"/>
<text x="173.11" y="815.8" font-size="6.3" text-anchor="middle" fill="#1a1a1a" stroke="#1a1a1a" stroke-width="0.18">217</text>
<rect x="179.88" y="824.25" width="5.4" height="6.45" fill="#4682B4"/>
<text x="182.58" y="819.0" font-size="6.3" text-anchor="middle" fill="#1a1a1a" stroke="#1a1a1a" stroke-width="0.18">145</text>
<rect x="189.35" y="825.41" width="5.4" height="5.29" fill="#4682B4"/>
<text x="192.05" y="820.1" font-size="6.3" text-anchor="middle" fill="#1a1a1a" stroke="#1a1a1a" stroke-width="0.18">119</text>
<rect x="198.82" y="825.72" width="5.4" height="4.98" fill="#4682B4"/>
<text x="201.52" y="820.4" font-size="6.3" text-anchor="middle" fill="#1a1a1a" stroke="#1a1a1a" stroke-width="0.18">112</text>
<rect x="208.29" y="826.83" width="5.4" height="3.87" fill="#4682B4"/>
<text x="210.99" y="821.5" font-size="6.3" text-anchor="middle" fill="#1a1a1a" stroke="#1a1a1a" stroke-width="0.18">87</text>
<rect x="217.76" y="827.05" width="5.4" height="3.65" fill="#4682B4"/>
<text x="220.46" y="821.8" font-size="6.3" text-anchor="middle" fill="#1a1a1a" stroke="#1a1a1a" stroke-width="0.18">82</text>
<rect x="227.23" y="827.99" width="5.4" height="2.71" fill="#4682B4"/>
<text x="229.93" y="822.7" font-size="6.3" text-anchor="middle" fill="#1a1a1a" stroke="#1a1a1a" stroke-width="0.18">61</text>
<rect x="236.70" y="828.79" width="5.4" height="1.91" fill="#4682B4"/>
<text x="239.4" y="823.5" font-size="6.3" text-anchor="middle" fill="#1a1a1a" stroke="#1a1a1a" stroke-width="0.18">43</text>
<rect x="246.17" y="829.37" width="5.4" height="1.33" fill="#4682B4"/>
<text x="248.87" y="824.1" font-size="6.3" text-anchor="middle" fill="#1a1a1a" stroke="#1a1a1a" stroke-width="0.18">30</text>
<rect x="255.64" y="829.45" width="5.4" height="1.25" fill="#4682B4"/>
<text x="258.34" y="824.2" font-size="6.3" text-anchor="middle" fill="#1a1a1a" stroke="#1a1a1a" stroke-width="0.18">28</text>
<rect x="265.11" y="830.43" width="5.4" height="0.27" fill="#4682B4"/>
<text x="267.81" y="825.1" font-size="6.3" text-anchor="middle" fill="#1a1a1a" stroke="#1a1a1a" stroke-width="0.18">6</text>
<rect x="274.58" y="830.43" width="5.4" height="0.27" fill="#4682B4"/>
<text x="277.28" y="825.1" font-size="6.3" text-anchor="middle" fill="#1a1a1a" stroke="#1a1a1a" stroke-width="0.18">6</text>
<line x1="135" y1="681.9" x2="135" y2="831" stroke="#4d4d4d" stroke-width="0.7"/>
<line x1="135" y1="830.9" x2="286" y2="830.9" stroke="#222" stroke-width="0.9"/>
<line x1="133.2" y1="830.70" x2="135" y2="830.70" stroke="#4d4d4d" stroke-width="0.7"/>
<text x="130.3" y="833.1" font-size="7" text-anchor="end" fill="#222" stroke="#222" stroke-width="0.18">0</text>
<line x1="133.2" y1="786.23" x2="135" y2="786.23" stroke="#4d4d4d" stroke-width="0.7"/>
<text x="130.3" y="788.6" font-size="7" text-anchor="end" fill="#222" stroke="#222" stroke-width="0.18">1000</text>
<line x1="133.2" y1="741.76" x2="135" y2="741.76" stroke="#4d4d4d" stroke-width="0.7"/>
<text x="130.3" y="744.2" font-size="7" text-anchor="end" fill="#222" stroke="#222" stroke-width="0.18">2000</text>
<line x1="133.2" y1="697.29" x2="135" y2="697.29" stroke="#4d4d4d" stroke-width="0.7"/>
<text x="130.3" y="699.7" font-size="7" text-anchor="end" fill="#222" stroke="#222" stroke-width="0.18">3000</text>
<text x="83.5" y="759.9" font-size="8.5" text-anchor="middle" fill="#1a1a1a" stroke="#1a1a1a" stroke-width="0.18" transform="rotate(-90 83.5 759.9)">Intersection Size</text>
<line x1="144.70" y1="837.0" x2="144.70" y2="862.5" stroke="#333" stroke-width="1.1"/>
<circle cx="144.70" cy="837.0" r="2.35" fill="#333"/>
<circle cx="144.70" cy="845.5" r="2.35" fill="#333"/>
<circle cx="144.70" cy="854.1" r="2.35" fill="#333"/>
<circle cx="144.70" cy="862.5" r="2.35" fill="#333"/>
<circle cx="154.17" cy="837.0" r="2.35" fill="#e3e3e3"/>
<circle cx="154.17" cy="845.5" r="2.35" fill="#e3e3e3"/>
<circle cx="154.17" cy="854.1" r="2.35" fill="#e3e3e3"/>
<circle cx="154.17" cy="862.5" r="2.35" fill="#333"/>
<circle cx="163.64" cy="837.0" r="2.35" fill="#e3e3e3"/>
<line x1="163.64" y1="845.5" x2="163.64" y2="862.5" stroke="#333" stroke-width="1.1"/>
<circle cx="163.64" cy="845.5" r="2.35" fill="#333"/>
<circle cx="163.64" cy="854.1" r="2.35" fill="#333"/>
<circle cx="163.64" cy="862.5" r="2.35" fill="#333"/>
<circle cx="173.11" cy="837.0" r="2.35" fill="#e3e3e3"/>
<circle cx="173.11" cy="862.5" r="2.35" fill="#e3e3e3"/>
<line x1="173.11" y1="845.5" x2="173.11" y2="854.1" stroke="#333" stroke-width="1.1"/>
<circle cx="173.11" cy="845.5" r="2.35" fill="#333"/>
<circle cx="173.11" cy="854.1" r="2.35" fill="#333"/>
<circle cx="182.58" cy="845.5" r="2.35" fill="#e3e3e3"/>
<circle cx="182.58" cy="854.1" r="2.35" fill="#e3e3e3"/>
<line x1="182.58" y1="837.0" x2="182.58" y2="862.5" stroke="#333" stroke-width="1.1"/>
<circle cx="182.58" cy="837.0" r="2.35" fill="#333"/>
<circle cx="182.58" cy="862.5" r="2.35" fill="#333"/>
<circle cx="192.05" cy="837.0" r="2.35" fill="#e3e3e3"/>
<circle cx="192.05" cy="845.5" r="2.35" fill="#e3e3e3"/>
<circle cx="192.05" cy="862.5" r="2.35" fill="#e3e3e3"/>
<circle cx="192.05" cy="854.1" r="2.35" fill="#333"/>
<circle cx="201.52" cy="837.0" r="2.35" fill="#e3e3e3"/>
<circle cx="201.52" cy="845.5" r="2.35" fill="#e3e3e3"/>
<line x1="201.52" y1="854.1" x2="201.52" y2="862.5" stroke="#333" stroke-width="1.1"/>
<circle cx="201.52" cy="854.1" r="2.35" fill="#333"/>
<circle cx="201.52" cy="862.5" r="2.35" fill="#333"/>
<circle cx="210.99" cy="845.5" r="2.35" fill="#e3e3e3"/>
<circle cx="210.99" cy="854.1" r="2.35" fill="#e3e3e3"/>
<circle cx="210.99" cy="862.5" r="2.35" fill="#e3e3e3"/>
<circle cx="210.99" cy="837.0" r="2.35" fill="#333"/>
<circle cx="220.46" cy="837.0" r="2.35" fill="#e3e3e3"/>
<circle cx="220.46" cy="854.1" r="2.35" fill="#e3e3e3"/>
<circle cx="220.46" cy="862.5" r="2.35" fill="#e3e3e3"/>
<circle cx="220.46" cy="845.5" r="2.35" fill="#333"/>
<circle cx="229.93" cy="845.5" r="2.35" fill="#e3e3e3"/>
<line x1="229.93" y1="837.0" x2="229.93" y2="862.5" stroke="#333" stroke-width="1.1"/>
<circle cx="229.93" cy="837.0" r="2.35" fill="#333"/>
<circle cx="229.93" cy="854.1" r="2.35" fill="#333"/>
<circle cx="229.93" cy="862.5" r="2.35" fill="#333"/>
<circle cx="239.40" cy="862.5" r="2.35" fill="#e3e3e3"/>
<line x1="239.40" y1="837.0" x2="239.40" y2="854.1" stroke="#333" stroke-width="1.1"/>
<circle cx="239.40" cy="837.0" r="2.35" fill="#333"/>
<circle cx="239.40" cy="845.5" r="2.35" fill="#333"/>
<circle cx="239.40" cy="854.1" r="2.35" fill="#333"/>
<circle cx="248.87" cy="854.1" r="2.35" fill="#e3e3e3"/>
<line x1="248.87" y1="837.0" x2="248.87" y2="862.5" stroke="#333" stroke-width="1.1"/>
<circle cx="248.87" cy="837.0" r="2.35" fill="#333"/>
<circle cx="248.87" cy="845.5" r="2.35" fill="#333"/>
<circle cx="248.87" cy="862.5" r="2.35" fill="#333"/>
<circle cx="258.34" cy="837.0" r="2.35" fill="#e3e3e3"/>
<circle cx="258.34" cy="854.1" r="2.35" fill="#e3e3e3"/>
<line x1="258.34" y1="845.5" x2="258.34" y2="862.5" stroke="#333" stroke-width="1.1"/>
<circle cx="258.34" cy="845.5" r="2.35" fill="#333"/>
<circle cx="258.34" cy="862.5" r="2.35" fill="#333"/>
<circle cx="267.81" cy="854.1" r="2.35" fill="#e3e3e3"/>
<circle cx="267.81" cy="862.5" r="2.35" fill="#e3e3e3"/>
<line x1="267.81" y1="837.0" x2="267.81" y2="845.5" stroke="#333" stroke-width="1.1"/>
<circle cx="267.81" cy="837.0" r="2.35" fill="#333"/>
<circle cx="267.81" cy="845.5" r="2.35" fill="#333"/>
<circle cx="277.28" cy="845.5" r="2.35" fill="#e3e3e3"/>
<circle cx="277.28" cy="862.5" r="2.35" fill="#e3e3e3"/>
<line x1="277.28" y1="837.0" x2="277.28" y2="854.1" stroke="#333" stroke-width="1.1"/>
<circle cx="277.28" cy="837.0" r="2.35" fill="#333"/>
<circle cx="277.28" cy="854.1" r="2.35" fill="#333"/>
<rect x="20.02" y="834.85" width="54.68" height="4.3" fill="#4a83bd"/>
<rect x="14.70" y="843.35" width="60.00" height="4.3" fill="#c3d9ec"/>
<rect x="12.54" y="851.95" width="62.16" height="4.3" fill="#f5a9a9"/>
<rect x="9.05" y="860.35" width="65.65" height="4.3" fill="#dd4646"/>
<text x="105.5" y="839.5" font-size="7" text-anchor="middle" fill="#1a1a1a" stroke="#1a1a1a" stroke-width="0.18">45min_insilico</text>
<text x="105.5" y="848.0" font-size="7" text-anchor="middle" fill="#1a1a1a" stroke="#1a1a1a" stroke-width="0.18">45min</text>
<text x="105.5" y="856.6" font-size="7" text-anchor="middle" fill="#1a1a1a" stroke="#1a1a1a" stroke-width="0.18">101min</text>
<text x="105.5" y="865.0" font-size="7" text-anchor="middle" fill="#1a1a1a" stroke="#1a1a1a" stroke-width="0.18">101min_insilico</text>
<line x1="7.6" y1="867.1" x2="75.2" y2="867.1" stroke="#666" stroke-width="1"/>
<line x1="8.2" y1="867.1" x2="8.2" y2="869.6" stroke="#555" stroke-width="0.7"/>
<text x="8.2" y="877.9" font-size="7.4" text-anchor="middle" fill="#222" stroke="#222" stroke-width="0.18">4000</text>
<line x1="24.9" y1="867.1" x2="24.9" y2="869.6" stroke="#555" stroke-width="0.7"/>
<text x="24.9" y="877.9" font-size="7.4" text-anchor="middle" fill="#222" stroke="#222" stroke-width="0.18">3000</text>
<line x1="41.5" y1="867.1" x2="41.5" y2="869.6" stroke="#555" stroke-width="0.7"/>
<text x="41.5" y="877.9" font-size="7.4" text-anchor="middle" fill="#222" stroke="#222" stroke-width="0.18">2000</text>
<line x1="58.1" y1="867.1" x2="58.1" y2="869.6" stroke="#555" stroke-width="0.7"/>
<text x="58.1" y="877.9" font-size="7.4" text-anchor="middle" fill="#222" stroke="#222" stroke-width="0.18">1000</text>
<line x1="74.7" y1="867.1" x2="74.7" y2="869.6" stroke="#555" stroke-width="0.7"/>
<text x="74.7" y="877.9" font-size="7.4" text-anchor="middle" fill="#222" stroke="#222" stroke-width="0.18">0</text>
<text x="42" y="890" font-size="8.5" text-anchor="middle" fill="#1a1a1a" stroke="#1a1a1a" stroke-width="0.18">Set Size</text>
<rect x="356.6" y="696.6" width="135.9" height="11.4" fill="#efefef" stroke="#222" stroke-width="0.9"/>
<text x="424.6" y="704.3" font-size="5.8" text-anchor="middle" fill="#333" stroke="#333" stroke-width="0.18">101min</text>
<rect x="496.5" y="696.6" width="136.0" height="11.4" fill="#efefef" stroke="#222" stroke-width="0.9"/>
<text x="564.5" y="704.3" font-size="5.8" text-anchor="middle" fill="#333" stroke="#333" stroke-width="0.18">101min_insilico</text>
<rect x="356.6" y="779.4" width="135.9" height="10.9" fill="#efefef" stroke="#222" stroke-width="0.9"/>
<text x="424.6" y="786.8" font-size="5.8" text-anchor="middle" fill="#333" stroke="#333" stroke-width="0.18">45min</text>
<rect x="496.5" y="779.4" width="136.0" height="10.9" fill="#efefef" stroke="#222" stroke-width="0.9"/>
<text x="564.5" y="786.8" font-size="5.8" text-anchor="middle" fill="#333" stroke="#333" stroke-width="0.18">45min_insilico</text>
<defs><clipPath id="tails"><rect x="356" y="762" width="300" height="14"/></clipPath></defs>
<path d="M362.80,772.30 C364.72,772.27 370.90,772.33 374.33,772.10 C377.75,771.86 381.00,771.53 383.36,770.89 C385.72,770.25 386.95,769.88 388.49,768.27 C390.02,766.65 391.37,763.90 392.56,761.21 C393.76,758.52 394.64,755.16 395.65,752.13 C396.66,749.11 397.60,745.95 398.62,743.06 C399.63,740.17 400.74,736.94 401.76,734.79 C402.79,732.64 403.94,731.06 404.79,730.15 C405.64,729.24 406.19,729.24 406.89,729.35 C407.59,729.45 408.15,729.85 408.99,730.76 C409.83,731.66 410.77,732.91 411.95,734.79 C413.14,736.67 414.56,739.50 416.09,742.05 C417.62,744.60 419.46,747.76 421.15,750.12 C422.85,752.47 424.40,754.39 426.28,756.17 C428.16,757.95 430.07,759.29 432.45,760.81 C434.84,762.32 437.89,764.00 440.61,765.24 C443.32,766.49 445.70,767.36 448.76,768.27 C451.81,769.17 455.54,770.12 458.94,770.69 C462.35,771.26 464.62,771.44 469.17,771.70 C473.73,771.95 483.45,772.15 486.30,772.24" fill="none" stroke="#25b3a6" stroke-width="1.1" stroke-linejoin="round"/>
<path d="M362.80,772.30 C365.00,772.27 372.13,772.33 375.97,772.09 C379.81,771.85 383.34,771.51 385.83,770.86 C388.33,770.21 389.42,769.83 390.96,768.19 C392.49,766.54 393.84,763.73 395.03,760.98 C396.23,758.24 397.11,754.81 398.12,751.73 C399.13,748.64 400.07,745.42 401.09,742.47 C402.10,739.52 403.21,736.23 404.23,734.03 C405.26,731.84 406.41,730.23 407.26,729.30 C408.11,728.38 408.66,728.38 409.36,728.48 C410.06,728.58 410.62,728.99 411.46,729.92 C412.30,730.84 413.24,732.11 414.42,734.03 C415.61,735.95 417.03,738.83 418.56,741.44 C420.09,744.05 421.93,747.27 423.62,749.67 C425.32,752.07 426.87,754.02 428.75,755.84 C430.63,757.66 432.54,759.03 434.92,760.57 C437.31,762.12 440.36,763.83 443.07,765.10 C445.79,766.37 448.17,767.26 451.23,768.19 C454.28,769.11 458.07,770.07 461.41,770.65 C464.76,771.24 467.17,771.42 471.32,771.68 C475.46,771.95 483.80,772.15 486.30,772.24" fill="none" stroke="#86b830" stroke-width="1.1" stroke-linejoin="round"/>
<path d="M362.80,772.30 C364.79,772.27 371.21,772.33 374.74,772.10 C378.27,771.86 381.59,771.52 383.98,770.88 C386.37,770.24 387.57,769.87 389.11,768.25 C390.64,766.62 391.99,763.85 393.18,761.15 C394.37,758.45 395.26,755.07 396.27,752.03 C397.28,748.99 398.21,745.82 399.23,742.91 C400.25,740.01 401.35,736.76 402.38,734.60 C403.41,732.44 404.55,730.85 405.41,729.94 C406.26,729.03 406.81,729.03 407.51,729.13 C408.21,729.23 408.76,729.64 409.61,730.55 C410.45,731.46 411.39,732.71 412.57,734.60 C413.75,736.49 415.17,739.33 416.71,741.90 C418.24,744.47 420.07,747.64 421.77,750.01 C423.47,752.37 425.01,754.30 426.90,756.09 C428.78,757.88 430.68,759.23 433.07,760.75 C435.46,762.27 438.51,763.96 441.22,765.21 C443.94,766.46 446.32,767.33 449.37,768.25 C452.43,769.16 456.17,770.10 459.56,770.68 C462.95,771.25 465.25,771.43 469.71,771.69 C474.17,771.95 483.53,772.15 486.30,772.24" fill="none" stroke="#1fae74" stroke-width="1.2" stroke-linejoin="round"/>
<path d="M362.80,772.30 C364.93,772.27 371.83,772.33 375.56,772.10 C379.30,771.86 382.75,771.52 385.22,770.87 C387.68,770.23 388.81,769.86 390.34,768.23 C391.87,766.60 393.22,763.81 394.42,761.10 C395.61,758.38 396.49,754.99 397.50,751.93 C398.51,748.87 399.45,745.68 400.47,742.76 C401.49,739.84 402.59,736.58 403.62,734.41 C404.65,732.24 405.79,730.64 406.64,729.73 C407.50,728.81 408.04,728.81 408.74,728.91 C409.44,729.01 410.00,729.42 410.84,730.34 C411.69,731.25 412.62,732.51 413.81,734.41 C414.99,736.31 416.41,739.16 417.94,741.75 C419.48,744.33 421.31,747.52 423.01,749.89 C424.70,752.27 426.25,754.20 428.13,756.00 C430.01,757.80 431.92,759.16 434.31,760.69 C436.69,762.22 439.74,763.91 442.46,765.17 C445.17,766.43 447.55,767.31 450.61,768.23 C453.67,769.14 457.44,770.09 460.80,770.67 C464.16,771.25 466.53,771.43 470.78,771.69 C475.03,771.95 483.71,772.15 486.30,772.24" fill="none" stroke="#22aa6a" stroke-width="1.2" stroke-linejoin="round"/>
<path d="M362.80,772.30 C364.86,772.27 371.52,772.33 375.15,772.10 C378.78,771.87 382.17,771.53 384.60,770.90 C387.03,770.26 388.19,769.89 389.72,768.29 C391.26,766.68 392.60,763.94 393.80,761.26 C394.99,758.59 395.88,755.25 396.89,752.24 C397.89,749.23 398.83,746.08 399.85,743.21 C400.87,740.33 401.97,737.12 403.00,734.98 C404.03,732.84 405.17,731.27 406.03,730.37 C406.88,729.46 407.42,729.46 408.12,729.56 C408.82,729.66 409.38,730.06 410.22,730.97 C411.07,731.87 412.00,733.11 413.19,734.98 C414.37,736.85 415.79,739.66 417.33,742.20 C418.86,744.74 420.69,747.89 422.39,750.23 C424.09,752.57 425.63,754.48 427.51,756.25 C429.40,758.02 431.30,759.36 433.69,760.86 C436.08,762.37 439.12,764.04 441.84,765.28 C444.56,766.51 446.93,767.38 449.99,768.29 C453.05,769.19 456.80,770.13 460.18,770.69 C463.56,771.26 465.89,771.44 470.25,771.70 C474.60,771.96 483.62,772.15 486.30,772.24" fill="none" stroke="#1fae70" stroke-width="1.3" stroke-linejoin="round"/>
<path d="M362.80,772.30 C364.82,772.27 371.36,772.33 374.94,772.10 C378.53,771.86 381.88,771.52 384.29,770.87 C386.70,770.23 387.88,769.86 389.41,768.23 C390.95,766.60 392.30,763.81 393.49,761.10 C394.68,758.38 395.57,754.99 396.58,751.93 C397.59,748.87 398.52,745.68 399.54,742.76 C400.56,739.84 401.66,736.58 402.69,734.41 C403.72,732.24 404.86,730.64 405.72,729.73 C406.57,728.81 407.12,728.81 407.82,728.91 C408.52,729.01 409.07,729.42 409.92,730.34 C410.76,731.25 411.70,732.51 412.88,734.41 C414.06,736.31 415.48,739.16 417.02,741.75 C418.55,744.33 420.38,747.52 422.08,749.89 C423.78,752.27 425.32,754.20 427.21,756.00 C429.09,757.80 430.99,759.16 433.38,760.69 C435.77,762.22 438.81,763.91 441.53,765.17 C444.25,766.43 446.63,767.31 449.68,768.23 C452.74,769.14 456.49,770.09 459.87,770.67 C463.25,771.25 465.57,771.43 469.98,771.69 C474.38,771.95 483.58,772.15 486.30,772.24" fill="none" stroke="#24ab68" stroke-width="1.0" stroke-linejoin="round"/>
<g clip-path="url(#tails)"><path d="M362.80,772.30 C364.82,772.27 371.36,772.33 374.94,772.10 C378.53,771.86 381.88,771.53 384.29,770.89 C386.70,770.25 387.88,769.88 389.41,768.27 C390.95,766.65 392.30,763.90 393.49,761.21 C394.68,758.52 395.57,755.16 396.58,752.13 C397.59,749.11 398.52,745.95 399.54,743.06 C400.56,740.17 401.66,736.94 402.69,734.79 C403.72,732.64 404.86,731.06 405.72,730.15 C406.57,729.24 407.12,729.24 407.82,729.35 C408.52,729.45 409.07,729.85 409.92,730.76 C410.76,731.66 411.70,732.91 412.88,734.79 C414.06,736.67 415.48,739.50 417.02,742.05 C418.55,744.60 420.38,747.76 422.08,750.12 C423.78,752.47 425.32,754.39 427.21,756.17 C429.09,757.95 430.99,759.29 433.38,760.81 C435.77,762.32 438.81,764.00 441.53,765.24 C444.25,766.49 446.63,767.36 449.68,768.27 C452.74,769.17 456.49,770.12 459.87,770.69 C463.25,771.26 465.57,771.44 469.98,771.70 C474.38,771.95 483.58,772.15 486.30,772.24" fill="none" stroke="#22b19c" stroke-width="1.1"/></g>
<path d="M502.40,772.30 C504.63,772.27 511.90,772.33 515.80,772.10 C519.70,771.86 523.26,771.53 525.78,770.89 C528.30,770.25 529.38,769.88 530.91,768.27 C532.45,766.65 533.80,763.90 534.99,761.21 C536.19,758.52 537.08,755.16 538.09,752.13 C539.10,749.11 540.04,745.95 541.06,743.06 C542.08,740.17 543.18,736.94 544.21,734.79 C545.24,732.64 546.39,731.06 547.24,730.15 C548.10,729.24 548.64,729.24 549.34,729.35 C550.05,729.45 550.60,729.85 551.45,730.76 C552.29,731.66 553.23,732.91 554.42,734.79 C555.60,736.67 557.02,739.50 558.56,742.05 C560.10,744.60 561.93,747.76 563.63,750.12 C565.33,752.47 566.88,754.39 568.77,756.17 C570.65,757.95 572.56,759.29 574.95,760.81 C577.34,762.32 580.39,764.00 583.11,765.24 C585.84,766.49 588.22,767.36 591.28,768.27 C594.34,769.17 598.14,770.12 601.48,770.69 C604.83,771.26 607.26,771.44 611.36,771.70 C615.46,771.95 623.64,772.15 626.10,772.24" fill="none" stroke="#25b3a6" stroke-width="1.1" stroke-linejoin="round"/>
<path d="M502.40,772.30 C504.91,772.27 513.14,772.33 517.45,772.09 C521.76,771.85 525.60,771.51 528.25,770.86 C530.91,770.21 531.85,769.83 533.39,768.19 C534.92,766.54 536.27,763.73 537.47,760.98 C538.66,758.24 539.55,754.81 540.56,751.73 C541.57,748.64 542.51,745.42 543.53,742.47 C544.55,739.52 545.65,736.23 546.68,734.03 C547.72,731.84 548.86,730.23 549.72,729.30 C550.57,728.38 551.12,728.38 551.82,728.48 C552.52,728.58 553.08,728.99 553.92,729.92 C554.77,730.84 555.70,732.11 556.89,734.03 C558.08,735.95 559.50,738.83 561.03,741.44 C562.57,744.05 564.40,747.27 566.11,749.67 C567.81,752.07 569.35,754.02 571.24,755.84 C573.13,757.66 575.03,759.03 577.42,760.57 C579.82,762.12 582.87,763.83 585.59,765.10 C588.31,766.37 590.69,767.26 593.75,768.19 C596.81,769.11 600.67,770.07 603.96,770.65 C607.25,771.24 609.81,771.42 613.50,771.68 C617.19,771.95 624.00,772.15 626.10,772.24" fill="none" stroke="#86b830" stroke-width="1.1" stroke-linejoin="round"/>
<path d="M502.40,772.30 C504.70,772.27 512.21,772.33 516.21,772.10 C520.21,771.86 523.84,771.52 526.40,770.88 C528.95,770.24 530.00,769.87 531.53,768.25 C533.07,766.62 534.42,763.85 535.61,761.15 C536.81,758.45 537.70,755.07 538.71,752.03 C539.72,748.99 540.65,745.82 541.67,742.91 C542.70,740.01 543.80,736.76 544.83,734.60 C545.86,732.44 547.00,730.85 547.86,729.94 C548.72,729.03 549.26,729.03 549.96,729.13 C550.66,729.23 551.22,729.64 552.07,730.55 C552.91,731.46 553.85,732.71 555.03,734.60 C556.22,736.49 557.64,739.33 559.18,741.90 C560.71,744.47 562.55,747.64 564.25,750.01 C565.95,752.37 567.50,754.30 569.38,756.09 C571.27,757.88 573.18,759.23 575.57,760.75 C577.96,762.27 581.01,763.96 583.73,765.21 C586.45,766.46 588.84,767.33 591.90,768.25 C594.96,769.16 598.77,770.10 602.10,770.68 C605.44,771.25 607.90,771.43 611.90,771.69 C615.89,771.95 623.73,772.15 626.10,772.24" fill="none" stroke="#1fae74" stroke-width="1.2" stroke-linejoin="round"/>
<path d="M502.40,772.30 C504.84,772.27 512.83,772.33 517.04,772.10 C521.24,771.86 525.01,771.52 527.63,770.87 C530.26,770.23 531.23,769.86 532.77,768.23 C534.30,766.60 535.65,763.81 536.85,761.10 C538.05,758.38 538.93,754.99 539.94,751.93 C540.95,748.87 541.89,745.68 542.91,742.76 C543.93,739.84 545.04,736.58 546.07,734.41 C547.10,732.24 548.24,730.64 549.10,729.73 C549.95,728.81 550.50,728.81 551.20,728.91 C551.90,729.01 552.46,729.42 553.30,730.34 C554.15,731.25 555.09,732.51 556.27,734.41 C557.46,736.31 558.88,739.16 560.42,741.75 C561.95,744.33 563.79,747.52 565.49,749.89 C567.19,752.27 568.73,754.20 570.62,756.00 C572.51,757.80 574.41,759.16 576.81,760.69 C579.20,762.22 582.25,763.91 584.97,765.17 C587.69,766.43 590.07,767.31 593.13,768.23 C596.20,769.14 600.03,770.09 603.34,770.67 C606.64,771.25 609.17,771.43 612.97,771.69 C616.76,771.95 623.91,772.15 626.10,772.24" fill="none" stroke="#22aa6a" stroke-width="1.2" stroke-linejoin="round"/>
<path d="M502.40,772.30 C504.77,772.27 512.52,772.33 516.63,772.10 C520.73,771.87 524.43,771.53 527.02,770.90 C529.60,770.26 530.61,769.89 532.15,768.29 C533.69,766.68 535.04,763.94 536.23,761.26 C537.43,758.59 538.31,755.25 539.32,752.24 C540.33,749.23 541.27,746.08 542.29,743.21 C543.31,740.33 544.42,737.12 545.45,734.98 C546.48,732.84 547.62,731.27 548.48,730.37 C549.33,729.46 549.88,729.46 550.58,729.56 C551.28,729.66 551.84,730.06 552.68,730.97 C553.53,731.87 554.47,733.11 555.65,734.98 C556.84,736.85 558.26,739.66 559.80,742.20 C561.33,744.74 563.17,747.89 564.87,750.23 C566.57,752.57 568.12,754.48 570.00,756.25 C571.89,758.02 573.80,759.36 576.19,760.86 C578.58,762.37 581.63,764.04 584.35,765.28 C587.07,766.51 589.45,767.38 592.52,768.29 C595.58,769.19 599.40,770.13 602.72,770.69 C606.04,771.26 608.53,771.44 612.43,771.70 C616.33,771.96 623.82,772.15 626.10,772.24" fill="none" stroke="#1fae70" stroke-width="1.3" stroke-linejoin="round"/>
<path d="M502.40,772.30 C504.74,772.27 512.37,772.33 516.42,772.10 C520.47,771.86 524.14,771.52 526.71,770.87 C529.28,770.23 530.30,769.86 531.84,768.23 C533.38,766.60 534.73,763.81 535.92,761.10 C537.12,758.38 538.00,754.99 539.02,751.93 C540.03,748.87 540.96,745.68 541.98,742.76 C543.00,739.84 544.11,736.58 545.14,734.41 C546.17,732.24 547.31,730.64 548.17,729.73 C549.02,728.81 549.57,728.81 550.27,728.91 C550.97,729.01 551.53,729.42 552.37,730.34 C553.22,731.25 554.16,732.51 555.34,734.41 C556.53,736.31 557.95,739.16 559.49,741.75 C561.02,744.33 562.86,747.52 564.56,749.89 C566.26,752.27 567.81,754.20 569.69,756.00 C571.58,757.80 573.49,759.16 575.88,760.69 C578.27,762.22 581.32,763.91 584.04,765.17 C586.76,766.43 589.14,767.31 592.21,768.23 C595.27,769.14 599.09,770.09 602.41,770.67 C605.74,771.25 608.22,771.43 612.16,771.69 C616.11,771.95 623.78,772.15 626.10,772.24" fill="none" stroke="#24ab68" stroke-width="1.0" stroke-linejoin="round"/>
<g clip-path="url(#tails)"><path d="M502.40,772.30 C504.74,772.27 512.37,772.33 516.42,772.10 C520.47,771.86 524.14,771.53 526.71,770.89 C529.28,770.25 530.30,769.88 531.84,768.27 C533.38,766.65 534.73,763.90 535.92,761.21 C537.12,758.52 538.00,755.16 539.02,752.13 C540.03,749.11 540.96,745.95 541.98,743.06 C543.00,740.17 544.11,736.94 545.14,734.79 C546.17,732.64 547.31,731.06 548.17,730.15 C549.02,729.24 549.57,729.24 550.27,729.35 C550.97,729.45 551.53,729.85 552.37,730.76 C553.22,731.66 554.16,732.91 555.34,734.79 C556.53,736.67 557.95,739.50 559.49,742.05 C561.02,744.60 562.86,747.76 564.56,750.12 C566.26,752.47 567.81,754.39 569.69,756.17 C571.58,757.95 573.49,759.29 575.88,760.81 C578.27,762.32 581.32,764.00 584.04,765.24 C586.76,766.49 589.14,767.36 592.21,768.27 C595.27,769.17 599.09,770.12 602.41,770.69 C605.74,771.26 608.22,771.44 612.16,771.70 C616.11,771.95 623.78,772.15 626.10,772.24" fill="none" stroke="#22b19c" stroke-width="1.1"/></g>
<path d="M362.80,855.10 C364.98,855.06 372.07,855.14 375.89,854.88 C379.71,854.63 383.22,854.27 385.71,853.59 C388.20,852.91 389.30,852.52 390.83,850.80 C392.37,849.07 393.72,846.13 394.91,843.26 C396.10,840.39 396.99,836.80 398.00,833.58 C399.01,830.35 399.94,826.97 400.96,823.89 C401.98,820.80 403.08,817.36 404.11,815.06 C405.14,812.77 406.28,811.08 407.14,810.11 C407.99,809.14 408.54,809.14 409.24,809.25 C409.94,809.36 410.49,809.79 411.34,810.76 C412.18,811.73 413.12,813.05 414.30,815.06 C415.48,817.07 416.90,820.09 418.44,822.81 C419.97,825.54 421.80,828.91 423.50,831.42 C425.20,833.93 426.74,835.98 428.63,837.88 C430.51,839.78 432.41,841.39 434.80,842.83 C437.19,844.27 440.23,845.21 442.95,846.51 C445.67,847.82 448.05,849.49 451.10,850.64 C454.16,851.78 457.94,852.74 461.29,853.38 C464.64,854.01 467.04,854.18 471.21,854.45 C475.38,854.73 483.78,854.94 486.30,855.04" fill="none" stroke="#8c84ee" stroke-width="1.2" stroke-linejoin="round"/>
<path d="M362.80,855.10 C364.91,855.06 371.76,855.14 375.48,854.88 C379.19,854.63 382.64,854.27 385.09,853.58 C387.55,852.89 388.68,852.49 390.22,850.75 C391.75,849.02 393.10,846.05 394.29,843.15 C395.49,840.25 396.37,836.63 397.38,833.37 C398.39,830.11 399.33,826.71 400.34,823.59 C401.36,820.48 402.46,817.00 403.49,814.68 C404.52,812.36 405.66,810.66 406.52,809.68 C407.37,808.71 407.92,808.71 408.62,808.82 C409.32,808.92 409.87,809.36 410.72,810.34 C411.56,811.31 412.50,812.65 413.68,814.68 C414.87,816.71 416.29,819.75 417.82,822.50 C419.35,825.26 421.18,828.66 422.88,831.20 C424.58,833.73 426.12,835.80 428.01,837.72 C429.89,839.64 431.80,841.26 434.18,842.71 C436.57,844.17 439.62,845.13 442.33,846.44 C445.05,847.76 447.43,849.44 450.49,850.60 C453.54,851.75 457.31,852.72 460.67,853.36 C464.04,854.00 466.40,854.17 470.67,854.45 C474.94,854.73 483.70,854.94 486.30,855.03" fill="none" stroke="#9a86ec" stroke-width="1.1" stroke-linejoin="round"/>
<path d="M362.80,855.10 C364.72,855.07 370.90,855.13 374.33,854.89 C377.75,854.65 381.00,854.30 383.36,853.64 C385.72,852.97 386.95,852.59 388.49,850.92 C390.02,849.25 391.37,846.39 392.56,843.60 C393.76,840.81 394.64,837.33 395.65,834.19 C396.66,831.05 397.60,827.78 398.62,824.78 C399.63,821.78 400.74,818.44 401.76,816.21 C402.79,813.98 403.94,812.34 404.79,811.40 C405.64,810.46 406.19,810.46 406.89,810.56 C407.59,810.67 408.15,811.08 408.99,812.03 C409.83,812.97 410.77,814.26 411.95,816.21 C413.14,818.16 414.56,821.09 416.09,823.74 C417.62,826.38 419.46,829.66 421.15,832.10 C422.85,834.54 424.40,836.52 426.28,838.37 C428.16,840.22 430.07,841.79 432.45,843.18 C434.84,844.57 437.89,845.47 440.61,846.73 C443.32,847.99 445.70,849.65 448.76,850.76 C451.81,851.88 455.54,852.81 458.94,853.43 C462.35,854.05 464.62,854.20 469.17,854.47 C473.73,854.74 483.45,854.94 486.30,855.04" fill="none" stroke="#e46fbc" stroke-width="1.2" stroke-linejoin="round"/>
<path d="M362.80,855.10 C364.80,855.06 371.27,855.14 374.82,854.89 C378.37,854.64 381.70,854.29 384.10,853.62 C386.51,852.95 387.70,852.57 389.23,850.88 C390.76,849.19 392.11,846.30 393.30,843.49 C394.50,840.67 395.38,837.15 396.39,833.99 C397.40,830.82 398.34,827.51 399.36,824.48 C400.37,821.46 401.48,818.08 402.51,815.83 C403.53,813.57 404.68,811.92 405.53,810.97 C406.39,810.02 406.93,810.02 407.63,810.13 C408.33,810.23 408.89,810.65 409.73,811.60 C410.57,812.55 411.51,813.86 412.69,815.83 C413.88,817.80 415.30,820.75 416.83,823.43 C418.36,826.10 420.20,829.41 421.89,831.87 C423.59,834.34 425.14,836.34 427.02,838.21 C428.90,840.07 430.81,841.66 433.20,843.06 C435.58,844.47 438.63,845.38 441.35,846.66 C444.06,847.93 446.44,849.60 449.50,850.72 C452.55,851.85 456.30,852.79 459.69,853.41 C463.07,854.04 465.38,854.20 469.82,854.47 C474.25,854.74 483.55,854.94 486.30,855.04" fill="none" stroke="#e26cb8" stroke-width="1.2" stroke-linejoin="round"/>
<path d="M362.80,855.10 C364.89,855.07 371.67,855.13 375.36,854.89 C379.04,854.65 382.46,854.31 384.91,853.65 C387.35,852.99 388.50,852.62 390.03,850.96 C391.57,849.30 392.91,846.47 394.11,843.71 C395.30,840.95 396.19,837.50 397.19,834.39 C398.20,831.29 399.14,828.05 400.16,825.08 C401.18,822.11 402.28,818.80 403.31,816.59 C404.34,814.38 405.48,812.76 406.33,811.83 C407.19,810.89 407.73,810.89 408.43,811.00 C409.13,811.10 409.69,811.52 410.53,812.45 C411.38,813.38 412.31,814.66 413.50,816.59 C414.68,818.52 416.10,821.42 417.63,824.04 C419.17,826.67 421.00,829.91 422.70,832.32 C424.40,834.74 425.94,836.71 427.82,838.54 C429.71,840.36 431.61,841.92 434.00,843.30 C436.39,844.68 439.43,845.55 442.15,846.80 C444.87,848.05 447.24,849.70 450.30,850.80 C453.36,851.91 457.12,852.83 460.49,853.44 C463.86,854.06 466.21,854.21 470.51,854.48 C474.81,854.74 483.67,854.94 486.30,855.04" fill="none" stroke="#e272b9" stroke-width="1.3" stroke-linejoin="round"/>
<path d="M362.80,855.10 C364.96,855.07 371.98,855.13 375.77,854.89 C379.55,854.66 383.04,854.31 385.52,853.67 C388.00,853.02 389.12,852.64 390.65,851.00 C392.18,849.36 393.53,846.56 394.72,843.83 C395.92,841.09 396.80,837.68 397.81,834.60 C398.82,831.52 399.76,828.31 400.78,825.38 C401.80,822.44 402.90,819.16 403.93,816.97 C404.95,814.78 406.10,813.18 406.95,812.25 C407.81,811.33 408.35,811.33 409.05,811.44 C409.75,811.54 410.31,811.95 411.15,812.87 C411.99,813.79 412.93,815.06 414.11,816.97 C415.30,818.88 416.72,821.75 418.25,824.35 C419.78,826.95 421.62,830.16 423.31,832.55 C425.01,834.94 426.56,836.89 428.44,838.70 C430.32,840.51 432.23,842.05 434.62,843.42 C437.00,844.78 440.05,845.64 442.77,846.87 C445.48,848.11 447.86,849.75 450.92,850.84 C453.97,851.94 457.75,852.85 461.11,853.46 C464.46,854.07 466.85,854.22 471.05,854.49 C475.25,854.75 483.76,854.95 486.30,855.04" fill="none" stroke="#de6cb4" stroke-width="1.1" stroke-linejoin="round"/>
<path d="M502.40,855.10 C504.89,855.06 513.08,855.14 517.37,854.88 C521.66,854.63 525.48,854.27 528.13,853.59 C530.78,852.91 531.73,852.52 533.26,850.80 C534.80,849.07 536.15,846.13 537.35,843.26 C538.54,840.39 539.43,836.80 540.44,833.58 C541.45,830.35 542.39,826.97 543.41,823.89 C544.43,820.80 545.53,817.36 546.56,815.06 C547.59,812.77 548.74,811.08 549.59,810.11 C550.45,809.14 550.99,809.14 551.69,809.25 C552.40,809.36 552.95,809.79 553.80,810.76 C554.64,811.73 555.58,813.05 556.77,815.06 C557.95,817.07 559.37,820.09 560.91,822.81 C562.45,825.54 564.28,828.91 565.98,831.42 C567.68,833.93 569.23,835.98 571.12,837.88 C573.00,839.78 574.91,841.39 577.30,842.83 C579.69,844.27 582.74,845.21 585.46,846.51 C588.19,847.82 590.57,849.49 593.63,850.64 C596.69,851.78 600.54,852.74 603.83,853.38 C607.13,854.01 609.69,854.18 613.40,854.45 C617.11,854.73 623.98,854.94 626.10,855.04" fill="none" stroke="#8c84ee" stroke-width="1.2" stroke-linejoin="round"/>
<path d="M502.40,855.10 C504.83,855.06 512.77,855.14 516.96,854.88 C521.14,854.63 524.90,854.27 527.51,853.58 C530.13,852.89 531.11,852.49 532.64,850.75 C534.18,849.02 535.53,846.05 536.73,843.15 C537.92,840.25 538.81,836.63 539.82,833.37 C540.83,830.11 541.77,826.71 542.79,823.59 C543.81,820.48 544.91,817.00 545.94,814.68 C546.97,812.36 548.12,810.66 548.97,809.68 C549.83,808.71 550.37,808.71 551.08,808.82 C551.78,808.92 552.33,809.36 553.18,810.34 C554.02,811.31 554.96,812.65 556.15,814.68 C557.33,816.71 558.76,819.75 560.29,822.50 C561.83,825.26 563.66,828.66 565.36,831.20 C567.06,833.73 568.61,835.80 570.50,837.72 C572.38,839.64 574.29,841.26 576.68,842.71 C579.07,844.17 582.12,845.13 584.85,846.44 C587.57,847.76 589.95,849.44 593.01,850.60 C596.07,851.75 599.91,852.72 603.22,853.36 C606.52,854.00 609.05,854.17 612.86,854.45 C616.67,854.73 623.89,854.94 626.10,855.03" fill="none" stroke="#9a86ec" stroke-width="1.1" stroke-linejoin="round"/>
<path d="M502.40,855.10 C504.63,855.07 511.90,855.13 515.80,854.89 C519.70,854.65 523.26,854.30 525.78,853.64 C528.30,852.97 529.38,852.59 530.91,850.92 C532.45,849.25 533.80,846.39 534.99,843.60 C536.19,840.81 537.08,837.33 538.09,834.19 C539.10,831.05 540.04,827.78 541.06,824.78 C542.08,821.78 543.18,818.44 544.21,816.21 C545.24,813.98 546.39,812.34 547.24,811.40 C548.10,810.46 548.64,810.46 549.34,810.56 C550.05,810.67 550.60,811.08 551.45,812.03 C552.29,812.97 553.23,814.26 554.42,816.21 C555.60,818.16 557.02,821.09 558.56,823.74 C560.10,826.38 561.93,829.66 563.63,832.10 C565.33,834.54 566.88,836.52 568.77,838.37 C570.65,840.22 572.56,841.79 574.95,843.18 C577.34,844.57 580.39,845.47 583.11,846.73 C585.84,847.99 588.22,849.65 591.28,850.76 C594.34,851.88 598.14,852.81 601.48,853.43 C604.83,854.05 607.26,854.20 611.36,854.47 C615.46,854.74 623.64,854.94 626.10,855.04" fill="none" stroke="#e46fbc" stroke-width="1.2" stroke-linejoin="round"/>
<path d="M502.40,855.10 C504.72,855.06 512.28,855.14 516.30,854.89 C520.32,854.64 523.96,854.29 526.52,853.62 C529.08,852.95 530.12,852.57 531.66,850.88 C533.19,849.19 534.54,846.30 535.74,843.49 C536.93,840.67 537.82,837.15 538.83,833.99 C539.84,830.82 540.78,827.51 541.80,824.48 C542.82,821.46 543.92,818.08 544.95,815.83 C545.98,813.57 547.13,811.92 547.98,810.97 C548.84,810.02 549.39,810.02 550.09,810.13 C550.79,810.23 551.34,810.65 552.19,811.60 C553.03,812.55 553.97,813.86 555.16,815.83 C556.34,817.80 557.77,820.75 559.30,823.43 C560.84,826.10 562.67,829.41 564.37,831.87 C566.07,834.34 567.62,836.34 569.51,838.21 C571.39,840.07 573.30,841.66 575.69,843.06 C578.08,844.47 581.14,845.38 583.86,846.66 C586.58,847.93 588.96,849.60 592.02,850.72 C595.08,851.85 598.90,852.79 602.23,853.41 C605.56,854.04 608.02,854.20 612.00,854.47 C615.98,854.74 623.75,854.94 626.10,855.04" fill="none" stroke="#e26cb8" stroke-width="1.2" stroke-linejoin="round"/>
<path d="M502.40,855.10 C504.81,855.07 512.68,855.13 516.83,854.89 C520.99,854.65 524.72,854.31 527.33,853.65 C529.93,852.99 530.92,852.62 532.46,850.96 C534.00,849.30 535.35,846.47 536.54,843.71 C537.74,840.95 538.62,837.50 539.63,834.39 C540.64,831.29 541.58,828.05 542.60,825.08 C543.62,822.11 544.73,818.80 545.76,816.59 C546.79,814.38 547.93,812.76 548.79,811.83 C549.64,810.89 550.19,810.89 550.89,811.00 C551.59,811.10 552.15,811.52 552.99,812.45 C553.84,813.38 554.78,814.66 555.96,816.59 C557.15,818.52 558.57,821.42 560.11,824.04 C561.64,826.67 563.48,829.91 565.18,832.32 C566.88,834.74 568.42,836.71 570.31,838.54 C572.20,840.36 574.10,841.92 576.50,843.30 C578.89,844.68 581.94,845.55 584.66,846.80 C587.38,848.05 589.76,849.70 592.82,850.80 C595.89,851.91 599.72,852.83 603.03,853.44 C606.34,854.06 608.85,854.21 612.70,854.48 C616.54,854.74 623.87,854.94 626.10,855.04" fill="none" stroke="#e272b9" stroke-width="1.3" stroke-linejoin="round"/>
<path d="M502.40,855.10 C504.87,855.07 512.99,855.13 517.24,854.89 C521.50,854.66 525.31,854.31 527.94,853.67 C530.58,853.02 531.54,852.64 533.08,851.00 C534.61,849.36 535.96,846.56 537.16,843.83 C538.36,841.09 539.24,837.68 540.25,834.60 C541.26,831.52 542.20,828.31 543.22,825.38 C544.24,822.44 545.34,819.16 546.38,816.97 C547.41,814.78 548.55,813.18 549.41,812.25 C550.26,811.33 550.81,811.33 551.51,811.44 C552.21,811.54 552.77,811.95 553.61,812.87 C554.46,813.79 555.40,815.06 556.58,816.97 C557.77,818.88 559.19,821.75 560.72,824.35 C562.26,826.95 564.10,830.16 565.80,832.55 C567.50,834.94 569.04,836.89 570.93,838.70 C572.82,840.51 574.72,842.05 577.11,843.42 C579.51,844.78 582.56,845.64 585.28,846.87 C588.00,848.11 590.38,849.75 593.44,850.84 C596.50,851.94 600.35,852.85 603.65,853.46 C606.95,854.07 609.49,854.22 613.24,854.49 C616.98,854.75 623.96,854.95 626.10,855.04" fill="none" stroke="#de6cb4" stroke-width="1.1" stroke-linejoin="round"/>
<line x1="356.6" y1="708.0" x2="356.6" y2="775.5" stroke="#222" stroke-width="0.8"/>
<line x1="356.6" y1="790.3" x2="356.6" y2="858" stroke="#222" stroke-width="0.8"/>
<line x1="356.6" y1="857.9" x2="492.4" y2="857.9" stroke="#222" stroke-width="0.8"/>
<line x1="496.5" y1="857.9" x2="632.5" y2="857.9" stroke="#222" stroke-width="0.8"/>
<line x1="354.8" y1="772.30" x2="356.6" y2="772.30" stroke="#222" stroke-width="0.7"/>
<text x="353.6" y="775.0" font-size="7.5" text-anchor="end" fill="#222" stroke="#222" stroke-width="0.18">0.0</text>
<line x1="354.8" y1="751.93" x2="356.6" y2="751.93" stroke="#222" stroke-width="0.7"/>
<text x="353.6" y="754.6" font-size="7.5" text-anchor="end" fill="#222" stroke="#222" stroke-width="0.18">0.1</text>
<line x1="354.8" y1="731.56" x2="356.6" y2="731.56" stroke="#222" stroke-width="0.7"/>
<text x="353.6" y="734.3" font-size="7.5" text-anchor="end" fill="#222" stroke="#222" stroke-width="0.18">0.2</text>
<line x1="354.8" y1="711.19" x2="356.6" y2="711.19" stroke="#222" stroke-width="0.7"/>
<text x="353.6" y="713.9" font-size="7.5" text-anchor="end" fill="#222" stroke="#222" stroke-width="0.18">0.3</text>
<line x1="354.8" y1="855.10" x2="356.6" y2="855.10" stroke="#222" stroke-width="0.7"/>
<text x="353.6" y="857.8" font-size="7.5" text-anchor="end" fill="#222" stroke="#222" stroke-width="0.18">0.0</text>
<line x1="354.8" y1="834.60" x2="356.6" y2="834.60" stroke="#222" stroke-width="0.7"/>
<text x="353.6" y="837.3" font-size="7.5" text-anchor="end" fill="#222" stroke="#222" stroke-width="0.18">0.1</text>
<line x1="354.8" y1="814.10" x2="356.6" y2="814.10" stroke="#222" stroke-width="0.7"/>
<text x="353.6" y="816.8" font-size="7.5" text-anchor="end" fill="#222" stroke="#222" stroke-width="0.18">0.2</text>
<line x1="354.8" y1="793.60" x2="356.6" y2="793.60" stroke="#222" stroke-width="0.7"/>
<text x="353.6" y="796.3" font-size="7.5" text-anchor="end" fill="#222" stroke="#222" stroke-width="0.18">0.3</text>
<line x1="362.80" y1="857.9" x2="362.80" y2="859.7" stroke="#222" stroke-width="0.7"/>
<text x="362.8" y="866.4" font-size="7.5" text-anchor="middle" fill="#222" stroke="#222" stroke-width="0.18">5</text>
<line x1="393.68" y1="857.9" x2="393.68" y2="859.7" stroke="#222" stroke-width="0.7"/>
<text x="393.68" y="866.4" font-size="7.5" text-anchor="middle" fill="#222" stroke="#222" stroke-width="0.18">10</text>
<line x1="424.55" y1="857.9" x2="424.55" y2="859.7" stroke="#222" stroke-width="0.7"/>
<text x="424.55" y="866.4" font-size="7.5" text-anchor="middle" fill="#222" stroke="#222" stroke-width="0.18">15</text>
<line x1="455.43" y1="857.9" x2="455.43" y2="859.7" stroke="#222" stroke-width="0.7"/>
<text x="455.43" y="866.4" font-size="7.5" text-anchor="middle" fill="#222" stroke="#222" stroke-width="0.18">20</text>
<line x1="486.30" y1="857.9" x2="486.30" y2="859.7" stroke="#222" stroke-width="0.7"/>
<text x="486.3" y="866.4" font-size="7.5" text-anchor="middle" fill="#222" stroke="#222" stroke-width="0.18">25</text>
<line x1="502.40" y1="857.9" x2="502.40" y2="859.7" stroke="#222" stroke-width="0.7"/>
<text x="502.4" y="866.4" font-size="7.5" text-anchor="middle" fill="#222" stroke="#222" stroke-width="0.18">5</text>
<line x1="533.32" y1="857.9" x2="533.32" y2="859.7" stroke="#222" stroke-width="0.7"/>
<text x="533.32" y="866.4" font-size="7.5" text-anchor="middle" fill="#222" stroke="#222" stroke-width="0.18">10</text>
<line x1="564.25" y1="857.9" x2="564.25" y2="859.7" stroke="#222" stroke-width="0.7"/>
<text x="564.25" y="866.4" font-size="7.5" text-anchor="middle" fill="#222" stroke="#222" stroke-width="0.18">15</text>
<line x1="595.17" y1="857.9" x2="595.17" y2="859.7" stroke="#222" stroke-width="0.7"/>
<text x="595.17" y="866.4" font-size="7.5" text-anchor="middle" fill="#222" stroke="#222" stroke-width="0.18">20</text>
<line x1="626.10" y1="857.9" x2="626.10" y2="859.7" stroke="#222" stroke-width="0.7"/>
<text x="626.1" y="866.4" font-size="7.5" text-anchor="middle" fill="#222" stroke="#222" stroke-width="0.18">25</text>
<text x="339.6" y="783" font-size="7.5" text-anchor="middle" fill="#1a1a1a" stroke="#1a1a1a" stroke-width="0.18" transform="rotate(-90 339.6 783)">Density</text>
<text x="471.8" y="876.3" font-size="7.4" fill="#1a1a1a">log<tspan font-size="5.2" dy="1.6">2</tspan><tspan dy="-1.6">(Intensity)</tspan></text>
</svg>
</body></html>
